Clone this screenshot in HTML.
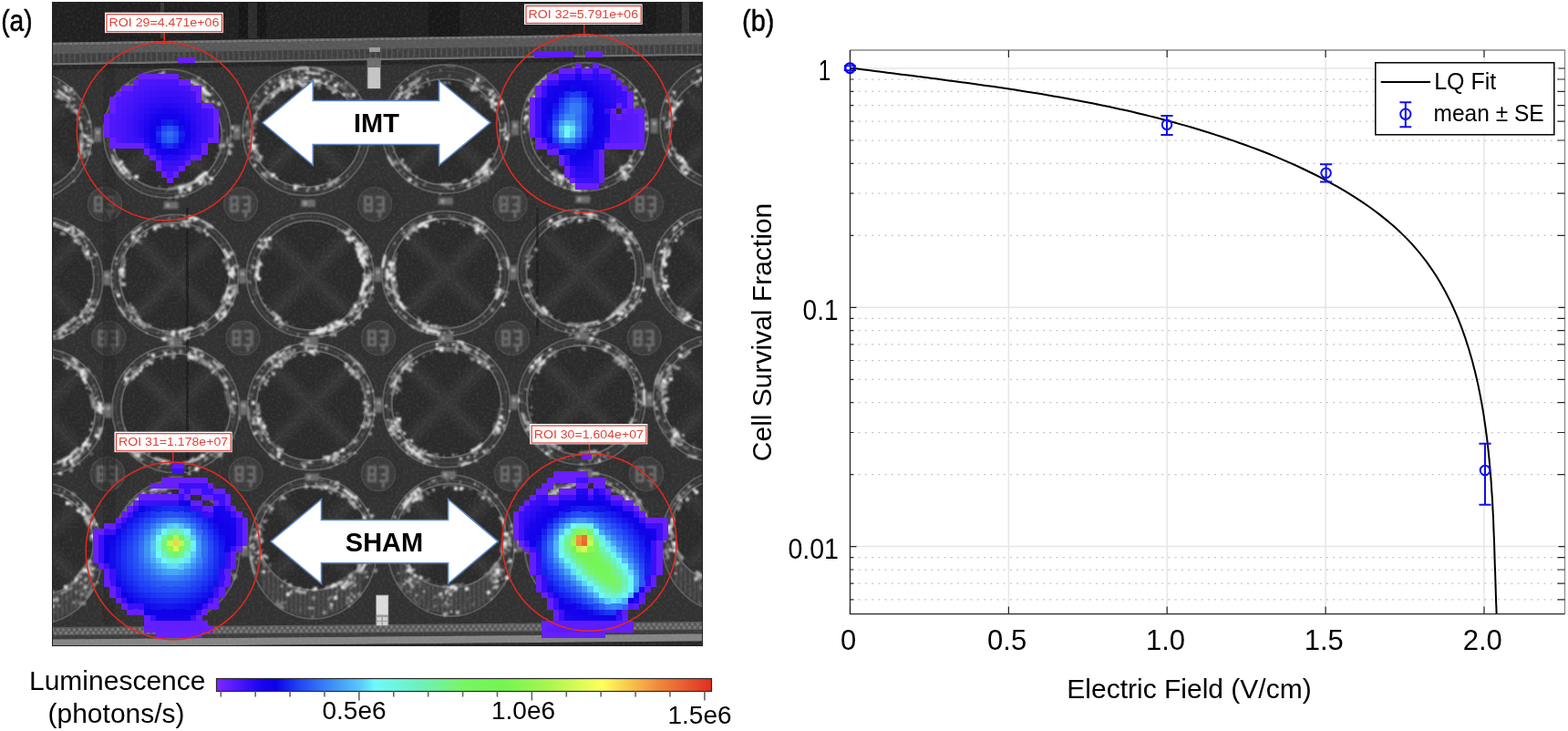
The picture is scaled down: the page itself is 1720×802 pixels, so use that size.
<!DOCTYPE html><html><head><meta charset="utf-8"><title>Figure</title><style>
html,body{margin:0;padding:0;background:#fff;width:1720px;height:802px;overflow:hidden}svg{display:block}
</style></head><body>
<svg width="1720" height="802" viewBox="0 0 1720 802" font-family="'Liberation Sans', Arial, Helvetica, sans-serif">
<defs>
<clipPath id="pc"><rect x="57" y="2" width="714" height="707"/></clipPath>
<filter id="grain" x="0" y="0" width="100%" height="100%" filterUnits="userSpaceOnUse"><feTurbulence type="fractalNoise" baseFrequency="0.35" numOctaves="2" seed="4" result="n"/><feColorMatrix in="n" type="matrix" values="0 0 0 0 1  0 0 0 0 1  0 0 0 0 1  0.9 0 0 0 -0.38" result="g"/></filter>
<filter id="soft" x="-20%" y="-20%" width="140%" height="140%"><feGaussianBlur stdDeviation="4"/></filter>
<filter id="sblur" x="0" y="0" width="1720" height="802" filterUnits="userSpaceOnUse"><feGaussianBlur stdDeviation="0.85"/></filter>
</defs>
<g clip-path="url(#pc)">
<rect x="57" y="2" width="714" height="707" fill="#1f1f1f"/>
<rect x="176" y="2" width="4" height="40" fill="#3a3a3a"/>
<rect x="262" y="2" width="30" height="40" fill="#161616"/>
<rect x="272" y="2" width="10" height="40" fill="#2c2c2c"/>
<rect x="478" y="2" width="18" height="40" fill="#2e2e2e"/>
<rect x="470" y="2" width="34" height="40" fill="#171717"/>
<rect x="748" y="2" width="8" height="40" fill="#333333"/>
<rect x="690" y="2" width="30" height="40" fill="#1a1a1a"/>
<rect x="57" y="62" width="714" height="647" fill="#313131"/>
<g transform="rotate(-0.85 414 53)">
<rect x="20" y="41.5" width="800" height="25" fill="#4d4d4d"/>
<rect x="20" y="41.5" width="800" height="3" fill="#656565"/>
<rect x="20" y="44.5" width="800" height="9.5" fill="#575757"/>
<rect x="20" y="54" width="800" height="10" fill="#3e3e3e"/>
<path d="M22 54v10M28 54v10M34 54v10M40 54v10M46 54v10M52 54v10M58 54v10M64 54v10M70 54v10M76 54v10M82 54v10M88 54v10M94 54v10M100 54v10M106 54v10M112 54v10M118 54v10M124 54v10M130 54v10M136 54v10M142 54v10M148 54v10M154 54v10M160 54v10M166 54v10M172 54v10M178 54v10M184 54v10M190 54v10M196 54v10M202 54v10M208 54v10M214 54v10M220 54v10M226 54v10M232 54v10M238 54v10M244 54v10M250 54v10M256 54v10M262 54v10M268 54v10M274 54v10M280 54v10M286 54v10M292 54v10M298 54v10M304 54v10M310 54v10M316 54v10M322 54v10M328 54v10M334 54v10M340 54v10M346 54v10M352 54v10M358 54v10M364 54v10M370 54v10M376 54v10M382 54v10M388 54v10M394 54v10M400 54v10M406 54v10M412 54v10M418 54v10M424 54v10M430 54v10M436 54v10M442 54v10M448 54v10M454 54v10M460 54v10M466 54v10M472 54v10M478 54v10M484 54v10M490 54v10M496 54v10M502 54v10M508 54v10M514 54v10M520 54v10M526 54v10M532 54v10M538 54v10M544 54v10M550 54v10M556 54v10M562 54v10M568 54v10M574 54v10M580 54v10M586 54v10M592 54v10M598 54v10M604 54v10M610 54v10M616 54v10M622 54v10M628 54v10M634 54v10M640 54v10M646 54v10M652 54v10M658 54v10M664 54v10M670 54v10M676 54v10M682 54v10M688 54v10M694 54v10M700 54v10M706 54v10M712 54v10M718 54v10M724 54v10M730 54v10M736 54v10M742 54v10M748 54v10M754 54v10M760 54v10M766 54v10M772 54v10M778 54v10M784 54v10M790 54v10M796 54v10M802 54v10M808 54v10M814 54v10" stroke="#4d4d4d" stroke-width="2.2"/>
<path d="M22 43h3M28 43h3M34 43h3M40 43h3M46 43h3M52 43h3M58 43h3M64 43h3M70 43h3M76 43h3M82 43h3M88 43h3M94 43h3M100 43h3M106 43h3M112 43h3M118 43h3M124 43h3M130 43h3M136 43h3M142 43h3M148 43h3M154 43h3M160 43h3M166 43h3M172 43h3M178 43h3M184 43h3M190 43h3M196 43h3M202 43h3M208 43h3M214 43h3M220 43h3M226 43h3M232 43h3M238 43h3M244 43h3M250 43h3M256 43h3M262 43h3M268 43h3M274 43h3M280 43h3M286 43h3M292 43h3M298 43h3M304 43h3M310 43h3M316 43h3M322 43h3M328 43h3M334 43h3M340 43h3M346 43h3M352 43h3M358 43h3M364 43h3M370 43h3M376 43h3M382 43h3M388 43h3M394 43h3M400 43h3M406 43h3M412 43h3M418 43h3M424 43h3M430 43h3M436 43h3M442 43h3M448 43h3M454 43h3M460 43h3M466 43h3M472 43h3M478 43h3M484 43h3M490 43h3M496 43h3M502 43h3M508 43h3M514 43h3M520 43h3M526 43h3M532 43h3M538 43h3M544 43h3M550 43h3M556 43h3M562 43h3M568 43h3M574 43h3M580 43h3M586 43h3M592 43h3M598 43h3M604 43h3M610 43h3M616 43h3M622 43h3M628 43h3M634 43h3M640 43h3M646 43h3M652 43h3M658 43h3M664 43h3M670 43h3M676 43h3M682 43h3M688 43h3M694 43h3M700 43h3M706 43h3M712 43h3M718 43h3M724 43h3M730 43h3M736 43h3M742 43h3M748 43h3M754 43h3M760 43h3M766 43h3M772 43h3M778 43h3M784 43h3M790 43h3M796 43h3M802 43h3M808 43h3M814 43h3" stroke="#787878" stroke-width="2"/>
<rect x="20" y="64" width="800" height="2.2" fill="#6e6e6e"/>
<rect x="20" y="66.2" width="800" height="5" fill="#242424"/>
</g>
<g transform="rotate(-0.5 414 695)">
<rect x="20" y="685" width="800" height="40" fill="#585858"/>
<path d="M20 686.5h3v3h-3zM23 690h3v3h-3zM26 686.5h3v3h-3zM29 690h3v3h-3zM32 686.5h3v3h-3zM35 690h3v3h-3zM38 686.5h3v3h-3zM41 690h3v3h-3zM44 686.5h3v3h-3zM47 690h3v3h-3zM50 686.5h3v3h-3zM53 690h3v3h-3zM56 686.5h3v3h-3zM59 690h3v3h-3zM62 686.5h3v3h-3zM65 690h3v3h-3zM68 686.5h3v3h-3zM71 690h3v3h-3zM74 686.5h3v3h-3zM77 690h3v3h-3zM80 686.5h3v3h-3zM83 690h3v3h-3zM86 686.5h3v3h-3zM89 690h3v3h-3zM92 686.5h3v3h-3zM95 690h3v3h-3zM98 686.5h3v3h-3zM101 690h3v3h-3zM104 686.5h3v3h-3zM107 690h3v3h-3zM110 686.5h3v3h-3zM113 690h3v3h-3zM116 686.5h3v3h-3zM119 690h3v3h-3zM122 686.5h3v3h-3zM125 690h3v3h-3zM128 686.5h3v3h-3zM131 690h3v3h-3zM134 686.5h3v3h-3zM137 690h3v3h-3zM140 686.5h3v3h-3zM143 690h3v3h-3zM146 686.5h3v3h-3zM149 690h3v3h-3zM152 686.5h3v3h-3zM155 690h3v3h-3zM158 686.5h3v3h-3zM161 690h3v3h-3zM164 686.5h3v3h-3zM167 690h3v3h-3zM170 686.5h3v3h-3zM173 690h3v3h-3zM176 686.5h3v3h-3zM179 690h3v3h-3zM182 686.5h3v3h-3zM185 690h3v3h-3zM188 686.5h3v3h-3zM191 690h3v3h-3zM194 686.5h3v3h-3zM197 690h3v3h-3zM200 686.5h3v3h-3zM203 690h3v3h-3zM206 686.5h3v3h-3zM209 690h3v3h-3zM212 686.5h3v3h-3zM215 690h3v3h-3zM218 686.5h3v3h-3zM221 690h3v3h-3zM224 686.5h3v3h-3zM227 690h3v3h-3zM230 686.5h3v3h-3zM233 690h3v3h-3zM236 686.5h3v3h-3zM239 690h3v3h-3zM242 686.5h3v3h-3zM245 690h3v3h-3zM248 686.5h3v3h-3zM251 690h3v3h-3zM254 686.5h3v3h-3zM257 690h3v3h-3zM260 686.5h3v3h-3zM263 690h3v3h-3zM266 686.5h3v3h-3zM269 690h3v3h-3zM272 686.5h3v3h-3zM275 690h3v3h-3zM278 686.5h3v3h-3zM281 690h3v3h-3zM284 686.5h3v3h-3zM287 690h3v3h-3zM290 686.5h3v3h-3zM293 690h3v3h-3zM296 686.5h3v3h-3zM299 690h3v3h-3zM302 686.5h3v3h-3zM305 690h3v3h-3zM308 686.5h3v3h-3zM311 690h3v3h-3zM314 686.5h3v3h-3zM317 690h3v3h-3zM320 686.5h3v3h-3zM323 690h3v3h-3zM326 686.5h3v3h-3zM329 690h3v3h-3zM332 686.5h3v3h-3zM335 690h3v3h-3zM338 686.5h3v3h-3zM341 690h3v3h-3zM344 686.5h3v3h-3zM347 690h3v3h-3zM350 686.5h3v3h-3zM353 690h3v3h-3zM356 686.5h3v3h-3zM359 690h3v3h-3zM362 686.5h3v3h-3zM365 690h3v3h-3zM368 686.5h3v3h-3zM371 690h3v3h-3zM374 686.5h3v3h-3zM377 690h3v3h-3zM380 686.5h3v3h-3zM383 690h3v3h-3zM386 686.5h3v3h-3zM389 690h3v3h-3zM392 686.5h3v3h-3zM395 690h3v3h-3zM398 686.5h3v3h-3zM401 690h3v3h-3zM404 686.5h3v3h-3zM407 690h3v3h-3zM410 686.5h3v3h-3zM413 690h3v3h-3zM416 686.5h3v3h-3zM419 690h3v3h-3zM422 686.5h3v3h-3zM425 690h3v3h-3zM428 686.5h3v3h-3zM431 690h3v3h-3zM434 686.5h3v3h-3zM437 690h3v3h-3zM440 686.5h3v3h-3zM443 690h3v3h-3zM446 686.5h3v3h-3zM449 690h3v3h-3zM452 686.5h3v3h-3zM455 690h3v3h-3zM458 686.5h3v3h-3zM461 690h3v3h-3zM464 686.5h3v3h-3zM467 690h3v3h-3zM470 686.5h3v3h-3zM473 690h3v3h-3zM476 686.5h3v3h-3zM479 690h3v3h-3zM482 686.5h3v3h-3zM485 690h3v3h-3zM488 686.5h3v3h-3zM491 690h3v3h-3zM494 686.5h3v3h-3zM497 690h3v3h-3zM500 686.5h3v3h-3zM503 690h3v3h-3zM506 686.5h3v3h-3zM509 690h3v3h-3zM512 686.5h3v3h-3zM515 690h3v3h-3zM518 686.5h3v3h-3zM521 690h3v3h-3zM524 686.5h3v3h-3zM527 690h3v3h-3zM530 686.5h3v3h-3zM533 690h3v3h-3zM536 686.5h3v3h-3zM539 690h3v3h-3zM542 686.5h3v3h-3zM545 690h3v3h-3zM548 686.5h3v3h-3zM551 690h3v3h-3zM554 686.5h3v3h-3zM557 690h3v3h-3zM560 686.5h3v3h-3zM563 690h3v3h-3zM566 686.5h3v3h-3zM569 690h3v3h-3zM572 686.5h3v3h-3zM575 690h3v3h-3zM578 686.5h3v3h-3zM581 690h3v3h-3zM584 686.5h3v3h-3zM587 690h3v3h-3zM590 686.5h3v3h-3zM593 690h3v3h-3zM596 686.5h3v3h-3zM599 690h3v3h-3zM602 686.5h3v3h-3zM605 690h3v3h-3zM608 686.5h3v3h-3zM611 690h3v3h-3zM614 686.5h3v3h-3zM617 690h3v3h-3zM620 686.5h3v3h-3zM623 690h3v3h-3zM626 686.5h3v3h-3zM629 690h3v3h-3zM632 686.5h3v3h-3zM635 690h3v3h-3zM638 686.5h3v3h-3zM641 690h3v3h-3zM644 686.5h3v3h-3zM647 690h3v3h-3zM650 686.5h3v3h-3zM653 690h3v3h-3zM656 686.5h3v3h-3zM659 690h3v3h-3zM662 686.5h3v3h-3zM665 690h3v3h-3zM668 686.5h3v3h-3zM671 690h3v3h-3zM674 686.5h3v3h-3zM677 690h3v3h-3zM680 686.5h3v3h-3zM683 690h3v3h-3zM686 686.5h3v3h-3zM689 690h3v3h-3zM692 686.5h3v3h-3zM695 690h3v3h-3zM698 686.5h3v3h-3zM701 690h3v3h-3zM704 686.5h3v3h-3zM707 690h3v3h-3zM710 686.5h3v3h-3zM713 690h3v3h-3zM716 686.5h3v3h-3zM719 690h3v3h-3zM722 686.5h3v3h-3zM725 690h3v3h-3zM728 686.5h3v3h-3zM731 690h3v3h-3zM734 686.5h3v3h-3zM737 690h3v3h-3zM740 686.5h3v3h-3zM743 690h3v3h-3zM746 686.5h3v3h-3zM749 690h3v3h-3zM752 686.5h3v3h-3zM755 690h3v3h-3zM758 686.5h3v3h-3zM761 690h3v3h-3zM764 686.5h3v3h-3zM767 690h3v3h-3zM770 686.5h3v3h-3zM773 690h3v3h-3zM776 686.5h3v3h-3zM779 690h3v3h-3zM782 686.5h3v3h-3zM785 690h3v3h-3zM788 686.5h3v3h-3zM791 690h3v3h-3zM794 686.5h3v3h-3zM797 690h3v3h-3zM800 686.5h3v3h-3zM803 690h3v3h-3zM806 686.5h3v3h-3zM809 690h3v3h-3zM812 686.5h3v3h-3zM815 690h3v3h-3zM818 686.5h3v3h-3zM821 690h3v3h-3z" fill="#757575"/>
<rect x="20" y="694" width="800" height="4.5" fill="#3c3c3c"/>
<rect x="20" y="698.5" width="800" height="8" fill="#848484"/>
<path d="M22 700h3v4h-3zM28 700h3v4h-3zM34 700h3v4h-3zM40 700h3v4h-3zM46 700h3v4h-3zM52 700h3v4h-3zM58 700h3v4h-3zM64 700h3v4h-3zM70 700h3v4h-3zM76 700h3v4h-3zM82 700h3v4h-3zM88 700h3v4h-3zM94 700h3v4h-3zM100 700h3v4h-3zM106 700h3v4h-3zM112 700h3v4h-3zM118 700h3v4h-3zM124 700h3v4h-3zM130 700h3v4h-3zM136 700h3v4h-3zM142 700h3v4h-3zM148 700h3v4h-3zM154 700h3v4h-3zM160 700h3v4h-3zM166 700h3v4h-3zM172 700h3v4h-3zM178 700h3v4h-3zM184 700h3v4h-3zM190 700h3v4h-3zM196 700h3v4h-3zM202 700h3v4h-3zM208 700h3v4h-3zM214 700h3v4h-3zM220 700h3v4h-3zM226 700h3v4h-3zM232 700h3v4h-3zM238 700h3v4h-3zM244 700h3v4h-3zM250 700h3v4h-3zM256 700h3v4h-3zM262 700h3v4h-3zM268 700h3v4h-3zM274 700h3v4h-3zM280 700h3v4h-3zM286 700h3v4h-3zM292 700h3v4h-3zM298 700h3v4h-3zM304 700h3v4h-3zM310 700h3v4h-3zM316 700h3v4h-3zM322 700h3v4h-3zM328 700h3v4h-3zM334 700h3v4h-3zM340 700h3v4h-3zM346 700h3v4h-3zM352 700h3v4h-3zM358 700h3v4h-3zM364 700h3v4h-3zM370 700h3v4h-3zM376 700h3v4h-3zM382 700h3v4h-3zM388 700h3v4h-3zM394 700h3v4h-3zM400 700h3v4h-3zM406 700h3v4h-3zM412 700h3v4h-3zM418 700h3v4h-3zM424 700h3v4h-3zM430 700h3v4h-3zM436 700h3v4h-3zM442 700h3v4h-3zM448 700h3v4h-3zM454 700h3v4h-3zM460 700h3v4h-3zM466 700h3v4h-3zM472 700h3v4h-3zM478 700h3v4h-3zM484 700h3v4h-3zM490 700h3v4h-3zM496 700h3v4h-3zM502 700h3v4h-3zM508 700h3v4h-3zM514 700h3v4h-3zM520 700h3v4h-3zM526 700h3v4h-3zM532 700h3v4h-3zM538 700h3v4h-3zM544 700h3v4h-3zM550 700h3v4h-3zM556 700h3v4h-3zM562 700h3v4h-3zM568 700h3v4h-3zM574 700h3v4h-3zM580 700h3v4h-3zM586 700h3v4h-3zM592 700h3v4h-3zM598 700h3v4h-3zM604 700h3v4h-3zM610 700h3v4h-3zM616 700h3v4h-3zM622 700h3v4h-3zM628 700h3v4h-3zM634 700h3v4h-3zM640 700h3v4h-3zM646 700h3v4h-3zM652 700h3v4h-3zM658 700h3v4h-3zM664 700h3v4h-3zM670 700h3v4h-3zM676 700h3v4h-3zM682 700h3v4h-3zM688 700h3v4h-3zM694 700h3v4h-3zM700 700h3v4h-3zM706 700h3v4h-3zM712 700h3v4h-3zM718 700h3v4h-3zM724 700h3v4h-3zM730 700h3v4h-3zM736 700h3v4h-3zM742 700h3v4h-3zM748 700h3v4h-3zM754 700h3v4h-3zM760 700h3v4h-3zM766 700h3v4h-3zM772 700h3v4h-3zM778 700h3v4h-3zM784 700h3v4h-3zM790 700h3v4h-3zM796 700h3v4h-3zM802 700h3v4h-3zM808 700h3v4h-3zM814 700h3v4h-3z" fill="#858585"/>
<rect x="20" y="706.5" width="800" height="10" fill="#262626"/>
</g>
<circle cx="115.0" cy="224.0" r="27" fill="#2f2f2f"/>
<circle cx="115.0" cy="224.0" r="18.5" fill="#3b3b3b" stroke="#474747" stroke-width="1.6"/>
<path d="M103.0 215.0h3v18h-3zM103.0 215.0h9v3h-9zM103.0 223.0h9v3h-9zM103.0 230.0h9v3h-9zM110.0 215.0h3v18h-3zM116.0 215.0h10v3h-10zM118.0 223.0h8v3h-8zM116.0 230.0h10v3h-10zM123.0 215.0h3v18h-3zM119.0 233.0h3v6h-3z" fill="#6a6a6a" filter="url(#sblur)"/>
<circle cx="264.0" cy="224.0" r="27" fill="#2f2f2f"/>
<circle cx="264.0" cy="224.0" r="18.5" fill="#3b3b3b" stroke="#474747" stroke-width="1.6"/>
<path d="M252.0 215.0h3v18h-3zM252.0 215.0h9v3h-9zM252.0 223.0h9v3h-9zM252.0 230.0h9v3h-9zM259.0 215.0h3v18h-3zM265.0 215.0h10v3h-10zM267.0 223.0h8v3h-8zM265.0 230.0h10v3h-10zM272.0 215.0h3v18h-3zM268.0 233.0h3v6h-3z" fill="#6a6a6a" filter="url(#sblur)"/>
<circle cx="411.0" cy="224.0" r="27" fill="#2f2f2f"/>
<circle cx="411.0" cy="224.0" r="18.5" fill="#3b3b3b" stroke="#474747" stroke-width="1.6"/>
<path d="M399.0 215.0h3v18h-3zM399.0 215.0h9v3h-9zM399.0 223.0h9v3h-9zM399.0 230.0h9v3h-9zM406.0 215.0h3v18h-3zM412.0 215.0h10v3h-10zM414.0 223.0h8v3h-8zM412.0 230.0h10v3h-10zM419.0 215.0h3v18h-3zM415.0 233.0h3v6h-3z" fill="#6a6a6a" filter="url(#sblur)"/>
<circle cx="559.6" cy="224.0" r="27" fill="#2f2f2f"/>
<circle cx="559.6" cy="224.0" r="18.5" fill="#3b3b3b" stroke="#474747" stroke-width="1.6"/>
<path d="M547.6 215.0h3v18h-3zM547.6 215.0h9v3h-9zM547.6 223.0h9v3h-9zM547.6 230.0h9v3h-9zM554.6 215.0h3v18h-3zM560.6 215.0h10v3h-10zM562.6 223.0h8v3h-8zM560.6 230.0h10v3h-10zM567.6 215.0h3v18h-3zM563.6 233.0h3v6h-3z" fill="#6a6a6a" filter="url(#sblur)"/>
<circle cx="709.0" cy="224.0" r="27" fill="#2f2f2f"/>
<circle cx="709.0" cy="224.0" r="18.5" fill="#3b3b3b" stroke="#474747" stroke-width="1.6"/>
<path d="M697.0 215.0h3v18h-3zM697.0 215.0h9v3h-9zM697.0 223.0h9v3h-9zM697.0 230.0h9v3h-9zM704.0 215.0h3v18h-3zM710.0 215.0h10v3h-10zM712.0 223.0h8v3h-8zM710.0 230.0h10v3h-10zM717.0 215.0h3v18h-3zM713.0 233.0h3v6h-3z" fill="#6a6a6a" filter="url(#sblur)"/>
<circle cx="119.3" cy="371.0" r="27" fill="#2f2f2f"/>
<circle cx="119.3" cy="371.0" r="18.5" fill="#3b3b3b" stroke="#474747" stroke-width="1.6"/>
<path d="M107.3 362.0h3v18h-3zM107.3 362.0h9v3h-9zM107.3 370.0h9v3h-9zM107.3 377.0h9v3h-9zM114.3 362.0h3v18h-3zM120.3 362.0h10v3h-10zM122.3 370.0h8v3h-8zM120.3 377.0h10v3h-10zM127.3 362.0h3v18h-3zM123.3 380.0h3v6h-3z" fill="#6a6a6a" filter="url(#sblur)"/>
<circle cx="266.5" cy="371.0" r="27" fill="#2f2f2f"/>
<circle cx="266.5" cy="371.0" r="18.5" fill="#3b3b3b" stroke="#474747" stroke-width="1.6"/>
<path d="M254.5 362.0h3v18h-3zM254.5 362.0h9v3h-9zM254.5 370.0h9v3h-9zM254.5 377.0h9v3h-9zM261.5 362.0h3v18h-3zM267.5 362.0h10v3h-10zM269.5 370.0h8v3h-8zM267.5 377.0h10v3h-10zM274.5 362.0h3v18h-3zM270.5 380.0h3v6h-3z" fill="#6a6a6a" filter="url(#sblur)"/>
<circle cx="415.0" cy="371.0" r="27" fill="#2f2f2f"/>
<circle cx="415.0" cy="371.0" r="18.5" fill="#3b3b3b" stroke="#474747" stroke-width="1.6"/>
<path d="M403.0 362.0h3v18h-3zM403.0 362.0h9v3h-9zM403.0 370.0h9v3h-9zM403.0 377.0h9v3h-9zM410.0 362.0h3v18h-3zM416.0 362.0h10v3h-10zM418.0 370.0h8v3h-8zM416.0 377.0h10v3h-10zM423.0 362.0h3v18h-3zM419.0 380.0h3v6h-3z" fill="#6a6a6a" filter="url(#sblur)"/>
<circle cx="562.0" cy="371.0" r="27" fill="#2f2f2f"/>
<circle cx="562.0" cy="371.0" r="18.5" fill="#3b3b3b" stroke="#474747" stroke-width="1.6"/>
<path d="M550.0 362.0h3v18h-3zM550.0 362.0h9v3h-9zM550.0 370.0h9v3h-9zM550.0 377.0h9v3h-9zM557.0 362.0h3v18h-3zM563.0 362.0h10v3h-10zM565.0 370.0h8v3h-8zM563.0 377.0h10v3h-10zM570.0 362.0h3v18h-3zM566.0 380.0h3v6h-3z" fill="#6a6a6a" filter="url(#sblur)"/>
<circle cx="706.7" cy="371.0" r="27" fill="#2f2f2f"/>
<circle cx="706.7" cy="371.0" r="18.5" fill="#3b3b3b" stroke="#474747" stroke-width="1.6"/>
<path d="M694.7 362.0h3v18h-3zM694.7 362.0h9v3h-9zM694.7 370.0h9v3h-9zM694.7 377.0h9v3h-9zM701.7 362.0h3v18h-3zM707.7 362.0h10v3h-10zM709.7 370.0h8v3h-8zM707.7 377.0h10v3h-10zM714.7 362.0h3v18h-3zM710.7 380.0h3v6h-3z" fill="#6a6a6a" filter="url(#sblur)"/>
<circle cx="118.0" cy="520.0" r="27" fill="#2f2f2f"/>
<circle cx="118.0" cy="520.0" r="18.5" fill="#3b3b3b" stroke="#474747" stroke-width="1.6"/>
<path d="M106.0 511.0h3v18h-3zM106.0 511.0h9v3h-9zM106.0 519.0h9v3h-9zM106.0 526.0h9v3h-9zM113.0 511.0h3v18h-3zM119.0 511.0h10v3h-10zM121.0 519.0h8v3h-8zM119.0 526.0h10v3h-10zM126.0 511.0h3v18h-3zM122.0 529.0h3v6h-3z" fill="#6a6a6a" filter="url(#sblur)"/>
<circle cx="269.5" cy="520.0" r="27" fill="#2f2f2f"/>
<circle cx="269.5" cy="520.0" r="18.5" fill="#3b3b3b" stroke="#474747" stroke-width="1.6"/>
<path d="M257.5 511.0h3v18h-3zM257.5 511.0h9v3h-9zM257.5 519.0h9v3h-9zM257.5 526.0h9v3h-9zM264.5 511.0h3v18h-3zM270.5 511.0h10v3h-10zM272.5 519.0h8v3h-8zM270.5 526.0h10v3h-10zM277.5 511.0h3v18h-3zM273.5 529.0h3v6h-3z" fill="#6a6a6a" filter="url(#sblur)"/>
<circle cx="415.0" cy="520.0" r="27" fill="#2f2f2f"/>
<circle cx="415.0" cy="520.0" r="18.5" fill="#3b3b3b" stroke="#474747" stroke-width="1.6"/>
<path d="M403.0 511.0h3v18h-3zM403.0 511.0h9v3h-9zM403.0 519.0h9v3h-9zM403.0 526.0h9v3h-9zM410.0 511.0h3v18h-3zM416.0 511.0h10v3h-10zM418.0 519.0h8v3h-8zM416.0 526.0h10v3h-10zM423.0 511.0h3v18h-3zM419.0 529.0h3v6h-3z" fill="#6a6a6a" filter="url(#sblur)"/>
<circle cx="561.0" cy="520.0" r="27" fill="#2f2f2f"/>
<circle cx="561.0" cy="520.0" r="18.5" fill="#3b3b3b" stroke="#474747" stroke-width="1.6"/>
<path d="M549.0 511.0h3v18h-3zM549.0 511.0h9v3h-9zM549.0 519.0h9v3h-9zM549.0 526.0h9v3h-9zM556.0 511.0h3v18h-3zM562.0 511.0h10v3h-10zM564.0 519.0h8v3h-8zM562.0 526.0h10v3h-10zM569.0 511.0h3v18h-3zM565.0 529.0h3v6h-3z" fill="#6a6a6a" filter="url(#sblur)"/>
<circle cx="709.0" cy="520.0" r="27" fill="#2f2f2f"/>
<circle cx="709.0" cy="520.0" r="18.5" fill="#3b3b3b" stroke="#474747" stroke-width="1.6"/>
<path d="M697.0 511.0h3v18h-3zM697.0 511.0h9v3h-9zM697.0 519.0h9v3h-9zM697.0 526.0h9v3h-9zM704.0 511.0h3v18h-3zM710.0 511.0h10v3h-10zM712.0 519.0h8v3h-8zM710.0 526.0h10v3h-10zM717.0 511.0h3v18h-3zM713.0 529.0h3v6h-3z" fill="#6a6a6a" filter="url(#sblur)"/>
<rect x="113" y="70" width="14" height="615" fill="#252525" opacity="0.45"/>
<ellipse cx="30.9" cy="148.9" rx="70.5" ry="71.2" fill="#363636"/>
<ellipse cx="30.9" cy="151.9" rx="59.5" ry="57.7" fill="#2a2a2a"/>
<path d="M-9.1 113.1L70.9 190.7M70.9 113.1L-9.1 190.7" stroke="#363636" stroke-width="15" filter="url(#soft)"/>
<ellipse cx="30.9" cy="148.9" rx="69.8" ry="70.5" fill="none" stroke="#5a5a5a" stroke-width="2"/>
<ellipse cx="30.9" cy="150.1" rx="65.5" ry="64.8" fill="none" stroke="#424242" stroke-width="1.4"/>
<ellipse cx="30.9" cy="151.9" rx="60" ry="58.2" fill="none" stroke="#5e5e5e" stroke-width="2.2"/>
<path d="M-9.1 113.1L70.9 190.7M70.9 113.1L-9.1 190.7" stroke="#383838" stroke-width="2.5"/>
<ellipse cx="183.5" cy="146.5" rx="70.5" ry="71.2" fill="#363636"/>
<ellipse cx="183.5" cy="149.5" rx="59.5" ry="57.7" fill="#2a2a2a"/>
<path d="M143.5 110.7L223.5 188.3M223.5 110.7L143.5 188.3" stroke="#363636" stroke-width="15" filter="url(#soft)"/>
<ellipse cx="183.5" cy="146.5" rx="69.8" ry="70.5" fill="none" stroke="#5a5a5a" stroke-width="2"/>
<ellipse cx="183.5" cy="147.7" rx="65.5" ry="64.8" fill="none" stroke="#424242" stroke-width="1.4"/>
<ellipse cx="183.5" cy="149.5" rx="60" ry="58.2" fill="none" stroke="#5e5e5e" stroke-width="2.2"/>
<path d="M143.5 110.7L223.5 188.3M223.5 110.7L143.5 188.3" stroke="#383838" stroke-width="2.5"/>
<ellipse cx="336.1" cy="144.1" rx="70.5" ry="71.2" fill="#363636"/>
<ellipse cx="336.1" cy="147.1" rx="59.5" ry="57.7" fill="#2a2a2a"/>
<path d="M296.1 108.3L376.1 185.9M376.1 108.3L296.1 185.9" stroke="#363636" stroke-width="15" filter="url(#soft)"/>
<ellipse cx="336.1" cy="144.1" rx="69.8" ry="70.5" fill="none" stroke="#5a5a5a" stroke-width="2"/>
<ellipse cx="336.1" cy="145.3" rx="65.5" ry="64.8" fill="none" stroke="#424242" stroke-width="1.4"/>
<ellipse cx="336.1" cy="147.1" rx="60" ry="58.2" fill="none" stroke="#5e5e5e" stroke-width="2.2"/>
<path d="M296.1 108.3L376.1 185.9M376.1 108.3L296.1 185.9" stroke="#383838" stroke-width="2.5"/>
<ellipse cx="488.7" cy="141.7" rx="70.5" ry="71.2" fill="#363636"/>
<ellipse cx="488.7" cy="144.7" rx="59.5" ry="57.7" fill="#2a2a2a"/>
<path d="M448.7 105.9L528.7 183.5M528.7 105.9L448.7 183.5" stroke="#363636" stroke-width="15" filter="url(#soft)"/>
<ellipse cx="488.7" cy="141.7" rx="69.8" ry="70.5" fill="none" stroke="#5a5a5a" stroke-width="2"/>
<ellipse cx="488.7" cy="142.9" rx="65.5" ry="64.8" fill="none" stroke="#424242" stroke-width="1.4"/>
<ellipse cx="488.7" cy="144.7" rx="60" ry="58.2" fill="none" stroke="#5e5e5e" stroke-width="2.2"/>
<path d="M448.7 105.9L528.7 183.5M528.7 105.9L448.7 183.5" stroke="#383838" stroke-width="2.5"/>
<ellipse cx="641.3" cy="139.3" rx="70.5" ry="71.2" fill="#363636"/>
<ellipse cx="641.3" cy="142.3" rx="59.5" ry="57.7" fill="#2a2a2a"/>
<path d="M601.3 103.5L681.3 181.1M681.3 103.5L601.3 181.1" stroke="#363636" stroke-width="15" filter="url(#soft)"/>
<ellipse cx="641.3" cy="139.3" rx="69.8" ry="70.5" fill="none" stroke="#5a5a5a" stroke-width="2"/>
<ellipse cx="641.3" cy="140.5" rx="65.5" ry="64.8" fill="none" stroke="#424242" stroke-width="1.4"/>
<ellipse cx="641.3" cy="142.3" rx="60" ry="58.2" fill="none" stroke="#5e5e5e" stroke-width="2.2"/>
<path d="M601.3 103.5L681.3 181.1M681.3 103.5L601.3 181.1" stroke="#383838" stroke-width="2.5"/>
<ellipse cx="793.9" cy="136.9" rx="70.5" ry="71.2" fill="#363636"/>
<ellipse cx="793.9" cy="139.9" rx="59.5" ry="57.7" fill="#2a2a2a"/>
<path d="M753.9 101.1L833.9 178.7M833.9 101.1L753.9 178.7" stroke="#363636" stroke-width="15" filter="url(#soft)"/>
<ellipse cx="793.9" cy="136.9" rx="69.8" ry="70.5" fill="none" stroke="#5a5a5a" stroke-width="2"/>
<ellipse cx="793.9" cy="138.1" rx="65.5" ry="64.8" fill="none" stroke="#424242" stroke-width="1.4"/>
<ellipse cx="793.9" cy="139.9" rx="60" ry="58.2" fill="none" stroke="#5e5e5e" stroke-width="2.2"/>
<path d="M753.9 101.1L833.9 178.7M833.9 101.1L753.9 178.7" stroke="#383838" stroke-width="2.5"/>
<ellipse cx="43.0" cy="306.0" rx="70.5" ry="69.1" fill="#363636"/>
<ellipse cx="43.0" cy="306.0" rx="59.5" ry="59.5" fill="#2a2a2a"/>
<path d="M3.0 266.0L83.0 346.0M83.0 266.0L3.0 346.0" stroke="#363636" stroke-width="15" filter="url(#soft)"/>
<ellipse cx="43.0" cy="306.0" rx="69.8" ry="68.4" fill="none" stroke="#5a5a5a" stroke-width="2"/>
<ellipse cx="43.0" cy="306.0" rx="65.5" ry="64.8" fill="none" stroke="#424242" stroke-width="1.4"/>
<ellipse cx="43.0" cy="306.0" rx="60" ry="60.0" fill="none" stroke="#5e5e5e" stroke-width="2.2"/>
<path d="M3.0 266.0L83.0 346.0M83.0 266.0L3.0 346.0" stroke="#383838" stroke-width="2.5"/>
<ellipse cx="191.6" cy="304.0" rx="70.5" ry="69.1" fill="#363636"/>
<ellipse cx="191.6" cy="304.0" rx="59.5" ry="59.5" fill="#2a2a2a"/>
<path d="M151.6 264.0L231.6 344.0M231.6 264.0L151.6 344.0" stroke="#363636" stroke-width="15" filter="url(#soft)"/>
<ellipse cx="191.6" cy="304.0" rx="69.8" ry="68.4" fill="none" stroke="#5a5a5a" stroke-width="2"/>
<ellipse cx="191.6" cy="304.0" rx="65.5" ry="64.8" fill="none" stroke="#424242" stroke-width="1.4"/>
<ellipse cx="191.6" cy="304.0" rx="60" ry="60.0" fill="none" stroke="#5e5e5e" stroke-width="2.2"/>
<path d="M151.6 264.0L231.6 344.0M231.6 264.0L151.6 344.0" stroke="#383838" stroke-width="2.5"/>
<ellipse cx="340.2" cy="302.0" rx="70.5" ry="69.1" fill="#363636"/>
<ellipse cx="340.2" cy="302.0" rx="59.5" ry="59.5" fill="#2a2a2a"/>
<path d="M300.2 262.0L380.2 342.0M380.2 262.0L300.2 342.0" stroke="#363636" stroke-width="15" filter="url(#soft)"/>
<ellipse cx="340.2" cy="302.0" rx="69.8" ry="68.4" fill="none" stroke="#5a5a5a" stroke-width="2"/>
<ellipse cx="340.2" cy="302.0" rx="65.5" ry="64.8" fill="none" stroke="#424242" stroke-width="1.4"/>
<ellipse cx="340.2" cy="302.0" rx="60" ry="60.0" fill="none" stroke="#5e5e5e" stroke-width="2.2"/>
<path d="M300.2 262.0L380.2 342.0M380.2 262.0L300.2 342.0" stroke="#383838" stroke-width="2.5"/>
<ellipse cx="488.8" cy="300.0" rx="70.5" ry="69.1" fill="#363636"/>
<ellipse cx="488.8" cy="300.0" rx="59.5" ry="59.5" fill="#2a2a2a"/>
<path d="M448.8 260.0L528.8 340.0M528.8 260.0L448.8 340.0" stroke="#363636" stroke-width="15" filter="url(#soft)"/>
<ellipse cx="488.8" cy="300.0" rx="69.8" ry="68.4" fill="none" stroke="#5a5a5a" stroke-width="2"/>
<ellipse cx="488.8" cy="300.0" rx="65.5" ry="64.8" fill="none" stroke="#424242" stroke-width="1.4"/>
<ellipse cx="488.8" cy="300.0" rx="60" ry="60.0" fill="none" stroke="#5e5e5e" stroke-width="2.2"/>
<path d="M448.8 260.0L528.8 340.0M528.8 260.0L448.8 340.0" stroke="#383838" stroke-width="2.5"/>
<ellipse cx="637.4" cy="298.0" rx="70.5" ry="69.1" fill="#363636"/>
<ellipse cx="637.4" cy="298.0" rx="59.5" ry="59.5" fill="#2a2a2a"/>
<path d="M597.4 258.0L677.4 338.0M677.4 258.0L597.4 338.0" stroke="#363636" stroke-width="15" filter="url(#soft)"/>
<ellipse cx="637.4" cy="298.0" rx="69.8" ry="68.4" fill="none" stroke="#5a5a5a" stroke-width="2"/>
<ellipse cx="637.4" cy="298.0" rx="65.5" ry="64.8" fill="none" stroke="#424242" stroke-width="1.4"/>
<ellipse cx="637.4" cy="298.0" rx="60" ry="60.0" fill="none" stroke="#5e5e5e" stroke-width="2.2"/>
<path d="M597.4 258.0L677.4 338.0M677.4 258.0L597.4 338.0" stroke="#383838" stroke-width="2.5"/>
<ellipse cx="786.0" cy="296.0" rx="70.5" ry="69.1" fill="#363636"/>
<ellipse cx="786.0" cy="296.0" rx="59.5" ry="59.5" fill="#2a2a2a"/>
<path d="M746.0 256.0L826.0 336.0M826.0 256.0L746.0 336.0" stroke="#363636" stroke-width="15" filter="url(#soft)"/>
<ellipse cx="786.0" cy="296.0" rx="69.8" ry="68.4" fill="none" stroke="#5a5a5a" stroke-width="2"/>
<ellipse cx="786.0" cy="296.0" rx="65.5" ry="64.8" fill="none" stroke="#424242" stroke-width="1.4"/>
<ellipse cx="786.0" cy="296.0" rx="60" ry="60.0" fill="none" stroke="#5e5e5e" stroke-width="2.2"/>
<path d="M746.0 256.0L826.0 336.0M826.0 256.0L746.0 336.0" stroke="#383838" stroke-width="2.5"/>
<ellipse cx="44.5" cy="452.0" rx="70.5" ry="70.5" fill="#363636"/>
<ellipse cx="44.5" cy="451.0" rx="59.5" ry="59.5" fill="#2a2a2a"/>
<path d="M4.5 411.0L84.5 491.0M84.5 411.0L4.5 491.0" stroke="#363636" stroke-width="15" filter="url(#soft)"/>
<ellipse cx="44.5" cy="452.0" rx="69.8" ry="69.8" fill="none" stroke="#5a5a5a" stroke-width="2"/>
<ellipse cx="44.5" cy="451.6" rx="65.5" ry="65.5" fill="none" stroke="#424242" stroke-width="1.4"/>
<ellipse cx="44.5" cy="451.0" rx="60" ry="60.0" fill="none" stroke="#5e5e5e" stroke-width="2.2"/>
<path d="M4.5 411.0L84.5 491.0M84.5 411.0L4.5 491.0" stroke="#383838" stroke-width="2.5"/>
<ellipse cx="192.9" cy="449.0" rx="70.5" ry="70.5" fill="#363636"/>
<ellipse cx="192.9" cy="448.0" rx="59.5" ry="59.5" fill="#2a2a2a"/>
<path d="M152.9 408.0L232.9 488.0M232.9 408.0L152.9 488.0" stroke="#363636" stroke-width="15" filter="url(#soft)"/>
<ellipse cx="192.9" cy="449.0" rx="69.8" ry="69.8" fill="none" stroke="#5a5a5a" stroke-width="2"/>
<ellipse cx="192.9" cy="448.6" rx="65.5" ry="65.5" fill="none" stroke="#424242" stroke-width="1.4"/>
<ellipse cx="192.9" cy="448.0" rx="60" ry="60.0" fill="none" stroke="#5e5e5e" stroke-width="2.2"/>
<path d="M152.9 408.0L232.9 488.0M232.9 408.0L152.9 488.0" stroke="#383838" stroke-width="2.5"/>
<ellipse cx="341.3" cy="446.0" rx="70.5" ry="70.5" fill="#363636"/>
<ellipse cx="341.3" cy="445.0" rx="59.5" ry="59.5" fill="#2a2a2a"/>
<path d="M301.3 405.0L381.3 485.0M381.3 405.0L301.3 485.0" stroke="#363636" stroke-width="15" filter="url(#soft)"/>
<ellipse cx="341.3" cy="446.0" rx="69.8" ry="69.8" fill="none" stroke="#5a5a5a" stroke-width="2"/>
<ellipse cx="341.3" cy="445.6" rx="65.5" ry="65.5" fill="none" stroke="#424242" stroke-width="1.4"/>
<ellipse cx="341.3" cy="445.0" rx="60" ry="60.0" fill="none" stroke="#5e5e5e" stroke-width="2.2"/>
<path d="M301.3 405.0L381.3 485.0M381.3 405.0L301.3 485.0" stroke="#383838" stroke-width="2.5"/>
<ellipse cx="489.7" cy="443.0" rx="70.5" ry="70.5" fill="#363636"/>
<ellipse cx="489.7" cy="442.0" rx="59.5" ry="59.5" fill="#2a2a2a"/>
<path d="M449.7 402.0L529.7 482.0M529.7 402.0L449.7 482.0" stroke="#363636" stroke-width="15" filter="url(#soft)"/>
<ellipse cx="489.7" cy="443.0" rx="69.8" ry="69.8" fill="none" stroke="#5a5a5a" stroke-width="2"/>
<ellipse cx="489.7" cy="442.6" rx="65.5" ry="65.5" fill="none" stroke="#424242" stroke-width="1.4"/>
<ellipse cx="489.7" cy="442.0" rx="60" ry="60.0" fill="none" stroke="#5e5e5e" stroke-width="2.2"/>
<path d="M449.7 402.0L529.7 482.0M529.7 402.0L449.7 482.0" stroke="#383838" stroke-width="2.5"/>
<ellipse cx="638.1" cy="440.0" rx="70.5" ry="70.5" fill="#363636"/>
<ellipse cx="638.1" cy="439.0" rx="59.5" ry="59.5" fill="#2a2a2a"/>
<path d="M598.1 399.0L678.1 479.0M678.1 399.0L598.1 479.0" stroke="#363636" stroke-width="15" filter="url(#soft)"/>
<ellipse cx="638.1" cy="440.0" rx="69.8" ry="69.8" fill="none" stroke="#5a5a5a" stroke-width="2"/>
<ellipse cx="638.1" cy="439.6" rx="65.5" ry="65.5" fill="none" stroke="#424242" stroke-width="1.4"/>
<ellipse cx="638.1" cy="439.0" rx="60" ry="60.0" fill="none" stroke="#5e5e5e" stroke-width="2.2"/>
<path d="M598.1 399.0L678.1 479.0M678.1 399.0L598.1 479.0" stroke="#383838" stroke-width="2.5"/>
<ellipse cx="786.5" cy="437.0" rx="70.5" ry="70.5" fill="#363636"/>
<ellipse cx="786.5" cy="436.0" rx="59.5" ry="59.5" fill="#2a2a2a"/>
<path d="M746.5 396.0L826.5 476.0M826.5 396.0L746.5 476.0" stroke="#363636" stroke-width="15" filter="url(#soft)"/>
<ellipse cx="786.5" cy="437.0" rx="69.8" ry="69.8" fill="none" stroke="#5a5a5a" stroke-width="2"/>
<ellipse cx="786.5" cy="436.6" rx="65.5" ry="65.5" fill="none" stroke="#424242" stroke-width="1.4"/>
<ellipse cx="786.5" cy="436.0" rx="60" ry="60.0" fill="none" stroke="#5e5e5e" stroke-width="2.2"/>
<path d="M746.5 396.0L826.5 476.0M826.5 396.0L746.5 476.0" stroke="#383838" stroke-width="2.5"/>
<ellipse cx="42.3" cy="606.7" rx="70.5" ry="78.3" fill="#363636"/>
<path d="M-11.7 619.4V654.0M-6.7 627.8V660.0M-1.7 633.8V664.8M3.3 638.4V668.9M8.3 642.1V672.3M13.3 645.1V675.0M18.3 647.4V677.3M23.3 649.3V679.1M28.3 650.6V680.4M33.3 651.6V681.3M38.3 652.1V681.8M43.3 652.2V681.9M48.3 651.9V681.7M53.3 651.3V681.0M58.3 650.1V679.9M63.3 648.6V678.4M68.3 646.5V676.4M73.3 643.9V674.0M78.3 640.7V671.0M83.3 636.7V667.4M88.3 631.6V663.0M93.3 624.8V657.7" stroke="#5a5a5a" stroke-width="2" filter="url(#sblur)"/>
<ellipse cx="42.3" cy="595.7" rx="59.5" ry="56.5" fill="#2a2a2a"/>
<path d="M2.3 557.7L82.3 633.7M82.3 557.7L2.3 633.7" stroke="#363636" stroke-width="15" filter="url(#soft)"/>
<ellipse cx="42.3" cy="606.7" rx="69.8" ry="77.5" fill="none" stroke="#5a5a5a" stroke-width="2"/>
<ellipse cx="42.3" cy="602.3" rx="65.5" ry="67.5" fill="none" stroke="#424242" stroke-width="1.4"/>
<ellipse cx="42.3" cy="595.7" rx="60" ry="57.0" fill="none" stroke="#5e5e5e" stroke-width="2.2"/>
<path d="M2.3 557.7L82.3 633.7M82.3 557.7L2.3 633.7" stroke="#383838" stroke-width="2.5"/>
<ellipse cx="193.0" cy="604.0" rx="70.5" ry="78.3" fill="#363636"/>
<path d="M139.0 616.7V651.3M144.0 625.1V657.3M149.0 631.1V662.1M154.0 635.7V666.2M159.0 639.4V669.6M164.0 642.4V672.3M169.0 644.7V674.6M174.0 646.6V676.4M179.0 647.9V677.7M184.0 648.9V678.6M189.0 649.4V679.1M194.0 649.5V679.2M199.0 649.2V679.0M204.0 648.6V678.3M209.0 647.4V677.2M214.0 645.9V675.7M219.0 643.8V673.7M224.0 641.2V671.3M229.0 638.0V668.3M234.0 634.0V664.7M239.0 628.9V660.3M244.0 622.1V655.0" stroke="#5a5a5a" stroke-width="2" filter="url(#sblur)"/>
<ellipse cx="193.0" cy="593.0" rx="59.5" ry="56.5" fill="#2a2a2a"/>
<path d="M153.0 555.0L233.0 631.0M233.0 555.0L153.0 631.0" stroke="#363636" stroke-width="15" filter="url(#soft)"/>
<ellipse cx="193.0" cy="604.0" rx="69.8" ry="77.5" fill="none" stroke="#5a5a5a" stroke-width="2"/>
<ellipse cx="193.0" cy="599.6" rx="65.5" ry="67.5" fill="none" stroke="#424242" stroke-width="1.4"/>
<ellipse cx="193.0" cy="593.0" rx="60" ry="57.0" fill="none" stroke="#5e5e5e" stroke-width="2.2"/>
<path d="M153.0 555.0L233.0 631.0M233.0 555.0L153.0 631.0" stroke="#383838" stroke-width="2.5"/>
<ellipse cx="343.7" cy="601.3" rx="70.5" ry="78.3" fill="#363636"/>
<path d="M289.7 614.0V648.6M294.7 622.4V654.6M299.7 628.4V659.4M304.7 633.0V663.5M309.7 636.7V666.9M314.7 639.7V669.6M319.7 642.0V671.9M324.7 643.9V673.7M329.7 645.2V675.0M334.7 646.2V675.9M339.7 646.7V676.4M344.7 646.8V676.5M349.7 646.5V676.3M354.7 645.9V675.6M359.7 644.7V674.5M364.7 643.2V673.0M369.7 641.1V671.0M374.7 638.5V668.6M379.7 635.3V665.6M384.7 631.3V662.0M389.7 626.2V657.6M394.7 619.4V652.3" stroke="#5a5a5a" stroke-width="2" filter="url(#sblur)"/>
<ellipse cx="343.7" cy="590.3" rx="59.5" ry="56.5" fill="#2a2a2a"/>
<path d="M303.7 552.3L383.7 628.3M383.7 552.3L303.7 628.3" stroke="#363636" stroke-width="15" filter="url(#soft)"/>
<ellipse cx="343.7" cy="601.3" rx="69.8" ry="77.5" fill="none" stroke="#5a5a5a" stroke-width="2"/>
<ellipse cx="343.7" cy="596.9" rx="65.5" ry="67.5" fill="none" stroke="#424242" stroke-width="1.4"/>
<ellipse cx="343.7" cy="590.3" rx="60" ry="57.0" fill="none" stroke="#5e5e5e" stroke-width="2.2"/>
<path d="M303.7 552.3L383.7 628.3M383.7 552.3L303.7 628.3" stroke="#383838" stroke-width="2.5"/>
<ellipse cx="494.4" cy="598.6" rx="70.5" ry="78.3" fill="#363636"/>
<path d="M440.4 611.3V645.9M445.4 619.7V651.9M450.4 625.7V656.7M455.4 630.3V660.8M460.4 634.0V664.2M465.4 637.0V666.9M470.4 639.3V669.2M475.4 641.2V671.0M480.4 642.5V672.3M485.4 643.5V673.2M490.4 644.0V673.7M495.4 644.1V673.8M500.4 643.8V673.6M505.4 643.2V672.9M510.4 642.0V671.8M515.4 640.5V670.3M520.4 638.4V668.3M525.4 635.8V665.9M530.4 632.6V662.9M535.4 628.6V659.3M540.4 623.5V654.9M545.4 616.7V649.6" stroke="#5a5a5a" stroke-width="2" filter="url(#sblur)"/>
<ellipse cx="494.4" cy="587.6" rx="59.5" ry="56.5" fill="#2a2a2a"/>
<path d="M454.4 549.6L534.4 625.6M534.4 549.6L454.4 625.6" stroke="#363636" stroke-width="15" filter="url(#soft)"/>
<ellipse cx="494.4" cy="598.6" rx="69.8" ry="77.5" fill="none" stroke="#5a5a5a" stroke-width="2"/>
<ellipse cx="494.4" cy="594.2" rx="65.5" ry="67.5" fill="none" stroke="#424242" stroke-width="1.4"/>
<ellipse cx="494.4" cy="587.6" rx="60" ry="57.0" fill="none" stroke="#5e5e5e" stroke-width="2.2"/>
<path d="M454.4 549.6L534.4 625.6M534.4 549.6L454.4 625.6" stroke="#383838" stroke-width="2.5"/>
<ellipse cx="645.1" cy="595.9" rx="70.5" ry="78.3" fill="#363636"/>
<path d="M591.1 608.6V643.2M596.1 617.0V649.2M601.1 623.0V654.0M606.1 627.6V658.1M611.1 631.3V661.5M616.1 634.3V664.2M621.1 636.6V666.5M626.1 638.5V668.3M631.1 639.8V669.6M636.1 640.8V670.5M641.1 641.3V671.0M646.1 641.4V671.1M651.1 641.1V670.9M656.1 640.5V670.2M661.1 639.3V669.1M666.1 637.8V667.6M671.1 635.7V665.6M676.1 633.1V663.2M681.1 629.9V660.2M686.1 625.9V656.6M691.1 620.8V652.2M696.1 614.0V646.9" stroke="#5a5a5a" stroke-width="2" filter="url(#sblur)"/>
<ellipse cx="645.1" cy="584.9" rx="59.5" ry="56.5" fill="#2a2a2a"/>
<path d="M605.1 546.9L685.1 622.9M685.1 546.9L605.1 622.9" stroke="#363636" stroke-width="15" filter="url(#soft)"/>
<ellipse cx="645.1" cy="595.9" rx="69.8" ry="77.5" fill="none" stroke="#5a5a5a" stroke-width="2"/>
<ellipse cx="645.1" cy="591.5" rx="65.5" ry="67.5" fill="none" stroke="#424242" stroke-width="1.4"/>
<ellipse cx="645.1" cy="584.9" rx="60" ry="57.0" fill="none" stroke="#5e5e5e" stroke-width="2.2"/>
<path d="M605.1 546.9L685.1 622.9M685.1 546.9L605.1 622.9" stroke="#383838" stroke-width="2.5"/>
<ellipse cx="795.8" cy="593.2" rx="70.5" ry="78.3" fill="#363636"/>
<path d="M741.8 605.9V640.5M746.8 614.3V646.5M751.8 620.3V651.3M756.8 624.9V655.4M761.8 628.6V658.8M766.8 631.6V661.5M771.8 633.9V663.8M776.8 635.8V665.6M781.8 637.1V666.9M786.8 638.1V667.8M791.8 638.6V668.3M796.8 638.7V668.4M801.8 638.4V668.2M806.8 637.8V667.5M811.8 636.6V666.4M816.8 635.1V664.9M821.8 633.0V662.9M826.8 630.4V660.5M831.8 627.2V657.5M836.8 623.2V653.9M841.8 618.1V649.5M846.8 611.3V644.2" stroke="#5a5a5a" stroke-width="2" filter="url(#sblur)"/>
<ellipse cx="795.8" cy="582.2" rx="59.5" ry="56.5" fill="#2a2a2a"/>
<path d="M755.8 544.2L835.8 620.2M835.8 544.2L755.8 620.2" stroke="#363636" stroke-width="15" filter="url(#soft)"/>
<ellipse cx="795.8" cy="593.2" rx="69.8" ry="77.5" fill="none" stroke="#5a5a5a" stroke-width="2"/>
<ellipse cx="795.8" cy="588.8" rx="65.5" ry="67.5" fill="none" stroke="#424242" stroke-width="1.4"/>
<ellipse cx="795.8" cy="582.2" rx="60" ry="57.0" fill="none" stroke="#5e5e5e" stroke-width="2.2"/>
<path d="M755.8 544.2L835.8 620.2M835.8 544.2L755.8 620.2" stroke="#383838" stroke-width="2.5"/>
<rect x="204" y="228" width="3" height="290" fill="#1c1c1c" opacity="0.8"/>
<rect x="588" y="228" width="3" height="140" fill="#1c1c1c" opacity="0.6"/>
<g filter="url(#sblur)">
<g fill="none" stroke="#606060"><path d="M23.3 92.4L40.2 92.7" stroke-width="2.0"/><path d="M73.8 114.0L80.3 122.5" stroke-width="2.5"/><path d="M89.8 144.1L90.4 151.5" stroke-width="2.0"/><path d="M-22.5 177.4L-24.7 172.4" stroke-width="2.0"/><path d="M6.6 206.1L-2.5 201.3" stroke-width="3.0"/><path d="M63.9 101.5L69.4 105.4" stroke-width="2.0"/><path d="M71.1 97.3L77.5 102.8" stroke-width="3.0"/><path d="M39.2 209.1L30.4 209.6" stroke-width="3.0"/><path d="M-28.8 163.9L-30.1 149.1" stroke-width="2.0"/><path d="M93.9 164.1L92.4 169.8" stroke-width="2.0"/><path d="M54.9 204.7L50.1 206.5" stroke-width="2.5"/><path d="M132.9 194.7L129.0 190.1" stroke-width="2.5"/><path d="M135.5 185.8L132.0 181.0" stroke-width="3.0"/><path d="M171.1 88.6L185.3 87.4" stroke-width="2.5"/><path d="M131.6 100.3L141.7 90.9" stroke-width="3.0"/><path d="M245.5 156.5L244.4 162.3" stroke-width="3.0"/><path d="M312.7 89.4L319.1 87.3" stroke-width="3.0"/><path d="M299.5 196.0L290.9 188.7" stroke-width="3.0"/><path d="M271.6 148.1L272.2 136.9" stroke-width="2.5"/><path d="M368.7 90.8L380.2 99.2" stroke-width="3.0"/><path d="M380.7 90.7L388.5 98.5" stroke-width="3.0"/><path d="M425.4 155.5L424.7 151.0" stroke-width="2.0"/><path d="M450.3 200.3L444.2 195.7" stroke-width="3.0"/><path d="M419.2 140.6L420.0 131.5" stroke-width="2.0"/><path d="M488.9 72.0L499.3 72.9" stroke-width="2.5"/><path d="M509.6 92.2L524.4 100.3" stroke-width="3.0"/><path d="M450.3 83.6L459.4 78.5" stroke-width="3.0"/><path d="M523.3 81.3L533.2 88.2" stroke-width="3.0"/><path d="M693.1 113.8L698.1 125.1" stroke-width="2.5"/><path d="M704.7 129.4L705.8 139.5" stroke-width="2.0"/><path d="M631.3 86.9L635.6 86.3" stroke-width="3.0"/><path d="M584.0 133.3L587.8 120.7" stroke-width="3.0"/><path d="M586.7 111.7L594.0 101.4" stroke-width="3.0"/><path d="M620.4 194.8L608.1 188.4" stroke-width="3.0"/><path d="M578.5 109.7L583.2 101.3" stroke-width="2.5"/><path d="M583.3 144.1L583.4 138.7" stroke-width="2.0"/><path d="M625.9 199.5L618.8 197.2" stroke-width="2.0"/><path d="M681.8 186.4L677.9 189.5" stroke-width="3.0"/><path d="M734.1 114.7L736.0 110.4" stroke-width="2.5"/><path d="M736.7 171.7L730.8 158.9" stroke-width="2.0"/><path d="M736.0 136.5L736.5 131.6" stroke-width="2.5"/><path d="M825.5 199.5L820.4 201.8" stroke-width="2.0"/><path d="M728.9 112.4L735.5 99.3" stroke-width="2.5"/><path d="M843.6 105.0L846.0 108.6" stroke-width="2.0"/><path d="M833.1 91.3L837.6 95.2" stroke-width="3.0"/><path d="M-16.1 321.1L-17.8 310.3" stroke-width="2.5"/><path d="M90.5 344.2L85.7 349.5" stroke-width="2.0"/><path d="M36.4 240.7L53.2 241.1" stroke-width="2.0"/><path d="M101.8 327.2L94.5 341.3" stroke-width="3.0"/><path d="M-17.5 290.3L-10.7 274.2" stroke-width="3.0"/><path d="M-7.1 258.7L-3.7 255.5" stroke-width="2.0"/><path d="M185.3 369.4L181.0 368.8" stroke-width="3.0"/><path d="M248.7 325.4L246.3 330.9" stroke-width="2.0"/><path d="M255.1 292.6L256.1 306.4" stroke-width="3.0"/><path d="M196.0 244.7L213.1 248.5" stroke-width="2.0"/><path d="M247.4 288.1L248.7 293.8" stroke-width="2.5"/><path d="M168.1 247.9L174.0 245.8" stroke-width="2.0"/><path d="M131.2 288.2L135.3 276.9" stroke-width="3.0"/><path d="M154.5 348.6L150.1 344.5" stroke-width="2.5"/><path d="M201.7 364.0L191.6 364.8" stroke-width="2.5"/><path d="M189.0 366.1L178.0 364.7" stroke-width="2.5"/><path d="M152.0 348.4L141.3 335.7" stroke-width="3.0"/><path d="M144.1 353.8L140.6 350.4" stroke-width="2.0"/><path d="M259.6 317.9L257.9 324.5" stroke-width="2.0"/><path d="M393.0 329.4L384.1 342.2" stroke-width="2.0"/><path d="M282.6 321.9L280.6 314.8" stroke-width="3.0"/><path d="M279.5 308.3L279.2 300.4" stroke-width="2.5"/><path d="M400.2 312.8L395.5 327.7" stroke-width="3.0"/><path d="M361.9 355.8L357.6 357.3" stroke-width="2.0"/><path d="M289.6 268.0L296.5 259.6" stroke-width="3.0"/><path d="M393.5 279.2L395.9 285.9" stroke-width="2.5"/><path d="M373.9 253.0L381.1 258.8" stroke-width="2.0"/><path d="M284.0 270.6L292.1 259.4" stroke-width="3.0"/><path d="M437.5 327.1L431.9 311.1" stroke-width="3.0"/><path d="M448.8 254.1L456.8 248.2" stroke-width="2.0"/><path d="M492.7 359.4L475.0 357.9" stroke-width="3.0"/><path d="M429.6 306.3L429.5 295.5" stroke-width="2.0"/><path d="M478.1 363.0L461.7 358.0" stroke-width="2.5"/><path d="M600.3 245.7L606.4 242.0" stroke-width="2.0"/><path d="M659.6 244.4L669.3 249.6" stroke-width="2.0"/><path d="M683.6 260.5L692.0 274.4" stroke-width="2.0"/><path d="M580.5 286.8L581.6 282.1" stroke-width="3.0"/><path d="M578.5 282.3L582.7 271.1" stroke-width="3.0"/><path d="M782.5 358.1L776.3 357.4" stroke-width="2.0"/><path d="M737.7 258.9L740.6 255.4" stroke-width="2.0"/><path d="M748.6 348.1L742.8 343.5" stroke-width="2.5"/><path d="M751.3 347.7L743.0 341.1" stroke-width="2.0"/><path d="M751.3 344.3L747.1 341.0" stroke-width="2.5"/><path d="M841.2 270.2L845.2 281.1" stroke-width="2.0"/><path d="M43.9 382.4L58.4 383.8" stroke-width="2.0"/><path d="M27.5 395.5L37.5 393.4" stroke-width="2.5"/><path d="M14.4 502.3L6.1 496.4" stroke-width="2.0"/><path d="M29.0 393.5L45.1 391.5" stroke-width="2.0"/><path d="M37.4 391.9L41.4 391.6" stroke-width="2.0"/><path d="M212.2 393.3L222.6 398.2" stroke-width="3.0"/><path d="M235.6 489.5L231.6 493.2" stroke-width="2.5"/><path d="M139.4 421.9L149.0 407.8" stroke-width="2.0"/><path d="M226.2 400.5L234.7 407.8" stroke-width="3.0"/><path d="M391.6 479.6L380.8 491.6" stroke-width="3.0"/><path d="M310.0 495.6L299.2 487.1" stroke-width="3.0"/><path d="M289.0 483.3L282.6 472.2" stroke-width="2.5"/><path d="M290.5 411.3L300.2 400.0" stroke-width="2.0"/><path d="M403.2 436.4L403.4 452.4" stroke-width="3.0"/><path d="M396.1 418.3L401.0 432.5" stroke-width="3.0"/><path d="M364.8 499.7L360.3 501.4" stroke-width="3.0"/><path d="M378.3 491.6L369.4 497.5" stroke-width="2.0"/><path d="M288.6 482.6L285.2 477.2" stroke-width="3.0"/><path d="M288.7 420.5L290.9 416.4" stroke-width="2.0"/><path d="M299.8 398.5L312.2 389.9" stroke-width="2.0"/><path d="M487.0 384.1L501.8 385.3" stroke-width="2.5"/><path d="M433.5 407.1L443.1 395.2" stroke-width="3.0"/><path d="M436.2 474.6L432.2 466.8" stroke-width="2.0"/><path d="M543.9 462.5L540.9 469.2" stroke-width="2.5"/><path d="M523.2 394.6L527.0 397.6" stroke-width="2.0"/><path d="M450.5 493.7L445.2 489.2" stroke-width="3.0"/><path d="M429.0 420.7L433.1 411.4" stroke-width="2.5"/><path d="M549.0 446.5L545.6 462.5" stroke-width="2.5"/><path d="M519.7 392.3L533.1 403.5" stroke-width="3.0"/><path d="M589.7 478.9L582.5 467.8" stroke-width="2.0"/><path d="M657.9 381.4L672.1 388.5" stroke-width="2.5"/><path d="M593.2 480.4L590.5 477.3" stroke-width="2.0"/><path d="M591.9 491.9L587.9 488.0" stroke-width="2.5"/><path d="M688.5 402.3L693.5 410.4" stroke-width="2.5"/><path d="M837.9 483.6L827.4 493.1" stroke-width="2.0"/><path d="M846.0 435.1L845.9 439.7" stroke-width="2.5"/><path d="M837.9 397.5L841.8 403.2" stroke-width="2.5"/><path d="M726.2 445.1L725.6 432.8" stroke-width="2.0"/><path d="M834.9 467.9L823.8 480.4" stroke-width="2.0"/><path d="M727.1 432.4L728.4 423.0" stroke-width="2.0"/><path d="M846.2 401.3L852.7 415.7" stroke-width="2.0"/><path d="M843.4 462.1L840.4 467.9" stroke-width="2.5"/><path d="M789.6 376.6L794.4 377.0" stroke-width="3.0"/><path d="M728.2 474.7L723.9 467.2" stroke-width="2.5"/><path d="M100.8 614.0L96.5 624.4" stroke-width="3.0"/><path d="M103.7 629.5L96.7 642.9" stroke-width="3.0"/><path d="M10.4 652.1L-2.9 641.6" stroke-width="2.0"/><path d="M63.8 662.9L48.0 666.4" stroke-width="2.0"/><path d="M-0.8 556.7L11.4 547.4" stroke-width="2.5"/><path d="M94.0 620.8L83.5 634.5" stroke-width="3.0"/><path d="M87.5 558.9L95.4 570.1" stroke-width="2.0"/><path d="M142.4 561.4L146.3 556.4" stroke-width="2.0"/><path d="M173.6 539.6L182.7 537.3" stroke-width="3.0"/><path d="M130.7 591.5L132.9 578.8" stroke-width="2.0"/><path d="M192.8 648.1L185.6 647.7" stroke-width="3.0"/><path d="M140.8 561.8L151.9 549.2" stroke-width="2.5"/><path d="M209.4 647.3L200.3 649.1" stroke-width="3.0"/><path d="M153.5 543.7L162.1 538.1" stroke-width="3.0"/><path d="M368.7 640.0L363.2 642.2" stroke-width="2.5"/><path d="M380.2 633.1L371.8 638.5" stroke-width="2.5"/><path d="M274.7 591.2L276.9 579.3" stroke-width="2.0"/><path d="M284.4 560.6L290.4 551.5" stroke-width="3.0"/><path d="M283.5 601.3L283.2 584.5" stroke-width="2.5"/><path d="M305.5 548.9L311.1 544.8" stroke-width="2.0"/><path d="M389.3 626.6L380.2 635.0" stroke-width="2.5"/><path d="M513.9 535.7L518.2 537.4" stroke-width="2.5"/><path d="M462.6 639.7L451.2 631.0" stroke-width="3.0"/><path d="M466.3 637.4L459.5 633.4" stroke-width="2.5"/><path d="M509.5 640.8L495.6 642.7" stroke-width="3.0"/><path d="M455.6 639.3L448.2 632.5" stroke-width="3.0"/><path d="M448.8 553.6L458.1 544.6" stroke-width="2.5"/><path d="M440.4 645.6L436.0 638.8" stroke-width="3.0"/><path d="M553.9 586.6L553.6 593.1" stroke-width="3.0"/><path d="M532.4 544.1L538.3 549.5" stroke-width="2.0"/><path d="M487.6 531.4L502.0 531.5" stroke-width="2.5"/><path d="M562.6 612.5L558.4 627.3" stroke-width="2.5"/><path d="M438.0 600.5L436.4 585.6" stroke-width="2.5"/><path d="M493.1 664.5L483.8 663.7" stroke-width="3.0"/><path d="M613.4 537.0L617.6 534.8" stroke-width="3.0"/><path d="M592.7 608.6L587.7 593.1" stroke-width="2.5"/><path d="M704.1 601.5L701.7 608.5" stroke-width="2.0"/><path d="M587.4 598.9L585.7 582.3" stroke-width="2.5"/><path d="M645.6 655.9L630.1 654.1" stroke-width="2.5"/><path d="M708.9 580.4L709.3 596.3" stroke-width="2.5"/><path d="M694.0 552.6L700.7 564.8" stroke-width="2.0"/><path d="M815.6 530.4L828.2 536.5" stroke-width="2.0"/><path d="M735.5 559.6L740.1 551.0" stroke-width="2.0"/><path d="M751.6 544.3L756.3 540.0" stroke-width="2.5"/><path d="M750.6 542.3L753.7 539.3" stroke-width="2.0"/><path d="M778.2 665.9L766.6 661.3" stroke-width="3.0"/><path d="M734.8 585.2L736.6 569.3" stroke-width="2.5"/><path d="M821.9 521.6L825.9 523.6" stroke-width="3.0"/><path d="M846.4 609.2L840.8 616.9" stroke-width="3.0"/><path d="M841.4 545.9L846.7 553.0" stroke-width="2.5"/><path d="M852.0 600.7L849.8 606.0" stroke-width="2.0"/><path d="M853.4 549.6L857.1 556.3" stroke-width="2.5"/></g>
<path d="M-30 162h3v3h-3zM-34 160h4v4h-4zM6 210h4v4h-4zM22 212h2v2h-2zM20 210h4v4h-4zM86 114h2v2h-2zM78 120h4v4h-4zM78 116h4v4h-4zM30 94h4v4h-4zM70 100h2v2h-2zM94 158h3v3h-3zM-26 182h2v2h-2zM-20 186h4v4h-4zM-22 192h2v2h-2zM-18 182h2v2h-2zM20 210h2v2h-2zM-26 178h3v3h-3zM-28 178h2v2h-2zM-28 168h4v4h-4zM-22 174h4v4h-4zM-2 206h2v2h-2zM8 206h2v2h-2zM-30 170h2v2h-2zM-26 168h3v3h-3zM-28 162h2v2h-2zM14 206h2v2h-2zM6 214h2v2h-2zM12 212h3v3h-3zM4 204h2v2h-2zM98 154h2v2h-2zM92 156h3v3h-3zM88 160h2v2h-2zM90 160h2v2h-2zM66 94h2v2h-2zM70 108h2v2h-2zM64 104h2v2h-2zM2 96h2v2h-2zM66 106h2v2h-2zM-12 100h2v2h-2zM-8 100h2v2h-2zM-6 108h2v2h-2zM-8 108h2v2h-2zM-12 104h2v2h-2zM26 214h2v2h-2zM88 138h2v2h-2zM92 128h2v2h-2zM92 146h2v2h-2zM24 206h3v3h-3zM18 206h2v2h-2zM24 210h2v2h-2zM6 212h2v2h-2zM38 208h2v2h-2zM-28 148h3v3h-3zM-28 174h2v2h-2zM-12 190h2v2h-2zM-32 170h2v2h-2zM10 204h2v2h-2zM14 204h3v3h-3zM20 208h2v2h-2zM10 216h2v2h-2zM12 98h3v3h-3zM6 86h2v2h-2zM92 158h3v3h-3zM86 178h2v2h-2zM60 200h2v2h-2zM50 212h2v2h-2zM58 208h2v2h-2zM94 164h3v3h-3zM90 164h2v2h-2zM92 170h3v3h-3zM80 100h4v4h-4zM76 104h2v2h-2zM-26 114h2v2h-2zM98 144h2v2h-2zM14 216h2v2h-2zM86 108h2v2h-2zM78 192h2v2h-2zM54 94h2v2h-2zM26 210h2v2h-2zM88 122h2v2h-2zM84 106h2v2h-2zM-32 132h2v2h-2zM-26 156h2v2h-2zM-28 178h2v2h-2zM-4 198h2v2h-2zM38 98h2v2h-2zM14 212h2v2h-2zM-24 108h2v2h-2zM12 214h2v2h-2zM26 212h2v2h-2zM78 116h2v2h-2zM-6 204h2v2h-2zM80 186h2v2h-2zM222 198h2v2h-2zM216 206h2v2h-2zM214 196h2v2h-2zM136 190h2v2h-2zM136 184h4v4h-4zM218 94h4v4h-4zM128 118h3v3h-3zM126 120h3v3h-3zM138 188h2v2h-2zM126 186h2v2h-2zM142 188h2v2h-2zM182 208h3v3h-3zM234 112h2v2h-2zM234 112h2v2h-2zM136 180h2v2h-2zM146 192h2v2h-2zM226 200h3v3h-3zM224 198h3v3h-3zM128 174h4v4h-4zM126 170h2v2h-2zM196 206h3v3h-3zM196 212h4v4h-4zM194 204h4v4h-4zM172 88h2v2h-2zM170 92h2v2h-2zM182 92h3v3h-3zM176 92h4v4h-4zM222 102h2v2h-2zM220 96h4v4h-4zM142 108h2v2h-2zM146 102h2v2h-2zM124 126h2v2h-2zM126 150h2v2h-2zM242 150h2v2h-2zM252 156h4v4h-4zM246 166h2v2h-2zM240 154h2v2h-2zM242 152h2v2h-2zM174 92h2v2h-2zM176 90h2v2h-2zM170 92h2v2h-2zM222 202h2v2h-2zM226 108h2v2h-2zM196 206h2v2h-2zM218 202h3v3h-3zM136 180h2v2h-2zM138 188h2v2h-2zM122 176h3v3h-3zM138 186h4v4h-4zM252 164h2v2h-2zM242 156h2v2h-2zM244 162h2v2h-2zM224 110h4v4h-4zM222 106h3v3h-3zM202 96h4v4h-4zM218 94h2v2h-2zM212 86h2v2h-2zM206 98h2v2h-2zM208 100h3v3h-3zM220 96h2v2h-2zM152 86h2v2h-2zM152 100h2v2h-2zM142 196h2v2h-2zM160 86h2v2h-2zM240 154h2v2h-2zM186 86h2v2h-2zM164 84h2v2h-2zM170 96h2v2h-2zM168 84h2v2h-2zM170 214h2v2h-2zM154 210h2v2h-2zM184 218h2v2h-2zM224 96h2v2h-2zM222 94h2v2h-2zM244 154h2v2h-2zM138 192h2v2h-2zM220 198h2v2h-2zM130 188h2v2h-2zM146 198h2v2h-2zM204 214h2v2h-2zM160 82h2v2h-2zM248 126h2v2h-2zM300 86h2v2h-2zM308 94h2v2h-2zM310 94h2v2h-2zM304 96h4v4h-4zM312 96h4v4h-4zM322 92h2v2h-2zM292 186h3v3h-3zM342 80h3v3h-3zM348 94h4v4h-4zM336 90h2v2h-2zM348 88h2v2h-2zM280 128h4v4h-4zM284 124h2v2h-2zM278 116h4v4h-4zM280 116h2v2h-2zM276 136h2v2h-2zM276 146h3v3h-3zM270 138h2v2h-2zM268 146h4v4h-4zM268 136h3v3h-3zM300 98h2v2h-2zM284 106h2v2h-2zM282 112h2v2h-2zM276 112h2v2h-2zM294 110h3v3h-3zM292 110h2v2h-2zM366 98h4v4h-4zM366 204h3v3h-3zM322 206h2v2h-2zM406 156h4v4h-4zM300 94h2v2h-2zM298 106h2v2h-2zM290 94h3v3h-3zM300 94h2v2h-2zM292 96h3v3h-3zM366 94h2v2h-2zM336 80h3v3h-3zM328 90h2v2h-2zM326 82h2v2h-2zM328 84h2v2h-2zM318 92h2v2h-2zM296 192h2v2h-2zM362 202h2v2h-2zM354 210h2v2h-2zM358 200h4v4h-4zM300 96h2v2h-2zM300 86h4v4h-4zM276 170h3v3h-3zM280 158h4v4h-4zM278 166h2v2h-2zM276 162h3v3h-3zM276 158h2v2h-2zM394 144h2v2h-2zM392 134h2v2h-2zM400 156h2v2h-2zM394 146h4v4h-4zM344 86h2v2h-2zM276 138h4v4h-4zM276 150h2v2h-2zM276 142h2v2h-2zM344 92h3v3h-3zM392 116h2v2h-2zM392 122h3v3h-3zM390 128h4v4h-4zM390 118h2v2h-2zM336 88h2v2h-2zM316 78h3v3h-3zM334 92h4v4h-4zM386 94h2v2h-2zM284 174h2v2h-2zM328 90h2v2h-2zM300 88h2v2h-2zM316 212h2v2h-2zM354 206h2v2h-2zM322 204h2v2h-2zM320 78h2v2h-2zM386 116h2v2h-2zM322 208h2v2h-2zM358 86h2v2h-2zM346 208h2v2h-2zM280 134h2v2h-2zM286 190h2v2h-2zM270 124h2v2h-2zM290 198h2v2h-2zM312 206h2v2h-2zM394 140h2v2h-2zM304 102h2v2h-2zM420 144h3v3h-3zM424 134h3v3h-3zM422 136h3v3h-3zM540 112h4v4h-4zM544 114h2v2h-2zM486 202h4v4h-4zM484 202h2v2h-2zM502 204h2v2h-2zM516 202h2v2h-2zM524 196h2v2h-2zM514 198h2v2h-2zM504 202h2v2h-2zM552 148h4v4h-4zM548 142h2v2h-2zM546 148h2v2h-2zM420 154h4v4h-4zM430 166h2v2h-2zM450 102h2v2h-2zM436 178h3v3h-3zM436 174h2v2h-2zM420 132h2v2h-2zM432 182h2v2h-2zM438 178h2v2h-2zM444 180h2v2h-2zM440 184h2v2h-2zM432 104h3v3h-3zM512 90h2v2h-2zM522 82h4v4h-4zM430 110h2v2h-2zM540 108h2v2h-2zM544 102h3v3h-3zM536 102h2v2h-2zM428 140h3v3h-3zM430 128h3v3h-3zM430 130h4v4h-4zM428 128h2v2h-2zM434 116h2v2h-2zM526 94h4v4h-4zM538 184h3v3h-3zM544 182h2v2h-2zM536 108h2v2h-2zM536 100h2v2h-2zM526 104h2v2h-2zM420 150h3v3h-3zM428 146h3v3h-3zM426 138h2v2h-2zM460 90h2v2h-2zM462 94h3v3h-3zM464 90h2v2h-2zM526 186h2v2h-2zM524 194h4v4h-4zM534 192h4v4h-4zM536 184h4v4h-4zM532 190h3v3h-3zM520 196h2v2h-2zM426 118h2v2h-2zM530 190h2v2h-2zM530 196h4v4h-4zM526 188h2v2h-2zM460 84h2v2h-2zM462 80h3v3h-3zM532 96h4v4h-4zM524 92h3v3h-3zM444 98h2v2h-2zM432 162h2v2h-2zM516 88h2v2h-2zM534 196h2v2h-2zM448 94h2v2h-2zM430 144h2v2h-2zM516 88h2v2h-2zM550 148h2v2h-2zM550 172h2v2h-2zM432 100h2v2h-2zM534 106h2v2h-2zM464 76h2v2h-2zM550 148h2v2h-2zM430 142h2v2h-2zM692 116h3v3h-3zM706 124h4v4h-4zM698 122h2v2h-2zM698 122h2v2h-2zM690 114h2v2h-2zM694 162h4v4h-4zM582 132h4v4h-4zM592 106h3v3h-3zM592 116h2v2h-2zM604 190h2v2h-2zM612 194h2v2h-2zM610 192h3v3h-3zM684 186h2v2h-2zM676 188h2v2h-2zM576 150h2v2h-2zM582 140h3v3h-3zM624 86h2v2h-2zM698 138h2v2h-2zM698 136h2v2h-2zM586 104h2v2h-2zM584 100h2v2h-2zM596 100h4v4h-4zM608 200h2v2h-2zM608 194h2v2h-2zM612 196h4v4h-4zM618 194h2v2h-2zM588 112h3v3h-3zM590 106h2v2h-2zM700 126h2v2h-2zM704 126h2v2h-2zM698 114h3v3h-3zM704 136h3v3h-3zM610 198h2v2h-2zM606 196h3v3h-3zM682 184h3v3h-3zM588 104h2v2h-2zM580 120h2v2h-2zM690 114h3v3h-3zM692 110h2v2h-2zM602 102h2v2h-2zM582 136h2v2h-2zM578 144h2v2h-2zM586 126h2v2h-2zM592 96h4v4h-4zM590 120h3v3h-3zM626 202h4v4h-4zM620 194h2v2h-2zM622 196h2v2h-2zM680 86h2v2h-2zM674 90h2v2h-2zM678 196h2v2h-2zM628 206h2v2h-2zM638 200h3v3h-3zM638 204h2v2h-2zM692 104h4v4h-4zM680 98h2v2h-2zM678 100h2v2h-2zM708 122h2v2h-2zM660 84h2v2h-2zM614 196h2v2h-2zM626 88h2v2h-2zM694 186h2v2h-2zM632 202h2v2h-2zM614 86h2v2h-2zM702 118h2v2h-2zM582 146h2v2h-2zM620 194h2v2h-2zM588 164h2v2h-2zM686 108h2v2h-2zM584 172h2v2h-2zM606 192h2v2h-2zM702 142h2v2h-2zM700 152h2v2h-2zM694 180h2v2h-2zM704 108h2v2h-2zM574 120h2v2h-2zM654 198h2v2h-2zM782 204h2v2h-2zM786 206h2v2h-2zM740 118h2v2h-2zM740 118h2v2h-2zM840 96h4v4h-4zM844 102h2v2h-2zM848 102h3v3h-3zM838 106h2v2h-2zM838 104h3v3h-3zM736 120h2v2h-2zM738 120h2v2h-2zM738 162h4v4h-4zM734 130h4v4h-4zM736 136h3v3h-3zM818 194h2v2h-2zM816 198h2v2h-2zM826 198h3v3h-3zM844 178h2v2h-2zM840 172h3v3h-3zM846 172h2v2h-2zM778 202h2v2h-2zM784 200h2v2h-2zM806 196h2v2h-2zM818 194h2v2h-2zM814 202h3v3h-3zM824 190h3v3h-3zM746 106h2v2h-2zM736 116h2v2h-2zM846 108h2v2h-2zM846 114h4v4h-4zM858 112h2v2h-2zM742 116h3v3h-3zM750 176h2v2h-2zM748 180h3v3h-3zM750 188h2v2h-2zM754 180h2v2h-2zM784 78h2v2h-2zM772 88h3v3h-3zM764 92h3v3h-3zM772 86h4v4h-4zM752 178h2v2h-2zM836 92h2v2h-2zM732 134h2v2h-2zM742 182h2v2h-2zM748 186h2v2h-2zM802 72h3v3h-3zM822 84h2v2h-2zM816 72h2v2h-2zM810 86h4v4h-4zM730 122h2v2h-2zM726 124h2v2h-2zM818 192h2v2h-2zM824 190h2v2h-2zM822 194h2v2h-2zM834 94h2v2h-2zM846 98h2v2h-2zM842 102h4v4h-4zM758 184h2v2h-2zM758 186h2v2h-2zM812 82h2v2h-2zM844 104h2v2h-2zM838 100h3v3h-3zM842 174h2v2h-2zM734 140h2v2h-2zM754 100h2v2h-2zM802 206h2v2h-2zM760 82h2v2h-2zM822 74h2v2h-2zM846 178h2v2h-2zM800 72h2v2h-2zM792 70h2v2h-2zM784 196h2v2h-2zM778 196h2v2h-2zM736 98h2v2h-2zM826 92h2v2h-2zM860 162h2v2h-2zM846 172h2v2h-2zM772 74h2v2h-2zM732 128h2v2h-2zM860 146h2v2h-2zM844 170h2v2h-2zM820 198h2v2h-2zM858 128h2v2h-2zM-14 318h3v3h-3zM-18 308h2v2h-2zM-24 324h3v3h-3zM-18 316h2v2h-2zM-14 316h2v2h-2zM-16 322h2v2h-2zM72 364h2v2h-2zM78 358h2v2h-2zM74 354h2v2h-2zM70 360h3v3h-3zM100 332h2v2h-2zM98 330h2v2h-2zM-10 326h2v2h-2zM-16 310h2v2h-2zM-16 308h2v2h-2zM-24 310h3v3h-3zM-22 320h2v2h-2zM92 340h2v2h-2zM94 352h4v4h-4zM42 240h2v2h-2zM36 242h2v2h-2zM48 246h2v2h-2zM102 330h2v2h-2zM100 342h2v2h-2zM86 262h2v2h-2zM92 260h2v2h-2zM78 364h2v2h-2zM66 370h2v2h-2zM62 362h4v4h-4zM-14 290h3v3h-3zM-16 296h3v3h-3zM-12 294h2v2h-2zM-12 288h4v4h-4zM34 372h2v2h-2zM94 346h2v2h-2zM92 340h4v4h-4zM6 262h4v4h-4zM14 258h2v2h-2zM96 336h2v2h-2zM6 258h2v2h-2zM-10 268h2v2h-2zM-4 264h4v4h-4zM4 258h3v3h-3zM-4 268h2v2h-2zM-4 266h2v2h-2zM2 256h3v3h-3zM2 256h2v2h-2zM0 266h4v4h-4zM4 262h2v2h-2zM58 244h2v2h-2zM66 248h2v2h-2zM60 252h2v2h-2zM88 354h2v2h-2zM86 352h3v3h-3zM80 356h2v2h-2zM-20 296h2v2h-2zM-22 296h2v2h-2zM-22 302h2v2h-2zM-20 292h2v2h-2zM-12 268h4v4h-4zM-14 278h2v2h-2zM-18 286h2v2h-2zM-14 286h2v2h-2zM-14 282h2v2h-2zM-16 282h2v2h-2zM2 266h2v2h-2zM6 260h2v2h-2zM-8 260h3v3h-3zM-6 264h4v4h-4zM92 272h3v3h-3zM82 256h4v4h-4zM4 266h2v2h-2zM62 366h3v3h-3zM44 250h2v2h-2zM96 276h2v2h-2zM110 306h2v2h-2zM-14 340h2v2h-2zM-14 338h2v2h-2zM94 336h2v2h-2zM106 300h2v2h-2zM-24 304h2v2h-2zM16 366h2v2h-2zM16 360h2v2h-2zM78 260h2v2h-2zM104 328h2v2h-2zM12 356h2v2h-2zM-12 332h2v2h-2zM70 360h2v2h-2zM-4 350h2v2h-2zM184 360h2v2h-2zM188 368h3v3h-3zM178 364h2v2h-2zM190 372h2v2h-2zM206 358h3v3h-3zM196 362h3v3h-3zM138 336h4v4h-4zM250 324h2v2h-2zM254 318h2v2h-2zM248 326h2v2h-2zM250 316h2v2h-2zM246 332h2v2h-2zM246 328h4v4h-4zM252 328h2v2h-2zM250 328h4v4h-4zM252 322h3v3h-3zM242 342h2v2h-2zM236 342h2v2h-2zM248 340h2v2h-2zM140 268h2v2h-2zM152 264h4v4h-4zM144 260h2v2h-2zM250 298h2v2h-2zM250 288h2v2h-2zM194 242h2v2h-2zM186 236h2v2h-2zM186 244h2v2h-2zM184 238h3v3h-3zM190 236h2v2h-2zM178 244h3v3h-3zM200 246h3v3h-3zM256 278h3v3h-3zM254 292h2v2h-2zM226 360h2v2h-2zM222 356h3v3h-3zM250 286h2v2h-2zM248 276h4v4h-4zM158 254h3v3h-3zM148 256h3v3h-3zM168 250h4v4h-4zM150 260h3v3h-3zM256 292h2v2h-2zM254 300h3v3h-3zM252 298h2v2h-2zM192 248h4v4h-4zM248 326h2v2h-2zM248 316h2v2h-2zM244 332h2v2h-2zM256 314h4v4h-4zM186 246h3v3h-3zM170 250h2v2h-2zM134 296h4v4h-4zM218 240h3v3h-3zM208 246h2v2h-2zM124 318h3v3h-3zM146 338h3v3h-3zM148 350h2v2h-2zM158 354h2v2h-2zM152 354h4v4h-4zM158 356h4v4h-4zM246 346h2v2h-2zM240 336h2v2h-2zM232 344h2v2h-2zM156 358h4v4h-4zM162 354h2v2h-2zM196 368h2v2h-2zM208 358h2v2h-2zM206 360h2v2h-2zM204 366h3v3h-3zM200 362h3v3h-3zM188 372h3v3h-3zM188 362h2v2h-2zM134 298h4v4h-4zM134 342h2v2h-2zM160 356h3v3h-3zM218 248h3v3h-3zM222 252h2v2h-2zM250 320h2v2h-2zM252 334h2v2h-2zM216 248h2v2h-2zM222 252h2v2h-2zM218 252h4v4h-4zM136 290h2v2h-2zM130 336h2v2h-2zM246 322h2v2h-2zM160 256h2v2h-2zM166 360h2v2h-2zM134 328h2v2h-2zM242 342h2v2h-2zM144 336h2v2h-2zM140 350h2v2h-2zM254 274h2v2h-2zM174 362h2v2h-2zM192 360h2v2h-2zM260 306h2v2h-2zM142 346h2v2h-2zM248 266h2v2h-2zM262 300h2v2h-2zM218 360h2v2h-2zM164 356h2v2h-2zM232 250h2v2h-2zM272 290h2v2h-2zM384 344h2v2h-2zM404 328h4v4h-4zM392 332h2v2h-2zM400 334h4v4h-4zM396 290h2v2h-2zM280 302h2v2h-2zM280 298h2v2h-2zM282 282h4v4h-4zM364 356h2v2h-2zM376 350h3v3h-3zM372 354h3v3h-3zM402 300h4v4h-4zM400 300h2v2h-2zM396 326h2v2h-2zM370 358h3v3h-3zM372 356h3v3h-3zM370 354h2v2h-2zM396 272h4v4h-4zM400 280h4v4h-4zM398 278h3v3h-3zM390 348h2v2h-2zM382 342h3v3h-3zM278 322h2v2h-2zM348 362h2v2h-2zM404 318h2v2h-2zM406 318h2v2h-2zM394 268h2v2h-2zM392 276h3v3h-3zM384 260h2v2h-2zM384 258h2v2h-2zM380 258h2v2h-2zM292 340h2v2h-2zM312 352h4v4h-4zM296 342h2v2h-2zM302 344h2v2h-2zM302 350h2v2h-2zM366 362h4v4h-4zM366 364h2v2h-2zM362 358h3v3h-3zM288 262h4v4h-4zM294 270h4v4h-4zM288 260h4v4h-4zM406 288h4v4h-4zM400 284h2v2h-2zM394 280h2v2h-2zM402 276h4v4h-4zM404 302h3v3h-3zM402 306h2v2h-2zM384 346h2v2h-2zM342 368h3v3h-3zM380 254h2v2h-2zM400 268h3v3h-3zM396 274h2v2h-2zM406 326h3v3h-3zM288 262h2v2h-2zM286 276h3v3h-3zM296 266h2v2h-2zM290 264h3v3h-3zM294 260h4v4h-4zM384 354h2v2h-2zM290 276h2v2h-2zM388 338h2v2h-2zM318 366h2v2h-2zM280 318h2v2h-2zM310 362h2v2h-2zM306 350h2v2h-2zM320 356h2v2h-2zM350 362h2v2h-2zM282 294h2v2h-2zM360 362h2v2h-2zM302 246h2v2h-2zM398 326h2v2h-2zM350 366h2v2h-2zM308 360h2v2h-2zM292 346h2v2h-2zM392 326h2v2h-2zM370 352h2v2h-2zM318 366h2v2h-2zM400 274h2v2h-2zM382 346h2v2h-2zM370 246h2v2h-2zM318 238h2v2h-2zM544 320h2v2h-2zM544 318h3v3h-3zM546 324h2v2h-2zM460 358h2v2h-2zM486 366h2v2h-2zM438 336h2v2h-2zM446 342h2v2h-2zM444 336h4v4h-4zM438 346h2v2h-2zM474 364h3v3h-3zM472 358h2v2h-2zM478 358h3v3h-3zM550 280h4v4h-4zM552 290h2v2h-2zM550 294h2v2h-2zM490 238h2v2h-2zM494 238h3v3h-3zM516 244h2v2h-2zM526 256h2v2h-2zM428 298h2v2h-2zM424 290h2v2h-2zM426 296h2v2h-2zM454 244h2v2h-2zM462 248h2v2h-2zM450 246h3v3h-3zM440 254h3v3h-3zM466 246h4v4h-4zM468 238h2v2h-2zM490 366h3v3h-3zM424 324h2v2h-2zM426 298h2v2h-2zM428 290h2v2h-2zM422 308h4v4h-4zM430 298h2v2h-2zM432 308h4v4h-4zM472 364h2v2h-2zM462 358h4v4h-4zM464 354h3v3h-3zM464 246h2v2h-2zM466 246h4v4h-4zM470 236h3v3h-3zM466 362h3v3h-3zM466 360h2v2h-2zM468 356h2v2h-2zM520 250h2v2h-2zM428 316h2v2h-2zM424 306h3v3h-3zM430 320h2v2h-2zM430 306h3v3h-3zM454 246h3v3h-3zM448 246h2v2h-2zM452 244h2v2h-2zM456 252h3v3h-3zM430 296h4v4h-4zM502 358h2v2h-2zM516 352h2v2h-2zM438 332h2v2h-2zM432 292h2v2h-2zM464 248h2v2h-2zM506 244h2v2h-2zM548 290h2v2h-2zM430 286h2v2h-2zM440 338h2v2h-2zM516 244h2v2h-2zM542 326h2v2h-2zM552 314h2v2h-2zM430 318h2v2h-2zM434 334h2v2h-2zM484 358h2v2h-2zM442 346h2v2h-2zM454 344h2v2h-2zM688 324h2v2h-2zM594 334h2v2h-2zM616 244h4v4h-4zM676 254h4v4h-4zM682 250h2v2h-2zM672 346h2v2h-2zM670 350h2v2h-2zM610 244h2v2h-2zM608 246h2v2h-2zM606 248h2v2h-2zM684 340h3v3h-3zM684 346h2v2h-2zM678 342h3v3h-3zM684 340h4v4h-4zM686 328h4v4h-4zM686 340h4v4h-4zM678 342h2v2h-2zM682 332h2v2h-2zM690 334h2v2h-2zM576 308h4v4h-4zM580 308h4v4h-4zM576 310h2v2h-2zM576 312h2v2h-2zM672 248h3v3h-3zM672 248h4v4h-4zM694 260h2v2h-2zM676 248h4v4h-4zM668 240h3v3h-3zM576 292h4v4h-4zM684 256h2v2h-2zM678 252h2v2h-2zM688 266h2v2h-2zM692 258h3v3h-3zM684 338h3v3h-3zM608 360h3v3h-3zM632 354h4v4h-4zM632 364h4v4h-4zM588 346h2v2h-2zM594 350h4v4h-4zM588 342h2v2h-2zM602 352h2v2h-2zM582 318h3v3h-3zM696 318h2v2h-2zM634 356h2v2h-2zM638 358h3v3h-3zM578 274h3v3h-3zM668 250h2v2h-2zM696 316h2v2h-2zM696 264h2v2h-2zM580 274h2v2h-2zM706 298h2v2h-2zM634 236h2v2h-2zM628 360h2v2h-2zM608 244h2v2h-2zM686 258h2v2h-2zM704 304h2v2h-2zM660 244h2v2h-2zM574 324h2v2h-2zM578 306h2v2h-2zM574 286h2v2h-2zM660 350h2v2h-2zM688 326h2v2h-2zM682 334h2v2h-2zM698 272h2v2h-2zM770 362h2v2h-2zM746 252h2v2h-2zM744 242h3v3h-3zM776 358h2v2h-2zM778 354h3v3h-3zM774 360h4v4h-4zM774 362h3v3h-3zM788 356h4v4h-4zM814 358h2v2h-2zM790 354h2v2h-2zM836 266h4v4h-4zM838 270h4v4h-4zM840 264h4v4h-4zM838 264h2v2h-2zM808 232h2v2h-2zM816 238h3v3h-3zM814 242h2v2h-2zM804 236h2v2h-2zM720 318h2v2h-2zM722 304h2v2h-2zM720 312h4v4h-4zM840 270h2v2h-2zM852 280h2v2h-2zM824 250h2v2h-2zM826 248h3v3h-3zM818 250h2v2h-2zM820 248h3v3h-3zM726 306h2v2h-2zM722 318h2v2h-2zM726 312h4v4h-4zM726 298h2v2h-2zM720 298h2v2h-2zM724 300h2v2h-2zM826 348h2v2h-2zM822 352h2v2h-2zM814 346h3v3h-3zM838 322h2v2h-2zM846 320h3v3h-3zM794 238h3v3h-3zM806 240h2v2h-2zM798 238h2v2h-2zM806 234h4v4h-4zM802 230h3v3h-3zM756 344h4v4h-4zM744 338h4v4h-4zM750 352h3v3h-3zM744 344h2v2h-2zM728 290h2v2h-2zM726 286h2v2h-2zM728 278h2v2h-2zM730 288h2v2h-2zM722 284h2v2h-2zM834 340h2v2h-2zM842 336h2v2h-2zM838 328h2v2h-2zM828 338h2v2h-2zM840 322h2v2h-2zM748 340h2v2h-2zM742 336h4v4h-4zM748 342h2v2h-2zM732 270h4v4h-4zM728 268h4v4h-4zM730 272h4v4h-4zM730 282h2v2h-2zM730 266h3v3h-3zM742 342h2v2h-2zM824 338h2v2h-2zM832 340h3v3h-3zM826 338h4v4h-4zM832 344h2v2h-2zM840 266h2v2h-2zM834 254h4v4h-4zM838 258h3v3h-3zM822 350h2v2h-2zM812 352h2v2h-2zM854 298h2v2h-2zM844 306h2v2h-2zM850 300h4v4h-4zM848 294h3v3h-3zM840 278h2v2h-2zM844 310h2v2h-2zM850 306h2v2h-2zM842 310h2v2h-2zM844 304h2v2h-2zM852 290h2v2h-2zM766 234h2v2h-2zM808 242h2v2h-2zM802 354h2v2h-2zM836 340h2v2h-2zM844 314h2v2h-2zM816 240h2v2h-2zM734 336h2v2h-2zM728 274h2v2h-2zM718 292h2v2h-2zM754 242h2v2h-2zM778 234h2v2h-2zM764 356h2v2h-2zM840 332h2v2h-2zM758 234h2v2h-2zM794 232h2v2h-2zM842 280h2v2h-2zM742 246h2v2h-2zM722 312h2v2h-2zM32 388h2v2h-2zM-8 478h2v2h-2zM-4 482h2v2h-2zM-14 424h2v2h-2zM46 392h2v2h-2zM66 386h2v2h-2zM-4 402h2v2h-2zM10 396h2v2h-2zM104 426h3v3h-3zM94 420h2v2h-2zM102 412h3v3h-3zM4 406h2v2h-2zM8 498h2v2h-2zM8 500h2v2h-2zM4 504h4v4h-4zM86 504h2v2h-2zM76 500h4v4h-4zM86 496h4v4h-4zM84 496h4v4h-4zM84 500h4v4h-4zM90 490h2v2h-2zM84 496h2v2h-2zM86 492h2v2h-2zM38 388h2v2h-2zM28 386h3v3h-3zM10 500h2v2h-2zM10 496h3v3h-3zM8 496h2v2h-2zM4 500h3v3h-3zM8 508h4v4h-4zM8 512h2v2h-2zM112 440h2v2h-2zM106 456h2v2h-2zM38 382h2v2h-2zM74 400h3v3h-3zM98 496h4v4h-4zM90 494h2v2h-2zM92 496h2v2h-2zM104 446h2v2h-2zM102 430h3v3h-3zM98 410h2v2h-2zM92 408h3v3h-3zM88 412h2v2h-2zM46 384h2v2h-2zM44 388h4v4h-4zM46 386h4v4h-4zM48 390h3v3h-3zM42 384h2v2h-2zM100 462h4v4h-4zM112 452h4v4h-4zM102 444h4v4h-4zM110 444h2v2h-2zM90 412h4v4h-4zM76 404h2v2h-2zM80 396h3v3h-3zM106 468h4v4h-4zM108 482h2v2h-2zM104 472h2v2h-2zM106 472h2v2h-2zM70 514h2v2h-2zM78 508h4v4h-4zM12 502h3v3h-3zM6 498h2v2h-2zM38 382h2v2h-2zM56 510h2v2h-2zM26 510h2v2h-2zM22 508h2v2h-2zM30 506h2v2h-2zM82 506h2v2h-2zM94 418h2v2h-2zM4 490h2v2h-2zM-4 500h2v2h-2zM68 386h2v2h-2zM-16 428h2v2h-2zM106 460h2v2h-2zM84 498h2v2h-2zM100 426h2v2h-2zM22 506h2v2h-2zM16 398h2v2h-2zM86 496h2v2h-2zM150 490h4v4h-4zM142 494h4v4h-4zM144 492h3v3h-3zM144 496h2v2h-2zM162 498h2v2h-2zM220 396h3v3h-3zM218 388h2v2h-2zM136 480h2v2h-2zM142 490h2v2h-2zM140 486h2v2h-2zM140 486h3v3h-3zM140 486h2v2h-2zM232 506h2v2h-2zM236 488h2v2h-2zM230 496h2v2h-2zM240 498h3v3h-3zM150 492h4v4h-4zM152 502h3v3h-3zM204 382h2v2h-2zM214 392h2v2h-2zM212 382h4v4h-4zM236 402h2v2h-2zM238 402h3v3h-3zM234 398h2v2h-2zM234 494h4v4h-4zM236 488h2v2h-2zM236 486h4v4h-4zM146 402h3v3h-3zM246 486h2v2h-2zM234 500h3v3h-3zM156 392h2v2h-2zM156 402h2v2h-2zM178 506h2v2h-2zM184 506h2v2h-2zM174 512h2v2h-2zM172 514h2v2h-2zM154 492h2v2h-2zM150 496h2v2h-2zM150 500h3v3h-3zM156 502h3v3h-3zM150 496h4v4h-4zM156 498h2v2h-2zM210 504h2v2h-2zM200 506h4v4h-4zM242 414h4v4h-4zM252 422h2v2h-2zM248 420h2v2h-2zM244 412h4v4h-4zM246 414h2v2h-2zM218 500h2v2h-2zM224 500h4v4h-4zM222 498h4v4h-4zM250 444h4v4h-4zM254 446h2v2h-2zM188 386h2v2h-2zM182 382h3v3h-3zM246 428h4v4h-4zM248 424h3v3h-3zM254 432h4v4h-4zM218 398h2v2h-2zM214 392h3v3h-3zM214 382h4v4h-4zM210 390h3v3h-3zM148 402h3v3h-3zM154 400h2v2h-2zM144 408h2v2h-2zM144 412h2v2h-2zM212 390h3v3h-3zM214 396h2v2h-2zM210 392h2v2h-2zM248 468h2v2h-2zM256 480h2v2h-2zM246 484h2v2h-2zM238 398h2v2h-2zM234 408h2v2h-2zM210 506h2v2h-2zM132 438h2v2h-2zM140 406h2v2h-2zM254 462h2v2h-2zM224 498h2v2h-2zM176 390h2v2h-2zM126 466h2v2h-2zM146 398h2v2h-2zM262 460h2v2h-2zM146 410h2v2h-2zM124 446h2v2h-2zM252 436h2v2h-2zM130 462h2v2h-2zM146 500h2v2h-2zM254 438h2v2h-2zM166 390h2v2h-2zM132 418h2v2h-2zM172 390h2v2h-2zM336 382h2v2h-2zM340 378h2v2h-2zM340 376h4v4h-4zM338 386h2v2h-2zM272 450h2v2h-2zM308 394h4v4h-4zM390 486h2v2h-2zM282 452h4v4h-4zM282 446h3v3h-3zM284 462h2v2h-2zM384 402h2v2h-2zM388 406h2v2h-2zM304 492h2v2h-2zM304 488h3v3h-3zM374 494h2v2h-2zM364 504h4v4h-4zM290 420h4v4h-4zM290 418h3v3h-3zM284 420h2v2h-2zM298 484h3v3h-3zM290 470h2v2h-2zM292 474h2v2h-2zM340 382h2v2h-2zM342 384h2v2h-2zM398 446h2v2h-2zM286 464h4v4h-4zM284 472h3v3h-3zM370 500h2v2h-2zM400 440h2v2h-2zM400 450h2v2h-2zM402 458h2v2h-2zM400 418h2v2h-2zM362 504h2v2h-2zM358 512h2v2h-2zM360 504h2v2h-2zM310 394h4v4h-4zM390 496h2v2h-2zM378 500h2v2h-2zM376 502h2v2h-2zM380 496h2v2h-2zM394 466h2v2h-2zM400 462h2v2h-2zM398 466h4v4h-4zM296 406h2v2h-2zM298 408h2v2h-2zM330 384h2v2h-2zM340 386h2v2h-2zM350 384h2v2h-2zM332 388h3v3h-3zM298 494h2v2h-2zM302 492h2v2h-2zM298 500h4v4h-4zM308 496h3v3h-3zM304 390h3v3h-3zM310 396h2v2h-2zM308 396h4v4h-4zM304 390h2v2h-2zM396 420h2v2h-2zM398 436h2v2h-2zM406 434h2v2h-2zM332 510h2v2h-2zM370 390h2v2h-2zM286 420h2v2h-2zM320 510h2v2h-2zM322 384h2v2h-2zM322 382h2v2h-2zM288 468h2v2h-2zM276 432h2v2h-2zM380 402h2v2h-2zM330 506h2v2h-2zM286 466h2v2h-2zM370 388h2v2h-2zM494 382h4v4h-4zM494 382h2v2h-2zM496 384h2v2h-2zM490 384h2v2h-2zM462 494h4v4h-4zM450 400h2v2h-2zM440 406h3v3h-3zM448 396h2v2h-2zM458 502h3v3h-3zM456 490h2v2h-2zM458 498h2v2h-2zM454 492h3v3h-3zM532 392h2v2h-2zM530 394h2v2h-2zM428 468h2v2h-2zM440 472h2v2h-2zM520 498h2v2h-2zM522 496h2v2h-2zM432 468h2v2h-2zM426 448h3v3h-3zM430 470h2v2h-2zM432 476h3v3h-3zM548 462h2v2h-2zM550 474h2v2h-2zM548 474h2v2h-2zM528 390h2v2h-2zM526 388h2v2h-2zM514 390h2v2h-2zM524 394h3v3h-3zM530 394h2v2h-2zM528 400h3v3h-3zM496 384h2v2h-2zM500 374h4v4h-4zM512 386h2v2h-2zM528 486h2v2h-2zM520 494h4v4h-4zM522 504h3v3h-3zM534 494h4v4h-4zM446 402h4v4h-4zM434 412h4v4h-4zM440 402h4v4h-4zM448 388h4v4h-4zM448 498h2v2h-2zM452 498h2v2h-2zM446 488h3v3h-3zM426 420h2v2h-2zM432 426h2v2h-2zM430 408h3v3h-3zM436 410h2v2h-2zM440 416h2v2h-2zM436 426h4v4h-4zM454 398h2v2h-2zM446 398h2v2h-2zM476 502h2v2h-2zM430 426h3v3h-3zM434 424h2v2h-2zM430 430h2v2h-2zM504 508h4v4h-4zM438 488h3v3h-3zM442 492h2v2h-2zM444 484h4v4h-4zM548 454h2v2h-2zM550 466h4v4h-4zM554 464h3v3h-3zM548 454h3v3h-3zM472 384h2v2h-2zM472 386h2v2h-2zM480 380h3v3h-3zM488 384h2v2h-2zM486 382h4v4h-4zM428 472h4v4h-4zM436 462h4v4h-4zM536 476h2v2h-2zM526 396h4v4h-4zM532 398h4v4h-4zM530 392h3v3h-3zM426 460h2v2h-2zM430 460h2v2h-2zM434 452h3v3h-3zM554 430h2v2h-2zM456 500h2v2h-2zM544 400h2v2h-2zM502 378h2v2h-2zM428 422h2v2h-2zM448 482h2v2h-2zM544 406h2v2h-2zM444 492h2v2h-2zM450 486h2v2h-2zM478 380h2v2h-2zM498 382h2v2h-2zM444 484h2v2h-2zM546 420h2v2h-2zM476 508h2v2h-2zM472 508h2v2h-2zM514 386h2v2h-2zM422 430h2v2h-2zM436 478h2v2h-2zM694 436h4v4h-4zM700 428h4v4h-4zM706 434h2v2h-2zM574 462h2v2h-2zM576 472h2v2h-2zM574 464h3v3h-3zM598 388h2v2h-2zM596 398h3v3h-3zM586 396h2v2h-2zM600 492h4v4h-4zM606 490h2v2h-2zM594 482h4v4h-4zM600 482h2v2h-2zM594 492h2v2h-2zM580 476h2v2h-2zM596 482h4v4h-4zM586 476h2v2h-2zM680 398h2v2h-2zM680 398h2v2h-2zM646 508h2v2h-2zM646 498h2v2h-2zM664 500h2v2h-2zM654 496h2v2h-2zM654 372h4v4h-4zM646 374h2v2h-2zM644 376h2v2h-2zM696 432h2v2h-2zM694 424h2v2h-2zM696 424h4v4h-4zM696 438h4v4h-4zM702 442h4v4h-4zM684 394h2v2h-2zM684 392h3v3h-3zM682 398h2v2h-2zM672 394h4v4h-4zM686 400h4v4h-4zM678 392h2v2h-2zM692 464h2v2h-2zM698 468h2v2h-2zM696 470h2v2h-2zM690 462h2v2h-2zM602 500h4v4h-4zM600 494h2v2h-2zM586 404h2v2h-2zM668 378h2v2h-2zM640 510h2v2h-2zM672 388h4v4h-4zM688 402h2v2h-2zM676 394h3v3h-3zM576 442h3v3h-3zM588 474h4v4h-4zM590 480h4v4h-4zM592 478h3v3h-3zM610 386h2v2h-2zM692 484h2v2h-2zM684 486h2v2h-2zM578 468h2v2h-2zM580 456h2v2h-2zM574 456h4v4h-4zM574 454h2v2h-2zM570 452h2v2h-2zM600 394h2v2h-2zM590 392h2v2h-2zM594 396h2v2h-2zM650 496h4v4h-4zM594 492h3v3h-3zM594 486h2v2h-2zM688 404h2v2h-2zM674 380h2v2h-2zM580 452h2v2h-2zM618 378h2v2h-2zM586 414h2v2h-2zM582 422h2v2h-2zM614 502h2v2h-2zM640 508h2v2h-2zM666 386h2v2h-2zM624 384h2v2h-2zM656 502h2v2h-2zM580 432h2v2h-2zM668 380h2v2h-2zM580 408h2v2h-2zM588 394h2v2h-2zM584 400h2v2h-2zM704 436h2v2h-2zM576 464h2v2h-2zM664 502h2v2h-2zM686 470h2v2h-2zM646 506h2v2h-2zM730 424h3v3h-3zM718 422h4v4h-4zM728 404h2v2h-2zM722 414h2v2h-2zM732 414h2v2h-2zM722 418h2v2h-2zM722 422h4v4h-4zM856 446h3v3h-3zM844 450h2v2h-2zM848 448h2v2h-2zM850 448h2v2h-2zM846 446h4v4h-4zM752 490h4v4h-4zM726 438h2v2h-2zM786 376h2v2h-2zM752 390h2v2h-2zM744 394h2v2h-2zM752 384h3v3h-3zM742 472h2v2h-2zM744 474h2v2h-2zM844 440h2v2h-2zM850 432h2v2h-2zM734 482h3v3h-3zM732 482h2v2h-2zM744 480h2v2h-2zM734 472h2v2h-2zM736 470h4v4h-4zM832 396h2v2h-2zM832 392h3v3h-3zM738 468h2v2h-2zM738 478h3v3h-3zM736 480h4v4h-4zM740 480h3v3h-3zM726 470h2v2h-2zM846 404h2v2h-2zM842 404h2v2h-2zM836 400h2v2h-2zM832 404h2v2h-2zM832 396h3v3h-3zM840 404h4v4h-4zM846 402h4v4h-4zM840 466h4v4h-4zM840 466h3v3h-3zM824 480h2v2h-2zM830 482h3v3h-3zM720 446h2v2h-2zM726 448h2v2h-2zM722 434h4v4h-4zM728 444h2v2h-2zM838 478h3v3h-3zM842 478h2v2h-2zM830 482h2v2h-2zM800 376h3v3h-3zM792 380h3v3h-3zM726 414h4v4h-4zM728 442h2v2h-2zM726 444h2v2h-2zM718 440h2v2h-2zM728 430h3v3h-3zM724 426h2v2h-2zM722 424h3v3h-3zM722 424h2v2h-2zM842 398h2v2h-2zM836 400h2v2h-2zM832 398h4v4h-4zM794 494h2v2h-2zM720 424h2v2h-2zM722 426h3v3h-3zM720 430h4v4h-4zM846 426h2v2h-2zM846 422h2v2h-2zM854 422h2v2h-2zM852 416h2v2h-2zM838 408h2v2h-2zM840 412h2v2h-2zM842 420h2v2h-2zM840 408h2v2h-2zM840 410h2v2h-2zM836 390h4v4h-4zM842 398h2v2h-2zM840 396h2v2h-2zM844 466h3v3h-3zM730 410h4v4h-4zM734 410h2v2h-2zM726 410h2v2h-2zM848 442h3v3h-3zM844 448h2v2h-2zM844 444h2v2h-2zM728 472h4v4h-4zM742 472h3v3h-3zM732 412h2v2h-2zM730 412h4v4h-4zM740 404h2v2h-2zM788 374h2v2h-2zM736 406h2v2h-2zM850 414h2v2h-2zM728 456h2v2h-2zM776 498h2v2h-2zM812 502h2v2h-2zM792 504h2v2h-2zM820 386h2v2h-2zM750 392h2v2h-2zM738 470h2v2h-2zM724 442h2v2h-2zM760 486h2v2h-2zM748 384h2v2h-2zM818 388h2v2h-2zM844 444h2v2h-2zM98 620h4v4h-4zM100 616h2v2h-2zM-16 628h2v2h-2zM-20 630h4v4h-4zM96 628h2v2h-2zM96 632h2v2h-2zM90 640h2v2h-2zM88 638h3v3h-3zM98 574h4v4h-4zM82 640h2v2h-2zM82 634h2v2h-2zM74 640h3v3h-3zM94 644h2v2h-2zM88 638h3v3h-3zM4 650h2v2h-2zM4 552h2v2h-2zM8 554h2v2h-2zM-4 562h2v2h-2zM-2 548h2v2h-2zM54 656h4v4h-4zM58 670h3v3h-3zM50 662h3v3h-3zM72 654h3v3h-3zM62 648h2v2h-2zM0 634h2v2h-2zM12 642h3v3h-3zM-10 632h4v4h-4zM-20 630h2v2h-2zM-10 624h2v2h-2zM-6 626h4v4h-4zM-14 630h3v3h-3zM-8 632h2v2h-2zM60 660h2v2h-2zM44 670h4v4h-4zM6 550h2v2h-2zM4 550h3v3h-3zM-2 558h4v4h-4zM8 546h3v3h-3zM98 590h2v2h-2zM104 592h2v2h-2zM108 608h2v2h-2zM108 586h2v2h-2zM98 588h2v2h-2zM38 538h4v4h-4zM28 538h3v3h-3zM30 538h2v2h-2zM22 538h2v2h-2zM76 640h2v2h-2zM86 646h3v3h-3zM84 658h4v4h-4zM90 644h4v4h-4zM90 660h2v2h-2zM84 550h2v2h-2zM78 542h3v3h-3zM102 568h2v2h-2zM94 568h4v4h-4zM104 574h2v2h-2zM94 564h3v3h-3zM106 580h2v2h-2zM96 560h3v3h-3zM96 564h3v3h-3zM98 560h2v2h-2zM-22 614h2v2h-2zM50 542h2v2h-2zM0 548h2v2h-2zM76 652h2v2h-2zM48 654h2v2h-2zM-4 636h2v2h-2zM-8 568h2v2h-2zM14 538h2v2h-2zM60 652h2v2h-2zM106 608h2v2h-2zM-20 580h2v2h-2zM70 542h2v2h-2zM82 664h2v2h-2zM76 672h2v2h-2zM8 648h2v2h-2zM10 546h2v2h-2zM166 534h2v2h-2zM168 534h2v2h-2zM168 534h3v3h-3zM172 534h2v2h-2zM140 570h2v2h-2zM144 558h2v2h-2zM140 558h2v2h-2zM150 558h3v3h-3zM152 550h2v2h-2zM126 586h2v2h-2zM138 578h2v2h-2zM136 576h2v2h-2zM166 544h3v3h-3zM158 550h2v2h-2zM200 646h4v4h-4zM194 650h4v4h-4zM188 650h2v2h-2zM240 556h4v4h-4zM242 560h4v4h-4zM250 616h4v4h-4zM150 656h2v2h-2zM138 562h2v2h-2zM142 558h2v2h-2zM140 558h2v2h-2zM142 560h2v2h-2zM144 558h2v2h-2zM142 642h4v4h-4zM144 638h3v3h-3zM136 634h2v2h-2zM140 626h2v2h-2zM130 630h4v4h-4zM172 538h2v2h-2zM174 542h2v2h-2zM174 542h2v2h-2zM152 546h2v2h-2zM254 578h2v2h-2zM250 582h2v2h-2zM258 588h2v2h-2zM188 668h3v3h-3zM186 674h2v2h-2zM174 666h3v3h-3zM180 678h2v2h-2zM178 674h3v3h-3zM210 670h3v3h-3zM210 646h4v4h-4zM154 550h4v4h-4zM156 548h2v2h-2zM262 602h2v2h-2zM262 604h2v2h-2zM254 596h2v2h-2zM196 654h2v2h-2zM210 652h3v3h-3zM124 592h2v2h-2zM130 596h2v2h-2zM134 584h3v3h-3zM210 676h2v2h-2zM158 538h2v2h-2zM160 546h3v3h-3zM166 536h2v2h-2zM224 650h2v2h-2zM124 598h2v2h-2zM138 580h2v2h-2zM244 568h2v2h-2zM174 538h2v2h-2zM152 644h2v2h-2zM210 666h2v2h-2zM182 530h2v2h-2zM206 540h2v2h-2zM142 620h2v2h-2zM260 584h2v2h-2zM132 630h2v2h-2zM240 560h2v2h-2zM150 630h2v2h-2zM124 596h2v2h-2zM248 614h2v2h-2zM230 550h2v2h-2zM138 574h2v2h-2zM364 536h2v2h-2zM350 530h4v4h-4zM284 578h2v2h-2zM280 582h2v2h-2zM286 586h2v2h-2zM390 548h4v4h-4zM386 550h3v3h-3zM278 610h2v2h-2zM284 616h2v2h-2zM402 592h2v2h-2zM408 594h2v2h-2zM412 592h2v2h-2zM404 586h2v2h-2zM406 584h2v2h-2zM412 602h4v4h-4zM374 652h2v2h-2zM402 598h4v4h-4zM402 590h2v2h-2zM404 596h3v3h-3zM388 544h4v4h-4zM382 546h3v3h-3zM408 590h4v4h-4zM400 582h2v2h-2zM412 598h2v2h-2zM402 578h2v2h-2zM402 584h2v2h-2zM408 586h2v2h-2zM382 646h2v2h-2zM388 658h2v2h-2zM382 662h2v2h-2zM382 632h4v4h-4zM386 642h2v2h-2zM284 582h3v3h-3zM282 588h2v2h-2zM276 588h2v2h-2zM298 552h3v3h-3zM294 560h4v4h-4zM364 644h2v2h-2zM400 566h2v2h-2zM400 564h4v4h-4zM276 602h3v3h-3zM282 598h2v2h-2zM286 594h2v2h-2zM280 592h2v2h-2zM276 604h3v3h-3zM372 640h3v3h-3zM368 648h3v3h-3zM284 598h2v2h-2zM278 604h2v2h-2zM406 604h4v4h-4zM408 610h4v4h-4zM408 626h3v3h-3zM400 604h4v4h-4zM364 538h2v2h-2zM312 538h3v3h-3zM300 544h2v2h-2zM390 640h2v2h-2zM386 630h4v4h-4zM386 626h2v2h-2zM328 668h3v3h-3zM320 644h3v3h-3zM326 646h2v2h-2zM404 590h4v4h-4zM402 594h2v2h-2zM408 610h4v4h-4zM294 618h4v4h-4zM286 602h3v3h-3zM280 628h3v3h-3zM370 532h3v3h-3zM356 528h2v2h-2zM368 538h2v2h-2zM366 530h2v2h-2zM398 634h2v2h-2zM310 638h2v2h-2zM284 594h2v2h-2zM362 642h2v2h-2zM370 646h2v2h-2zM388 638h2v2h-2zM330 532h2v2h-2zM316 542h2v2h-2zM292 552h2v2h-2zM304 632h2v2h-2zM400 632h2v2h-2zM342 534h2v2h-2zM400 574h2v2h-2zM386 640h2v2h-2zM400 612h2v2h-2zM406 602h2v2h-2zM360 660h2v2h-2zM388 634h2v2h-2zM282 574h2v2h-2zM378 542h2v2h-2zM406 570h2v2h-2zM448 618h2v2h-2zM488 642h2v2h-2zM556 596h3v3h-3zM558 604h2v2h-2zM554 602h2v2h-2zM524 540h4v4h-4zM508 534h2v2h-2zM450 642h2v2h-2zM452 656h3v3h-3zM454 630h2v2h-2zM530 630h4v4h-4zM550 628h2v2h-2zM546 626h2v2h-2zM542 618h2v2h-2zM446 554h4v4h-4zM446 546h2v2h-2zM542 632h2v2h-2zM538 624h2v2h-2zM448 648h2v2h-2zM468 634h4v4h-4zM458 630h2v2h-2zM462 654h3v3h-3zM440 564h2v2h-2zM440 560h4v4h-4zM434 568h2v2h-2zM496 642h4v4h-4zM488 660h2v2h-2zM478 660h2v2h-2zM508 666h2v2h-2zM512 656h2v2h-2zM480 530h3v3h-3zM562 580h3v3h-3zM552 568h3v3h-3zM560 586h2v2h-2zM558 578h2v2h-2zM440 558h2v2h-2zM454 544h3v3h-3zM450 554h2v2h-2zM454 634h2v2h-2zM458 662h2v2h-2zM450 640h2v2h-2zM542 630h2v2h-2zM556 630h4v4h-4zM548 612h2v2h-2zM448 620h2v2h-2zM436 610h2v2h-2zM442 626h3v3h-3zM552 598h3v3h-3zM532 538h2v2h-2zM538 552h4v4h-4zM534 548h2v2h-2zM532 544h2v2h-2zM536 548h3v3h-3zM552 590h4v4h-4zM458 546h2v2h-2zM462 544h3v3h-3zM496 522h2v2h-2zM494 532h2v2h-2zM488 530h4v4h-4zM510 532h2v2h-2zM550 606h4v4h-4zM558 594h2v2h-2zM548 642h2v2h-2zM542 624h2v2h-2zM478 640h2v2h-2zM480 652h4v4h-4zM448 550h2v2h-2zM560 618h2v2h-2zM448 548h2v2h-2zM478 640h2v2h-2zM454 538h2v2h-2zM462 538h2v2h-2zM448 552h2v2h-2zM430 578h2v2h-2zM554 622h2v2h-2zM548 550h2v2h-2zM564 588h2v2h-2zM562 592h2v2h-2zM500 656h2v2h-2zM430 614h2v2h-2zM478 530h2v2h-2zM468 644h2v2h-2zM536 546h2v2h-2zM436 580h2v2h-2zM612 538h3v3h-3zM608 640h4v4h-4zM614 652h3v3h-3zM580 586h2v2h-2zM584 582h3v3h-3zM582 602h2v2h-2zM582 608h2v2h-2zM592 606h2v2h-2zM592 602h2v2h-2zM590 600h4v4h-4zM706 610h2v2h-2zM710 612h2v2h-2zM612 532h4v4h-4zM624 532h2v2h-2zM626 528h2v2h-2zM632 528h3v3h-3zM584 580h3v3h-3zM690 540h2v2h-2zM686 542h2v2h-2zM680 536h2v2h-2zM682 542h3v3h-3zM710 616h2v2h-2zM646 518h2v2h-2zM644 530h2v2h-2zM646 520h4v4h-4zM664 524h2v2h-2zM666 532h2v2h-2zM582 602h2v2h-2zM580 596h2v2h-2zM588 582h2v2h-2zM606 538h2v2h-2zM610 636h2v2h-2zM608 642h4v4h-4zM640 638h3v3h-3zM642 668h2v2h-2zM648 644h4v4h-4zM642 656h3v3h-3zM684 634h3v3h-3zM616 634h3v3h-3zM608 660h2v2h-2zM586 582h2v2h-2zM584 598h2v2h-2zM584 584h2v2h-2zM576 602h2v2h-2zM698 560h4v4h-4zM702 566h2v2h-2zM700 548h4v4h-4zM702 552h2v2h-2zM696 552h2v2h-2zM706 580h2v2h-2zM710 588h3v3h-3zM710 594h2v2h-2zM610 540h2v2h-2zM602 546h3v3h-3zM590 556h3v3h-3zM708 560h3v3h-3zM706 562h4v4h-4zM696 546h2v2h-2zM694 542h2v2h-2zM696 548h2v2h-2zM688 550h4v4h-4zM586 566h2v2h-2zM586 606h2v2h-2zM694 618h2v2h-2zM708 580h2v2h-2zM696 626h2v2h-2zM632 652h2v2h-2zM580 602h2v2h-2zM694 614h2v2h-2zM706 580h2v2h-2zM582 604h2v2h-2zM620 536h2v2h-2zM696 650h2v2h-2zM582 588h2v2h-2zM616 534h2v2h-2zM692 628h2v2h-2zM616 530h2v2h-2zM684 636h2v2h-2zM584 562h2v2h-2zM604 540h2v2h-2zM648 646h2v2h-2zM844 536h2v2h-2zM834 540h2v2h-2zM852 554h4v4h-4zM820 524h3v3h-3zM824 534h2v2h-2zM828 528h2v2h-2zM738 564h3v3h-3zM752 544h2v2h-2zM746 550h3v3h-3zM750 538h3v3h-3zM842 618h4v4h-4zM736 572h4v4h-4zM842 620h2v2h-2zM830 626h3v3h-3zM770 656h2v2h-2zM768 640h3v3h-3zM734 580h2v2h-2zM734 586h2v2h-2zM736 574h4v4h-4zM732 598h4v4h-4zM746 624h3v3h-3zM746 608h2v2h-2zM814 520h2v2h-2zM826 528h2v2h-2zM828 536h3v3h-3zM838 534h2v2h-2zM838 628h3v3h-3zM848 554h3v3h-3zM844 552h3v3h-3zM846 558h4v4h-4zM854 584h2v2h-2zM856 586h3v3h-3zM834 538h2v2h-2zM840 538h2v2h-2zM840 532h2v2h-2zM832 538h2v2h-2zM856 612h3v3h-3zM858 614h2v2h-2zM846 616h2v2h-2zM836 538h2v2h-2zM830 538h3v3h-3zM834 536h2v2h-2zM768 630h2v2h-2zM768 644h4v4h-4zM764 626h4v4h-4zM784 518h4v4h-4zM788 524h3v3h-3zM850 558h2v2h-2zM852 548h4v4h-4zM848 556h2v2h-2zM760 532h2v2h-2zM730 608h2v2h-2zM794 638h2v2h-2zM860 620h2v2h-2zM732 620h2v2h-2zM738 572h2v2h-2zM860 592h2v2h-2zM762 632h2v2h-2zM862 580h2v2h-2zM814 640h2v2h-2zM844 626h2v2h-2zM770 632h2v2h-2zM846 540h2v2h-2zM858 594h2v2h-2zM842 544h2v2h-2zM786 528h2v2h-2zM746 544h2v2h-2zM740 588h2v2h-2z" fill="#606060"/>
<g fill="none" stroke="#8a8a8a"><path d="M-25.6 164.5L-27.0 154.8" stroke-width="2.0"/><path d="M-16.0 185.1L-20.9 177.1" stroke-width="3.0"/><path d="M32.5 214.3L24.4 213.9" stroke-width="2.0"/><path d="M88.8 148.3L87.6 163.5" stroke-width="2.5"/><path d="M-13.2 107.6L-7.6 102.8" stroke-width="2.0"/><path d="M17.0 210.8L7.6 208.0" stroke-width="3.0"/><path d="M-0.0 86.5L7.3 83.4" stroke-width="2.0"/><path d="M70.3 96.7L75.6 100.9" stroke-width="3.0"/><path d="M209.8 86.8L222.0 93.6" stroke-width="2.0"/><path d="M198.0 205.5L184.2 207.2" stroke-width="2.5"/><path d="M222.3 107.7L231.1 117.3" stroke-width="3.0"/><path d="M203.3 202.4L191.7 205.2" stroke-width="2.5"/><path d="M214.1 101.7L226.9 112.2" stroke-width="3.0"/><path d="M128.9 130.6L132.5 122.6" stroke-width="2.0"/><path d="M125.5 148.8L126.9 137.2" stroke-width="2.0"/><path d="M249.9 150.6L249.2 157.8" stroke-width="2.5"/><path d="M210.5 202.4L196.7 207.2" stroke-width="2.5"/><path d="M342.5 74.7L350.2 75.9" stroke-width="2.0"/><path d="M277.7 135.9L281.8 123.4" stroke-width="2.5"/><path d="M283.2 120.7L293.1 107.2" stroke-width="3.0"/><path d="M358.2 95.1L367.3 99.7" stroke-width="3.0"/><path d="M397.0 144.0L396.1 157.4" stroke-width="2.0"/><path d="M296.6 103.9L302.8 99.3" stroke-width="2.5"/><path d="M328.1 87.7L333.3 87.3" stroke-width="3.0"/><path d="M316.9 90.2L325.3 88.1" stroke-width="3.0"/><path d="M293.1 195.7L286.4 189.2" stroke-width="3.0"/><path d="M365.1 202.7L358.6 205.5" stroke-width="2.5"/><path d="M286.9 176.8L279.9 160.9" stroke-width="2.5"/><path d="M266.9 151.2L266.6 147.0" stroke-width="2.5"/><path d="M440.9 104.4L453.9 92.9" stroke-width="3.0"/><path d="M445.0 183.8L439.3 176.9" stroke-width="3.0"/><path d="M428.5 127.5L434.2 113.8" stroke-width="2.0"/><path d="M536.9 110.9L543.2 121.5" stroke-width="2.0"/><path d="M433.7 127.0L435.7 121.8" stroke-width="2.0"/><path d="M533.7 191.6L519.2 201.6" stroke-width="3.0"/><path d="M431.9 133.4L437.8 117.8" stroke-width="2.5"/><path d="M531.0 106.2L535.1 111.0" stroke-width="2.0"/><path d="M701.9 148.8L700.0 157.9" stroke-width="2.5"/><path d="M628.2 201.4L622.2 199.8" stroke-width="2.0"/><path d="M580.3 140.6L581.0 133.2" stroke-width="3.0"/><path d="M578.1 110.5L585.9 97.3" stroke-width="3.0"/><path d="M618.2 195.5L604.8 187.9" stroke-width="2.5"/><path d="M694.2 184.9L681.2 196.8" stroke-width="2.0"/><path d="M580.3 144.1L581.0 133.2" stroke-width="2.0"/><path d="M696.5 125.1L698.1 130.9" stroke-width="2.5"/><path d="M683.8 182.7L678.8 187.1" stroke-width="2.0"/><path d="M691.0 107.4L693.8 111.5" stroke-width="2.0"/><path d="M680.6 93.8L690.7 103.9" stroke-width="2.0"/><path d="M790.2 197.5L774.9 194.6" stroke-width="2.5"/><path d="M837.2 102.5L841.3 107.5" stroke-width="2.5"/><path d="M740.2 115.0L742.3 111.1" stroke-width="3.0"/><path d="M852.5 174.8L846.0 183.5" stroke-width="2.0"/><path d="M779.1 197.2L772.4 195.2" stroke-width="3.0"/><path d="M855.3 112.6L859.8 129.0" stroke-width="2.5"/><path d="M751.4 178.2L748.1 174.4" stroke-width="2.5"/><path d="M754.3 184.7L750.9 181.7" stroke-width="2.0"/><path d="M814.6 70.4L829.1 76.9" stroke-width="2.0"/><path d="M816.1 86.4L822.2 89.1" stroke-width="3.0"/><path d="M80.4 350.3L66.6 359.0" stroke-width="2.0"/><path d="M-16.4 320.0L-18.0 306.5" stroke-width="2.5"/><path d="M42.5 365.5L28.6 363.7" stroke-width="3.0"/><path d="M98.9 333.8L92.7 343.6" stroke-width="2.5"/><path d="M97.1 334.0L88.3 346.7" stroke-width="3.0"/><path d="M-5.1 273.6L5.8 261.5" stroke-width="3.0"/><path d="M90.4 272.6L97.1 285.1" stroke-width="3.0"/><path d="M-4.7 265.8L7.7 254.7" stroke-width="3.0"/><path d="M-9.6 261.4L-2.0 254.0" stroke-width="2.5"/><path d="M-16.4 301.8L-15.0 292.6" stroke-width="2.5"/><path d="M-18.7 281.6L-14.9 273.8" stroke-width="2.5"/><path d="M207.1 367.9L195.5 369.5" stroke-width="2.5"/><path d="M246.0 324.1L243.1 330.6" stroke-width="2.0"/><path d="M144.1 270.7L154.1 259.7" stroke-width="2.0"/><path d="M179.2 247.3L193.8 246.0" stroke-width="2.0"/><path d="M222.9 354.6L216.8 357.9" stroke-width="2.5"/><path d="M123.1 315.4L122.3 309.1" stroke-width="2.5"/><path d="M215.1 251.0L219.1 252.9" stroke-width="3.0"/><path d="M133.8 299.4L137.2 284.0" stroke-width="2.5"/><path d="M282.3 299.0L284.3 286.7" stroke-width="2.5"/><path d="M372.0 352.3L366.7 355.3" stroke-width="2.0"/><path d="M406.5 297.4L406.5 307.7" stroke-width="2.0"/><path d="M395.1 275.5L397.4 280.7" stroke-width="3.0"/><path d="M388.4 339.3L381.5 346.7" stroke-width="2.0"/><path d="M387.8 258.9L396.8 271.3" stroke-width="2.5"/><path d="M370.9 351.2L359.8 356.6" stroke-width="2.5"/><path d="M389.4 271.3L394.8 282.4" stroke-width="2.5"/><path d="M401.2 304.2L398.6 319.5" stroke-width="2.0"/><path d="M431.0 295.5L433.8 281.6" stroke-width="3.0"/><path d="M444.2 341.5L436.5 331.4" stroke-width="2.0"/><path d="M495.2 239.5L499.6 240.1" stroke-width="3.0"/><path d="M544.5 316.3L543.1 320.4" stroke-width="3.0"/><path d="M444.8 260.0L453.2 252.3" stroke-width="3.0"/><path d="M461.1 362.6L449.1 356.0" stroke-width="2.5"/><path d="M430.2 310.4L429.4 304.0" stroke-width="2.0"/><path d="M464.4 247.4L470.6 244.9" stroke-width="2.0"/><path d="M447.0 253.8L456.0 247.1" stroke-width="2.5"/><path d="M685.2 330.9L677.4 340.0" stroke-width="3.0"/><path d="M581.2 312.3L580.0 306.3" stroke-width="3.0"/><path d="M676.3 247.0L681.9 251.8" stroke-width="2.0"/><path d="M685.3 262.7L692.9 276.5" stroke-width="2.5"/><path d="M631.2 355.7L624.2 354.5" stroke-width="2.0"/><path d="M587.2 335.0L580.1 322.7" stroke-width="3.0"/><path d="M696.3 313.9L693.9 320.9" stroke-width="2.0"/><path d="M638.6 357.5L621.9 355.5" stroke-width="3.0"/><path d="M666.4 246.0L673.8 250.9" stroke-width="2.5"/><path d="M799.5 353.9L793.0 355.1" stroke-width="2.5"/><path d="M847.1 263.6L852.4 275.7" stroke-width="3.0"/><path d="M802.3 234.2L816.6 239.7" stroke-width="3.0"/><path d="M722.9 324.5L718.7 313.1" stroke-width="3.0"/><path d="M811.7 242.3L824.9 251.0" stroke-width="3.0"/><path d="M726.0 307.0L725.1 292.8" stroke-width="3.0"/><path d="M718.5 312.3L716.5 297.4" stroke-width="3.0"/><path d="M824.9 344.7L820.0 348.2" stroke-width="2.0"/><path d="M831.1 253.0L838.1 261.6" stroke-width="2.0"/><path d="M822.8 344.5L815.6 349.2" stroke-width="2.5"/><path d="M817.3 348.2L809.8 352.0" stroke-width="3.0"/><path d="M-17.8 434.7L-14.4 425.1" stroke-width="3.0"/><path d="M95.0 404.1L98.6 408.3" stroke-width="3.0"/><path d="M110.1 440.8L111.0 453.0" stroke-width="2.0"/><path d="M68.2 393.4L82.8 401.9" stroke-width="3.0"/><path d="M99.4 432.2L102.4 447.9" stroke-width="3.0"/><path d="M148.0 494.7L143.4 489.8" stroke-width="2.0"/><path d="M155.1 496.0L149.6 491.1" stroke-width="3.0"/><path d="M159.4 497.2L147.5 486.5" stroke-width="3.0"/><path d="M222.2 394.6L234.9 403.9" stroke-width="3.0"/><path d="M154.9 400.4L164.3 394.2" stroke-width="2.5"/><path d="M240.2 411.9L247.5 424.2" stroke-width="2.5"/><path d="M222.5 499.6L215.6 503.0" stroke-width="2.5"/><path d="M255.4 446.2L255.2 453.4" stroke-width="3.0"/><path d="M179.3 390.1L190.3 388.6" stroke-width="2.0"/><path d="M248.0 429.9L250.8 445.2" stroke-width="2.0"/><path d="M273.4 460.7L271.8 446.2" stroke-width="3.0"/><path d="M342.9 507.8L332.8 507.2" stroke-width="2.0"/><path d="M284.6 467.5L281.2 455.8" stroke-width="2.5"/><path d="M392.1 398.5L399.7 408.2" stroke-width="3.0"/><path d="M286.6 418.1L288.8 414.1" stroke-width="3.0"/><path d="M403.7 441.8L402.7 456.9" stroke-width="3.0"/><path d="M289.6 474.4L283.5 459.0" stroke-width="3.0"/><path d="M375.5 493.7L363.9 500.0" stroke-width="2.0"/><path d="M309.8 392.9L314.2 390.5" stroke-width="2.5"/><path d="M289.3 399.8L297.9 391.6" stroke-width="3.0"/><path d="M389.9 405.9L395.2 413.6" stroke-width="2.5"/><path d="M381.8 389.4L392.1 398.5" stroke-width="3.0"/><path d="M462.0 500.7L450.8 493.9" stroke-width="3.0"/><path d="M521.6 390.1L535.2 401.5" stroke-width="2.5"/><path d="M441.3 405.0L451.9 394.2" stroke-width="2.5"/><path d="M480.9 499.3L476.7 498.5" stroke-width="2.5"/><path d="M430.6 435.0L434.6 419.4" stroke-width="2.0"/><path d="M439.6 471.3L434.3 459.1" stroke-width="2.0"/><path d="M435.9 463.6L433.8 457.4" stroke-width="2.0"/><path d="M706.5 427.4L707.4 444.6" stroke-width="3.0"/><path d="M679.1 387.3L688.2 395.9" stroke-width="2.5"/><path d="M611.0 490.3L607.0 488.0" stroke-width="2.5"/><path d="M650.8 495.6L634.9 496.9" stroke-width="2.5"/><path d="M680.5 390.9L688.2 398.9" stroke-width="2.0"/><path d="M588.3 483.8L579.8 471.7" stroke-width="2.5"/><path d="M599.8 391.7L610.6 384.7" stroke-width="3.0"/><path d="M592.0 401.4L595.1 397.9" stroke-width="3.0"/><path d="M654.1 499.7L646.8 501.2" stroke-width="2.0"/><path d="M814.0 488.8L804.2 492.8" stroke-width="2.0"/><path d="M746.7 484.5L734.9 471.5" stroke-width="2.5"/><path d="M829.4 392.8L835.7 400.1" stroke-width="3.0"/><path d="M829.2 477.4L816.8 487.2" stroke-width="3.0"/><path d="M793.7 370.5L797.8 371.1" stroke-width="2.5"/><path d="M831.7 395.1L839.3 405.6" stroke-width="2.0"/><path d="M726.2 426.8L727.6 420.2" stroke-width="3.0"/><path d="M729.4 419.2L735.6 405.2" stroke-width="2.0"/><path d="M852.9 440.2L852.3 446.3" stroke-width="3.0"/><path d="M730.9 407.8L735.9 399.5" stroke-width="3.0"/><path d="M93.6 567.1L98.1 576.2" stroke-width="3.0"/><path d="M85.5 634.5L78.1 640.8" stroke-width="3.0"/><path d="M101.1 646.4L94.6 655.9" stroke-width="3.0"/><path d="M-6.1 554.7L2.0 547.1" stroke-width="2.0"/><path d="M79.8 644.0L66.0 651.8" stroke-width="3.0"/><path d="M-9.0 629.3L-13.8 620.6" stroke-width="3.0"/><path d="M3.0 555.2L8.7 550.8" stroke-width="3.0"/><path d="M94.5 571.7L97.2 577.8" stroke-width="2.5"/><path d="M99.5 586.4L100.3 593.9" stroke-width="2.5"/><path d="M91.0 660.0L86.7 664.3" stroke-width="2.0"/><path d="M79.0 541.0L82.9 543.9" stroke-width="2.5"/><path d="M136.3 563.5L142.6 554.4" stroke-width="2.5"/><path d="M133.8 587.7L136.1 576.5" stroke-width="2.0"/><path d="M157.4 549.5L166.7 543.9" stroke-width="3.0"/><path d="M234.8 549.8L243.2 559.1" stroke-width="2.5"/><path d="M156.5 667.8L143.7 656.7" stroke-width="2.0"/><path d="M144.0 555.1L156.9 543.3" stroke-width="3.0"/><path d="M130.5 596.9L131.6 584.4" stroke-width="3.0"/><path d="M200.2 678.7L186.4 678.8" stroke-width="2.0"/><path d="M406.2 591.3L405.1 604.9" stroke-width="2.5"/><path d="M374.6 540.7L384.3 547.6" stroke-width="2.5"/><path d="M400.9 581.0L401.6 587.8" stroke-width="3.0"/><path d="M412.0 586.3L413.1 597.2" stroke-width="3.0"/><path d="M274.8 610.6L274.3 604.8" stroke-width="2.5"/><path d="M409.7 605.5L407.3 617.8" stroke-width="2.5"/><path d="M353.7 532.0L370.1 537.0" stroke-width="3.0"/><path d="M291.1 621.8L285.6 609.7" stroke-width="2.0"/><path d="M361.6 536.4L369.3 539.3" stroke-width="2.5"/><path d="M311.5 667.8L302.1 661.3" stroke-width="3.0"/><path d="M551.8 595.3L549.3 605.4" stroke-width="2.5"/><path d="M547.6 629.8L539.8 639.5" stroke-width="2.0"/><path d="M548.3 622.0L537.2 635.8" stroke-width="2.5"/><path d="M443.1 558.9L445.4 555.5" stroke-width="2.5"/><path d="M473.3 528.3L478.9 526.6" stroke-width="2.5"/><path d="M546.0 615.8L538.5 625.5" stroke-width="3.0"/><path d="M451.2 543.6L458.8 537.6" stroke-width="3.0"/><path d="M544.7 622.6L541.6 626.6" stroke-width="2.5"/><path d="M449.0 543.5L457.5 536.4" stroke-width="2.5"/><path d="M638.2 530.2L644.3 529.8" stroke-width="2.5"/><path d="M575.7 591.4L578.7 572.3" stroke-width="3.0"/><path d="M677.8 539.4L684.6 544.6" stroke-width="2.5"/><path d="M682.5 542.8L688.1 547.9" stroke-width="2.5"/><path d="M659.6 527.5L667.3 529.9" stroke-width="2.5"/><path d="M692.2 635.0L685.1 641.6" stroke-width="3.0"/><path d="M697.9 549.4L704.6 560.6" stroke-width="3.0"/><path d="M694.7 541.6L702.8 552.4" stroke-width="2.5"/><path d="M733.3 613.1L730.4 601.9" stroke-width="3.0"/><path d="M823.4 530.9L835.0 538.3" stroke-width="2.5"/></g>
<path d="M-26 164h2v2h-2zM-28 150h2v2h-2zM18 82h4v4h-4zM80 114h3v3h-3zM80 120h2v2h-2zM84 124h2v2h-2zM78 106h2v2h-2zM84 124h2v2h-2zM30 90h2v2h-2zM26 80h2v2h-2zM40 94h2v2h-2zM26 90h3v3h-3zM-4 100h4v4h-4zM-4 102h2v2h-2zM68 94h2v2h-2zM98 138h2v2h-2zM88 146h4v4h-4zM94 152h2v2h-2zM94 148h4v4h-4zM98 148h2v2h-2zM-30 180h4v4h-4zM34 216h3v3h-3zM-28 174h4v4h-4zM-18 184h2v2h-2zM-26 168h4v4h-4zM-6 204h2v2h-2zM-24 170h2v2h-2zM14 214h4v4h-4zM22 208h2v2h-2zM98 152h4v4h-4zM96 166h4v4h-4zM60 104h3v3h-3zM-10 108h2v2h-2zM-20 102h2v2h-2zM72 114h4v4h-4zM74 108h4v4h-4zM66 106h4v4h-4zM6 86h3v3h-3zM22 214h3v3h-3zM88 128h2v2h-2zM96 132h4v4h-4zM94 140h2v2h-2zM6 208h2v2h-2zM20 208h2v2h-2zM14 208h2v2h-2zM34 214h2v2h-2zM44 212h4v4h-4zM-34 166h3v3h-3zM-34 150h4v4h-4zM-30 162h2v2h-2zM-28 142h2v2h-2zM-16 198h3v3h-3zM-22 184h2v2h-2zM-28 168h2v2h-2zM-32 168h2v2h-2zM-22 172h3v3h-3zM10 208h2v2h-2zM18 216h4v4h-4zM20 212h2v2h-2zM18 208h3v3h-3zM10 212h3v3h-3zM10 82h2v2h-2zM4 100h3v3h-3zM6 98h2v2h-2zM90 166h4v4h-4zM52 210h2v2h-2zM48 210h2v2h-2zM48 214h4v4h-4zM44 210h4v4h-4zM96 164h2v2h-2zM76 100h2v2h-2zM68 104h2v2h-2zM64 106h2v2h-2zM-18 124h2v2h-2zM-14 98h2v2h-2zM-24 124h2v2h-2zM90 172h2v2h-2zM38 208h2v2h-2zM98 132h2v2h-2zM224 202h2v2h-2zM228 194h2v2h-2zM134 180h2v2h-2zM136 188h2v2h-2zM136 194h2v2h-2zM210 98h4v4h-4zM212 94h2v2h-2zM216 94h2v2h-2zM128 122h2v2h-2zM134 114h4v4h-4zM134 124h2v2h-2zM122 174h2v2h-2zM136 186h4v4h-4zM128 182h2v2h-2zM186 216h2v2h-2zM192 214h4v4h-4zM136 186h3v3h-3zM132 178h2v2h-2zM134 182h2v2h-2zM220 194h2v2h-2zM234 186h2v2h-2zM130 184h4v4h-4zM124 178h2v2h-2zM184 94h2v2h-2zM180 88h4v4h-4zM166 90h3v3h-3zM218 102h3v3h-3zM216 84h4v4h-4zM146 106h2v2h-2zM146 106h4v4h-4zM138 116h3v3h-3zM136 112h2v2h-2zM126 148h2v2h-2zM126 150h4v4h-4zM120 140h4v4h-4zM126 148h2v2h-2zM116 136h2v2h-2zM252 148h3v3h-3zM250 152h2v2h-2zM240 160h3v3h-3zM176 90h2v2h-2zM174 92h4v4h-4zM166 88h3v3h-3zM170 82h2v2h-2zM232 102h2v2h-2zM204 202h2v2h-2zM192 216h2v2h-2zM226 192h3v3h-3zM140 188h4v4h-4zM238 168h2v2h-2zM240 158h4v4h-4zM252 158h4v4h-4zM220 100h2v2h-2zM222 102h2v2h-2zM156 100h2v2h-2zM144 92h2v2h-2zM140 92h2v2h-2zM242 166h2v2h-2zM146 194h2v2h-2zM236 172h2v2h-2zM246 174h2v2h-2zM244 142h2v2h-2zM174 204h2v2h-2zM164 98h2v2h-2zM170 94h2v2h-2zM308 82h2v2h-2zM318 88h2v2h-2zM318 90h4v4h-4zM314 92h3v3h-3zM324 90h3v3h-3zM292 188h2v2h-2zM296 192h2v2h-2zM350 86h2v2h-2zM342 90h4v4h-4zM344 86h3v3h-3zM274 132h2v2h-2zM270 134h3v3h-3zM274 142h2v2h-2zM278 110h2v2h-2zM292 112h2v2h-2zM358 88h3v3h-3zM376 202h2v2h-2zM368 200h2v2h-2zM398 136h4v4h-4zM404 148h2v2h-2zM362 86h3v3h-3zM354 82h4v4h-4zM356 90h2v2h-2zM296 106h3v3h-3zM300 102h3v3h-3zM290 94h2v2h-2zM294 88h4v4h-4zM378 94h2v2h-2zM380 104h3v3h-3zM332 74h3v3h-3zM294 188h2v2h-2zM356 206h2v2h-2zM360 196h3v3h-3zM300 104h2v2h-2zM280 164h2v2h-2zM278 172h2v2h-2zM282 174h4v4h-4zM278 166h2v2h-2zM274 164h3v3h-3zM398 138h2v2h-2zM396 140h2v2h-2zM342 80h2v2h-2zM326 76h2v2h-2zM350 92h2v2h-2zM348 80h2v2h-2zM336 88h2v2h-2zM278 152h2v2h-2zM280 146h2v2h-2zM274 144h3v3h-3zM332 84h2v2h-2zM340 88h2v2h-2zM330 80h3v3h-3zM346 88h2v2h-2zM380 112h2v2h-2zM390 98h2v2h-2zM384 106h2v2h-2zM380 102h4v4h-4zM392 126h2v2h-2zM402 126h4v4h-4zM396 126h3v3h-3zM392 158h2v2h-2zM380 192h2v2h-2zM294 106h2v2h-2zM360 88h2v2h-2zM362 84h2v2h-2zM394 108h2v2h-2zM294 106h2v2h-2zM312 202h2v2h-2zM326 84h2v2h-2zM426 140h2v2h-2zM428 140h4v4h-4zM542 112h2v2h-2zM540 112h3v3h-3zM492 206h2v2h-2zM488 204h2v2h-2zM506 202h2v2h-2zM556 146h4v4h-4zM548 142h2v2h-2zM552 142h2v2h-2zM532 184h4v4h-4zM534 184h4v4h-4zM456 94h4v4h-4zM432 176h4v4h-4zM448 186h3v3h-3zM454 200h4v4h-4zM446 186h2v2h-2zM448 194h3v3h-3zM446 196h2v2h-2zM456 192h2v2h-2zM448 106h2v2h-2zM446 104h2v2h-2zM446 106h2v2h-2zM430 142h2v2h-2zM446 184h4v4h-4zM436 186h2v2h-2zM438 186h2v2h-2zM446 108h2v2h-2zM512 86h2v2h-2zM512 86h2v2h-2zM522 92h2v2h-2zM428 118h3v3h-3zM438 118h4v4h-4zM434 124h2v2h-2zM538 112h3v3h-3zM426 140h2v2h-2zM428 134h2v2h-2zM430 140h2v2h-2zM436 124h2v2h-2zM436 114h3v3h-3zM492 82h2v2h-2zM488 90h2v2h-2zM518 192h2v2h-2zM526 188h3v3h-3zM522 190h4v4h-4zM524 196h2v2h-2zM428 120h2v2h-2zM430 124h2v2h-2zM430 122h2v2h-2zM514 86h2v2h-2zM522 96h3v3h-3zM528 88h2v2h-2zM542 174h2v2h-2zM428 144h4v4h-4zM430 140h2v2h-2zM470 90h2v2h-2zM542 184h2v2h-2zM534 184h2v2h-2zM532 190h4v4h-4zM454 90h4v4h-4zM528 94h3v3h-3zM520 94h2v2h-2zM528 104h2v2h-2zM518 96h2v2h-2zM540 114h2v2h-2zM442 190h2v2h-2zM540 168h2v2h-2zM438 98h2v2h-2zM514 198h2v2h-2zM520 92h2v2h-2zM516 96h2v2h-2zM456 84h2v2h-2zM468 78h2v2h-2zM466 200h2v2h-2zM460 94h2v2h-2zM542 102h2v2h-2zM548 136h2v2h-2zM482 76h2v2h-2zM464 202h2v2h-2zM470 92h2v2h-2zM428 158h2v2h-2zM422 152h2v2h-2zM696 124h2v2h-2zM704 108h4v4h-4zM696 122h2v2h-2zM624 204h2v2h-2zM626 206h3v3h-3zM634 202h2v2h-2zM576 132h2v2h-2zM594 110h2v2h-2zM598 194h2v2h-2zM612 192h3v3h-3zM608 186h3v3h-3zM624 198h3v3h-3zM612 196h3v3h-3zM702 136h2v2h-2zM702 134h2v2h-2zM702 138h3v3h-3zM686 184h2v2h-2zM676 196h2v2h-2zM636 80h2v2h-2zM636 76h3v3h-3zM632 88h3v3h-3zM590 116h4v4h-4zM704 136h4v4h-4zM700 126h3v3h-3zM696 176h2v2h-2zM682 188h3v3h-3zM680 184h4v4h-4zM620 194h2v2h-2zM618 192h4v4h-4zM616 196h3v3h-3zM598 100h3v3h-3zM588 114h2v2h-2zM586 116h3v3h-3zM696 122h2v2h-2zM698 128h2v2h-2zM608 192h2v2h-2zM612 190h2v2h-2zM678 194h2v2h-2zM682 184h2v2h-2zM682 192h2v2h-2zM690 170h3v3h-3zM596 110h2v2h-2zM592 106h4v4h-4zM590 110h2v2h-2zM588 94h2v2h-2zM694 112h4v4h-4zM594 102h2v2h-2zM598 94h2v2h-2zM598 100h3v3h-3zM588 118h2v2h-2zM578 118h2v2h-2zM626 198h2v2h-2zM684 94h2v2h-2zM676 98h2v2h-2zM690 90h2v2h-2zM634 200h2v2h-2zM628 204h4v4h-4zM628 208h2v2h-2zM644 202h4v4h-4zM628 198h3v3h-3zM640 206h4v4h-4zM592 172h2v2h-2zM600 196h2v2h-2zM662 92h2v2h-2zM638 204h2v2h-2zM584 156h2v2h-2zM678 86h2v2h-2zM576 120h2v2h-2zM674 90h2v2h-2zM792 196h3v3h-3zM782 196h2v2h-2zM786 200h2v2h-2zM792 200h2v2h-2zM738 112h2v2h-2zM740 104h2v2h-2zM840 108h2v2h-2zM846 92h2v2h-2zM848 96h3v3h-3zM852 98h3v3h-3zM742 112h2v2h-2zM734 154h2v2h-2zM734 136h2v2h-2zM824 200h2v2h-2zM816 190h2v2h-2zM826 196h4v4h-4zM816 196h2v2h-2zM848 164h3v3h-3zM838 182h2v2h-2zM834 182h3v3h-3zM770 202h2v2h-2zM826 194h2v2h-2zM830 192h2v2h-2zM740 116h2v2h-2zM734 106h4v4h-4zM736 118h3v3h-3zM850 122h4v4h-4zM848 122h4v4h-4zM858 114h2v2h-2zM846 108h2v2h-2zM852 110h2v2h-2zM854 108h2v2h-2zM854 110h2v2h-2zM750 184h2v2h-2zM764 92h3v3h-3zM768 76h2v2h-2zM758 88h3v3h-3zM746 172h2v2h-2zM830 90h2v2h-2zM818 88h2v2h-2zM738 128h2v2h-2zM726 128h4v4h-4zM730 136h2v2h-2zM728 130h2v2h-2zM740 168h4v4h-4zM814 86h2v2h-2zM740 118h2v2h-2zM846 98h2v2h-2zM834 84h4v4h-4zM748 182h2v2h-2zM812 74h2v2h-2zM822 76h2v2h-2zM834 80h3v3h-3zM850 124h2v2h-2zM760 192h2v2h-2zM838 92h2v2h-2zM856 126h2v2h-2zM846 174h2v2h-2zM856 140h2v2h-2zM740 164h2v2h-2zM730 136h2v2h-2zM736 116h2v2h-2zM834 184h2v2h-2zM808 78h2v2h-2zM-18 308h3v3h-3zM76 360h2v2h-2zM100 330h4v4h-4zM108 328h2v2h-2zM98 338h4v4h-4zM-24 312h3v3h-3zM42 246h4v4h-4zM42 246h3v3h-3zM50 238h2v2h-2zM104 328h2v2h-2zM88 258h2v2h-2zM86 266h3v3h-3zM90 258h3v3h-3zM80 264h2v2h-2zM72 366h2v2h-2zM64 364h4v4h-4zM64 360h4v4h-4zM80 358h3v3h-3zM84 352h4v4h-4zM78 362h4v4h-4zM74 360h2v2h-2zM-6 278h2v2h-2zM-20 280h4v4h-4zM34 364h4v4h-4zM36 370h3v3h-3zM36 374h4v4h-4zM38 366h2v2h-2zM36 368h4v4h-4zM88 342h4v4h-4zM94 352h2v2h-2zM94 340h3v3h-3zM4 264h2v2h-2zM4 258h2v2h-2zM16 252h3v3h-3zM92 338h4v4h-4zM100 346h3v3h-3zM96 336h2v2h-2zM90 342h2v2h-2zM102 340h2v2h-2zM96 348h3v3h-3zM-4 256h4v4h-4zM-4 266h3v3h-3zM-10 268h2v2h-2zM2 258h2v2h-2zM90 270h2v2h-2zM98 282h2v2h-2zM-4 266h3v3h-3zM-4 264h2v2h-2zM4 262h4v4h-4zM2 262h3v3h-3zM6 258h2v2h-2zM66 254h4v4h-4zM88 340h4v4h-4zM82 350h2v2h-2zM-24 304h2v2h-2zM-6 274h2v2h-2zM-22 288h3v3h-3zM-14 282h3v3h-3zM-8 280h2v2h-2zM-14 296h4v4h-4zM10 260h2v2h-2zM6 252h2v2h-2zM62 366h2v2h-2zM40 370h2v2h-2zM50 366h2v2h-2zM20 244h2v2h-2zM16 366h2v2h-2zM88 256h2v2h-2zM8 256h2v2h-2zM50 362h2v2h-2zM70 362h2v2h-2zM20 358h2v2h-2zM-14 322h2v2h-2zM78 352h2v2h-2zM102 292h2v2h-2zM96 274h2v2h-2zM76 256h2v2h-2zM182 364h3v3h-3zM184 372h2v2h-2zM184 370h2v2h-2zM204 368h2v2h-2zM142 334h2v2h-2zM142 332h2v2h-2zM254 322h4v4h-4zM250 324h2v2h-2zM252 312h4v4h-4zM248 326h2v2h-2zM246 332h2v2h-2zM242 350h2v2h-2zM144 262h3v3h-3zM152 258h2v2h-2zM136 266h4v4h-4zM258 300h2v2h-2zM212 240h3v3h-3zM202 236h2v2h-2zM202 244h2v2h-2zM196 240h2v2h-2zM202 246h3v3h-3zM254 300h3v3h-3zM258 290h4v4h-4zM244 284h4v4h-4zM256 290h3v3h-3zM222 352h2v2h-2zM224 354h2v2h-2zM220 366h2v2h-2zM224 358h4v4h-4zM226 354h3v3h-3zM248 280h4v4h-4zM248 278h2v2h-2zM252 278h2v2h-2zM242 268h2v2h-2zM156 252h2v2h-2zM262 298h2v2h-2zM252 296h4v4h-4zM204 246h4v4h-4zM244 324h4v4h-4zM252 332h4v4h-4zM260 320h2v2h-2zM160 246h2v2h-2zM184 240h2v2h-2zM154 248h2v2h-2zM176 248h2v2h-2zM136 276h2v2h-2zM134 280h3v3h-3zM126 288h3v3h-3zM208 238h2v2h-2zM214 250h2v2h-2zM128 318h2v2h-2zM126 320h2v2h-2zM142 346h4v4h-4zM146 340h4v4h-4zM142 350h2v2h-2zM238 348h3v3h-3zM250 340h2v2h-2zM152 350h2v2h-2zM162 356h4v4h-4zM152 354h4v4h-4zM186 370h2v2h-2zM192 370h2v2h-2zM206 364h3v3h-3zM176 370h2v2h-2zM186 370h3v3h-3zM188 370h2v2h-2zM122 304h2v2h-2zM130 306h3v3h-3zM130 296h4v4h-4zM122 298h2v2h-2zM130 300h2v2h-2zM130 294h3v3h-3zM148 346h2v2h-2zM148 346h2v2h-2zM150 346h2v2h-2zM144 340h4v4h-4zM150 348h2v2h-2zM136 340h2v2h-2zM146 350h4v4h-4zM156 356h4v4h-4zM226 248h2v2h-2zM258 316h3v3h-3zM256 318h4v4h-4zM256 320h2v2h-2zM248 326h2v2h-2zM256 312h2v2h-2zM248 312h2v2h-2zM256 312h4v4h-4zM224 254h2v2h-2zM226 246h4v4h-4zM134 294h3v3h-3zM244 274h2v2h-2zM132 312h2v2h-2zM144 342h2v2h-2zM152 252h2v2h-2zM132 308h2v2h-2zM184 240h2v2h-2zM204 362h2v2h-2zM130 324h2v2h-2zM220 362h2v2h-2zM172 364h2v2h-2zM150 354h2v2h-2zM132 304h2v2h-2zM278 282h2v2h-2zM386 354h3v3h-3zM394 336h2v2h-2zM392 332h2v2h-2zM388 332h2v2h-2zM280 298h4v4h-4zM272 296h2v2h-2zM368 352h2v2h-2zM374 350h2v2h-2zM376 358h2v2h-2zM360 356h2v2h-2zM398 306h2v2h-2zM406 300h3v3h-3zM404 296h2v2h-2zM398 320h2v2h-2zM402 310h3v3h-3zM400 312h2v2h-2zM376 356h2v2h-2zM368 362h2v2h-2zM400 280h3v3h-3zM390 272h2v2h-2zM400 276h4v4h-4zM384 338h2v2h-2zM380 346h2v2h-2zM396 278h3v3h-3zM392 270h2v2h-2zM282 320h2v2h-2zM282 320h2v2h-2zM398 330h2v2h-2zM396 326h3v3h-3zM404 316h4v4h-4zM406 320h2v2h-2zM396 330h2v2h-2zM354 366h2v2h-2zM280 300h2v2h-2zM272 308h3v3h-3zM270 306h2v2h-2zM284 304h2v2h-2zM280 302h4v4h-4zM284 306h2v2h-2zM274 298h2v2h-2zM398 320h4v4h-4zM398 328h2v2h-2zM400 270h4v4h-4zM392 276h2v2h-2zM396 270h2v2h-2zM380 260h2v2h-2zM308 354h4v4h-4zM300 350h3v3h-3zM306 350h2v2h-2zM366 356h2v2h-2zM368 358h2v2h-2zM360 360h2v2h-2zM364 364h2v2h-2zM282 268h4v4h-4zM286 268h2v2h-2zM290 268h2v2h-2zM286 262h2v2h-2zM400 274h2v2h-2zM406 314h4v4h-4zM398 300h3v3h-3zM390 340h2v2h-2zM384 342h3v3h-3zM392 338h4v4h-4zM350 368h2v2h-2zM350 358h2v2h-2zM348 360h2v2h-2zM346 362h2v2h-2zM350 368h2v2h-2zM348 362h2v2h-2zM400 280h4v4h-4zM382 254h2v2h-2zM380 252h4v4h-4zM382 250h3v3h-3zM374 252h3v3h-3zM380 260h2v2h-2zM376 252h2v2h-2zM400 286h2v2h-2zM392 278h2v2h-2zM402 302h4v4h-4zM294 250h2v2h-2zM294 338h2v2h-2zM286 326h2v2h-2zM370 252h2v2h-2zM320 238h2v2h-2zM314 360h2v2h-2zM396 290h2v2h-2zM348 366h2v2h-2zM538 338h4v4h-4zM544 316h4v4h-4zM468 364h2v2h-2zM426 286h2v2h-2zM434 278h2v2h-2zM428 296h2v2h-2zM430 292h2v2h-2zM424 300h2v2h-2zM438 334h3v3h-3zM472 364h2v2h-2zM474 362h2v2h-2zM548 284h2v2h-2zM556 286h3v3h-3zM558 290h2v2h-2zM500 240h2v2h-2zM504 244h2v2h-2zM492 236h2v2h-2zM534 250h2v2h-2zM532 252h3v3h-3zM530 260h2v2h-2zM550 318h4v4h-4zM546 308h3v3h-3zM544 318h2v2h-2zM432 302h2v2h-2zM434 324h2v2h-2zM432 326h2v2h-2zM432 320h2v2h-2zM428 318h2v2h-2zM434 314h2v2h-2zM424 320h4v4h-4zM428 318h4v4h-4zM456 252h3v3h-3zM442 258h2v2h-2zM442 254h3v3h-3zM454 250h2v2h-2zM444 258h4v4h-4zM458 350h4v4h-4zM432 340h2v2h-2zM430 334h2v2h-2zM486 364h3v3h-3zM432 320h2v2h-2zM434 330h4v4h-4zM420 298h2v2h-2zM420 302h2v2h-2zM424 294h2v2h-2zM432 292h2v2h-2zM430 304h2v2h-2zM424 316h2v2h-2zM430 300h2v2h-2zM462 246h2v2h-2zM470 360h2v2h-2zM518 240h2v2h-2zM514 244h3v3h-3zM426 304h2v2h-2zM456 250h3v3h-3zM450 256h2v2h-2zM428 286h2v2h-2zM420 290h2v2h-2zM432 292h2v2h-2zM480 360h2v2h-2zM454 248h2v2h-2zM482 360h2v2h-2zM422 310h2v2h-2zM548 302h2v2h-2zM530 346h2v2h-2zM440 332h2v2h-2zM536 334h2v2h-2zM468 246h2v2h-2zM432 318h2v2h-2zM462 362h2v2h-2zM544 280h2v2h-2zM526 354h2v2h-2zM696 322h2v2h-2zM700 328h4v4h-4zM596 342h4v4h-4zM602 344h2v2h-2zM588 346h2v2h-2zM598 344h3v3h-3zM606 248h2v2h-2zM622 242h3v3h-3zM612 236h4v4h-4zM674 246h4v4h-4zM670 354h4v4h-4zM668 352h2v2h-2zM614 244h3v3h-3zM600 246h3v3h-3zM680 348h2v2h-2zM684 342h2v2h-2zM684 332h2v2h-2zM674 248h2v2h-2zM680 256h2v2h-2zM668 238h3v3h-3zM666 248h4v4h-4zM674 244h4v4h-4zM636 356h3v3h-3zM640 356h4v4h-4zM654 360h4v4h-4zM648 360h2v2h-2zM654 364h2v2h-2zM634 242h3v3h-3zM626 238h4v4h-4zM632 236h2v2h-2zM636 240h4v4h-4zM688 268h2v2h-2zM690 254h2v2h-2zM690 266h2v2h-2zM700 272h3v3h-3zM580 284h2v2h-2zM698 266h2v2h-2zM694 262h4v4h-4zM688 272h3v3h-3zM696 330h4v4h-4zM690 328h2v2h-2zM594 336h4v4h-4zM580 330h2v2h-2zM588 336h3v3h-3zM588 326h2v2h-2zM704 316h2v2h-2zM690 322h2v2h-2zM696 326h2v2h-2zM696 322h2v2h-2zM634 356h3v3h-3zM624 366h3v3h-3zM636 362h4v4h-4zM638 354h3v3h-3zM644 240h3v3h-3zM586 272h4v4h-4zM582 280h3v3h-3zM676 252h2v2h-2zM672 250h2v2h-2zM668 240h4v4h-4zM670 244h3v3h-3zM624 354h2v2h-2zM608 250h2v2h-2zM612 350h2v2h-2zM594 344h2v2h-2zM612 238h2v2h-2zM676 246h2v2h-2zM644 360h2v2h-2zM680 248h2v2h-2zM642 362h2v2h-2zM598 344h2v2h-2zM576 286h2v2h-2zM660 242h2v2h-2zM692 324h2v2h-2zM786 356h4v4h-4zM774 356h2v2h-2zM780 362h2v2h-2zM746 252h4v4h-4zM752 246h2v2h-2zM728 262h4v4h-4zM738 252h2v2h-2zM796 358h2v2h-2zM800 362h4v4h-4zM840 272h2v2h-2zM840 268h3v3h-3zM808 242h2v2h-2zM802 238h2v2h-2zM804 240h3v3h-3zM724 326h2v2h-2zM726 320h2v2h-2zM722 310h3v3h-3zM848 286h2v2h-2zM840 268h4v4h-4zM846 262h2v2h-2zM834 254h2v2h-2zM824 250h2v2h-2zM824 240h2v2h-2zM822 244h2v2h-2zM820 250h2v2h-2zM820 246h2v2h-2zM724 294h2v2h-2zM812 352h2v2h-2zM820 348h2v2h-2zM822 348h4v4h-4zM842 316h2v2h-2zM800 234h2v2h-2zM746 342h3v3h-3zM746 348h4v4h-4zM744 348h2v2h-2zM748 352h3v3h-3zM724 282h2v2h-2zM730 280h3v3h-3zM842 336h2v2h-2zM826 336h2v2h-2zM748 338h2v2h-2zM736 340h2v2h-2zM736 264h2v2h-2zM722 276h2v2h-2zM744 346h4v4h-4zM750 340h2v2h-2zM742 346h2v2h-2zM818 350h2v2h-2zM832 340h2v2h-2zM820 342h3v3h-3zM832 254h2v2h-2zM828 258h3v3h-3zM822 348h2v2h-2zM818 348h2v2h-2zM814 348h2v2h-2zM806 358h4v4h-4zM816 352h3v3h-3zM816 350h2v2h-2zM810 350h2v2h-2zM844 312h3v3h-3zM852 306h2v2h-2zM854 296h2v2h-2zM842 280h2v2h-2zM846 270h2v2h-2zM850 292h3v3h-3zM854 298h3v3h-3zM848 300h2v2h-2zM822 342h2v2h-2zM816 352h2v2h-2zM778 234h2v2h-2zM838 336h2v2h-2zM766 358h2v2h-2zM852 306h2v2h-2zM798 238h2v2h-2zM768 238h2v2h-2zM734 332h2v2h-2zM728 284h2v2h-2zM842 304h2v2h-2zM748 342h2v2h-2zM764 238h2v2h-2zM38 392h2v2h-2zM32 392h3v3h-3zM42 394h3v3h-3zM-6 486h2v2h-2zM-8 480h2v2h-2zM-10 482h3v3h-3zM-18 430h3v3h-3zM54 394h3v3h-3zM52 388h3v3h-3zM10 404h4v4h-4zM0 414h3v3h-3zM92 408h4v4h-4zM92 412h4v4h-4zM94 424h3v3h-3zM94 408h2v2h-2zM92 418h2v2h-2zM4 406h2v2h-2zM16 396h2v2h-2zM4 408h3v3h-3zM10 398h2v2h-2zM2 410h2v2h-2zM8 496h4v4h-4zM6 504h2v2h-2zM82 496h2v2h-2zM84 496h2v2h-2zM76 502h2v2h-2zM84 496h2v2h-2zM88 494h3v3h-3zM30 394h3v3h-3zM26 390h4v4h-4zM16 388h2v2h-2zM0 500h2v2h-2zM102 446h3v3h-3zM108 450h4v4h-4zM32 392h2v2h-2zM38 390h3v3h-3zM74 400h3v3h-3zM74 398h2v2h-2zM96 490h2v2h-2zM100 438h4v4h-4zM106 434h2v2h-2zM106 442h2v2h-2zM102 446h2v2h-2zM88 406h2v2h-2zM54 382h3v3h-3zM42 382h2v2h-2zM104 450h2v2h-2zM80 396h2v2h-2zM82 400h2v2h-2zM92 412h2v2h-2zM108 470h4v4h-4zM68 508h4v4h-4zM66 518h3v3h-3zM66 514h2v2h-2zM68 506h2v2h-2zM76 514h4v4h-4zM0 490h2v2h-2zM2 490h2v2h-2zM0 500h2v2h-2zM36 386h2v2h-2zM44 516h2v2h-2zM32 508h3v3h-3zM32 516h4v4h-4zM22 506h4v4h-4zM-16 458h2v2h-2zM-22 452h2v2h-2zM84 506h2v2h-2zM70 400h2v2h-2zM-12 450h2v2h-2zM20 502h2v2h-2zM102 422h2v2h-2zM56 386h2v2h-2zM50 522h2v2h-2zM34 514h2v2h-2zM16 396h2v2h-2zM28 392h2v2h-2zM34 514h2v2h-2zM156 492h2v2h-2zM150 500h4v4h-4zM152 488h3v3h-3zM150 492h4v4h-4zM220 390h2v2h-2zM212 392h3v3h-3zM220 394h2v2h-2zM138 490h2v2h-2zM240 498h4v4h-4zM236 500h2v2h-2zM234 496h2v2h-2zM238 496h3v3h-3zM136 420h3v3h-3zM144 416h2v2h-2zM154 496h2v2h-2zM162 496h3v3h-3zM222 388h2v2h-2zM204 388h2v2h-2zM210 390h2v2h-2zM226 398h4v4h-4zM240 498h3v3h-3zM232 498h2v2h-2zM228 492h2v2h-2zM148 410h2v2h-2zM156 402h2v2h-2zM136 408h2v2h-2zM228 396h3v3h-3zM242 400h4v4h-4zM236 404h3v3h-3zM224 398h4v4h-4zM224 400h2v2h-2zM220 396h2v2h-2zM244 486h2v2h-2zM236 486h2v2h-2zM238 488h3v3h-3zM162 396h3v3h-3zM168 394h2v2h-2zM162 398h2v2h-2zM146 406h3v3h-3zM158 510h2v2h-2zM206 512h3v3h-3zM212 504h2v2h-2zM212 514h2v2h-2zM210 502h3v3h-3zM242 416h2v2h-2zM218 508h2v2h-2zM252 448h2v2h-2zM254 456h2v2h-2zM178 384h2v2h-2zM184 388h2v2h-2zM188 390h4v4h-4zM196 384h4v4h-4zM188 380h2v2h-2zM190 388h3v3h-3zM260 436h2v2h-2zM212 390h4v4h-4zM144 406h4v4h-4zM238 398h4v4h-4zM206 394h2v2h-2zM238 404h2v2h-2zM246 414h2v2h-2zM166 506h2v2h-2zM214 386h2v2h-2zM188 384h2v2h-2zM256 428h2v2h-2zM252 416h2v2h-2zM234 394h2v2h-2zM172 502h2v2h-2zM172 502h2v2h-2zM136 470h2v2h-2zM174 512h2v2h-2zM262 456h2v2h-2zM334 382h4v4h-4zM342 388h2v2h-2zM352 380h2v2h-2zM334 388h2v2h-2zM346 378h3v3h-3zM324 388h2v2h-2zM316 390h4v4h-4zM312 392h4v4h-4zM316 384h2v2h-2zM310 384h3v3h-3zM284 450h2v2h-2zM306 394h3v3h-3zM306 400h4v4h-4zM308 390h2v2h-2zM298 402h2v2h-2zM294 406h2v2h-2zM312 388h3v3h-3zM386 482h2v2h-2zM390 482h3v3h-3zM278 456h3v3h-3zM278 450h3v3h-3zM330 508h3v3h-3zM284 464h3v3h-3zM276 458h3v3h-3zM384 406h4v4h-4zM388 410h2v2h-2zM390 406h4v4h-4zM394 400h2v2h-2zM306 492h2v2h-2zM366 504h2v2h-2zM280 414h2v2h-2zM284 412h2v2h-2zM282 422h2v2h-2zM280 472h4v4h-4zM294 484h3v3h-3zM288 474h2v2h-2zM286 474h3v3h-3zM286 462h4v4h-4zM342 384h2v2h-2zM356 380h4v4h-4zM286 468h2v2h-2zM298 404h2v2h-2zM286 406h2v2h-2zM404 444h2v2h-2zM406 452h4v4h-4zM396 426h2v2h-2zM402 422h4v4h-4zM410 436h2v2h-2zM354 506h2v2h-2zM314 386h2v2h-2zM316 384h4v4h-4zM372 500h2v2h-2zM378 506h2v2h-2zM398 468h2v2h-2zM410 448h3v3h-3zM398 462h4v4h-4zM404 474h4v4h-4zM404 458h2v2h-2zM300 400h4v4h-4zM290 400h2v2h-2zM300 402h2v2h-2zM304 400h3v3h-3zM294 480h2v2h-2zM292 474h2v2h-2zM384 408h4v4h-4zM388 412h2v2h-2zM394 412h2v2h-2zM298 492h2v2h-2zM318 386h4v4h-4zM298 398h3v3h-3zM308 386h3v3h-3zM394 400h3v3h-3zM386 406h2v2h-2zM390 406h2v2h-2zM386 400h2v2h-2zM308 386h2v2h-2zM368 496h2v2h-2zM402 464h2v2h-2zM378 390h2v2h-2zM274 432h2v2h-2zM402 420h2v2h-2zM396 468h2v2h-2zM398 452h2v2h-2zM282 458h2v2h-2zM304 398h2v2h-2zM366 498h2v2h-2zM398 416h2v2h-2zM296 394h2v2h-2zM284 418h2v2h-2zM362 512h2v2h-2zM384 486h2v2h-2zM396 476h2v2h-2zM498 384h3v3h-3zM498 384h2v2h-2zM500 378h2v2h-2zM472 498h4v4h-4zM446 400h3v3h-3zM446 400h2v2h-2zM460 492h4v4h-4zM460 492h3v3h-3zM458 494h3v3h-3zM460 496h2v2h-2zM456 492h2v2h-2zM530 396h4v4h-4zM528 388h3v3h-3zM540 406h2v2h-2zM532 392h3v3h-3zM530 390h3v3h-3zM434 478h4v4h-4zM500 498h2v2h-2zM516 494h4v4h-4zM428 466h2v2h-2zM430 470h3v3h-3zM438 470h2v2h-2zM428 462h2v2h-2zM428 462h3v3h-3zM432 474h3v3h-3zM542 470h2v2h-2zM544 470h4v4h-4zM520 384h4v4h-4zM524 394h2v2h-2zM540 400h2v2h-2zM490 382h3v3h-3zM502 382h2v2h-2zM540 488h3v3h-3zM530 494h4v4h-4zM444 402h4v4h-4zM456 496h2v2h-2zM454 498h3v3h-3zM452 488h4v4h-4zM442 484h2v2h-2zM450 492h2v2h-2zM436 412h2v2h-2zM434 424h4v4h-4zM434 416h3v3h-3zM434 422h2v2h-2zM438 418h2v2h-2zM428 412h3v3h-3zM450 398h4v4h-4zM452 392h2v2h-2zM448 398h2v2h-2zM486 500h2v2h-2zM470 498h2v2h-2zM436 414h4v4h-4zM506 510h2v2h-2zM508 506h2v2h-2zM444 488h2v2h-2zM478 376h2v2h-2zM434 468h2v2h-2zM434 468h4v4h-4zM528 494h2v2h-2zM516 392h4v4h-4zM510 382h4v4h-4zM506 384h2v2h-2zM510 386h2v2h-2zM542 476h2v2h-2zM540 472h3v3h-3zM536 400h3v3h-3zM424 464h2v2h-2zM432 462h2v2h-2zM428 460h2v2h-2zM476 502h2v2h-2zM464 390h2v2h-2zM444 392h2v2h-2zM480 502h2v2h-2zM550 442h2v2h-2zM502 508h2v2h-2zM510 386h2v2h-2zM446 494h2v2h-2zM428 424h2v2h-2zM428 430h2v2h-2zM432 408h2v2h-2zM576 464h2v2h-2zM586 482h2v2h-2zM586 394h3v3h-3zM606 488h3v3h-3zM588 474h2v2h-2zM678 390h2v2h-2zM696 404h3v3h-3zM676 396h2v2h-2zM682 398h2v2h-2zM682 400h4v4h-4zM646 498h3v3h-3zM648 502h2v2h-2zM648 374h2v2h-2zM638 380h4v4h-4zM640 382h3v3h-3zM646 376h2v2h-2zM644 372h3v3h-3zM682 398h2v2h-2zM676 394h2v2h-2zM672 390h2v2h-2zM690 464h4v4h-4zM702 466h2v2h-2zM600 496h4v4h-4zM590 394h2v2h-2zM594 396h3v3h-3zM582 404h3v3h-3zM660 380h2v2h-2zM672 388h2v2h-2zM656 376h2v2h-2zM646 504h2v2h-2zM646 502h2v2h-2zM638 508h2v2h-2zM642 498h4v4h-4zM690 394h3v3h-3zM684 396h4v4h-4zM682 392h2v2h-2zM570 430h2v2h-2zM586 464h2v2h-2zM586 468h4v4h-4zM582 470h2v2h-2zM586 476h2v2h-2zM598 486h2v2h-2zM606 388h2v2h-2zM606 386h2v2h-2zM696 470h3v3h-3zM696 478h3v3h-3zM574 462h3v3h-3zM572 440h2v2h-2zM578 462h4v4h-4zM582 454h2v2h-2zM590 398h2v2h-2zM652 506h3v3h-3zM600 488h2v2h-2zM602 490h2v2h-2zM592 394h2v2h-2zM618 502h2v2h-2zM630 378h2v2h-2zM608 384h2v2h-2zM634 378h2v2h-2zM696 444h2v2h-2zM654 374h2v2h-2zM616 492h2v2h-2zM600 496h2v2h-2zM628 500h2v2h-2zM798 504h2v2h-2zM812 488h3v3h-3zM808 496h2v2h-2zM828 492h2v2h-2zM828 484h3v3h-3zM850 450h3v3h-3zM754 498h4v4h-4zM762 494h2v2h-2zM720 446h2v2h-2zM728 428h4v4h-4zM728 436h4v4h-4zM730 444h2v2h-2zM728 444h4v4h-4zM754 384h4v4h-4zM752 388h2v2h-2zM746 482h2v2h-2zM844 436h4v4h-4zM826 390h4v4h-4zM838 390h4v4h-4zM744 476h2v2h-2zM748 482h3v3h-3zM736 486h4v4h-4zM842 396h2v2h-2zM832 400h4v4h-4zM842 398h2v2h-2zM838 464h4v4h-4zM816 484h2v2h-2zM828 488h2v2h-2zM718 448h2v2h-2zM728 440h2v2h-2zM838 480h4v4h-4zM842 476h2v2h-2zM790 374h4v4h-4zM798 380h2v2h-2zM724 422h4v4h-4zM734 408h3v3h-3zM728 460h3v3h-3zM728 442h2v2h-2zM730 446h3v3h-3zM720 456h4v4h-4zM724 426h4v4h-4zM846 400h3v3h-3zM790 492h4v4h-4zM794 502h2v2h-2zM730 418h4v4h-4zM726 428h2v2h-2zM842 414h2v2h-2zM840 412h2v2h-2zM842 420h2v2h-2zM844 418h4v4h-4zM842 412h4v4h-4zM852 416h2v2h-2zM840 404h4v4h-4zM832 394h2v2h-2zM846 456h4v4h-4zM842 474h2v2h-2zM730 418h2v2h-2zM730 422h2v2h-2zM846 444h3v3h-3zM844 448h2v2h-2zM850 442h2v2h-2zM804 370h2v2h-2zM786 378h2v2h-2zM792 372h3v3h-3zM792 378h3v3h-3zM720 460h2v2h-2zM734 404h2v2h-2zM738 400h4v4h-4zM742 402h4v4h-4zM744 486h2v2h-2zM772 370h2v2h-2zM750 382h2v2h-2zM740 400h2v2h-2zM722 416h2v2h-2zM796 370h2v2h-2zM796 372h2v2h-2zM750 490h2v2h-2zM778 494h2v2h-2zM746 382h2v2h-2zM794 492h2v2h-2zM848 440h2v2h-2zM736 410h2v2h-2zM98 624h2v2h-2zM106 624h2v2h-2zM-20 636h4v4h-4zM100 630h2v2h-2zM94 624h4v4h-4zM94 648h2v2h-2zM100 642h2v2h-2zM92 642h3v3h-3zM86 640h2v2h-2zM86 560h3v3h-3zM96 570h2v2h-2zM98 644h2v2h-2zM90 626h2v2h-2zM90 650h2v2h-2zM-4 642h3v3h-3zM2 550h4v4h-4zM58 648h2v2h-2zM54 666h2v2h-2zM56 650h2v2h-2zM70 648h2v2h-2zM-2 664h2v2h-2zM-20 630h2v2h-2zM-22 636h2v2h-2zM-12 620h2v2h-2zM-12 628h2v2h-2zM8 552h2v2h-2zM0 550h2v2h-2zM-4 552h4v4h-4zM52 652h2v2h-2zM54 650h3v3h-3zM6 552h2v2h-2zM14 548h2v2h-2zM100 576h2v2h-2zM98 574h2v2h-2zM92 634h4v4h-4zM88 650h4v4h-4zM108 608h2v2h-2zM24 540h2v2h-2zM90 660h4v4h-4zM82 648h3v3h-3zM76 550h4v4h-4zM72 546h2v2h-2zM78 540h3v3h-3zM78 540h2v2h-2zM0 634h2v2h-2zM-16 646h2v2h-2zM-18 620h2v2h-2zM-12 636h2v2h-2zM-18 636h2v2h-2zM98 564h4v4h-4zM98 568h2v2h-2zM78 554h2v2h-2zM88 556h2v2h-2zM90 558h2v2h-2zM90 556h2v2h-2zM92 564h2v2h-2zM90 558h4v4h-4zM86 632h2v2h-2zM98 582h2v2h-2zM34 658h2v2h-2zM104 580h2v2h-2zM0 648h2v2h-2zM90 558h2v2h-2zM54 532h2v2h-2zM10 644h2v2h-2zM-16 568h2v2h-2zM-16 594h2v2h-2zM64 536h2v2h-2zM180 534h4v4h-4zM178 534h3v3h-3zM174 534h2v2h-2zM170 542h2v2h-2zM174 534h3v3h-3zM142 550h2v2h-2zM162 548h3v3h-3zM170 544h2v2h-2zM164 542h4v4h-4zM242 552h2v2h-2zM236 556h2v2h-2zM236 556h2v2h-2zM256 630h4v4h-4zM252 628h2v2h-2zM250 618h2v2h-2zM254 622h2v2h-2zM146 558h2v2h-2zM146 548h3v3h-3zM150 558h4v4h-4zM126 622h2v2h-2zM184 540h4v4h-4zM180 538h2v2h-2zM184 532h2v2h-2zM176 536h3v3h-3zM132 584h2v2h-2zM132 588h2v2h-2zM136 586h3v3h-3zM152 556h2v2h-2zM250 576h3v3h-3zM180 678h3v3h-3zM192 666h2v2h-2zM174 648h2v2h-2zM186 678h2v2h-2zM190 654h3v3h-3zM248 566h2v2h-2zM246 568h2v2h-2zM154 546h4v4h-4zM138 558h3v3h-3zM144 552h2v2h-2zM200 654h2v2h-2zM258 594h2v2h-2zM258 604h2v2h-2zM254 596h2v2h-2zM194 646h2v2h-2zM192 656h3v3h-3zM190 648h2v2h-2zM194 652h3v3h-3zM196 648h4v4h-4zM194 660h2v2h-2zM200 648h3v3h-3zM208 650h2v2h-2zM204 646h4v4h-4zM196 660h2v2h-2zM126 596h4v4h-4zM134 586h4v4h-4zM130 592h2v2h-2zM128 594h3v3h-3zM132 592h3v3h-3zM134 590h4v4h-4zM192 678h2v2h-2zM182 670h2v2h-2zM170 658h3v3h-3zM160 654h3v3h-3zM158 666h4v4h-4zM168 532h2v2h-2zM160 546h3v3h-3zM156 542h4v4h-4zM160 662h2v2h-2zM258 594h2v2h-2zM216 642h2v2h-2zM184 670h2v2h-2zM246 554h2v2h-2zM238 556h2v2h-2zM130 586h2v2h-2zM166 542h2v2h-2zM254 630h2v2h-2zM242 622h2v2h-2zM202 676h2v2h-2zM250 600h2v2h-2zM238 554h2v2h-2zM244 568h2v2h-2zM368 642h2v2h-2zM366 654h3v3h-3zM368 648h2v2h-2zM344 534h2v2h-2zM352 526h2v2h-2zM288 580h2v2h-2zM278 588h4v4h-4zM276 588h2v2h-2zM282 590h2v2h-2zM390 548h2v2h-2zM388 550h2v2h-2zM388 550h2v2h-2zM396 610h4v4h-4zM410 624h4v4h-4zM396 612h2v2h-2zM396 612h2v2h-2zM400 626h2v2h-2zM400 626h3v3h-3zM398 628h2v2h-2zM398 612h2v2h-2zM286 626h2v2h-2zM404 582h3v3h-3zM402 584h3v3h-3zM376 644h3v3h-3zM410 600h4v4h-4zM408 592h3v3h-3zM414 598h4v4h-4zM402 576h3v3h-3zM342 654h4v4h-4zM384 644h2v2h-2zM384 628h2v2h-2zM380 654h4v4h-4zM380 636h2v2h-2zM284 576h4v4h-4zM288 570h4v4h-4zM290 554h2v2h-2zM292 570h2v2h-2zM354 670h4v4h-4zM368 642h2v2h-2zM370 640h2v2h-2zM406 572h2v2h-2zM398 562h2v2h-2zM368 652h2v2h-2zM274 600h2v2h-2zM282 594h2v2h-2zM276 600h2v2h-2zM404 598h3v3h-3zM400 602h2v2h-2zM366 538h2v2h-2zM358 532h4v4h-4zM368 538h2v2h-2zM306 548h2v2h-2zM310 544h2v2h-2zM384 630h2v2h-2zM392 650h4v4h-4zM384 634h2v2h-2zM388 640h3v3h-3zM326 644h3v3h-3zM370 542h2v2h-2zM380 542h2v2h-2zM412 614h2v2h-2zM292 612h2v2h-2zM294 626h2v2h-2zM360 538h2v2h-2zM394 622h4v4h-4zM308 660h3v3h-3zM312 660h2v2h-2zM304 658h2v2h-2zM368 534h2v2h-2zM320 536h2v2h-2zM282 604h2v2h-2zM282 590h2v2h-2zM318 530h2v2h-2zM378 640h2v2h-2zM410 602h2v2h-2zM280 568h2v2h-2zM328 650h2v2h-2zM284 576h2v2h-2zM334 530h2v2h-2zM400 612h2v2h-2zM358 642h2v2h-2zM444 638h2v2h-2zM558 596h4v4h-4zM556 602h3v3h-3zM558 612h2v2h-2zM554 606h2v2h-2zM524 532h2v2h-2zM450 644h2v2h-2zM452 644h2v2h-2zM550 624h3v3h-3zM534 628h3v3h-3zM442 552h2v2h-2zM544 642h3v3h-3zM542 618h2v2h-2zM538 636h2v2h-2zM544 628h2v2h-2zM456 638h2v2h-2zM458 638h2v2h-2zM468 668h2v2h-2zM446 558h4v4h-4zM490 672h2v2h-2zM490 648h2v2h-2zM494 658h2v2h-2zM494 662h2v2h-2zM474 526h3v3h-3zM470 530h2v2h-2zM468 540h3v3h-3zM466 538h2v2h-2zM552 578h2v2h-2zM452 550h2v2h-2zM454 546h3v3h-3zM444 544h4v4h-4zM446 556h2v2h-2zM458 542h4v4h-4zM446 648h2v2h-2zM544 618h4v4h-4zM538 624h3v3h-3zM548 626h2v2h-2zM536 626h2v2h-2zM460 538h3v3h-3zM442 550h2v2h-2zM448 622h3v3h-3zM440 644h2v2h-2zM552 592h3v3h-3zM564 604h2v2h-2zM556 588h2v2h-2zM542 542h4v4h-4zM530 538h4v4h-4zM536 550h2v2h-2zM534 544h2v2h-2zM556 592h2v2h-2zM460 546h4v4h-4zM456 540h2v2h-2zM454 542h2v2h-2zM460 536h4v4h-4zM494 522h2v2h-2zM432 588h2v2h-2zM436 592h2v2h-2zM434 592h4v4h-4zM546 624h2v2h-2zM552 640h2v2h-2zM546 624h3v3h-3zM450 648h2v2h-2zM462 632h2v2h-2zM460 642h2v2h-2zM492 644h4v4h-4zM490 662h3v3h-3zM484 654h3v3h-3zM456 542h2v2h-2zM458 534h2v2h-2zM460 542h4v4h-4zM460 544h2v2h-2zM490 526h2v2h-2zM538 632h2v2h-2zM548 612h2v2h-2zM544 554h2v2h-2zM496 648h2v2h-2zM456 660h2v2h-2zM548 624h2v2h-2zM532 628h2v2h-2zM466 636h2v2h-2zM450 624h2v2h-2zM544 554h2v2h-2zM542 622h2v2h-2zM518 662h2v2h-2zM560 574h2v2h-2zM504 642h2v2h-2zM532 536h2v2h-2zM606 532h2v2h-2zM608 540h2v2h-2zM622 526h2v2h-2zM604 536h4v4h-4zM610 542h2v2h-2zM606 532h4v4h-4zM604 650h2v2h-2zM614 632h2v2h-2zM616 632h2v2h-2zM612 636h2v2h-2zM604 642h2v2h-2zM618 640h4v4h-4zM584 582h4v4h-4zM638 526h2v2h-2zM640 526h2v2h-2zM638 522h2v2h-2zM640 518h2v2h-2zM582 620h3v3h-3zM592 608h4v4h-4zM700 606h2v2h-2zM704 608h4v4h-4zM706 598h2v2h-2zM622 534h4v4h-4zM628 528h3v3h-3zM588 578h2v2h-2zM698 636h4v4h-4zM688 622h2v2h-2zM690 538h2v2h-2zM682 538h3v3h-3zM674 536h2v2h-2zM684 542h2v2h-2zM686 544h2v2h-2zM702 608h4v4h-4zM646 524h3v3h-3zM660 528h4v4h-4zM670 530h2v2h-2zM670 536h4v4h-4zM656 532h2v2h-2zM652 532h2v2h-2zM584 588h3v3h-3zM576 604h3v3h-3zM600 540h4v4h-4zM604 540h3v3h-3zM600 544h3v3h-3zM602 540h2v2h-2zM608 542h3v3h-3zM616 538h2v2h-2zM712 578h2v2h-2zM610 656h4v4h-4zM616 632h2v2h-2zM610 628h2v2h-2zM612 632h3v3h-3zM636 660h4v4h-4zM638 646h2v2h-2zM630 654h2v2h-2zM688 646h4v4h-4zM690 642h2v2h-2zM686 622h2v2h-2zM694 630h2v2h-2zM688 650h2v2h-2zM612 630h4v4h-4zM576 592h2v2h-2zM580 588h3v3h-3zM576 596h2v2h-2zM692 554h4v4h-4zM708 590h3v3h-3zM702 586h2v2h-2zM706 580h2v2h-2zM606 538h3v3h-3zM600 550h4v4h-4zM596 544h4v4h-4zM698 558h2v2h-2zM698 562h2v2h-2zM704 570h3v3h-3zM702 552h2v2h-2zM710 574h3v3h-3zM696 554h4v4h-4zM694 552h2v2h-2zM684 538h2v2h-2zM604 536h2v2h-2zM588 552h2v2h-2zM704 592h2v2h-2zM664 642h2v2h-2zM638 640h2v2h-2zM596 626h2v2h-2zM708 574h2v2h-2zM686 658h2v2h-2zM706 596h2v2h-2zM702 572h2v2h-2zM844 548h2v2h-2zM846 552h2v2h-2zM840 542h3v3h-3zM834 542h4v4h-4zM846 550h3v3h-3zM834 538h2v2h-2zM820 534h2v2h-2zM820 530h2v2h-2zM826 524h4v4h-4zM830 536h2v2h-2zM744 544h4v4h-4zM742 556h4v4h-4zM744 554h3v3h-3zM742 546h4v4h-4zM754 532h4v4h-4zM842 640h3v3h-3zM754 532h3v3h-3zM730 582h4v4h-4zM836 620h2v2h-2zM730 612h2v2h-2zM728 604h3v3h-3zM744 608h2v2h-2zM814 526h2v2h-2zM828 532h2v2h-2zM826 530h2v2h-2zM842 546h3v3h-3zM840 626h3v3h-3zM830 638h2v2h-2zM848 622h4v4h-4zM732 596h2v2h-2zM850 562h2v2h-2zM848 542h3v3h-3zM858 600h4v4h-4zM852 592h2v2h-2zM832 540h2v2h-2zM836 538h2v2h-2zM838 546h3v3h-3zM766 632h4v4h-4zM768 644h2v2h-2zM728 592h3v3h-3zM738 594h4v4h-4zM780 526h3v3h-3zM792 518h2v2h-2zM852 558h3v3h-3zM742 544h2v2h-2zM826 524h2v2h-2zM740 552h2v2h-2zM828 654h2v2h-2zM778 634h2v2h-2zM800 520h2v2h-2zM730 604h2v2h-2zM800 528h2v2h-2zM766 630h2v2h-2z" fill="#8a8a8a"/>
<g fill="none" stroke="#b4b4b4"><path d="M23.9 209.2L8.8 205.5" stroke-width="2.0"/><path d="M-27.3 169.3L-28.6 164.4" stroke-width="3.0"/><path d="M17.7 211.0L12.3 209.6" stroke-width="3.0"/><path d="M-8.3 108.5L3.2 100.8" stroke-width="2.0"/><path d="M87.8 135.1L89.6 142.6" stroke-width="2.5"/><path d="M21.4 215.5L10.1 212.9" stroke-width="2.5"/><path d="M-28.8 174.6L-31.0 168.4" stroke-width="2.0"/><path d="M90.2 156.6L86.5 172.6" stroke-width="3.0"/><path d="M-21.9 125.2L-15.2 115.5" stroke-width="2.0"/><path d="M224.2 193.4L214.9 200.1" stroke-width="3.0"/><path d="M121.1 116.0L127.1 105.9" stroke-width="2.0"/><path d="M129.2 182.6L122.6 169.2" stroke-width="2.5"/><path d="M216.0 197.8L200.8 204.7" stroke-width="2.5"/><path d="M222.0 100.4L227.6 105.2" stroke-width="3.0"/><path d="M147.4 105.5L153.1 101.6" stroke-width="2.0"/><path d="M308.0 97.9L317.9 93.7" stroke-width="2.5"/><path d="M304.8 99.7L311.5 96.2" stroke-width="2.5"/><path d="M372.8 195.9L359.8 203.0" stroke-width="2.5"/><path d="M330.1 204.5L321.7 203.1" stroke-width="2.5"/><path d="M348.9 75.6L356.3 77.5" stroke-width="3.0"/><path d="M298.6 104.2L309.1 97.3" stroke-width="2.5"/><path d="M400.2 138.5L400.6 147.4" stroke-width="2.5"/><path d="M329.1 74.8L335.7 74.4" stroke-width="3.0"/><path d="M388.6 123.2L391.8 131.5" stroke-width="3.0"/><path d="M320.5 76.2L333.0 74.5" stroke-width="3.0"/><path d="M430.7 143.4L431.2 137.3" stroke-width="2.0"/><path d="M537.6 108.7L541.6 114.6" stroke-width="2.0"/><path d="M495.8 202.0L483.2 202.2" stroke-width="2.0"/><path d="M554.6 134.2L555.1 146.1" stroke-width="2.0"/><path d="M431.7 182.0L425.4 170.9" stroke-width="3.0"/><path d="M429.2 142.8L429.7 137.3" stroke-width="2.5"/><path d="M517.5 94.2L524.3 98.4" stroke-width="3.0"/><path d="M424.3 146.6L425.7 129.6" stroke-width="2.0"/><path d="M448.7 93.3L462.0 85.3" stroke-width="2.0"/><path d="M536.2 181.6L524.3 192.6" stroke-width="2.5"/><path d="M528.6 185.5L521.3 191.2" stroke-width="2.5"/><path d="M687.0 181.4L680.9 187.2" stroke-width="3.0"/><path d="M587.6 95.2L600.7 82.8" stroke-width="2.5"/><path d="M583.8 127.5L586.1 120.8" stroke-width="2.0"/><path d="M673.9 94.0L685.7 103.9" stroke-width="2.5"/><path d="M638.6 206.5L627.5 205.1" stroke-width="2.0"/><path d="M756.7 186.6L748.8 179.5" stroke-width="3.0"/><path d="M761.5 91.5L773.0 85.9" stroke-width="2.5"/><path d="M826.5 89.2L832.8 93.7" stroke-width="3.0"/><path d="M734.4 139.7L734.9 132.1" stroke-width="2.5"/><path d="M737.3 127.7L741.5 115.8" stroke-width="2.5"/><path d="M835.0 95.6L840.7 101.3" stroke-width="3.0"/><path d="M-16.7 324.4L-19.5 307.7" stroke-width="2.5"/><path d="M107.8 330.6L105.8 335.2" stroke-width="2.0"/><path d="M81.1 262.3L86.7 267.9" stroke-width="2.0"/><path d="M76.6 355.1L65.9 360.9" stroke-width="2.5"/><path d="M70.6 368.6L63.9 371.1" stroke-width="3.0"/><path d="M61.0 246.5L72.5 251.2" stroke-width="2.5"/><path d="M83.3 347.7L77.5 352.6" stroke-width="3.0"/><path d="M78.5 256.5L83.4 260.4" stroke-width="2.5"/><path d="M84.4 251.2L92.1 257.7" stroke-width="2.5"/><path d="M-7.6 266.3L2.2 256.5" stroke-width="2.5"/><path d="M57.3 366.5L44.8 368.1" stroke-width="2.5"/><path d="M137.9 347.4L130.3 336.1" stroke-width="2.5"/><path d="M256.8 316.8L254.6 325.0" stroke-width="3.0"/><path d="M199.4 242.3L207.2 243.8" stroke-width="2.5"/><path d="M246.1 334.4L238.1 345.5" stroke-width="2.5"/><path d="M157.0 355.8L149.8 350.2" stroke-width="2.5"/><path d="M220.6 242.0L230.1 247.2" stroke-width="2.5"/><path d="M396.6 275.2L399.3 281.8" stroke-width="3.0"/><path d="M380.1 259.9L385.3 265.6" stroke-width="3.0"/><path d="M308.4 350.5L298.1 341.8" stroke-width="3.0"/><path d="M404.7 300.9L404.3 308.7" stroke-width="3.0"/><path d="M396.0 342.6L388.8 350.7" stroke-width="2.5"/><path d="M479.9 363.3L463.0 358.6" stroke-width="2.5"/><path d="M555.9 282.0L558.1 295.1" stroke-width="3.0"/><path d="M519.7 246.0L532.0 255.1" stroke-width="3.0"/><path d="M435.1 325.6L432.5 319.3" stroke-width="2.5"/><path d="M467.9 357.1L462.7 355.0" stroke-width="3.0"/><path d="M519.2 238.6L531.7 246.3" stroke-width="3.0"/><path d="M432.3 318.6L429.8 307.3" stroke-width="2.0"/><path d="M700.1 319.8L696.7 327.6" stroke-width="2.0"/><path d="M675.1 248.4L682.8 255.3" stroke-width="2.5"/><path d="M682.9 334.0L670.5 345.7" stroke-width="2.0"/><path d="M687.8 255.1L693.4 262.6" stroke-width="2.5"/><path d="M689.7 329.3L679.1 342.4" stroke-width="3.0"/><path d="M595.7 344.3L588.1 336.2" stroke-width="3.0"/><path d="M776.0 356.0L771.7 355.1" stroke-width="2.5"/><path d="M841.4 259.7L847.6 271.2" stroke-width="3.0"/><path d="M824.4 345.0L815.1 351.0" stroke-width="2.5"/><path d="M721.7 270.2L724.0 265.2" stroke-width="2.0"/><path d="M843.9 299.9L843.2 305.7" stroke-width="3.0"/><path d="M-3.0 401.2L2.9 396.2" stroke-width="2.5"/><path d="M89.7 412.3L92.8 416.2" stroke-width="2.5"/><path d="M-2.7 407.5L7.1 398.9" stroke-width="2.0"/><path d="M87.8 499.2L80.1 505.2" stroke-width="3.0"/><path d="M17.9 397.8L30.1 393.3" stroke-width="2.5"/><path d="M93.6 487.4L88.0 493.9" stroke-width="2.0"/><path d="M88.5 404.3L93.0 409.0" stroke-width="2.5"/><path d="M39.8 382.6L48.5 382.5" stroke-width="2.5"/><path d="M106.7 445.0L107.0 450.7" stroke-width="3.0"/><path d="M83.0 402.1L91.9 410.6" stroke-width="3.0"/><path d="M112.0 468.7L107.2 481.8" stroke-width="2.5"/><path d="M72.9 503.3L62.5 507.7" stroke-width="3.0"/><path d="M13.9 502.0L0.6 491.1" stroke-width="3.0"/><path d="M53.5 508.3L38.0 508.6" stroke-width="3.0"/><path d="M207.4 390.3L217.9 394.0" stroke-width="3.0"/><path d="M233.4 395.9L242.7 404.6" stroke-width="2.5"/><path d="M136.4 413.6L143.3 404.3" stroke-width="2.0"/><path d="M244.2 495.8L239.4 500.6" stroke-width="2.5"/><path d="M186.3 507.1L169.0 502.5" stroke-width="3.0"/><path d="M150.4 499.8L145.7 495.5" stroke-width="3.0"/><path d="M219.7 502.9L203.3 508.2" stroke-width="3.0"/><path d="M210.1 381.6L222.3 385.9" stroke-width="2.0"/><path d="M205.6 391.4L210.1 392.6" stroke-width="3.0"/><path d="M253.2 476.7L249.8 483.1" stroke-width="3.0"/><path d="M334.8 379.5L347.7 379.4" stroke-width="2.5"/><path d="M312.2 382.8L319.3 380.0" stroke-width="2.5"/><path d="M283.5 450.2L283.4 442.4" stroke-width="2.0"/><path d="M292.7 396.2L306.0 386.1" stroke-width="2.5"/><path d="M370.7 500.4L364.6 503.3" stroke-width="2.5"/><path d="M341.7 385.5L346.8 385.8" stroke-width="3.0"/><path d="M406.4 459.3L403.6 468.9" stroke-width="2.5"/><path d="M329.2 377.5L340.8 376.4" stroke-width="3.0"/><path d="M301.6 502.9L295.1 497.8" stroke-width="2.5"/><path d="M472.2 506.8L457.8 501.0" stroke-width="3.0"/><path d="M436.6 468.9L433.5 461.6" stroke-width="3.0"/><path d="M431.2 474.2L427.6 466.4" stroke-width="2.5"/><path d="M478.1 382.2L487.4 381.2" stroke-width="3.0"/><path d="M525.3 491.6L521.8 494.0" stroke-width="2.0"/><path d="M507.4 380.4L516.8 383.9" stroke-width="3.0"/><path d="M547.0 463.1L540.3 476.1" stroke-width="2.5"/><path d="M585.5 476.8L577.7 462.0" stroke-width="2.5"/><path d="M608.0 488.6L596.4 479.3" stroke-width="2.5"/><path d="M676.3 391.6L684.2 399.2" stroke-width="3.0"/><path d="M654.7 494.6L645.5 496.5" stroke-width="3.0"/><path d="M693.8 460.0L691.6 465.0" stroke-width="2.5"/><path d="M693.1 468.9L683.8 481.9" stroke-width="2.0"/><path d="M575.4 461.9L573.0 453.2" stroke-width="3.0"/><path d="M718.6 422.2L722.4 410.0" stroke-width="2.0"/><path d="M855.2 447.3L852.1 459.8" stroke-width="2.5"/><path d="M762.4 502.1L758.2 500.4" stroke-width="3.0"/><path d="M717.4 444.8L717.1 440.2" stroke-width="3.0"/><path d="M747.2 393.3L757.5 385.8" stroke-width="2.0"/><path d="M745.3 488.9L736.2 480.2" stroke-width="2.0"/><path d="M744.3 477.9L740.2 473.4" stroke-width="2.0"/><path d="M834.4 396.1L843.7 411.1" stroke-width="2.0"/><path d="M843.1 454.3L835.6 469.6" stroke-width="2.0"/><path d="M721.7 421.9L727.0 406.9" stroke-width="2.0"/><path d="M730.7 451.9L728.5 437.0" stroke-width="2.5"/><path d="M850.6 410.1L854.3 421.8" stroke-width="3.0"/><path d="M-9.2 621.1L-11.7 615.8" stroke-width="3.0"/><path d="M93.0 622.4L82.3 635.6" stroke-width="2.0"/><path d="M-4.2 662.2L-7.5 658.8" stroke-width="2.5"/><path d="M64.4 656.8L55.0 659.5" stroke-width="3.0"/><path d="M-10.6 631.7L-14.4 624.9" stroke-width="3.0"/><path d="M93.8 567.4L96.5 572.4" stroke-width="2.0"/><path d="M91.3 551.7L98.2 560.5" stroke-width="3.0"/><path d="M252.5 607.6L246.2 623.4" stroke-width="3.0"/><path d="M144.3 625.4L137.1 612.3" stroke-width="2.0"/><path d="M241.2 558.1L246.8 566.5" stroke-width="2.0"/><path d="M174.4 646.7L169.7 645.0" stroke-width="3.0"/><path d="M196.3 658.0L190.0 658.0" stroke-width="2.5"/><path d="M209.9 647.2L197.0 649.4" stroke-width="2.5"/><path d="M165.0 672.7L159.7 669.8" stroke-width="3.0"/><path d="M342.2 533.8L355.5 534.9" stroke-width="2.0"/><path d="M274.5 593.0L275.1 588.4" stroke-width="2.0"/><path d="M382.7 549.5L390.8 558.2" stroke-width="2.5"/><path d="M279.5 629.5L275.0 612.0" stroke-width="2.0"/><path d="M408.8 583.0L410.2 596.5" stroke-width="2.0"/><path d="M344.6 667.2L337.7 667.0" stroke-width="2.0"/><path d="M387.6 637.5L375.8 646.6" stroke-width="2.5"/><path d="M364.8 643.2L355.9 645.6" stroke-width="2.0"/><path d="M335.7 650.6L323.5 647.7" stroke-width="3.0"/><path d="M410.0 603.0L409.4 608.1" stroke-width="2.0"/><path d="M402.7 613.8L395.1 628.6" stroke-width="3.0"/><path d="M497.1 644.1L489.7 643.9" stroke-width="2.5"/><path d="M492.8 648.4L488.0 648.1" stroke-width="3.0"/><path d="M445.0 552.5L453.0 544.1" stroke-width="2.5"/><path d="M558.8 588.8L558.7 597.7" stroke-width="3.0"/><path d="M450.9 541.7L457.7 536.3" stroke-width="2.5"/><path d="M453.8 643.9L446.5 636.8" stroke-width="2.5"/><path d="M614.4 647.9L605.4 641.9" stroke-width="2.5"/><path d="M587.3 580.5L588.3 573.9" stroke-width="2.0"/><path d="M617.4 536.5L632.3 531.2" stroke-width="2.5"/><path d="M639.6 519.0L657.2 519.9" stroke-width="3.0"/><path d="M599.7 546.8L612.2 536.5" stroke-width="3.0"/><path d="M613.8 647.6L609.3 644.8" stroke-width="2.5"/><path d="M588.5 550.8L596.2 540.8" stroke-width="3.0"/><path d="M839.9 544.2L845.0 550.5" stroke-width="2.0"/><path d="M840.1 617.7L834.7 623.0" stroke-width="3.0"/><path d="M736.3 580.1L737.7 570.2" stroke-width="2.5"/><path d="M843.3 616.3L832.0 627.1" stroke-width="2.5"/><path d="M749.0 614.7L741.8 602.3" stroke-width="2.0"/><path d="M739.5 600.6L737.7 594.4" stroke-width="2.5"/><path d="M865.2 595.5L863.3 610.4" stroke-width="2.5"/><path d="M775.1 633.7L762.7 627.5" stroke-width="3.0"/><path d="M738.5 590.7L737.9 584.5" stroke-width="2.0"/></g>
<path d="M-32 148h4v4h-4zM-36 164h4v4h-4zM36 82h4v4h-4zM36 94h4v4h-4zM26 84h2v2h-2zM76 96h4v4h-4zM78 116h2v2h-2zM82 120h4v4h-4zM36 96h4v4h-4zM38 92h2v2h-2zM38 88h2v2h-2zM32 90h2v2h-2zM-6 100h2v2h-2zM64 100h2v2h-2zM70 94h4v4h-4zM90 146h2v2h-2zM-20 178h4v4h-4zM-16 186h3v3h-3zM36 208h4v4h-4zM-30 180h3v3h-3zM-26 172h2v2h-2zM-28 174h3v3h-3zM-28 164h2v2h-2zM-36 168h2v2h-2zM22 208h2v2h-2zM18 208h2v2h-2zM12 216h2v2h-2zM96 152h4v4h-4zM88 154h2v2h-2zM96 132h2v2h-2zM6 102h2v2h-2zM16 98h3v3h-3zM-4 92h2v2h-2zM8 100h3v3h-3zM-14 96h4v4h-4zM-4 108h3v3h-3zM-24 118h2v2h-2zM-10 102h2v2h-2zM-18 102h2v2h-2zM30 212h3v3h-3zM20 214h2v2h-2zM88 136h2v2h-2zM84 130h2v2h-2zM86 128h2v2h-2zM-30 152h2v2h-2zM-32 146h4v4h-4zM-30 156h3v3h-3zM-28 162h2v2h-2zM-28 188h4v4h-4zM6 210h4v4h-4zM-2 88h3v3h-3zM100 154h3v3h-3zM96 168h2v2h-2zM54 214h4v4h-4zM92 170h2v2h-2zM88 160h2v2h-2zM74 106h3v3h-3zM80 102h2v2h-2zM62 104h4v4h-4zM-18 120h2v2h-2zM-22 112h3v3h-3zM90 116h2v2h-2zM-26 166h2v2h-2zM-4 210h2v2h-2zM64 90h2v2h-2zM-2 100h2v2h-2zM-30 164h2v2h-2zM80 198h2v2h-2zM46 96h2v2h-2zM80 184h2v2h-2zM-32 122h2v2h-2zM132 184h3v3h-3zM138 192h2v2h-2zM132 184h3v3h-3zM214 96h4v4h-4zM196 208h2v2h-2zM238 112h4v4h-4zM226 112h2v2h-2zM134 188h3v3h-3zM218 200h2v2h-2zM220 192h4v4h-4zM196 208h4v4h-4zM198 208h3v3h-3zM174 88h2v2h-2zM178 82h2v2h-2zM190 88h2v2h-2zM178 78h3v3h-3zM178 82h2v2h-2zM178 84h3v3h-3zM218 104h2v2h-2zM232 110h3v3h-3zM144 108h2v2h-2zM138 94h2v2h-2zM118 126h2v2h-2zM128 120h2v2h-2zM124 146h2v2h-2zM170 94h4v4h-4zM204 206h2v2h-2zM206 204h4v4h-4zM208 204h3v3h-3zM222 102h2v2h-2zM232 96h2v2h-2zM224 200h2v2h-2zM240 158h2v2h-2zM250 158h3v3h-3zM244 158h3v3h-3zM250 166h4v4h-4zM222 88h2v2h-2zM204 96h3v3h-3zM212 100h3v3h-3zM224 90h2v2h-2zM144 94h2v2h-2zM152 102h2v2h-2zM138 110h2v2h-2zM138 94h2v2h-2zM146 90h2v2h-2zM124 164h2v2h-2zM122 150h2v2h-2zM250 164h2v2h-2zM124 130h2v2h-2zM224 198h2v2h-2zM224 94h2v2h-2zM314 88h2v2h-2zM318 94h4v4h-4zM306 88h4v4h-4zM312 82h2v2h-2zM316 86h3v3h-3zM316 82h3v3h-3zM288 190h3v3h-3zM302 194h3v3h-3zM280 130h2v2h-2zM270 132h2v2h-2zM274 152h4v4h-4zM266 148h2v2h-2zM310 98h2v2h-2zM308 86h4v4h-4zM304 96h2v2h-2zM282 116h2v2h-2zM278 126h3v3h-3zM362 96h2v2h-2zM364 100h3v3h-3zM368 198h2v2h-2zM332 202h2v2h-2zM362 82h3v3h-3zM366 82h2v2h-2zM290 100h3v3h-3zM366 98h4v4h-4zM338 78h2v2h-2zM328 92h2v2h-2zM332 86h2v2h-2zM296 190h2v2h-2zM352 202h2v2h-2zM346 204h4v4h-4zM296 102h2v2h-2zM292 96h2v2h-2zM282 168h2v2h-2zM280 166h2v2h-2zM278 158h2v2h-2zM280 174h2v2h-2zM284 170h4v4h-4zM272 154h2v2h-2zM280 158h2v2h-2zM274 172h2v2h-2zM280 164h2v2h-2zM272 160h2v2h-2zM394 146h4v4h-4zM400 146h2v2h-2zM398 144h4v4h-4zM348 92h2v2h-2zM350 92h2v2h-2zM352 90h2v2h-2zM274 148h3v3h-3zM276 150h3v3h-3zM280 158h2v2h-2zM336 84h3v3h-3zM330 92h4v4h-4zM332 90h4v4h-4zM396 120h3v3h-3zM394 118h4v4h-4zM326 78h2v2h-2zM378 90h2v2h-2zM338 206h2v2h-2zM328 84h2v2h-2zM374 92h2v2h-2zM370 90h2v2h-2zM388 102h2v2h-2zM326 90h2v2h-2zM426 136h3v3h-3zM426 142h4v4h-4zM426 134h2v2h-2zM538 98h4v4h-4zM538 116h3v3h-3zM538 114h2v2h-2zM540 104h4v4h-4zM482 212h2v2h-2zM490 204h2v2h-2zM510 196h2v2h-2zM512 202h4v4h-4zM550 142h2v2h-2zM552 140h2v2h-2zM432 156h2v2h-2zM424 154h2v2h-2zM524 198h3v3h-3zM446 100h2v2h-2zM438 94h4v4h-4zM444 100h2v2h-2zM440 174h3v3h-3zM444 184h2v2h-2zM456 194h2v2h-2zM448 98h2v2h-2zM448 92h2v2h-2zM428 140h3v3h-3zM436 102h2v2h-2zM438 114h2v2h-2zM516 96h4v4h-4zM550 122h2v2h-2zM536 98h2v2h-2zM548 114h2v2h-2zM430 138h2v2h-2zM424 126h4v4h-4zM492 90h2v2h-2zM486 90h2v2h-2zM440 116h2v2h-2zM538 108h2v2h-2zM432 138h2v2h-2zM420 132h3v3h-3zM456 100h3v3h-3zM456 96h2v2h-2zM426 116h2v2h-2zM430 122h4v4h-4zM438 106h2v2h-2zM428 130h3v3h-3zM432 130h3v3h-3zM434 114h2v2h-2zM530 190h2v2h-2zM522 190h2v2h-2zM438 102h2v2h-2zM458 88h2v2h-2zM514 200h2v2h-2zM698 122h2v2h-2zM700 120h2v2h-2zM694 122h4v4h-4zM704 156h2v2h-2zM702 166h4v4h-4zM702 142h4v4h-4zM576 120h2v2h-2zM584 144h3v3h-3zM574 128h4v4h-4zM592 110h2v2h-2zM608 192h2v2h-2zM608 194h2v2h-2zM604 190h2v2h-2zM704 140h2v2h-2zM698 148h2v2h-2zM690 174h4v4h-4zM584 134h2v2h-2zM634 72h2v2h-2zM630 82h2v2h-2zM580 116h2v2h-2zM580 122h2v2h-2zM698 130h2v2h-2zM706 132h2v2h-2zM592 112h2v2h-2zM682 190h2v2h-2zM684 194h4v4h-4zM680 182h2v2h-2zM618 204h3v3h-3zM614 192h4v4h-4zM584 104h4v4h-4zM588 110h3v3h-3zM590 114h4v4h-4zM580 108h4v4h-4zM706 126h2v2h-2zM620 192h2v2h-2zM608 200h3v3h-3zM616 198h2v2h-2zM614 202h2v2h-2zM680 182h4v4h-4zM688 192h3v3h-3zM680 186h3v3h-3zM592 104h3v3h-3zM576 118h3v3h-3zM694 100h2v2h-2zM606 88h2v2h-2zM598 92h2v2h-2zM588 100h4v4h-4zM580 130h2v2h-2zM582 120h2v2h-2zM578 128h2v2h-2zM620 194h2v2h-2zM614 200h3v3h-3zM682 88h2v2h-2zM680 98h3v3h-3zM680 186h2v2h-2zM684 192h4v4h-4zM680 192h2v2h-2zM674 190h2v2h-2zM630 198h3v3h-3zM680 98h2v2h-2zM664 204h2v2h-2zM690 94h2v2h-2zM590 186h2v2h-2zM600 182h2v2h-2zM698 112h2v2h-2zM636 82h2v2h-2zM578 138h2v2h-2zM786 200h2v2h-2zM732 110h2v2h-2zM836 100h2v2h-2zM744 170h3v3h-3zM734 138h2v2h-2zM738 128h4v4h-4zM814 196h4v4h-4zM820 188h2v2h-2zM816 202h2v2h-2zM780 194h2v2h-2zM822 190h2v2h-2zM822 192h2v2h-2zM736 120h2v2h-2zM734 126h2v2h-2zM730 110h2v2h-2zM852 128h3v3h-3zM850 124h2v2h-2zM852 128h2v2h-2zM856 112h3v3h-3zM734 122h4v4h-4zM746 110h3v3h-3zM734 110h2v2h-2zM746 182h4v4h-4zM748 188h2v2h-2zM782 82h2v2h-2zM764 76h4v4h-4zM770 88h2v2h-2zM742 170h3v3h-3zM840 86h2v2h-2zM730 138h3v3h-3zM730 134h2v2h-2zM750 180h4v4h-4zM754 188h2v2h-2zM746 186h3v3h-3zM746 172h4v4h-4zM810 84h4v4h-4zM818 84h4v4h-4zM822 192h2v2h-2zM824 186h2v2h-2zM822 190h2v2h-2zM810 196h2v2h-2zM852 100h4v4h-4zM842 98h2v2h-2zM744 176h2v2h-2zM810 82h3v3h-3zM818 72h3v3h-3zM816 80h2v2h-2zM824 92h3v3h-3zM822 86h2v2h-2zM836 96h3v3h-3zM836 98h2v2h-2zM846 112h2v2h-2zM818 80h2v2h-2zM734 170h2v2h-2zM-22 316h4v4h-4zM-24 310h2v2h-2zM-24 316h2v2h-2zM-12 320h2v2h-2zM64 364h3v3h-3zM100 338h4v4h-4zM-20 306h2v2h-2zM-14 312h4v4h-4zM-24 318h2v2h-2zM90 352h2v2h-2zM34 250h4v4h-4zM52 244h2v2h-2zM50 238h4v4h-4zM98 338h2v2h-2zM100 346h2v2h-2zM100 318h2v2h-2zM96 262h2v2h-2zM84 258h2v2h-2zM82 262h3v3h-3zM68 358h3v3h-3zM66 362h2v2h-2zM72 362h2v2h-2zM68 360h4v4h-4zM30 368h4v4h-4zM38 368h2v2h-2zM10 254h2v2h-2zM-2 258h2v2h-2zM96 342h2v2h-2zM96 348h4v4h-4zM104 278h3v3h-3zM94 270h2v2h-2zM102 278h2v2h-2zM92 264h2v2h-2zM100 282h2v2h-2zM6 256h3v3h-3zM2 262h2v2h-2zM-2 258h3v3h-3zM72 250h4v4h-4zM70 256h2v2h-2zM72 244h2v2h-2zM90 350h4v4h-4zM-16 292h3v3h-3zM-20 296h3v3h-3zM78 248h4v4h-4zM78 252h4v4h-4zM82 258h2v2h-2zM-6 278h2v2h-2zM2 266h4v4h-4zM78 254h2v2h-2zM90 254h2v2h-2zM2 250h2v2h-2zM-2 266h2v2h-2zM42 370h2v2h-2zM44 368h3v3h-3zM50 366h4v4h-4zM58 368h3v3h-3zM44 366h2v2h-2zM86 262h2v2h-2zM-22 286h2v2h-2zM98 332h2v2h-2zM-14 330h2v2h-2zM76 248h2v2h-2zM-18 320h2v2h-2zM24 248h2v2h-2zM190 368h2v2h-2zM178 362h2v2h-2zM186 372h4v4h-4zM196 362h3v3h-3zM202 368h4v4h-4zM222 366h2v2h-2zM144 336h3v3h-3zM246 328h2v2h-2zM248 330h4v4h-4zM242 330h2v2h-2zM244 336h3v3h-3zM248 332h2v2h-2zM254 332h2v2h-2zM250 330h3v3h-3zM240 350h2v2h-2zM150 264h2v2h-2zM144 254h3v3h-3zM148 262h4v4h-4zM250 290h2v2h-2zM254 304h2v2h-2zM254 298h4v4h-4zM188 248h2v2h-2zM206 238h2v2h-2zM250 298h2v2h-2zM260 292h2v2h-2zM252 294h4v4h-4zM254 296h3v3h-3zM248 292h4v4h-4zM244 274h2v2h-2zM252 276h4v4h-4zM152 258h2v2h-2zM160 254h2v2h-2zM252 294h3v3h-3zM248 292h2v2h-2zM258 312h2v2h-2zM206 240h4v4h-4zM256 320h2v2h-2zM248 322h4v4h-4zM172 246h4v4h-4zM138 272h2v2h-2zM126 282h3v3h-3zM134 310h4v4h-4zM132 310h2v2h-2zM142 342h2v2h-2zM246 346h2v2h-2zM158 356h2v2h-2zM160 364h2v2h-2zM186 366h2v2h-2zM188 362h4v4h-4zM182 372h2v2h-2zM134 302h3v3h-3zM130 300h2v2h-2zM142 350h2v2h-2zM140 340h2v2h-2zM150 348h2v2h-2zM224 250h2v2h-2zM250 314h4v4h-4zM228 246h4v4h-4zM136 290h2v2h-2zM122 296h2v2h-2zM138 334h2v2h-2zM246 276h2v2h-2zM206 366h2v2h-2zM154 258h2v2h-2zM128 324h2v2h-2zM276 290h2v2h-2zM284 288h4v4h-4zM276 292h3v3h-3zM364 356h2v2h-2zM376 350h2v2h-2zM404 308h2v2h-2zM398 300h2v2h-2zM402 310h2v2h-2zM366 366h3v3h-3zM362 360h4v4h-4zM356 360h2v2h-2zM402 282h2v2h-2zM388 340h2v2h-2zM392 346h2v2h-2zM390 340h3v3h-3zM384 342h4v4h-4zM398 270h4v4h-4zM382 264h2v2h-2zM276 330h2v2h-2zM398 332h2v2h-2zM400 322h2v2h-2zM398 322h4v4h-4zM362 366h3v3h-3zM398 328h4v4h-4zM408 316h2v2h-2zM404 320h2v2h-2zM398 318h2v2h-2zM394 320h4v4h-4zM378 254h4v4h-4zM382 260h4v4h-4zM394 266h4v4h-4zM306 352h4v4h-4zM304 354h2v2h-2zM362 358h2v2h-2zM362 356h2v2h-2zM376 354h2v2h-2zM358 360h3v3h-3zM286 270h4v4h-4zM406 280h2v2h-2zM396 288h4v4h-4zM404 304h4v4h-4zM408 300h2v2h-2zM392 346h4v4h-4zM352 368h2v2h-2zM402 276h2v2h-2zM400 288h3v3h-3zM380 254h4v4h-4zM384 252h2v2h-2zM402 280h2v2h-2zM398 304h2v2h-2zM398 314h2v2h-2zM408 320h2v2h-2zM282 268h4v4h-4zM290 268h4v4h-4zM284 262h3v3h-3zM326 366h2v2h-2zM306 358h2v2h-2zM400 302h2v2h-2zM290 334h2v2h-2zM544 312h2v2h-2zM548 322h2v2h-2zM546 322h2v2h-2zM472 356h3v3h-3zM464 360h2v2h-2zM428 294h3v3h-3zM432 294h2v2h-2zM442 346h2v2h-2zM428 332h2v2h-2zM482 358h2v2h-2zM546 294h2v2h-2zM548 292h2v2h-2zM546 290h2v2h-2zM520 252h2v2h-2zM522 254h3v3h-3zM548 316h2v2h-2zM556 320h2v2h-2zM544 322h3v3h-3zM554 324h2v2h-2zM430 300h2v2h-2zM430 318h4v4h-4zM434 312h2v2h-2zM432 322h2v2h-2zM424 312h2v2h-2zM452 250h4v4h-4zM452 252h2v2h-2zM458 352h4v4h-4zM458 348h2v2h-2zM452 358h2v2h-2zM436 328h2v2h-2zM438 342h2v2h-2zM440 334h2v2h-2zM480 242h2v2h-2zM476 356h4v4h-4zM494 364h3v3h-3zM434 328h4v4h-4zM432 296h2v2h-2zM428 304h2v2h-2zM428 304h2v2h-2zM422 312h4v4h-4zM468 358h2v2h-2zM468 356h2v2h-2zM466 358h2v2h-2zM460 244h2v2h-2zM470 236h4v4h-4zM468 356h2v2h-2zM520 246h4v4h-4zM426 286h3v3h-3zM554 324h2v2h-2zM492 362h2v2h-2zM508 246h2v2h-2zM486 244h2v2h-2zM432 266h2v2h-2zM596 340h2v2h-2zM612 246h2v2h-2zM672 248h2v2h-2zM686 340h2v2h-2zM612 244h2v2h-2zM676 350h2v2h-2zM692 336h4v4h-4zM676 340h3v3h-3zM580 314h2v2h-2zM672 252h2v2h-2zM686 260h3v3h-3zM662 242h2v2h-2zM650 364h4v4h-4zM648 360h2v2h-2zM650 354h2v2h-2zM626 242h2v2h-2zM690 254h4v4h-4zM688 274h2v2h-2zM578 290h3v3h-3zM576 280h2v2h-2zM690 266h2v2h-2zM692 262h2v2h-2zM690 340h2v2h-2zM694 334h3v3h-3zM690 334h4v4h-4zM622 356h2v2h-2zM586 342h3v3h-3zM598 342h3v3h-3zM576 322h4v4h-4zM694 310h2v2h-2zM694 316h2v2h-2zM638 364h2v2h-2zM636 360h2v2h-2zM646 236h4v4h-4zM644 236h2v2h-2zM654 238h2v2h-2zM646 232h4v4h-4zM648 238h2v2h-2zM578 286h2v2h-2zM670 250h4v4h-4zM704 304h2v2h-2zM692 282h2v2h-2zM690 260h2v2h-2zM684 264h2v2h-2zM574 312h2v2h-2zM738 248h2v2h-2zM744 242h2v2h-2zM746 256h2v2h-2zM768 354h2v2h-2zM730 262h3v3h-3zM738 256h2v2h-2zM840 274h2v2h-2zM842 276h3v3h-3zM844 264h2v2h-2zM840 264h4v4h-4zM810 244h4v4h-4zM720 316h2v2h-2zM722 316h2v2h-2zM732 324h2v2h-2zM848 282h3v3h-3zM840 270h2v2h-2zM850 274h2v2h-2zM832 256h3v3h-3zM822 246h2v2h-2zM822 246h2v2h-2zM724 298h3v3h-3zM726 304h3v3h-3zM728 292h2v2h-2zM816 348h3v3h-3zM844 318h3v3h-3zM852 318h4v4h-4zM810 242h2v2h-2zM792 238h2v2h-2zM754 344h2v2h-2zM726 284h2v2h-2zM726 284h2v2h-2zM752 342h4v4h-4zM752 346h2v2h-2zM748 338h2v2h-2zM748 344h2v2h-2zM732 274h4v4h-4zM826 342h2v2h-2zM836 340h4v4h-4zM814 352h2v2h-2zM828 336h2v2h-2zM828 256h3v3h-3zM834 266h2v2h-2zM828 254h2v2h-2zM832 258h3v3h-3zM818 356h2v2h-2zM824 342h3v3h-3zM818 346h4v4h-4zM814 352h2v2h-2zM842 320h2v2h-2zM852 314h2v2h-2zM744 338h2v2h-2zM786 236h2v2h-2zM762 356h2v2h-2zM42 388h2v2h-2zM-4 488h4v4h-4zM-18 438h3v3h-3zM-14 434h2v2h-2zM-12 432h2v2h-2zM-16 436h2v2h-2zM12 396h2v2h-2zM10 398h3v3h-3zM6 404h3v3h-3zM4 402h2v2h-2zM92 408h3v3h-3zM0 400h2v2h-2zM10 498h2v2h-2zM82 500h2v2h-2zM70 504h2v2h-2zM24 392h3v3h-3zM16 388h3v3h-3zM42 392h2v2h-2zM20 390h2v2h-2zM32 394h2v2h-2zM18 502h2v2h-2zM112 446h3v3h-3zM106 440h3v3h-3zM34 390h2v2h-2zM72 402h3v3h-3zM78 392h4v4h-4zM82 396h4v4h-4zM96 486h4v4h-4zM102 442h2v2h-2zM102 442h2v2h-2zM94 412h2v2h-2zM80 402h3v3h-3zM88 412h2v2h-2zM36 388h2v2h-2zM44 386h2v2h-2zM38 386h2v2h-2zM112 446h4v4h-4zM84 410h2v2h-2zM88 410h2v2h-2zM90 404h4v4h-4zM92 404h2v2h-2zM94 480h4v4h-4zM100 464h2v2h-2zM98 470h3v3h-3zM70 508h3v3h-3zM78 508h4v4h-4zM72 504h2v2h-2zM4 504h2v2h-2zM44 384h4v4h-4zM38 390h3v3h-3zM44 382h2v2h-2zM36 510h2v2h-2zM22 508h2v2h-2zM36 514h2v2h-2zM-14 464h2v2h-2zM106 450h2v2h-2zM-14 452h2v2h-2zM6 402h2v2h-2zM90 494h2v2h-2zM94 488h2v2h-2zM96 492h2v2h-2zM86 508h2v2h-2zM98 426h2v2h-2zM-18 454h2v2h-2zM146 494h2v2h-2zM148 486h2v2h-2zM148 486h2v2h-2zM154 504h2v2h-2zM154 494h2v2h-2zM220 390h3v3h-3zM214 390h3v3h-3zM222 388h2v2h-2zM222 398h2v2h-2zM220 388h2v2h-2zM136 486h3v3h-3zM134 484h3v3h-3zM230 498h2v2h-2zM206 386h4v4h-4zM212 384h4v4h-4zM212 390h2v2h-2zM230 402h2v2h-2zM226 502h2v2h-2zM138 418h2v2h-2zM164 396h4v4h-4zM176 508h2v2h-2zM182 506h4v4h-4zM146 496h4v4h-4zM148 500h2v2h-2zM206 518h3v3h-3zM208 504h3v3h-3zM246 414h4v4h-4zM244 416h3v3h-3zM242 416h2v2h-2zM246 422h4v4h-4zM224 504h2v2h-2zM262 458h2v2h-2zM256 452h2v2h-2zM252 444h3v3h-3zM254 440h4v4h-4zM218 390h2v2h-2zM212 386h2v2h-2zM214 388h2v2h-2zM206 386h2v2h-2zM142 404h2v2h-2zM152 406h2v2h-2zM144 412h4v4h-4zM212 384h4v4h-4zM210 392h3v3h-3zM236 410h2v2h-2zM176 392h2v2h-2zM190 386h2v2h-2zM210 502h2v2h-2zM334 380h3v3h-3zM338 384h3v3h-3zM322 390h2v2h-2zM272 436h2v2h-2zM296 394h4v4h-4zM280 464h2v2h-2zM282 452h3v3h-3zM278 452h2v2h-2zM282 448h2v2h-2zM332 510h4v4h-4zM276 462h4v4h-4zM278 460h2v2h-2zM378 400h4v4h-4zM304 496h4v4h-4zM366 498h3v3h-3zM376 500h2v2h-2zM368 508h2v2h-2zM366 500h4v4h-4zM292 416h3v3h-3zM284 426h2v2h-2zM288 412h2v2h-2zM278 424h2v2h-2zM294 480h2v2h-2zM288 474h2v2h-2zM348 386h2v2h-2zM344 382h4v4h-4zM344 382h2v2h-2zM400 450h3v3h-3zM288 414h3v3h-3zM298 408h4v4h-4zM370 504h2v2h-2zM364 504h2v2h-2zM366 504h2v2h-2zM400 448h2v2h-2zM398 440h4v4h-4zM400 434h2v2h-2zM402 428h4v4h-4zM354 500h4v4h-4zM374 504h2v2h-2zM364 502h3v3h-3zM358 504h3v3h-3zM310 392h2v2h-2zM314 392h2v2h-2zM310 386h3v3h-3zM396 466h4v4h-4zM402 464h2v2h-2zM300 400h2v2h-2zM304 390h3v3h-3zM332 388h2v2h-2zM286 482h2v2h-2zM294 484h2v2h-2zM292 480h3v3h-3zM290 472h2v2h-2zM398 408h2v2h-2zM390 412h4v4h-4zM386 408h3v3h-3zM282 412h3v3h-3zM284 412h2v2h-2zM308 492h3v3h-3zM308 506h4v4h-4zM382 404h4v4h-4zM380 398h2v2h-2zM410 450h2v2h-2zM292 474h2v2h-2zM384 496h2v2h-2zM496 376h3v3h-3zM488 374h2v2h-2zM470 498h3v3h-3zM462 496h2v2h-2zM460 494h2v2h-2zM442 396h2v2h-2zM434 412h3v3h-3zM438 400h2v2h-2zM456 490h2v2h-2zM464 506h3v3h-3zM452 494h2v2h-2zM534 390h3v3h-3zM522 386h3v3h-3zM532 396h2v2h-2zM432 470h2v2h-2zM438 480h2v2h-2zM430 474h4v4h-4zM512 500h3v3h-3zM522 496h2v2h-2zM428 462h3v3h-3zM428 476h2v2h-2zM434 464h2v2h-2zM552 470h2v2h-2zM552 470h2v2h-2zM544 466h2v2h-2zM500 386h2v2h-2zM496 378h2v2h-2zM500 382h2v2h-2zM524 488h4v4h-4zM446 404h2v2h-2zM440 408h2v2h-2zM448 404h4v4h-4zM450 400h2v2h-2zM450 496h3v3h-3zM448 488h2v2h-2zM454 492h2v2h-2zM450 492h2v2h-2zM440 486h2v2h-2zM434 430h2v2h-2zM438 412h2v2h-2zM446 394h2v2h-2zM440 398h2v2h-2zM448 390h3v3h-3zM478 510h2v2h-2zM422 444h3v3h-3zM510 506h2v2h-2zM520 500h2v2h-2zM506 508h3v3h-3zM438 478h2v2h-2zM450 486h2v2h-2zM446 488h2v2h-2zM552 460h2v2h-2zM550 448h2v2h-2zM546 462h4v4h-4zM432 470h2v2h-2zM434 458h2v2h-2zM520 504h3v3h-3zM534 492h2v2h-2zM510 378h2v2h-2zM544 472h4v4h-4zM542 470h2v2h-2zM544 468h2v2h-2zM542 476h2v2h-2zM544 468h4v4h-4zM432 410h2v2h-2zM530 496h2v2h-2zM508 382h2v2h-2zM464 498h2v2h-2zM430 420h2v2h-2zM490 378h2v2h-2zM588 470h2v2h-2zM594 388h2v2h-2zM586 396h3v3h-3zM594 478h3v3h-3zM608 488h3v3h-3zM592 474h3v3h-3zM578 468h4v4h-4zM662 500h2v2h-2zM666 496h2v2h-2zM648 372h2v2h-2zM654 374h2v2h-2zM700 438h2v2h-2zM702 420h4v4h-4zM678 398h3v3h-3zM698 448h2v2h-2zM692 458h2v2h-2zM690 462h3v3h-3zM696 460h2v2h-2zM588 400h2v2h-2zM580 402h2v2h-2zM584 400h2v2h-2zM662 382h4v4h-4zM676 384h2v2h-2zM674 392h2v2h-2zM664 378h4v4h-4zM680 394h2v2h-2zM582 426h2v2h-2zM582 446h2v2h-2zM590 486h2v2h-2zM600 488h2v2h-2zM576 470h3v3h-3zM594 492h2v2h-2zM592 476h4v4h-4zM608 390h2v2h-2zM694 476h2v2h-2zM684 486h3v3h-3zM698 476h2v2h-2zM576 462h2v2h-2zM590 396h3v3h-3zM590 408h2v2h-2zM586 394h4v4h-4zM656 496h2v2h-2zM598 480h2v2h-2zM604 486h3v3h-3zM690 394h2v2h-2zM694 410h2v2h-2zM696 414h3v3h-3zM636 508h2v2h-2zM580 406h2v2h-2zM706 440h2v2h-2zM576 426h2v2h-2zM726 422h4v4h-4zM726 430h2v2h-2zM810 496h4v4h-4zM814 490h4v4h-4zM820 488h2v2h-2zM834 478h2v2h-2zM824 480h2v2h-2zM844 456h3v3h-3zM852 460h3v3h-3zM856 444h2v2h-2zM762 500h3v3h-3zM760 490h2v2h-2zM780 374h2v2h-2zM746 380h3v3h-3zM746 486h3v3h-3zM854 450h2v2h-2zM844 428h2v2h-2zM748 476h3v3h-3zM738 476h3v3h-3zM738 486h2v2h-2zM840 400h2v2h-2zM830 386h3v3h-3zM736 482h4v4h-4zM850 406h4v4h-4zM840 410h4v4h-4zM832 396h2v2h-2zM844 398h2v2h-2zM836 466h2v2h-2zM848 462h2v2h-2zM826 484h2v2h-2zM730 436h4v4h-4zM720 448h2v2h-2zM826 480h2v2h-2zM788 372h2v2h-2zM784 376h2v2h-2zM792 374h2v2h-2zM796 376h2v2h-2zM728 418h2v2h-2zM728 450h3v3h-3zM718 446h2v2h-2zM726 440h2v2h-2zM728 444h3v3h-3zM726 432h2v2h-2zM726 432h2v2h-2zM834 392h2v2h-2zM792 504h2v2h-2zM794 502h2v2h-2zM724 420h2v2h-2zM842 412h2v2h-2zM850 420h4v4h-4zM836 466h2v2h-2zM848 468h3v3h-3zM846 434h2v2h-2zM844 436h4v4h-4zM850 452h2v2h-2zM738 470h4v4h-4zM730 398h2v2h-2zM734 402h2v2h-2zM734 400h2v2h-2zM826 492h2v2h-2zM816 496h2v2h-2zM850 442h2v2h-2zM844 432h2v2h-2zM796 372h2v2h-2zM732 404h2v2h-2zM768 374h2v2h-2zM96 620h3v3h-3zM96 614h4v4h-4zM-12 618h4v4h-4zM-14 618h2v2h-2zM-12 614h2v2h-2zM98 628h4v4h-4zM96 626h4v4h-4zM100 622h4v4h-4zM96 622h3v3h-3zM94 634h2v2h-2zM94 618h3v3h-3zM90 626h2v2h-2zM92 624h2v2h-2zM92 642h4v4h-4zM82 636h3v3h-3zM94 624h3v3h-3zM88 632h2v2h-2zM-2 632h4v4h-4zM2 634h2v2h-2zM4 636h2v2h-2zM-8 558h4v4h-4zM-2 554h2v2h-2zM4 556h3v3h-3zM64 664h2v2h-2zM62 658h2v2h-2zM2 656h2v2h-2zM-4 640h3v3h-3zM-12 628h2v2h-2zM-12 644h2v2h-2zM-20 640h3v3h-3zM-14 616h3v3h-3zM6 552h2v2h-2zM10 552h2v2h-2zM0 558h2v2h-2zM56 648h2v2h-2zM2 546h2v2h-2zM106 582h2v2h-2zM98 578h2v2h-2zM94 570h4v4h-4zM90 624h2v2h-2zM92 624h2v2h-2zM106 594h3v3h-3zM26 544h4v4h-4zM88 638h2v2h-2zM70 538h2v2h-2zM66 542h3v3h-3zM-12 628h4v4h-4zM-12 620h2v2h-2zM-12 618h2v2h-2zM92 568h3v3h-3zM94 566h4v4h-4zM86 560h2v2h-2zM88 562h2v2h-2zM6 672h2v2h-2zM102 590h2v2h-2zM14 664h2v2h-2zM106 588h2v2h-2zM16 660h2v2h-2zM88 556h2v2h-2zM108 602h2v2h-2zM178 532h4v4h-4zM142 562h2v2h-2zM132 568h3v3h-3zM148 552h3v3h-3zM128 586h2v2h-2zM126 586h2v2h-2zM160 548h2v2h-2zM164 546h3v3h-3zM182 662h2v2h-2zM238 558h3v3h-3zM238 548h2v2h-2zM244 554h2v2h-2zM246 614h2v2h-2zM254 608h2v2h-2zM256 634h2v2h-2zM152 642h2v2h-2zM142 556h2v2h-2zM136 562h4v4h-4zM140 620h2v2h-2zM186 532h2v2h-2zM170 538h2v2h-2zM128 578h2v2h-2zM194 654h2v2h-2zM236 556h3v3h-3zM238 560h2v2h-2zM162 650h3v3h-3zM168 648h3v3h-3zM210 668h2v2h-2zM154 550h2v2h-2zM250 596h2v2h-2zM258 612h2v2h-2zM206 652h3v3h-3zM206 652h3v3h-3zM200 656h2v2h-2zM196 656h4v4h-4zM208 654h2v2h-2zM158 668h2v2h-2zM148 546h2v2h-2zM156 544h2v2h-2zM168 544h3v3h-3zM224 546h2v2h-2zM252 594h2v2h-2zM134 596h2v2h-2zM360 656h2v2h-2zM366 640h4v4h-4zM352 536h2v2h-2zM334 532h4v4h-4zM278 580h2v2h-2zM282 584h4v4h-4zM388 552h2v2h-2zM390 556h2v2h-2zM282 604h4v4h-4zM288 608h4v4h-4zM410 598h2v2h-2zM412 588h3v3h-3zM372 638h3v3h-3zM408 606h4v4h-4zM374 542h4v4h-4zM384 544h3v3h-3zM376 544h2v2h-2zM406 590h4v4h-4zM402 596h4v4h-4zM406 582h2v2h-2zM404 586h2v2h-2zM342 676h2v2h-2zM382 630h4v4h-4zM388 642h2v2h-2zM384 658h3v3h-3zM380 660h2v2h-2zM384 650h2v2h-2zM284 590h2v2h-2zM282 576h2v2h-2zM284 582h2v2h-2zM296 556h4v4h-4zM290 560h2v2h-2zM396 570h2v2h-2zM398 566h3v3h-3zM402 558h3v3h-3zM406 578h2v2h-2zM406 564h4v4h-4zM398 566h2v2h-2zM280 606h2v2h-2zM286 592h2v2h-2zM286 590h2v2h-2zM274 610h4v4h-4zM276 596h3v3h-3zM382 664h2v2h-2zM362 654h2v2h-2zM286 592h3v3h-3zM402 608h4v4h-4zM402 586h2v2h-2zM410 610h3v3h-3zM368 536h2v2h-2zM356 532h4v4h-4zM312 546h2v2h-2zM308 544h4v4h-4zM388 634h2v2h-2zM392 624h4v4h-4zM390 626h2v2h-2zM328 644h2v2h-2zM334 648h2v2h-2zM336 646h2v2h-2zM382 548h2v2h-2zM282 612h2v2h-2zM284 610h4v4h-4zM368 528h4v4h-4zM366 536h2v2h-2zM392 622h3v3h-3zM392 618h2v2h-2zM392 618h4v4h-4zM312 636h2v2h-2zM318 648h3v3h-3zM316 640h4v4h-4zM364 640h2v2h-2zM384 650h2v2h-2zM386 652h2v2h-2zM452 624h3v3h-3zM450 628h2v2h-2zM448 634h4v4h-4zM490 656h2v2h-2zM496 642h2v2h-2zM492 650h4v4h-4zM550 604h3v3h-3zM538 656h2v2h-2zM548 630h2v2h-2zM438 556h2v2h-2zM446 552h2v2h-2zM540 644h2v2h-2zM542 618h2v2h-2zM488 648h2v2h-2zM498 642h2v2h-2zM486 642h2v2h-2zM490 656h2v2h-2zM500 670h4v4h-4zM474 536h3v3h-3zM560 582h3v3h-3zM552 572h2v2h-2zM548 566h2v2h-2zM444 548h4v4h-4zM538 628h2v2h-2zM456 544h2v2h-2zM440 552h2v2h-2zM454 538h2v2h-2zM436 628h2v2h-2zM444 636h2v2h-2zM528 544h4v4h-4zM456 546h2v2h-2zM458 544h4v4h-4zM460 540h2v2h-2zM486 534h2v2h-2zM488 522h3v3h-3zM504 528h2v2h-2zM552 598h4v4h-4zM556 616h2v2h-2zM428 612h2v2h-2zM430 592h4v4h-4zM436 588h3v3h-3zM434 588h2v2h-2zM550 634h2v2h-2zM542 642h4v4h-4zM450 634h2v2h-2zM476 664h2v2h-2zM486 672h4v4h-4zM456 536h2v2h-2zM476 654h2v2h-2zM612 536h2v2h-2zM610 626h3v3h-3zM586 574h2v2h-2zM578 588h2v2h-2zM584 596h2v2h-2zM596 614h2v2h-2zM706 612h2v2h-2zM704 594h2v2h-2zM700 612h2v2h-2zM706 602h2v2h-2zM622 532h4v4h-4zM590 574h2v2h-2zM586 574h2v2h-2zM690 618h4v4h-4zM696 610h3v3h-3zM686 544h2v2h-2zM694 540h3v3h-3zM702 610h4v4h-4zM710 612h4v4h-4zM712 614h2v2h-2zM660 530h2v2h-2zM656 530h2v2h-2zM612 536h2v2h-2zM700 572h2v2h-2zM618 636h2v2h-2zM606 640h2v2h-2zM638 660h2v2h-2zM652 640h2v2h-2zM694 646h2v2h-2zM690 628h4v4h-4zM688 626h3v3h-3zM690 638h2v2h-2zM612 630h2v2h-2zM586 584h2v2h-2zM694 552h2v2h-2zM700 548h3v3h-3zM706 582h3v3h-3zM708 588h4v4h-4zM704 584h2v2h-2zM706 586h2v2h-2zM596 548h4v4h-4zM706 564h3v3h-3zM688 544h2v2h-2zM690 550h2v2h-2zM690 618h2v2h-2zM712 612h2v2h-2zM704 564h2v2h-2zM676 530h2v2h-2zM842 542h3v3h-3zM830 538h2v2h-2zM818 528h3v3h-3zM744 542h2v2h-2zM844 622h2v2h-2zM748 540h2v2h-2zM752 546h4v4h-4zM734 582h2v2h-2zM734 582h4v4h-4zM780 646h2v2h-2zM778 660h2v2h-2zM732 580h4v4h-4zM740 596h2v2h-2zM740 598h3v3h-3zM748 610h2v2h-2zM742 616h3v3h-3zM740 618h2v2h-2zM830 536h2v2h-2zM836 622h2v2h-2zM848 642h2v2h-2zM844 624h4v4h-4zM846 614h2v2h-2zM852 618h2v2h-2zM862 590h2v2h-2zM854 592h4v4h-4zM852 586h4v4h-4zM828 534h3v3h-3zM856 616h2v2h-2zM856 604h4v4h-4zM838 536h2v2h-2zM834 538h2v2h-2zM838 538h4v4h-4zM848 544h3v3h-3zM766 630h2v2h-2zM778 638h4v4h-4zM764 632h2v2h-2zM764 628h4v4h-4zM774 634h2v2h-2zM736 584h2v2h-2zM780 526h2v2h-2zM772 522h2v2h-2zM840 550h2v2h-2zM850 558h2v2h-2zM856 562h2v2h-2zM858 564h4v4h-4zM856 600h2v2h-2zM848 636h2v2h-2zM854 564h2v2h-2zM850 622h2v2h-2zM864 602h2v2h-2zM850 548h2v2h-2zM856 560h2v2h-2zM812 656h2v2h-2z" fill="#b4b4b4"/>
<g fill="none" stroke="#e4e4e4"><path d="M24.4 92.3L37.7 92.4" stroke-width="3.0"/><path d="M-8.2 110.3L5.1 101.5" stroke-width="2.5"/><path d="M63.0 98.5L76.0 108.6" stroke-width="2.0"/><path d="M-4.2 102.8L9.6 95.7" stroke-width="2.5"/><path d="M25.2 214.0L12.6 211.7" stroke-width="2.0"/><path d="M-10.6 197.0L-21.1 185.1" stroke-width="2.5"/><path d="M140.0 188.9L134.5 182.3" stroke-width="2.5"/><path d="M225.2 188.6L214.6 197.0" stroke-width="2.0"/><path d="M174.0 82.1L178.4 81.6" stroke-width="2.5"/><path d="M163.6 95.1L178.0 92.0" stroke-width="2.5"/><path d="M221.2 96.4L231.0 105.0" stroke-width="3.0"/><path d="M224.8 191.0L212.7 199.8" stroke-width="2.0"/><path d="M136.6 191.9L126.5 177.9" stroke-width="2.0"/><path d="M206.9 88.7L217.8 94.2" stroke-width="2.0"/><path d="M278.0 164.9L276.1 157.5" stroke-width="2.5"/><path d="M334.4 79.0L352.0 80.9" stroke-width="2.0"/><path d="M342.8 87.5L352.2 89.3" stroke-width="2.5"/><path d="M512.6 197.5L506.7 199.7" stroke-width="3.0"/><path d="M533.0 181.0L527.9 186.2" stroke-width="3.0"/><path d="M444.3 108.5L451.2 101.8" stroke-width="2.0"/><path d="M431.1 114.7L441.2 100.2" stroke-width="2.0"/><path d="M538.3 173.9L530.8 183.4" stroke-width="3.0"/><path d="M426.0 120.7L430.4 110.9" stroke-width="2.0"/><path d="M700.5 127.4L702.3 139.6" stroke-width="2.5"/><path d="M617.5 196.7L611.7 193.9" stroke-width="3.0"/><path d="M589.3 117.5L595.8 107.4" stroke-width="3.0"/><path d="M637.8 209.4L627.6 208.1" stroke-width="2.0"/><path d="M825.6 199.4L820.3 201.9" stroke-width="2.5"/><path d="M737.2 122.4L738.6 118.5" stroke-width="3.0"/><path d="M752.6 179.4L746.8 172.7" stroke-width="2.5"/><path d="M813.2 83.1L817.4 84.6" stroke-width="3.0"/><path d="M831.2 196.2L818.7 202.5" stroke-width="2.0"/><path d="M-24.8 290.9L-19.0 275.2" stroke-width="2.0"/><path d="M6.1 259.3L18.6 251.7" stroke-width="2.5"/><path d="M248.8 342.7L244.5 348.3" stroke-width="2.5"/><path d="M245.6 272.7L250.8 284.0" stroke-width="2.5"/><path d="M146.8 255.5L154.6 249.5" stroke-width="2.0"/><path d="M255.1 292.9L256.0 300.0" stroke-width="3.0"/><path d="M250.1 315.0L245.7 328.8" stroke-width="2.0"/><path d="M206.5 237.4L217.9 240.8" stroke-width="2.5"/><path d="M212.0 359.9L197.4 363.2" stroke-width="2.5"/><path d="M133.6 302.7L133.9 298.5" stroke-width="3.0"/><path d="M282.2 300.4L284.5 286.0" stroke-width="2.5"/><path d="M399.3 309.1L396.4 321.5" stroke-width="3.0"/><path d="M376.5 354.8L361.1 362.5" stroke-width="2.0"/><path d="M397.2 319.0L395.3 324.5" stroke-width="3.0"/><path d="M357.0 360.5L346.9 362.5" stroke-width="3.0"/><path d="M391.1 271.2L395.4 279.8" stroke-width="2.5"/><path d="M356.5 363.8L339.2 365.9" stroke-width="3.0"/><path d="M396.1 281.5L398.6 290.8" stroke-width="2.0"/><path d="M549.1 316.5L544.4 328.4" stroke-width="3.0"/><path d="M483.6 365.5L467.4 362.2" stroke-width="2.5"/><path d="M424.7 306.8L424.5 294.9" stroke-width="3.0"/><path d="M444.0 339.2L437.8 330.7" stroke-width="3.0"/><path d="M463.8 244.5L479.1 239.9" stroke-width="2.0"/><path d="M419.6 294.0L422.5 279.6" stroke-width="3.0"/><path d="M600.9 343.1L595.1 337.7" stroke-width="3.0"/><path d="M606.4 245.6L622.5 239.0" stroke-width="2.0"/><path d="M675.4 343.8L664.7 350.9" stroke-width="2.0"/><path d="M657.4 352.5L641.2 355.9" stroke-width="2.0"/><path d="M630.9 232.7L635.4 232.4" stroke-width="2.5"/><path d="M639.8 234.1L655.1 236.5" stroke-width="2.0"/><path d="M738.2 253.1L743.3 248.1" stroke-width="2.0"/><path d="M839.1 272.7L842.6 283.1" stroke-width="2.5"/><path d="M827.2 246.8L836.3 256.0" stroke-width="2.0"/><path d="M847.5 315.3L845.9 319.6" stroke-width="2.0"/><path d="M795.0 235.8L806.5 238.7" stroke-width="2.5"/><path d="M726.7 291.6L730.3 275.1" stroke-width="2.5"/><path d="M832.1 331.1L829.4 334.5" stroke-width="2.0"/><path d="M855.5 294.9L853.7 311.4" stroke-width="2.0"/><path d="M35.2 387.6L41.8 387.0" stroke-width="3.0"/><path d="M-12.7 491.5L-20.8 475.6" stroke-width="2.5"/><path d="M13.7 505.7L3.4 498.4" stroke-width="2.5"/><path d="M86.4 491.1L77.8 498.5" stroke-width="2.5"/><path d="M79.3 499.3L69.2 505.1" stroke-width="3.0"/><path d="M29.0 516.3L19.3 513.2" stroke-width="3.0"/><path d="M147.6 486.5L140.4 476.0" stroke-width="3.0"/><path d="M237.6 485.0L225.8 495.8" stroke-width="2.5"/><path d="M146.7 412.9L157.4 402.1" stroke-width="2.0"/><path d="M462.8 501.1L451.2 494.2" stroke-width="2.0"/><path d="M520.7 492.8L516.9 494.9" stroke-width="3.0"/><path d="M501.6 374.4L508.4 376.0" stroke-width="2.5"/><path d="M529.0 486.6L520.8 492.7" stroke-width="2.0"/><path d="M440.1 406.6L447.4 398.2" stroke-width="2.0"/><path d="M452.7 495.3L445.7 489.6" stroke-width="3.0"/><path d="M431.4 424.3L434.6 415.9" stroke-width="2.0"/><path d="M516.6 507.0L506.2 510.4" stroke-width="2.0"/><path d="M446.5 487.5L443.4 484.2" stroke-width="2.0"/><path d="M591.8 401.7L598.0 395.0" stroke-width="3.0"/><path d="M646.3 370.9L651.6 371.7" stroke-width="3.0"/><path d="M706.4 427.2L707.4 444.7" stroke-width="3.0"/><path d="M588.6 408.8L592.9 402.6" stroke-width="2.0"/><path d="M568.6 442.0L568.7 436.7" stroke-width="3.0"/><path d="M781.5 370.3L794.6 370.6" stroke-width="2.0"/><path d="M801.8 492.0L786.3 494.0" stroke-width="2.5"/><path d="M832.1 388.2L837.7 394.2" stroke-width="2.5"/><path d="M-12.8 635.0L-15.7 629.6" stroke-width="3.0"/><path d="M20.9 541.7L30.9 539.0" stroke-width="3.0"/><path d="M164.2 539.0L176.4 534.3" stroke-width="2.0"/><path d="M194.0 648.1L187.5 647.9" stroke-width="3.0"/><path d="M150.8 548.1L155.2 544.5" stroke-width="2.5"/><path d="M243.8 566.5L249.4 580.2" stroke-width="2.5"/><path d="M255.5 597.1L255.3 601.2" stroke-width="2.0"/><path d="M402.3 615.0L396.9 625.9" stroke-width="2.5"/><path d="M382.5 637.5L377.0 641.5" stroke-width="2.5"/><path d="M398.5 565.7L401.6 573.1" stroke-width="2.5"/><path d="M368.9 641.5L362.4 644.0" stroke-width="3.0"/><path d="M376.9 536.7L386.9 544.2" stroke-width="3.0"/><path d="M451.3 624.5L447.0 619.3" stroke-width="2.0"/><path d="M442.5 556.0L451.5 545.5" stroke-width="3.0"/><path d="M550.5 568.7L552.9 577.3" stroke-width="2.0"/><path d="M703.0 597.8L701.5 603.0" stroke-width="2.5"/><path d="M704.2 635.0L696.6 646.1" stroke-width="2.5"/><path d="M699.0 560.9L702.6 570.5" stroke-width="2.0"/><path d="M613.9 647.6L608.4 644.2" stroke-width="3.0"/><path d="M582.9 594.2L582.9 582.3" stroke-width="2.0"/><path d="M839.8 618.1L831.4 625.7" stroke-width="2.0"/><path d="M827.9 534.6L839.0 543.3" stroke-width="2.0"/><path d="M831.9 535.9L836.2 539.3" stroke-width="3.0"/><path d="M781.3 520.9L791.0 519.4" stroke-width="2.5"/></g>
<path d="M18 210h3v3h-3zM24 96h2v2h-2zM32 94h2v2h-2zM30 94h2v2h-2zM36 92h2v2h-2zM2 100h2v2h-2zM96 158h3v3h-3zM92 148h3v3h-3zM30 208h2v2h-2zM28 214h2v2h-2zM-26 168h2v2h-2zM2 204h4v4h-4zM-26 160h3v3h-3zM14 212h2v2h-2zM72 98h2v2h-2zM80 108h2v2h-2zM2 102h4v4h-4zM20 208h3v3h-3zM14 218h3v3h-3zM12 210h2v2h-2zM38 214h2v2h-2zM40 210h3v3h-3zM-36 154h3v3h-3zM14 208h3v3h-3zM10 82h4v4h-4zM14 94h2v2h-2zM14 96h2v2h-2zM88 158h2v2h-2zM-28 116h3v3h-3zM-26 120h3v3h-3zM230 194h4v4h-4zM140 194h2v2h-2zM142 194h2v2h-2zM132 120h2v2h-2zM198 206h2v2h-2zM226 110h2v2h-2zM132 176h3v3h-3zM224 188h4v4h-4zM202 210h2v2h-2zM200 204h2v2h-2zM200 214h2v2h-2zM196 204h4v4h-4zM184 90h2v2h-2zM222 96h3v3h-3zM122 128h3v3h-3zM118 134h2v2h-2zM254 138h4v4h-4zM170 96h4v4h-4zM172 90h2v2h-2zM206 206h4v4h-4zM218 198h4v4h-4zM218 192h3v3h-3zM230 200h2v2h-2zM222 196h2v2h-2zM148 192h4v4h-4zM130 178h3v3h-3zM214 102h2v2h-2zM142 108h4v4h-4zM148 94h2v2h-2zM310 90h3v3h-3zM318 86h3v3h-3zM318 90h2v2h-2zM318 88h2v2h-2zM356 90h3v3h-3zM306 84h2v2h-2zM308 92h4v4h-4zM280 104h2v2h-2zM366 92h4v4h-4zM372 204h2v2h-2zM336 208h2v2h-2zM322 204h4v4h-4zM400 144h3v3h-3zM344 88h2v2h-2zM298 104h3v3h-3zM328 90h3v3h-3zM298 190h4v4h-4zM292 102h2v2h-2zM300 94h2v2h-2zM278 180h3v3h-3zM278 162h2v2h-2zM394 146h4v4h-4zM398 144h4v4h-4zM336 74h3v3h-3zM334 84h3v3h-3zM346 88h3v3h-3zM278 150h2v2h-2zM276 158h4v4h-4zM326 88h2v2h-2zM376 102h3v3h-3zM386 102h4v4h-4zM432 134h4v4h-4zM542 120h2v2h-2zM496 206h2v2h-2zM554 150h4v4h-4zM552 146h2v2h-2zM548 142h2v2h-2zM538 188h3v3h-3zM530 188h3v3h-3zM446 86h2v2h-2zM448 196h3v3h-3zM450 196h2v2h-2zM448 102h2v2h-2zM430 128h2v2h-2zM444 182h2v2h-2zM438 116h2v2h-2zM522 88h2v2h-2zM428 132h3v3h-3zM424 136h2v2h-2zM432 130h2v2h-2zM542 112h4v4h-4zM548 110h4v4h-4zM542 112h2v2h-2zM538 116h2v2h-2zM430 142h3v3h-3zM428 120h4v4h-4zM522 190h2v2h-2zM430 128h4v4h-4zM424 126h4v4h-4zM428 130h2v2h-2zM534 188h2v2h-2zM546 106h2v2h-2zM536 102h3v3h-3zM538 108h4v4h-4zM430 128h3v3h-3zM424 138h4v4h-4zM430 150h3v3h-3zM452 102h2v2h-2zM534 190h2v2h-2zM436 116h3v3h-3zM428 118h3v3h-3zM422 120h2v2h-2zM532 186h3v3h-3zM468 86h2v2h-2zM522 86h4v4h-4zM516 88h2v2h-2zM520 90h2v2h-2zM614 200h2v2h-2zM634 198h4v4h-4zM708 140h3v3h-3zM682 188h4v4h-4zM578 128h2v2h-2zM628 74h2v2h-2zM642 74h4v4h-4zM576 126h2v2h-2zM576 126h4v4h-4zM580 116h2v2h-2zM708 134h3v3h-3zM684 188h3v3h-3zM692 182h2v2h-2zM622 198h2v2h-2zM606 190h2v2h-2zM590 116h2v2h-2zM700 126h2v2h-2zM608 196h2v2h-2zM618 192h2v2h-2zM612 192h4v4h-4zM690 108h3v3h-3zM696 106h3v3h-3zM696 98h3v3h-3zM600 104h4v4h-4zM598 96h4v4h-4zM588 106h2v2h-2zM574 134h2v2h-2zM574 144h2v2h-2zM576 130h2v2h-2zM688 180h4v4h-4zM640 200h3v3h-3zM628 200h3v3h-3zM684 100h2v2h-2zM678 100h3v3h-3zM742 112h4v4h-4zM840 102h2v2h-2zM732 110h2v2h-2zM738 100h3v3h-3zM736 162h2v2h-2zM734 168h2v2h-2zM732 164h2v2h-2zM732 166h2v2h-2zM838 178h4v4h-4zM778 198h2v2h-2zM820 194h2v2h-2zM820 202h3v3h-3zM826 186h2v2h-2zM738 110h2v2h-2zM736 118h3v3h-3zM850 100h2v2h-2zM750 188h4v4h-4zM768 84h3v3h-3zM746 174h3v3h-3zM746 174h4v4h-4zM742 172h3v3h-3zM740 118h2v2h-2zM816 194h2v2h-2zM834 192h2v2h-2zM840 98h2v2h-2zM824 86h2v2h-2zM816 86h2v2h-2zM834 92h3v3h-3zM816 88h2v2h-2zM816 74h2v2h-2zM842 92h2v2h-2zM-24 316h4v4h-4zM-14 310h2v2h-2zM84 358h2v2h-2zM96 328h3v3h-3zM88 346h3v3h-3zM86 256h2v2h-2zM72 362h2v2h-2zM30 366h4v4h-4zM94 334h2v2h-2zM18 252h2v2h-2zM-6 266h4v4h-4zM94 276h4v4h-4zM94 268h2v2h-2zM96 274h2v2h-2zM96 276h2v2h-2zM-4 266h3v3h-3zM0 268h2v2h-2zM70 250h3v3h-3zM72 252h2v2h-2zM58 244h3v3h-3zM62 246h2v2h-2zM-26 304h4v4h-4zM82 264h2v2h-2zM-14 278h3v3h-3zM-16 286h4v4h-4zM0 266h2v2h-2zM4 258h2v2h-2zM82 264h2v2h-2zM74 250h3v3h-3zM4 262h2v2h-2zM0 260h4v4h-4zM-4 264h2v2h-2zM-8 268h4v4h-4zM-2 264h3v3h-3zM-8 258h4v4h-4zM4 260h2v2h-2zM178 370h4v4h-4zM202 364h2v2h-2zM202 372h2v2h-2zM238 348h2v2h-2zM242 348h2v2h-2zM144 258h4v4h-4zM158 258h2v2h-2zM252 300h4v4h-4zM188 246h2v2h-2zM204 246h2v2h-2zM204 242h2v2h-2zM222 356h2v2h-2zM250 280h3v3h-3zM250 298h4v4h-4zM202 242h2v2h-2zM198 246h2v2h-2zM250 324h4v4h-4zM168 248h4v4h-4zM132 294h4v4h-4zM128 322h4v4h-4zM246 340h2v2h-2zM242 344h2v2h-2zM244 342h3v3h-3zM236 344h4v4h-4zM206 370h2v2h-2zM196 364h3v3h-3zM188 364h4v4h-4zM152 350h2v2h-2zM246 324h2v2h-2zM224 252h2v2h-2zM232 248h2v2h-2zM226 256h3v3h-3zM212 238h4v4h-4zM130 296h2v2h-2zM284 288h2v2h-2zM388 334h4v4h-4zM400 334h3v3h-3zM394 272h4v4h-4zM398 286h3v3h-3zM398 282h2v2h-2zM280 300h4v4h-4zM280 292h2v2h-2zM360 362h2v2h-2zM368 352h4v4h-4zM398 310h4v4h-4zM372 352h4v4h-4zM378 354h3v3h-3zM398 280h2v2h-2zM392 276h4v4h-4zM386 260h3v3h-3zM390 266h4v4h-4zM400 320h3v3h-3zM396 330h2v2h-2zM356 358h3v3h-3zM282 304h4v4h-4zM408 314h2v2h-2zM394 270h2v2h-2zM394 284h3v3h-3zM396 282h4v4h-4zM380 260h4v4h-4zM386 262h2v2h-2zM302 348h3v3h-3zM362 356h4v4h-4zM372 354h2v2h-2zM292 266h2v2h-2zM290 262h3v3h-3zM394 284h4v4h-4zM394 282h3v3h-3zM402 290h2v2h-2zM394 332h2v2h-2zM384 352h2v2h-2zM356 362h2v2h-2zM400 280h2v2h-2zM398 292h2v2h-2zM378 254h2v2h-2zM392 280h3v3h-3zM392 278h2v2h-2zM398 300h2v2h-2zM400 306h4v4h-4zM294 260h4v4h-4zM284 270h2v2h-2zM550 332h4v4h-4zM478 364h2v2h-2zM428 288h2v2h-2zM426 288h4v4h-4zM434 340h2v2h-2zM438 334h2v2h-2zM462 362h2v2h-2zM480 366h3v3h-3zM472 356h2v2h-2zM548 294h2v2h-2zM524 246h2v2h-2zM426 300h2v2h-2zM432 304h2v2h-2zM440 250h2v2h-2zM446 260h3v3h-3zM444 348h2v2h-2zM466 246h4v4h-4zM436 324h2v2h-2zM434 328h2v2h-2zM426 316h2v2h-2zM436 326h2v2h-2zM426 300h4v4h-4zM430 304h4v4h-4zM464 358h2v2h-2zM468 352h2v2h-2zM458 246h4v4h-4zM462 244h4v4h-4zM468 364h2v2h-2zM522 250h4v4h-4zM528 248h2v2h-2zM430 288h3v3h-3zM428 292h2v2h-2zM698 314h4v4h-4zM694 310h2v2h-2zM604 346h2v2h-2zM596 340h2v2h-2zM672 240h3v3h-3zM610 246h3v3h-3zM602 240h4v4h-4zM676 342h3v3h-3zM678 348h3v3h-3zM684 338h2v2h-2zM582 312h2v2h-2zM578 312h2v2h-2zM682 250h3v3h-3zM646 362h2v2h-2zM656 354h2v2h-2zM634 240h3v3h-3zM630 232h2v2h-2zM630 238h2v2h-2zM684 254h2v2h-2zM696 266h2v2h-2zM686 264h4v4h-4zM680 342h4v4h-4zM686 346h2v2h-2zM678 344h2v2h-2zM686 344h2v2h-2zM640 360h2v2h-2zM632 358h2v2h-2zM594 338h2v2h-2zM588 334h2v2h-2zM704 316h4v4h-4zM620 362h2v2h-2zM628 362h2v2h-2zM772 360h2v2h-2zM746 244h3v3h-3zM778 356h2v2h-2zM764 358h4v4h-4zM740 262h3v3h-3zM742 258h2v2h-2zM786 358h2v2h-2zM842 276h3v3h-3zM854 278h2v2h-2zM808 242h3v3h-3zM800 230h2v2h-2zM728 316h3v3h-3zM848 266h3v3h-3zM834 260h2v2h-2zM730 302h2v2h-2zM726 312h4v4h-4zM730 312h4v4h-4zM728 306h4v4h-4zM822 352h4v4h-4zM812 346h3v3h-3zM750 348h4v4h-4zM728 288h4v4h-4zM726 284h4v4h-4zM834 334h2v2h-2zM754 346h4v4h-4zM724 274h4v4h-4zM728 272h2v2h-2zM732 278h3v3h-3zM752 348h4v4h-4zM824 352h2v2h-2zM846 302h2v2h-2zM848 304h2v2h-2zM846 276h3v3h-3zM848 308h2v2h-2zM854 308h2v2h-2zM54 390h4v4h-4zM-10 482h4v4h-4zM-12 470h2v2h-2zM38 394h2v2h-2zM4 396h2v2h-2zM12 402h2v2h-2zM2 400h4v4h-4zM92 418h3v3h-3zM88 408h4v4h-4zM0 402h4v4h-4zM0 398h2v2h-2zM0 410h4v4h-4zM10 508h2v2h-2zM90 492h2v2h-2zM26 392h2v2h-2zM8 504h2v2h-2zM18 514h2v2h-2zM108 444h4v4h-4zM24 392h3v3h-3zM40 384h2v2h-2zM34 396h4v4h-4zM74 398h2v2h-2zM82 394h2v2h-2zM90 486h4v4h-4zM94 486h2v2h-2zM92 484h4v4h-4zM108 442h4v4h-4zM104 436h2v2h-2zM88 406h4v4h-4zM110 452h2v2h-2zM108 448h4v4h-4zM90 414h4v4h-4zM104 476h4v4h-4zM64 518h3v3h-3zM70 506h2v2h-2zM76 504h4v4h-4zM2 492h2v2h-2zM42 390h2v2h-2zM42 512h2v2h-2zM34 520h2v2h-2zM24 518h4v4h-4zM150 498h3v3h-3zM150 486h2v2h-2zM144 494h2v2h-2zM154 490h3v3h-3zM152 498h2v2h-2zM144 484h4v4h-4zM138 478h2v2h-2zM136 414h4v4h-4zM140 414h2v2h-2zM206 390h3v3h-3zM234 406h2v2h-2zM220 498h4v4h-4zM232 408h2v2h-2zM230 400h2v2h-2zM236 492h2v2h-2zM162 396h2v2h-2zM166 388h4v4h-4zM160 400h2v2h-2zM162 388h2v2h-2zM178 506h3v3h-3zM150 494h2v2h-2zM214 512h4v4h-4zM214 514h3v3h-3zM180 386h3v3h-3zM258 442h2v2h-2zM254 430h3v3h-3zM150 410h2v2h-2zM154 406h2v2h-2zM154 402h2v2h-2zM208 390h4v4h-4zM248 474h4v4h-4zM322 384h2v2h-2zM276 440h4v4h-4zM282 462h3v3h-3zM306 396h3v3h-3zM388 484h2v2h-2zM388 496h2v2h-2zM382 498h2v2h-2zM340 506h2v2h-2zM338 506h2v2h-2zM284 458h3v3h-3zM288 466h4v4h-4zM304 500h3v3h-3zM290 420h2v2h-2zM292 476h2v2h-2zM410 454h2v2h-2zM408 466h2v2h-2zM282 458h4v4h-4zM374 492h4v4h-4zM404 444h2v2h-2zM404 454h2v2h-2zM410 440h2v2h-2zM408 428h2v2h-2zM358 500h4v4h-4zM368 508h2v2h-2zM308 400h2v2h-2zM366 496h2v2h-2zM370 498h2v2h-2zM368 496h2v2h-2zM306 388h3v3h-3zM344 388h2v2h-2zM340 384h4v4h-4zM278 474h3v3h-3zM292 476h2v2h-2zM392 398h2v2h-2zM294 412h2v2h-2zM278 424h2v2h-2zM304 492h3v3h-3zM304 496h3v3h-3zM306 496h2v2h-2zM302 400h3v3h-3zM300 390h3v3h-3zM388 398h2v2h-2zM378 398h2v2h-2zM386 406h2v2h-2zM466 494h2v2h-2zM468 498h2v2h-2zM452 492h2v2h-2zM446 496h2v2h-2zM442 474h3v3h-3zM432 462h3v3h-3zM520 492h2v2h-2zM430 466h3v3h-3zM436 472h2v2h-2zM426 470h3v3h-3zM438 472h2v2h-2zM544 468h3v3h-3zM506 376h3v3h-3zM500 380h2v2h-2zM530 494h2v2h-2zM458 496h3v3h-3zM462 496h2v2h-2zM428 422h2v2h-2zM456 396h2v2h-2zM496 498h2v2h-2zM504 502h3v3h-3zM446 482h2v2h-2zM456 498h2v2h-2zM450 482h3v3h-3zM558 450h2v2h-2zM548 456h4v4h-4zM552 466h2v2h-2zM478 382h2v2h-2zM478 376h3v3h-3zM482 382h4v4h-4zM482 374h2v2h-2zM524 488h3v3h-3zM524 382h2v2h-2zM546 462h4v4h-4zM546 470h3v3h-3zM546 468h2v2h-2zM524 396h3v3h-3zM534 402h3v3h-3zM436 458h4v4h-4zM424 460h2v2h-2zM432 462h3v3h-3zM696 432h2v2h-2zM592 390h2v2h-2zM582 400h4v4h-4zM586 396h3v3h-3zM598 496h3v3h-3zM600 480h3v3h-3zM604 494h2v2h-2zM586 478h2v2h-2zM590 480h2v2h-2zM656 504h3v3h-3zM696 432h2v2h-2zM702 440h2v2h-2zM684 390h2v2h-2zM600 488h2v2h-2zM612 490h3v3h-3zM590 392h4v4h-4zM668 380h2v2h-2zM600 482h2v2h-2zM584 470h4v4h-4zM588 484h3v3h-3zM594 486h2v2h-2zM602 382h3v3h-3zM602 390h2v2h-2zM658 498h2v2h-2zM692 402h2v2h-2zM804 502h2v2h-2zM824 490h4v4h-4zM828 482h2v2h-2zM726 440h2v2h-2zM784 368h2v2h-2zM802 376h3v3h-3zM744 388h4v4h-4zM738 476h4v4h-4zM844 438h2v2h-2zM852 420h2v2h-2zM854 448h2v2h-2zM846 426h4v4h-4zM844 446h3v3h-3zM744 478h2v2h-2zM740 478h2v2h-2zM740 474h4v4h-4zM842 408h2v2h-2zM830 390h2v2h-2zM828 390h2v2h-2zM840 410h2v2h-2zM830 398h3v3h-3zM832 396h2v2h-2zM838 400h3v3h-3zM840 400h2v2h-2zM826 490h2v2h-2zM832 474h4v4h-4zM792 370h3v3h-3zM794 374h4v4h-4zM734 414h4v4h-4zM834 402h4v4h-4zM728 418h3v3h-3zM844 424h2v2h-2zM838 400h2v2h-2zM840 412h2v2h-2zM830 390h2v2h-2zM830 390h2v2h-2zM836 464h3v3h-3zM834 466h3v3h-3zM846 462h2v2h-2zM726 416h4v4h-4zM848 448h2v2h-2zM798 376h2v2h-2zM810 372h2v2h-2zM106 638h2v2h-2zM-22 620h2v2h-2zM102 640h2v2h-2zM92 624h4v4h-4zM90 562h4v4h-4zM100 574h2v2h-2zM104 574h3v3h-3zM82 634h3v3h-3zM6 554h2v2h-2zM56 680h2v2h-2zM70 642h4v4h-4zM80 660h2v2h-2zM-22 624h2v2h-2zM-8 622h3v3h-3zM-18 622h4v4h-4zM-2 558h4v4h-4zM56 664h3v3h-3zM4 548h2v2h-2zM108 596h2v2h-2zM110 594h2v2h-2zM100 586h4v4h-4zM108 614h2v2h-2zM72 550h4v4h-4zM84 552h2v2h-2zM-12 620h3v3h-3zM-8 618h4v4h-4zM-12 636h4v4h-4zM92 556h2v2h-2zM102 572h2v2h-2zM98 572h3v3h-3zM92 560h2v2h-2zM102 570h2v2h-2zM84 558h4v4h-4zM148 558h4v4h-4zM140 556h3v3h-3zM166 542h2v2h-2zM202 652h2v2h-2zM244 556h3v3h-3zM160 670h3v3h-3zM160 644h2v2h-2zM138 614h2v2h-2zM140 634h2v2h-2zM142 618h4v4h-4zM174 542h2v2h-2zM156 540h2v2h-2zM156 548h4v4h-4zM246 572h3v3h-3zM194 650h2v2h-2zM188 664h2v2h-2zM246 562h2v2h-2zM256 572h2v2h-2zM150 554h3v3h-3zM152 548h2v2h-2zM252 596h3v3h-3zM250 600h4v4h-4zM196 666h2v2h-2zM210 652h4v4h-4zM192 648h4v4h-4zM188 674h2v2h-2zM346 530h2v2h-2zM356 534h3v3h-3zM282 582h2v2h-2zM384 542h3v3h-3zM386 550h2v2h-2zM394 554h2v2h-2zM388 544h4v4h-4zM404 616h2v2h-2zM398 612h2v2h-2zM402 632h2v2h-2zM280 616h2v2h-2zM278 600h2v2h-2zM374 638h2v2h-2zM406 592h2v2h-2zM402 584h2v2h-2zM410 580h2v2h-2zM408 598h3v3h-3zM344 644h4v4h-4zM342 646h2v2h-2zM388 654h2v2h-2zM370 638h2v2h-2zM374 642h4v4h-4zM280 586h3v3h-3zM294 554h2v2h-2zM362 662h3v3h-3zM362 666h2v2h-2zM412 584h2v2h-2zM274 598h2v2h-2zM366 654h4v4h-4zM286 594h2v2h-2zM362 528h2v2h-2zM362 540h2v2h-2zM386 544h2v2h-2zM408 594h2v2h-2zM292 610h2v2h-2zM288 626h3v3h-3zM366 530h2v2h-2zM370 534h2v2h-2zM366 530h2v2h-2zM308 642h2v2h-2zM314 650h4v4h-4zM446 624h4v4h-4zM442 640h2v2h-2zM552 594h4v4h-4zM558 614h3v3h-3zM520 530h2v2h-2zM454 630h3v3h-3zM456 652h2v2h-2zM544 626h4v4h-4zM456 548h2v2h-2zM542 638h2v2h-2zM544 636h3v3h-3zM464 648h2v2h-2zM460 632h3v3h-3zM442 556h2v2h-2zM432 566h2v2h-2zM494 642h4v4h-4zM498 644h4v4h-4zM510 644h4v4h-4zM560 576h2v2h-2zM550 570h2v2h-2zM548 568h2v2h-2zM454 546h3v3h-3zM546 624h2v2h-2zM544 624h4v4h-4zM554 632h4v4h-4zM554 584h4v4h-4zM554 594h2v2h-2zM536 546h2v2h-2zM564 602h3v3h-3zM552 584h3v3h-3zM452 548h3v3h-3zM456 546h3v3h-3zM456 542h2v2h-2zM454 540h3v3h-3zM458 536h3v3h-3zM454 542h2v2h-2zM458 534h2v2h-2zM494 522h3v3h-3zM498 534h4v4h-4zM504 534h4v4h-4zM542 630h2v2h-2zM534 648h4v4h-4zM450 626h2v2h-2zM488 660h2v2h-2zM482 650h3v3h-3zM494 670h2v2h-2zM488 650h2v2h-2zM450 542h2v2h-2zM456 546h2v2h-2zM616 536h2v2h-2zM620 534h2v2h-2zM612 538h2v2h-2zM612 640h2v2h-2zM578 588h2v2h-2zM586 576h3v3h-3zM640 522h2v2h-2zM638 520h2v2h-2zM590 600h4v4h-4zM584 604h2v2h-2zM702 602h2v2h-2zM708 604h2v2h-2zM616 536h4v4h-4zM580 582h2v2h-2zM698 612h2v2h-2zM690 626h4v4h-4zM702 622h4v4h-4zM688 642h2v2h-2zM682 538h3v3h-3zM676 538h2v2h-2zM690 552h4v4h-4zM692 546h2v2h-2zM702 598h2v2h-2zM702 606h2v2h-2zM702 596h2v2h-2zM656 532h4v4h-4zM668 530h2v2h-2zM576 596h2v2h-2zM588 592h2v2h-2zM608 540h2v2h-2zM698 560h2v2h-2zM708 570h4v4h-4zM614 636h2v2h-2zM604 658h2v2h-2zM634 646h2v2h-2zM682 636h2v2h-2zM582 594h2v2h-2zM578 600h2v2h-2zM706 580h2v2h-2zM686 546h4v4h-4zM696 558h4v4h-4zM824 528h2v2h-2zM814 526h2v2h-2zM760 536h2v2h-2zM844 620h3v3h-3zM846 646h4v4h-4zM760 536h3v3h-3zM762 538h4v4h-4zM746 548h2v2h-2zM736 568h4v4h-4zM732 580h2v2h-2zM732 576h4v4h-4zM836 630h3v3h-3zM774 634h2v2h-2zM740 628h2v2h-2zM824 528h2v2h-2zM828 534h2v2h-2zM836 630h2v2h-2zM738 594h4v4h-4zM738 602h4v4h-4zM734 602h3v3h-3zM844 618h2v2h-2zM844 618h2v2h-2zM842 616h3v3h-3zM848 554h4v4h-4zM864 604h2v2h-2zM858 594h3v3h-3zM840 538h2v2h-2zM828 534h2v2h-2zM840 538h4v4h-4zM838 538h2v2h-2zM762 634h3v3h-3zM734 590h2v2h-2zM852 562h2v2h-2z" fill="#e4e4e4"/>
</g>
<g filter="url(#sblur)"><path d="M103.2 139.7h8v16h-8zM255.8 137.3h8v16h-8zM408.4 134.9h8v16h-8zM561.0 132.5h8v16h-8zM713.6 130.1h8v16h-8zM113.3 297.0h8v16h-8zM261.9 295.0h8v16h-8zM410.5 293.0h8v16h-8zM559.1 291.0h8v16h-8zM707.7 289.0h8v16h-8zM114.7 442.5h8v16h-8zM263.1 439.5h8v16h-8zM411.5 436.5h8v16h-8zM559.9 433.5h8v16h-8zM708.3 430.5h8v16h-8zM113.7 597.4h8v16h-8zM264.4 594.6h8v16h-8zM415.0 592.0h8v16h-8zM565.8 589.2h8v16h-8zM716.4 586.5h8v16h-8zM29.0 223.4h16v8h-16zM179.6 221.2h16v8h-16zM330.1 219.1h16v8h-16zM480.8 216.8h16v8h-16zM631.3 214.7h16v8h-16zM782.0 212.4h16v8h-16zM35.8 375.0h16v8h-16zM184.2 372.5h16v8h-16zM332.8 370.0h16v8h-16zM481.2 367.5h16v8h-16zM629.8 365.0h16v8h-16zM778.2 362.5h16v8h-16zM35.4 525.4h16v8h-16zM184.9 522.5h16v8h-16zM334.5 519.6h16v8h-16zM484.1 516.8h16v8h-16zM633.6 514.0h16v8h-16zM783.1 511.1h16v8h-16z" fill="#6a6a6a"/><path d="M105.2 143.7h4v3h-4zM257.8 141.3h4v3h-4zM410.4 138.9h4v3h-4zM563.0 136.5h4v3h-4zM715.6 134.1h4v3h-4zM115.3 301.0h4v3h-4zM263.9 299.0h4v3h-4zM412.5 297.0h4v3h-4zM561.1 295.0h4v3h-4zM709.7 293.0h4v3h-4zM116.7 446.5h4v3h-4zM265.1 443.5h4v3h-4zM413.5 440.5h4v3h-4zM561.9 437.5h4v3h-4zM710.3 434.5h4v3h-4zM115.7 601.4h4v3h-4zM266.4 598.6h4v3h-4zM417.0 596.0h4v3h-4zM567.8 593.2h4v3h-4zM718.4 590.5h4v3h-4zM32.0 225.4h3v4h-3zM182.6 223.2h3v4h-3zM333.1 221.1h3v4h-3zM483.8 218.8h3v4h-3zM634.3 216.7h3v4h-3zM785.0 214.4h3v4h-3zM38.8 377.0h3v4h-3zM187.2 374.5h3v4h-3zM335.8 372.0h3v4h-3zM484.2 369.5h3v4h-3zM632.8 367.0h3v4h-3zM781.2 364.5h3v4h-3zM38.4 527.4h3v4h-3zM187.9 524.5h3v4h-3zM337.5 521.6h3v4h-3zM487.1 518.8h3v4h-3zM636.6 516.0h3v4h-3zM786.1 513.1h3v4h-3z" fill="#a0a0a0"/></g>
<rect x="402.6" y="63.5" width="15.2" height="34" fill="#6e6e6e"/>
<rect x="403.5" y="74" width="13.5" height="23" fill="#c4c4c4"/>
<rect x="405" y="52" width="12" height="5" fill="#9a9a9a"/>
<rect x="412.3" y="652.6" width="14" height="34" fill="#9a9a9a"/>
<rect x="413" y="653.5" width="12.6" height="21" fill="#dcdcdc"/>
<path d="M413.5 677h5v4h-5zM420 677h5v4h-5zM413.5 682h5v4h-5zM420 682h5v4h-5z" fill="#d0d0d0"/>
<rect x="57" y="2" width="714" height="707" filter="url(#grain)" opacity="0.18"/>
<path fill="#6720fd" shape-rendering="crispEdges" d="M114.0 125.1h6.6v6.6h-6.6zM114.0 131.4h6.6v6.6h-6.6zM114.0 137.7h6.6v6.6h-6.6zM114.0 144.0h6.6v6.6h-6.6zM120.3 106.2h6.6v6.6h-6.6zM120.3 112.5h6.6v6.6h-6.6zM120.3 118.8h6.6v6.6h-6.6zM120.3 150.3h6.6v6.6h-6.6zM120.3 156.6h6.6v6.6h-6.6zM126.6 99.9h6.6v6.6h-6.6zM126.6 156.6h6.6v6.6h-6.6zM132.9 93.6h6.6v6.6h-6.6zM132.9 156.6h6.6v6.6h-6.6zM139.2 93.6h6.6v6.6h-6.6zM139.2 156.6h6.6v6.6h-6.6zM145.5 87.3h6.6v6.6h-6.6zM145.5 156.6h6.6v6.6h-6.6zM151.8 81.0h6.6v6.6h-6.6zM151.8 156.6h6.6v6.6h-6.6zM158.1 81.0h6.6v6.6h-6.6zM158.1 162.9h6.6v6.6h-6.6zM164.4 81.0h6.6v6.6h-6.6zM164.4 169.2h6.6v6.6h-6.6zM170.7 81.0h6.6v6.6h-6.6zM170.7 175.5h6.6v6.6h-6.6zM170.7 181.8h6.6v6.6h-6.6zM177.0 81.0h6.6v6.6h-6.6zM177.0 188.1h6.6v6.6h-6.6zM183.3 81.0h6.6v6.6h-6.6zM183.3 194.4h6.6v6.6h-6.6zM189.6 81.0h6.6v6.6h-6.6zM189.6 188.1h6.6v6.6h-6.6zM195.9 87.3h6.6v6.6h-6.6zM195.9 181.8h6.6v6.6h-6.6zM202.2 87.3h6.6v6.6h-6.6zM202.2 175.5h6.6v6.6h-6.6zM208.5 93.6h6.6v6.6h-6.6zM208.5 169.2h6.6v6.6h-6.6zM214.8 93.6h6.6v6.6h-6.6zM214.8 99.9h6.6v6.6h-6.6zM214.8 106.2h6.6v6.6h-6.6zM214.8 169.2h6.6v6.6h-6.6zM221.1 112.5h6.6v6.6h-6.6zM221.1 156.6h6.6v6.6h-6.6zM221.1 162.9h6.6v6.6h-6.6zM227.4 112.5h6.6v6.6h-6.6zM227.4 150.3h6.6v6.6h-6.6zM233.7 118.8h6.6v6.6h-6.6zM233.7 125.1h6.6v6.6h-6.6zM233.7 131.4h6.6v6.6h-6.6zM233.7 137.7h6.6v6.6h-6.6zM233.7 144.0h6.6v6.6h-6.6zM233.7 150.3h6.6v6.6h-6.6zM195.0 62.5h18.8v6.5h-18.8z"/>
<path fill="#5118fb" shape-rendering="crispEdges" d="M120.3 125.1h6.6v6.6h-6.6zM126.6 106.2h6.6v6.6h-6.6z"/>
<path fill="#5018fb" shape-rendering="crispEdges" d="M120.3 131.4h6.6v6.6h-6.6zM120.3 137.7h6.6v6.6h-6.6zM120.3 144.0h6.6v6.6h-6.6zM132.9 99.9h6.6v6.6h-6.6z"/>
<path fill="#4f17fb" shape-rendering="crispEdges" d="M126.6 112.5h6.6v6.6h-6.6z"/>
<path fill="#4e17fb" shape-rendering="crispEdges" d="M126.6 118.8h6.6v6.6h-6.6zM151.8 87.3h6.6v6.6h-6.6z"/>
<path fill="#4c16fb" shape-rendering="crispEdges" d="M126.6 125.1h6.6v6.6h-6.6zM126.6 150.3h6.6v6.6h-6.6zM139.2 99.9h6.6v6.6h-6.6zM145.5 93.6h6.6v6.6h-6.6z"/>
<path fill="#4b16fa" shape-rendering="crispEdges" d="M126.6 131.4h6.6v6.6h-6.6zM126.6 137.7h6.6v6.6h-6.6zM126.6 144.0h6.6v6.6h-6.6zM132.9 112.5h6.6v6.6h-6.6zM158.1 87.3h6.6v6.6h-6.6z"/>
<path fill="#4d17fb" shape-rendering="crispEdges" d="M132.9 106.2h6.6v6.6h-6.6z"/>
<path fill="#4815fa" shape-rendering="crispEdges" d="M132.9 118.8h6.6v6.6h-6.6zM145.5 99.9h6.6v6.6h-6.6zM183.3 188.1h6.6v6.6h-6.6z"/>
<path fill="#4614fa" shape-rendering="crispEdges" d="M132.9 125.1h6.6v6.6h-6.6zM158.1 93.6h6.6v6.6h-6.6z"/>
<path fill="#4514fa" shape-rendering="crispEdges" d="M132.9 131.4h6.6v6.6h-6.6zM132.9 137.7h6.6v6.6h-6.6zM132.9 144.0h6.6v6.6h-6.6zM139.2 112.5h6.6v6.6h-6.6zM202.2 93.6h6.6v6.6h-6.6zM227.4 125.1h6.6v6.6h-6.6z"/>
<path fill="#4714fa" shape-rendering="crispEdges" d="M132.9 150.3h6.6v6.6h-6.6zM177.0 87.3h6.6v6.6h-6.6zM183.3 87.3h6.6v6.6h-6.6zM189.6 87.3h6.6v6.6h-6.6zM227.4 118.8h6.6v6.6h-6.6z"/>
<path fill="#4915fa" shape-rendering="crispEdges" d="M139.2 106.2h6.6v6.6h-6.6zM151.8 93.6h6.6v6.6h-6.6zM164.4 87.3h6.6v6.6h-6.6z"/>
<path fill="#4213f9" shape-rendering="crispEdges" d="M139.2 118.8h6.6v6.6h-6.6zM189.6 181.8h6.6v6.6h-6.6zM195.9 93.6h6.6v6.6h-6.6z"/>
<path fill="#3f12f8" shape-rendering="crispEdges" d="M139.2 125.1h6.6v6.6h-6.6zM145.5 112.5h6.6v6.6h-6.6zM183.3 93.6h6.6v6.6h-6.6z"/>
<path fill="#3e11f8" shape-rendering="crispEdges" d="M139.2 131.4h6.6v6.6h-6.6zM139.2 144.0h6.6v6.6h-6.6zM151.8 106.2h6.6v6.6h-6.6zM202.2 99.9h6.6v6.6h-6.6zM214.8 162.9h6.6v6.6h-6.6zM221.1 150.3h6.6v6.6h-6.6z"/>
<path fill="#3d11f8" shape-rendering="crispEdges" d="M139.2 137.7h6.6v6.6h-6.6zM208.5 106.2h6.6v6.6h-6.6zM214.8 112.5h6.6v6.6h-6.6zM221.1 125.1h6.6v6.6h-6.6z"/>
<path fill="#4012f9" shape-rendering="crispEdges" d="M139.2 150.3h6.6v6.6h-6.6zM189.6 93.6h6.6v6.6h-6.6zM221.1 118.8h6.6v6.6h-6.6z"/>
<path fill="#4313f9" shape-rendering="crispEdges" d="M145.5 106.2h6.6v6.6h-6.6zM164.4 93.6h6.6v6.6h-6.6zM208.5 99.9h6.6v6.6h-6.6zM227.4 131.4h6.6v6.6h-6.6zM227.4 137.7h6.6v6.6h-6.6z"/>
<path fill="#3b10f7" shape-rendering="crispEdges" d="M145.5 118.8h6.6v6.6h-6.6z"/>
<path fill="#370ff7" shape-rendering="crispEdges" d="M145.5 125.1h6.6v6.6h-6.6zM177.0 99.9h6.6v6.6h-6.6zM183.3 99.9h6.6v6.6h-6.6zM202.2 106.2h6.6v6.6h-6.6zM208.5 112.5h6.6v6.6h-6.6z"/>
<path fill="#350ef6" shape-rendering="crispEdges" d="M145.5 131.4h6.6v6.6h-6.6zM145.5 144.0h6.6v6.6h-6.6zM214.8 125.1h6.6v6.6h-6.6zM214.8 150.3h6.6v6.6h-6.6z"/>
<path fill="#340ef6" shape-rendering="crispEdges" d="M145.5 137.7h6.6v6.6h-6.6zM164.4 106.2h6.6v6.6h-6.6z"/>
<path fill="#3b10f8" shape-rendering="crispEdges" d="M145.5 150.3h6.6v6.6h-6.6zM151.8 150.3h6.6v6.6h-6.6zM158.1 156.6h6.6v6.6h-6.6zM164.4 162.9h6.6v6.6h-6.6zM170.7 169.2h6.6v6.6h-6.6zM177.0 175.5h6.6v6.6h-6.6zM195.9 99.9h6.6v6.6h-6.6zM195.9 175.5h6.6v6.6h-6.6zM202.2 169.2h6.6v6.6h-6.6zM208.5 162.9h6.6v6.6h-6.6zM214.8 156.6h6.6v6.6h-6.6zM221.1 137.7h6.6v6.6h-6.6z"/>
<path fill="#4413f9" shape-rendering="crispEdges" d="M151.8 99.9h6.6v6.6h-6.6zM227.4 144.0h6.6v6.6h-6.6z"/>
<path fill="#380ff7" shape-rendering="crispEdges" d="M151.8 112.5h6.6v6.6h-6.6zM189.6 99.9h6.6v6.6h-6.6zM189.6 175.5h6.6v6.6h-6.6z"/>
<path fill="#330ef6" shape-rendering="crispEdges" d="M151.8 118.8h6.6v6.6h-6.6zM195.9 106.2h6.6v6.6h-6.6zM214.8 131.4h6.6v6.6h-6.6z"/>
<path fill="#2f0cf5" shape-rendering="crispEdges" d="M151.8 125.1h6.6v6.6h-6.6zM195.9 169.2h6.6v6.6h-6.6z"/>
<path fill="#2c0bf4" shape-rendering="crispEdges" d="M151.8 131.4h6.6v6.6h-6.6zM158.1 118.8h6.6v6.6h-6.6zM164.4 112.5h6.6v6.6h-6.6zM208.5 125.1h6.6v6.6h-6.6z"/>
<path fill="#2a0bf4" shape-rendering="crispEdges" d="M151.8 137.7h6.6v6.6h-6.6z"/>
<path fill="#2b0bf4" shape-rendering="crispEdges" d="M151.8 144.0h6.6v6.6h-6.6zM195.9 112.5h6.6v6.6h-6.6zM202.2 162.9h6.6v6.6h-6.6z"/>
<path fill="#3f12f9" shape-rendering="crispEdges" d="M158.1 99.9h6.6v6.6h-6.6zM177.0 93.6h6.6v6.6h-6.6z"/>
<path fill="#3910f7" shape-rendering="crispEdges" d="M158.1 106.2h6.6v6.6h-6.6zM170.7 99.9h6.6v6.6h-6.6zM214.8 118.8h6.6v6.6h-6.6z"/>
<path fill="#320df6" shape-rendering="crispEdges" d="M158.1 112.5h6.6v6.6h-6.6zM214.8 144.0h6.6v6.6h-6.6z"/>
<path fill="#2609f3" shape-rendering="crispEdges" d="M158.1 125.1h6.6v6.6h-6.6zM177.0 169.2h6.6v6.6h-6.6z"/>
<path fill="#2007f2" shape-rendering="crispEdges" d="M158.1 131.4h6.6v6.6h-6.6z"/>
<path fill="#1c06f1" shape-rendering="crispEdges" d="M158.1 137.7h6.6v6.6h-6.6zM202.2 156.6h6.6v6.6h-6.6z"/>
<path fill="#1b06f1" shape-rendering="crispEdges" d="M158.1 144.0h6.6v6.6h-6.6zM164.4 125.1h6.6v6.6h-6.6zM189.6 118.8h6.6v6.6h-6.6z"/>
<path fill="#1f07f1" shape-rendering="crispEdges" d="M158.1 150.3h6.6v6.6h-6.6z"/>
<path fill="#3c11f8" shape-rendering="crispEdges" d="M164.4 99.9h6.6v6.6h-6.6zM221.1 131.4h6.6v6.6h-6.6zM221.1 144.0h6.6v6.6h-6.6z"/>
<path fill="#2409f3" shape-rendering="crispEdges" d="M164.4 118.8h6.6v6.6h-6.6z"/>
<path fill="#1604ee" shape-rendering="crispEdges" d="M164.4 131.4h6.6v6.6h-6.6zM170.7 125.1h6.6v6.6h-6.6z"/>
<path fill="#1302eb" shape-rendering="crispEdges" d="M164.4 137.7h6.6v6.6h-6.6zM164.4 150.3h6.6v6.6h-6.6zM183.3 125.1h6.6v6.6h-6.6z"/>
<path fill="#1201ea" shape-rendering="crispEdges" d="M164.4 144.0h6.6v6.6h-6.6zM195.9 156.6h6.6v6.6h-6.6z"/>
<path fill="#1804ef" shape-rendering="crispEdges" d="M164.4 156.6h6.6v6.6h-6.6zM195.9 125.1h6.6v6.6h-6.6z"/>
<path fill="#4715fa" shape-rendering="crispEdges" d="M170.7 87.3h6.6v6.6h-6.6z"/>
<path fill="#4112f9" shape-rendering="crispEdges" d="M170.7 93.6h6.6v6.6h-6.6zM177.0 181.8h6.6v6.6h-6.6zM183.3 181.8h6.6v6.6h-6.6z"/>
<path fill="#300df5" shape-rendering="crispEdges" d="M170.7 106.2h6.6v6.6h-6.6zM189.6 106.2h6.6v6.6h-6.6zM202.2 112.5h6.6v6.6h-6.6z"/>
<path fill="#280af3" shape-rendering="crispEdges" d="M170.7 112.5h6.6v6.6h-6.6z"/>
<path fill="#1e07f1" shape-rendering="crispEdges" d="M170.7 118.8h6.6v6.6h-6.6z"/>
<path fill="#1001e9" shape-rendering="crispEdges" d="M170.7 131.4h6.6v6.6h-6.6z"/>
<path fill="#151aee" shape-rendering="crispEdges" d="M170.7 137.7h6.6v6.6h-6.6z"/>
<path fill="#1a2cf1" shape-rendering="crispEdges" d="M170.7 144.0h6.6v6.6h-6.6z"/>
<path fill="#1720ef" shape-rendering="crispEdges" d="M170.7 150.3h6.6v6.6h-6.6z"/>
<path fill="#1000e8" shape-rendering="crispEdges" d="M170.7 156.6h6.6v6.6h-6.6z"/>
<path fill="#1805ef" shape-rendering="crispEdges" d="M170.7 162.9h6.6v6.6h-6.6z"/>
<path fill="#2e0cf5" shape-rendering="crispEdges" d="M177.0 106.2h6.6v6.6h-6.6zM183.3 106.2h6.6v6.6h-6.6zM208.5 156.6h6.6v6.6h-6.6z"/>
<path fill="#2509f3" shape-rendering="crispEdges" d="M177.0 112.5h6.6v6.6h-6.6zM183.3 112.5h6.6v6.6h-6.6z"/>
<path fill="#1905f0" shape-rendering="crispEdges" d="M177.0 118.8h6.6v6.6h-6.6zM183.3 118.8h6.6v6.6h-6.6zM202.2 131.4h6.6v6.6h-6.6z"/>
<path fill="#1402ec" shape-rendering="crispEdges" d="M177.0 125.1h6.6v6.6h-6.6zM177.0 162.9h6.6v6.6h-6.6z"/>
<path fill="#1415ed" shape-rendering="crispEdges" d="M177.0 131.4h6.6v6.6h-6.6z"/>
<path fill="#2144f5" shape-rendering="crispEdges" d="M177.0 137.7h6.6v6.6h-6.6z"/>
<path fill="#2a5bf5" shape-rendering="crispEdges" d="M177.0 144.0h6.6v6.6h-6.6z"/>
<path fill="#2550f5" shape-rendering="crispEdges" d="M177.0 150.3h6.6v6.6h-6.6z"/>
<path fill="#1722ef" shape-rendering="crispEdges" d="M177.0 156.6h6.6v6.6h-6.6z"/>
<path fill="#171eef" shape-rendering="crispEdges" d="M183.3 131.4h6.6v6.6h-6.6z"/>
<path fill="#2651f5" shape-rendering="crispEdges" d="M183.3 137.7h6.6v6.6h-6.6z"/>
<path fill="#306cf5" shape-rendering="crispEdges" d="M183.3 144.0h6.6v6.6h-6.6z"/>
<path fill="#2b5ff5" shape-rendering="crispEdges" d="M183.3 150.3h6.6v6.6h-6.6z"/>
<path fill="#1b30f2" shape-rendering="crispEdges" d="M183.3 156.6h6.6v6.6h-6.6z"/>
<path fill="#1202eb" shape-rendering="crispEdges" d="M183.3 162.9h6.6v6.6h-6.6zM195.9 131.4h6.6v6.6h-6.6z"/>
<path fill="#2409f2" shape-rendering="crispEdges" d="M183.3 169.2h6.6v6.6h-6.6zM208.5 137.7h6.6v6.6h-6.6z"/>
<path fill="#360ff6" shape-rendering="crispEdges" d="M183.3 175.5h6.6v6.6h-6.6z"/>
<path fill="#270af3" shape-rendering="crispEdges" d="M189.6 112.5h6.6v6.6h-6.6zM189.6 169.2h6.6v6.6h-6.6zM208.5 131.4h6.6v6.6h-6.6zM208.5 150.3h6.6v6.6h-6.6z"/>
<path fill="#1403ec" shape-rendering="crispEdges" d="M189.6 125.1h6.6v6.6h-6.6zM202.2 144.0h6.6v6.6h-6.6z"/>
<path fill="#130feb" shape-rendering="crispEdges" d="M189.6 131.4h6.6v6.6h-6.6z"/>
<path fill="#1f3ef5" shape-rendering="crispEdges" d="M189.6 137.7h6.6v6.6h-6.6z"/>
<path fill="#2754f5" shape-rendering="crispEdges" d="M189.6 144.0h6.6v6.6h-6.6z"/>
<path fill="#2349f5" shape-rendering="crispEdges" d="M189.6 150.3h6.6v6.6h-6.6z"/>
<path fill="#161bee" shape-rendering="crispEdges" d="M189.6 156.6h6.6v6.6h-6.6z"/>
<path fill="#1503ed" shape-rendering="crispEdges" d="M189.6 162.9h6.6v6.6h-6.6z"/>
<path fill="#2208f2" shape-rendering="crispEdges" d="M195.9 118.8h6.6v6.6h-6.6z"/>
<path fill="#130eeb" shape-rendering="crispEdges" d="M195.9 137.7h6.6v6.6h-6.6z"/>
<path fill="#171fef" shape-rendering="crispEdges" d="M195.9 144.0h6.6v6.6h-6.6z"/>
<path fill="#1414ec" shape-rendering="crispEdges" d="M195.9 150.3h6.6v6.6h-6.6z"/>
<path fill="#1b06f0" shape-rendering="crispEdges" d="M195.9 162.9h6.6v6.6h-6.6z"/>
<path fill="#290af4" shape-rendering="crispEdges" d="M202.2 118.8h6.6v6.6h-6.6z"/>
<path fill="#2108f2" shape-rendering="crispEdges" d="M202.2 125.1h6.6v6.6h-6.6z"/>
<path fill="#1603ed" shape-rendering="crispEdges" d="M202.2 137.7h6.6v6.6h-6.6z"/>
<path fill="#1603ee" shape-rendering="crispEdges" d="M202.2 150.3h6.6v6.6h-6.6z"/>
<path fill="#310df5" shape-rendering="crispEdges" d="M208.5 118.8h6.6v6.6h-6.6zM214.8 137.7h6.6v6.6h-6.6z"/>
<path fill="#2308f2" shape-rendering="crispEdges" d="M208.5 144.0h6.6v6.6h-6.6z"/>
<path fill="#6720fd" shape-rendering="crispEdges" d="M581.0 106.5h6.6v6.6h-6.6zM581.0 112.8h6.6v6.6h-6.6zM581.0 119.1h6.6v6.6h-6.6zM581.0 125.4h6.6v6.6h-6.6zM581.0 131.7h6.6v6.6h-6.6zM581.0 138.0h6.6v6.6h-6.6zM581.0 144.3h6.6v6.6h-6.6zM587.3 93.9h6.6v6.6h-6.6zM587.3 100.2h6.6v6.6h-6.6zM587.3 150.6h6.6v6.6h-6.6zM587.3 156.9h6.6v6.6h-6.6zM593.6 87.6h6.6v6.6h-6.6zM593.6 156.9h6.6v6.6h-6.6zM599.9 81.3h6.6v6.6h-6.6zM599.9 163.2h6.6v6.6h-6.6zM606.2 81.3h6.6v6.6h-6.6zM612.5 75.0h6.6v6.6h-6.6zM612.5 169.5h6.6v6.6h-6.6zM612.5 175.8h6.6v6.6h-6.6zM618.8 75.0h6.6v6.6h-6.6zM618.8 182.1h6.6v6.6h-6.6zM618.8 188.4h6.6v6.6h-6.6zM625.1 75.0h6.6v6.6h-6.6zM625.1 194.7h6.6v6.6h-6.6zM631.4 68.7h6.6v6.6h-6.6zM631.4 201.0h6.6v6.6h-6.6zM637.7 75.0h6.6v6.6h-6.6zM637.7 201.0h6.6v6.6h-6.6zM644.0 75.0h6.6v6.6h-6.6zM644.0 201.0h6.6v6.6h-6.6zM650.3 68.7h6.6v6.6h-6.6zM650.3 201.0h6.6v6.6h-6.6zM656.6 75.0h6.6v6.6h-6.6zM656.6 163.2h6.6v6.6h-6.6zM656.6 169.5h6.6v6.6h-6.6zM656.6 175.8h6.6v6.6h-6.6zM656.6 182.1h6.6v6.6h-6.6zM656.6 188.4h6.6v6.6h-6.6zM656.6 194.7h6.6v6.6h-6.6zM662.9 75.0h6.6v6.6h-6.6zM662.9 156.9h6.6v6.6h-6.6zM669.2 81.3h6.6v6.6h-6.6zM669.2 119.1h6.6v6.6h-6.6zM669.2 156.9h6.6v6.6h-6.6zM675.5 87.6h6.6v6.6h-6.6zM675.5 112.8h6.6v6.6h-6.6zM675.5 125.4h6.6v6.6h-6.6zM675.5 156.9h6.6v6.6h-6.6zM681.8 93.9h6.6v6.6h-6.6zM681.8 119.1h6.6v6.6h-6.6zM681.8 156.9h6.6v6.6h-6.6zM688.1 100.2h6.6v6.6h-6.6zM688.1 106.5h6.6v6.6h-6.6zM688.1 112.8h6.6v6.6h-6.6zM688.1 156.9h6.6v6.6h-6.6zM694.4 119.1h6.6v6.6h-6.6zM694.4 156.9h6.6v6.6h-6.6zM700.7 119.1h6.6v6.6h-6.6zM700.7 125.4h6.6v6.6h-6.6zM700.7 131.7h6.6v6.6h-6.6zM700.7 138.0h6.6v6.6h-6.6zM700.7 144.3h6.6v6.6h-6.6zM700.7 150.6h6.6v6.6h-6.6zM700.7 156.9h6.6v6.6h-6.6zM642.0 56.0h19.3v6.7h-19.3z"/>
<path fill="#3b10f8" shape-rendering="crispEdges" d="M587.3 106.5h6.6v6.6h-6.6zM587.3 112.8h6.6v6.6h-6.6zM587.3 119.1h6.6v6.6h-6.6zM587.3 125.4h6.6v6.6h-6.6zM587.3 131.7h6.6v6.6h-6.6zM587.3 138.0h6.6v6.6h-6.6zM587.3 144.3h6.6v6.6h-6.6zM593.6 93.9h6.6v6.6h-6.6zM593.6 100.2h6.6v6.6h-6.6zM593.6 150.6h6.6v6.6h-6.6zM599.9 87.6h6.6v6.6h-6.6zM599.9 156.9h6.6v6.6h-6.6zM606.2 87.6h6.6v6.6h-6.6zM612.5 81.3h6.6v6.6h-6.6zM618.8 81.3h6.6v6.6h-6.6zM618.8 169.5h6.6v6.6h-6.6zM618.8 175.8h6.6v6.6h-6.6zM625.1 81.3h6.6v6.6h-6.6zM625.1 182.1h6.6v6.6h-6.6zM625.1 188.4h6.6v6.6h-6.6zM631.4 75.0h6.6v6.6h-6.6zM631.4 194.7h6.6v6.6h-6.6zM637.7 81.3h6.6v6.6h-6.6zM637.7 194.7h6.6v6.6h-6.6zM644.0 81.3h6.6v6.6h-6.6zM644.0 194.7h6.6v6.6h-6.6zM650.3 75.0h6.6v6.6h-6.6zM650.3 163.2h6.6v6.6h-6.6zM650.3 169.5h6.6v6.6h-6.6zM650.3 175.8h6.6v6.6h-6.6zM650.3 182.1h6.6v6.6h-6.6zM650.3 188.4h6.6v6.6h-6.6zM650.3 194.7h6.6v6.6h-6.6zM656.6 81.3h6.6v6.6h-6.6zM662.9 81.3h6.6v6.6h-6.6zM662.9 119.1h6.6v6.6h-6.6zM662.9 150.6h6.6v6.6h-6.6zM669.2 87.6h6.6v6.6h-6.6zM675.5 93.9h6.6v6.6h-6.6zM675.5 106.5h6.6v6.6h-6.6zM681.8 100.2h6.6v6.6h-6.6zM681.8 106.5h6.6v6.6h-6.6zM681.8 112.8h6.6v6.6h-6.6z"/>
<path fill="#1805ef" shape-rendering="crispEdges" d="M593.6 106.5h6.6v6.6h-6.6zM631.4 175.8h6.6v6.6h-6.6zM644.0 169.5h6.6v6.6h-6.6zM656.6 106.5h6.6v6.6h-6.6z"/>
<path fill="#1704ee" shape-rendering="crispEdges" d="M593.6 112.8h6.6v6.6h-6.6zM599.9 100.2h6.6v6.6h-6.6zM656.6 112.8h6.6v6.6h-6.6z"/>
<path fill="#1503ed" shape-rendering="crispEdges" d="M593.6 119.1h6.6v6.6h-6.6zM625.1 87.6h6.6v6.6h-6.6zM631.4 87.6h6.6v6.6h-6.6zM644.0 163.2h6.6v6.6h-6.6zM650.3 156.9h6.6v6.6h-6.6zM656.6 119.1h6.6v6.6h-6.6zM656.6 125.4h6.6v6.6h-6.6zM656.6 138.0h6.6v6.6h-6.6z"/>
<path fill="#1403ec" shape-rendering="crispEdges" d="M593.6 125.4h6.6v6.6h-6.6zM599.9 106.5h6.6v6.6h-6.6z"/>
<path fill="#1302ec" shape-rendering="crispEdges" d="M593.6 131.7h6.6v6.6h-6.6z"/>
<path fill="#1402ec" shape-rendering="crispEdges" d="M593.6 138.0h6.6v6.6h-6.6zM631.4 169.5h6.6v6.6h-6.6z"/>
<path fill="#1503ec" shape-rendering="crispEdges" d="M593.6 144.3h6.6v6.6h-6.6zM656.6 131.7h6.6v6.6h-6.6z"/>
<path fill="#1b06f0" shape-rendering="crispEdges" d="M599.9 93.9h6.6v6.6h-6.6z"/>
<path fill="#1201ea" shape-rendering="crispEdges" d="M599.9 112.8h6.6v6.6h-6.6z"/>
<path fill="#0f00e8" shape-rendering="crispEdges" d="M599.9 119.1h6.6v6.6h-6.6zM599.9 150.6h6.6v6.6h-6.6zM612.5 163.2h6.6v6.6h-6.6zM618.8 93.9h6.6v6.6h-6.6zM650.3 119.1h6.6v6.6h-6.6zM650.3 138.0h6.6v6.6h-6.6z"/>
<path fill="#1108ea" shape-rendering="crispEdges" d="M599.9 125.4h6.6v6.6h-6.6z"/>
<path fill="#1413ec" shape-rendering="crispEdges" d="M599.9 131.7h6.6v6.6h-6.6zM599.9 144.3h6.6v6.6h-6.6zM606.2 112.8h6.6v6.6h-6.6z"/>
<path fill="#161aee" shape-rendering="crispEdges" d="M599.9 138.0h6.6v6.6h-6.6z"/>
<path fill="#1604ee" shape-rendering="crispEdges" d="M606.2 93.9h6.6v6.6h-6.6zM650.3 100.2h6.6v6.6h-6.6z"/>
<path fill="#1202eb" shape-rendering="crispEdges" d="M606.2 100.2h6.6v6.6h-6.6z"/>
<path fill="#1003e9" shape-rendering="crispEdges" d="M606.2 106.5h6.6v6.6h-6.6zM631.4 163.2h6.6v6.6h-6.6z"/>
<path fill="#1721ef" shape-rendering="crispEdges" d="M606.2 119.1h6.6v6.6h-6.6z"/>
<path fill="#1d37f4" shape-rendering="crispEdges" d="M606.2 125.4h6.6v6.6h-6.6z"/>
<path fill="#2653f5" shape-rendering="crispEdges" d="M606.2 131.7h6.6v6.6h-6.6z"/>
<path fill="#2f69f5" shape-rendering="crispEdges" d="M606.2 138.0h6.6v6.6h-6.6z"/>
<path fill="#2c60f5" shape-rendering="crispEdges" d="M606.2 144.3h6.6v6.6h-6.6z"/>
<path fill="#1e3bf5" shape-rendering="crispEdges" d="M606.2 150.6h6.6v6.6h-6.6z"/>
<path fill="#370ff7" shape-rendering="crispEdges" d="M606.2 156.9h6.6v6.6h-6.6z"/>
<path fill="#651ffd" shape-rendering="crispEdges" d="M606.2 163.2h6.6v6.6h-6.6z"/>
<path fill="#1804ef" shape-rendering="crispEdges" d="M612.5 87.6h6.6v6.6h-6.6zM625.1 175.8h6.6v6.6h-6.6z"/>
<path fill="#1302eb" shape-rendering="crispEdges" d="M612.5 93.9h6.6v6.6h-6.6zM625.1 169.5h6.6v6.6h-6.6zM650.3 106.5h6.6v6.6h-6.6zM650.3 150.6h6.6v6.6h-6.6z"/>
<path fill="#120aea" shape-rendering="crispEdges" d="M612.5 100.2h6.6v6.6h-6.6z"/>
<path fill="#1927f0" shape-rendering="crispEdges" d="M612.5 106.5h6.6v6.6h-6.6zM618.8 100.2h6.6v6.6h-6.6z"/>
<path fill="#1e3cf5" shape-rendering="crispEdges" d="M612.5 112.8h6.6v6.6h-6.6zM625.1 100.2h6.6v6.6h-6.6z"/>
<path fill="#2349f5" shape-rendering="crispEdges" d="M612.5 119.1h6.6v6.6h-6.6z"/>
<path fill="#2d64f5" shape-rendering="crispEdges" d="M612.5 125.4h6.6v6.6h-6.6zM625.1 106.5h6.6v6.6h-6.6z"/>
<path fill="#4298f6" shape-rendering="crispEdges" d="M612.5 131.7h6.6v6.6h-6.6z"/>
<path fill="#57c2f9" shape-rendering="crispEdges" d="M612.5 138.0h6.6v6.6h-6.6z"/>
<path fill="#51b7f9" shape-rendering="crispEdges" d="M612.5 144.3h6.6v6.6h-6.6z"/>
<path fill="#3478f5" shape-rendering="crispEdges" d="M612.5 150.6h6.6v6.6h-6.6z"/>
<path fill="#1b32f3" shape-rendering="crispEdges" d="M612.5 156.9h6.6v6.6h-6.6z"/>
<path fill="#1603ed" shape-rendering="crispEdges" d="M618.8 87.6h6.6v6.6h-6.6zM637.7 169.5h6.6v6.6h-6.6zM644.0 93.9h6.6v6.6h-6.6z"/>
<path fill="#244cf5" shape-rendering="crispEdges" d="M618.8 106.5h6.6v6.6h-6.6z"/>
<path fill="#2c61f5" shape-rendering="crispEdges" d="M618.8 112.8h6.6v6.6h-6.6z"/>
<path fill="#306bf5" shape-rendering="crispEdges" d="M618.8 119.1h6.6v6.6h-6.6z"/>
<path fill="#3a86f5" shape-rendering="crispEdges" d="M618.8 125.4h6.6v6.6h-6.6z"/>
<path fill="#55bef9" shape-rendering="crispEdges" d="M618.8 131.7h6.6v6.6h-6.6z"/>
<path fill="#6ef9f1" shape-rendering="crispEdges" d="M618.8 138.0h6.6v6.6h-6.6z"/>
<path fill="#6efafa" shape-rendering="crispEdges" d="M618.8 144.3h6.6v6.6h-6.6z"/>
<path fill="#439af6" shape-rendering="crispEdges" d="M618.8 150.6h6.6v6.6h-6.6z"/>
<path fill="#2247f5" shape-rendering="crispEdges" d="M618.8 156.9h6.6v6.6h-6.6z"/>
<path fill="#120bea" shape-rendering="crispEdges" d="M618.8 163.2h6.6v6.6h-6.6z"/>
<path fill="#1109ea" shape-rendering="crispEdges" d="M625.1 93.9h6.6v6.6h-6.6z"/>
<path fill="#367bf5" shape-rendering="crispEdges" d="M625.1 112.8h6.6v6.6h-6.6z"/>
<path fill="#377ef5" shape-rendering="crispEdges" d="M625.1 119.1h6.6v6.6h-6.6z"/>
<path fill="#3b8af5" shape-rendering="crispEdges" d="M625.1 125.4h6.6v6.6h-6.6z"/>
<path fill="#4eb0f8" shape-rendering="crispEdges" d="M625.1 131.7h6.6v6.6h-6.6z"/>
<path fill="#63dffa" shape-rendering="crispEdges" d="M625.1 138.0h6.6v6.6h-6.6z"/>
<path fill="#5ac9fa" shape-rendering="crispEdges" d="M625.1 144.3h6.6v6.6h-6.6z"/>
<path fill="#3b89f5" shape-rendering="crispEdges" d="M625.1 150.6h6.6v6.6h-6.6z"/>
<path fill="#2042f5" shape-rendering="crispEdges" d="M625.1 156.9h6.6v6.6h-6.6z"/>
<path fill="#120ceb" shape-rendering="crispEdges" d="M625.1 163.2h6.6v6.6h-6.6z"/>
<path fill="#1d06f1" shape-rendering="crispEdges" d="M631.4 81.3h6.6v6.6h-6.6zM656.6 100.2h6.6v6.6h-6.6z"/>
<path fill="#1106e9" shape-rendering="crispEdges" d="M631.4 93.9h6.6v6.6h-6.6z"/>
<path fill="#1d39f4" shape-rendering="crispEdges" d="M631.4 100.2h6.6v6.6h-6.6z"/>
<path fill="#2c62f5" shape-rendering="crispEdges" d="M631.4 106.5h6.6v6.6h-6.6z"/>
<path fill="#3477f5" shape-rendering="crispEdges" d="M631.4 112.8h6.6v6.6h-6.6z"/>
<path fill="#3476f5" shape-rendering="crispEdges" d="M631.4 119.1h6.6v6.6h-6.6z"/>
<path fill="#3272f5" shape-rendering="crispEdges" d="M631.4 125.4h6.6v6.6h-6.6z"/>
<path fill="#377ff5" shape-rendering="crispEdges" d="M631.4 131.7h6.6v6.6h-6.6z"/>
<path fill="#3d8ff5" shape-rendering="crispEdges" d="M631.4 138.0h6.6v6.6h-6.6z"/>
<path fill="#3882f5" shape-rendering="crispEdges" d="M631.4 144.3h6.6v6.6h-6.6z"/>
<path fill="#2858f5" shape-rendering="crispEdges" d="M631.4 150.6h6.6v6.6h-6.6z"/>
<path fill="#1929f1" shape-rendering="crispEdges" d="M631.4 156.9h6.6v6.6h-6.6z"/>
<path fill="#2208f2" shape-rendering="crispEdges" d="M631.4 182.1h6.6v6.6h-6.6zM662.9 106.5h6.6v6.6h-6.6z"/>
<path fill="#2b0bf4" shape-rendering="crispEdges" d="M631.4 188.4h6.6v6.6h-6.6zM650.3 81.3h6.6v6.6h-6.6zM656.6 87.6h6.6v6.6h-6.6zM662.9 93.9h6.6v6.6h-6.6z"/>
<path fill="#1704ef" shape-rendering="crispEdges" d="M637.7 87.6h6.6v6.6h-6.6zM656.6 150.6h6.6v6.6h-6.6z"/>
<path fill="#1101ea" shape-rendering="crispEdges" d="M637.7 93.9h6.6v6.6h-6.6zM637.7 163.2h6.6v6.6h-6.6zM644.0 156.9h6.6v6.6h-6.6z"/>
<path fill="#171eef" shape-rendering="crispEdges" d="M637.7 100.2h6.6v6.6h-6.6z"/>
<path fill="#2144f5" shape-rendering="crispEdges" d="M637.7 106.5h6.6v6.6h-6.6z"/>
<path fill="#2856f5" shape-rendering="crispEdges" d="M637.7 112.8h6.6v6.6h-6.6z"/>
<path fill="#2755f5" shape-rendering="crispEdges" d="M637.7 119.1h6.6v6.6h-6.6z"/>
<path fill="#254ff5" shape-rendering="crispEdges" d="M637.7 125.4h6.6v6.6h-6.6z"/>
<path fill="#254df5" shape-rendering="crispEdges" d="M637.7 131.7h6.6v6.6h-6.6z"/>
<path fill="#244df5" shape-rendering="crispEdges" d="M637.7 138.0h6.6v6.6h-6.6z"/>
<path fill="#2143f5" shape-rendering="crispEdges" d="M637.7 144.3h6.6v6.6h-6.6z"/>
<path fill="#1a2af1" shape-rendering="crispEdges" d="M637.7 150.6h6.6v6.6h-6.6z"/>
<path fill="#120deb" shape-rendering="crispEdges" d="M637.7 156.9h6.6v6.6h-6.6z"/>
<path fill="#1a05f0" shape-rendering="crispEdges" d="M637.7 175.8h6.6v6.6h-6.6zM650.3 93.9h6.6v6.6h-6.6z"/>
<path fill="#2409f3" shape-rendering="crispEdges" d="M637.7 182.1h6.6v6.6h-6.6z"/>
<path fill="#2d0cf4" shape-rendering="crispEdges" d="M637.7 188.4h6.6v6.6h-6.6z"/>
<path fill="#1c06f1" shape-rendering="crispEdges" d="M644.0 87.6h6.6v6.6h-6.6zM662.9 144.3h6.6v6.6h-6.6z"/>
<path fill="#1000e9" shape-rendering="crispEdges" d="M644.0 100.2h6.6v6.6h-6.6z"/>
<path fill="#1415ed" shape-rendering="crispEdges" d="M644.0 106.5h6.6v6.6h-6.6z"/>
<path fill="#1826f0" shape-rendering="crispEdges" d="M644.0 112.8h6.6v6.6h-6.6z"/>
<path fill="#192af1" shape-rendering="crispEdges" d="M644.0 119.1h6.6v6.6h-6.6z"/>
<path fill="#1927f1" shape-rendering="crispEdges" d="M644.0 125.4h6.6v6.6h-6.6z"/>
<path fill="#1824f0" shape-rendering="crispEdges" d="M644.0 131.7h6.6v6.6h-6.6z"/>
<path fill="#1720ef" shape-rendering="crispEdges" d="M644.0 138.0h6.6v6.6h-6.6z"/>
<path fill="#1416ed" shape-rendering="crispEdges" d="M644.0 144.3h6.6v6.6h-6.6z"/>
<path fill="#1107ea" shape-rendering="crispEdges" d="M644.0 150.6h6.6v6.6h-6.6z"/>
<path fill="#2007f2" shape-rendering="crispEdges" d="M644.0 175.8h6.6v6.6h-6.6z"/>
<path fill="#280af3" shape-rendering="crispEdges" d="M644.0 182.1h6.6v6.6h-6.6z"/>
<path fill="#2f0cf5" shape-rendering="crispEdges" d="M644.0 188.4h6.6v6.6h-6.6z"/>
<path fill="#2409f2" shape-rendering="crispEdges" d="M650.3 87.6h6.6v6.6h-6.6zM656.6 93.9h6.6v6.6h-6.6z"/>
<path fill="#1001e9" shape-rendering="crispEdges" d="M650.3 112.8h6.6v6.6h-6.6z"/>
<path fill="#1002e8" shape-rendering="crispEdges" d="M650.3 125.4h6.6v6.6h-6.6z"/>
<path fill="#0f02e8" shape-rendering="crispEdges" d="M650.3 131.7h6.6v6.6h-6.6z"/>
<path fill="#1101e9" shape-rendering="crispEdges" d="M650.3 144.3h6.6v6.6h-6.6z"/>
<path fill="#1603ee" shape-rendering="crispEdges" d="M656.6 144.3h6.6v6.6h-6.6z"/>
<path fill="#1905f0" shape-rendering="crispEdges" d="M656.6 156.9h6.6v6.6h-6.6zM662.9 125.4h6.6v6.6h-6.6zM662.9 131.7h6.6v6.6h-6.6zM662.9 138.0h6.6v6.6h-6.6z"/>
<path fill="#300df5" shape-rendering="crispEdges" d="M662.9 87.6h6.6v6.6h-6.6z"/>
<path fill="#270af3" shape-rendering="crispEdges" d="M662.9 100.2h6.6v6.6h-6.6zM669.2 112.8h6.6v6.6h-6.6z"/>
<path fill="#1e07f1" shape-rendering="crispEdges" d="M662.9 112.8h6.6v6.6h-6.6z"/>
<path fill="#310df5" shape-rendering="crispEdges" d="M669.2 93.9h6.6v6.6h-6.6z"/>
<path fill="#2d0cf5" shape-rendering="crispEdges" d="M669.2 100.2h6.6v6.6h-6.6z"/>
<path fill="#2a0bf4" shape-rendering="crispEdges" d="M669.2 106.5h6.6v6.6h-6.6z"/>
<path fill="#561afb" shape-rendering="crispEdges" d="M669.2 125.4h6.6v6.6h-6.6zM675.5 150.6h6.6v6.6h-6.6zM681.8 150.6h6.6v6.6h-6.6z"/>
<path fill="#5319fb" shape-rendering="crispEdges" d="M669.2 131.7h6.6v6.6h-6.6zM669.2 138.0h6.6v6.6h-6.6zM675.5 144.3h6.6v6.6h-6.6zM681.8 144.3h6.6v6.6h-6.6z"/>
<path fill="#5419fb" shape-rendering="crispEdges" d="M669.2 144.3h6.6v6.6h-6.6zM688.1 138.0h6.6v6.6h-6.6z"/>
<path fill="#571afc" shape-rendering="crispEdges" d="M669.2 150.6h6.6v6.6h-6.6zM688.1 125.4h6.6v6.6h-6.6z"/>
<path fill="#330ef6" shape-rendering="crispEdges" d="M675.5 100.2h6.6v6.6h-6.6z"/>
<path fill="#5218fb" shape-rendering="crispEdges" d="M675.5 131.7h6.6v6.6h-6.6zM681.8 131.7h6.6v6.6h-6.6zM681.8 138.0h6.6v6.6h-6.6z"/>
<path fill="#5118fb" shape-rendering="crispEdges" d="M675.5 138.0h6.6v6.6h-6.6z"/>
<path fill="#5519fb" shape-rendering="crispEdges" d="M681.8 125.4h6.6v6.6h-6.6zM688.1 131.7h6.6v6.6h-6.6z"/>
<path fill="#5a1bfc" shape-rendering="crispEdges" d="M688.1 119.1h6.6v6.6h-6.6zM694.4 125.4h6.6v6.6h-6.6z"/>
<path fill="#551afb" shape-rendering="crispEdges" d="M688.1 144.3h6.6v6.6h-6.6z"/>
<path fill="#581bfc" shape-rendering="crispEdges" d="M688.1 150.6h6.6v6.6h-6.6zM694.4 138.0h6.6v6.6h-6.6z"/>
<path fill="#591bfc" shape-rendering="crispEdges" d="M694.4 131.7h6.6v6.6h-6.6zM694.4 144.3h6.6v6.6h-6.6z"/>
<path fill="#5b1cfc" shape-rendering="crispEdges" d="M694.4 150.6h6.6v6.6h-6.6z"/>
<path fill="#5c1cfc" shape-rendering="crispEdges" d="M586.0 56.0h44.3v6.7h-44.3z"/>
<path fill="#6720fd" shape-rendering="crispEdges" d="M101.5 580.2h6.6v6.6h-6.6zM101.5 586.5h6.6v6.6h-6.6zM101.5 592.8h6.6v6.6h-6.6zM101.5 599.1h6.6v6.6h-6.6zM101.5 605.4h6.6v6.6h-6.6zM101.5 611.7h6.6v6.6h-6.6zM107.8 580.2h6.6v6.6h-6.6zM114.1 573.9h6.6v6.6h-6.6zM139.3 668.4h6.6v6.6h-6.6zM151.9 542.4h6.6v6.6h-6.6zM158.2 681.0h6.6v6.6h-6.6zM158.2 687.3h6.6v6.6h-6.6zM164.5 529.8h6.6v6.6h-6.6zM164.5 687.3h6.6v6.6h-6.6zM170.8 529.8h6.6v6.6h-6.6zM170.8 693.6h6.6v6.6h-6.6zM177.1 523.5h6.6v6.6h-6.6zM177.1 529.8h6.6v6.6h-6.6zM177.1 693.6h6.6v6.6h-6.6zM183.4 523.5h6.6v6.6h-6.6zM183.4 529.8h6.6v6.6h-6.6zM183.4 693.6h6.6v6.6h-6.6zM189.7 523.5h6.6v6.6h-6.6zM189.7 529.8h6.6v6.6h-6.6zM189.7 693.6h6.6v6.6h-6.6zM196.0 523.5h6.6v6.6h-6.6zM196.0 536.1h6.6v6.6h-6.6zM196.0 693.6h6.6v6.6h-6.6zM202.3 523.5h6.6v6.6h-6.6zM202.3 693.6h6.6v6.6h-6.6zM208.6 523.5h6.6v6.6h-6.6zM208.6 536.1h6.6v6.6h-6.6zM208.6 693.6h6.6v6.6h-6.6zM214.9 523.5h6.6v6.6h-6.6zM214.9 536.1h6.6v6.6h-6.6zM214.9 674.7h6.6v6.6h-6.6zM214.9 693.6h6.6v6.6h-6.6zM221.2 523.5h6.6v6.6h-6.6zM221.2 542.4h6.6v6.6h-6.6zM221.2 681.0h6.6v6.6h-6.6zM221.2 687.3h6.6v6.6h-6.6zM227.5 529.8h6.6v6.6h-6.6zM227.5 542.4h6.6v6.6h-6.6zM227.5 687.3h6.6v6.6h-6.6zM233.8 536.1h6.6v6.6h-6.6zM233.8 548.7h6.6v6.6h-6.6zM233.8 662.1h6.6v6.6h-6.6zM240.1 536.1h6.6v6.6h-6.6zM246.4 542.4h6.6v6.6h-6.6zM246.4 548.7h6.6v6.6h-6.6zM252.7 555.0h6.6v6.6h-6.6zM259.0 561.3h6.6v6.6h-6.6zM259.0 599.1h6.6v6.6h-6.6zM265.3 567.6h6.6v6.6h-6.6zM265.3 573.9h6.6v6.6h-6.6zM265.3 580.2h6.6v6.6h-6.6zM265.3 586.5h6.6v6.6h-6.6zM265.3 592.8h6.6v6.6h-6.6z"/>
<path fill="#3b10f8" shape-rendering="crispEdges" d="M107.8 586.5h6.6v6.6h-6.6zM107.8 592.8h6.6v6.6h-6.6zM107.8 599.1h6.6v6.6h-6.6zM107.8 605.4h6.6v6.6h-6.6zM107.8 611.7h6.6v6.6h-6.6zM114.1 580.2h6.6v6.6h-6.6zM114.1 618.0h6.6v6.6h-6.6zM120.4 580.2h6.6v6.6h-6.6zM120.4 636.9h6.6v6.6h-6.6zM126.7 573.9h6.6v6.6h-6.6zM126.7 643.2h6.6v6.6h-6.6zM126.7 649.5h6.6v6.6h-6.6zM133.0 655.8h6.6v6.6h-6.6zM139.3 561.3h6.6v6.6h-6.6zM139.3 662.1h6.6v6.6h-6.6zM145.6 555.0h6.6v6.6h-6.6zM145.6 662.1h6.6v6.6h-6.6zM151.9 548.7h6.6v6.6h-6.6zM158.2 548.7h6.6v6.6h-6.6zM164.5 548.7h6.6v6.6h-6.6zM164.5 674.7h6.6v6.6h-6.6zM196.0 529.8h6.6v6.6h-6.6zM196.0 542.4h6.6v6.6h-6.6zM202.3 529.8h6.6v6.6h-6.6zM202.3 536.1h6.6v6.6h-6.6zM208.6 529.8h6.6v6.6h-6.6zM208.6 674.7h6.6v6.6h-6.6zM214.9 529.8h6.6v6.6h-6.6zM214.9 668.4h6.6v6.6h-6.6zM221.2 529.8h6.6v6.6h-6.6zM221.2 536.1h6.6v6.6h-6.6zM221.2 662.1h6.6v6.6h-6.6zM227.5 536.1h6.6v6.6h-6.6zM227.5 561.3h6.6v6.6h-6.6zM227.5 655.8h6.6v6.6h-6.6zM233.8 542.4h6.6v6.6h-6.6zM233.8 649.5h6.6v6.6h-6.6zM240.1 542.4h6.6v6.6h-6.6zM240.1 548.7h6.6v6.6h-6.6zM246.4 555.0h6.6v6.6h-6.6zM252.7 561.3h6.6v6.6h-6.6zM252.7 599.1h6.6v6.6h-6.6zM259.0 567.6h6.6v6.6h-6.6zM259.0 573.9h6.6v6.6h-6.6zM259.0 580.2h6.6v6.6h-6.6zM259.0 586.5h6.6v6.6h-6.6zM259.0 592.8h6.6v6.6h-6.6zM189.0 513.3h12.9v6.6h-12.9z"/>
<path fill="#651ffd" shape-rendering="crispEdges" d="M107.8 618.0h6.6v6.6h-6.6zM114.1 636.9h6.6v6.6h-6.6zM145.6 668.4h6.6v6.6h-6.6zM164.5 542.4h6.6v6.6h-6.6zM202.3 542.4h6.6v6.6h-6.6zM227.5 555.0h6.6v6.6h-6.6zM227.5 662.1h6.6v6.6h-6.6z"/>
<path fill="#1202eb" shape-rendering="crispEdges" d="M114.1 586.5h6.6v6.6h-6.6z"/>
<path fill="#1101ea" shape-rendering="crispEdges" d="M114.1 592.8h6.6v6.6h-6.6zM208.6 668.4h6.6v6.6h-6.6z"/>
<path fill="#1001e9" shape-rendering="crispEdges" d="M114.1 599.1h6.6v6.6h-6.6zM202.3 668.4h6.6v6.6h-6.6zM240.1 573.9h6.6v6.6h-6.6zM246.4 586.5h6.6v6.6h-6.6z"/>
<path fill="#1000e9" shape-rendering="crispEdges" d="M114.1 605.4h6.6v6.6h-6.6zM114.1 611.7h6.6v6.6h-6.6zM164.5 668.4h6.6v6.6h-6.6z"/>
<path fill="#621efd" shape-rendering="crispEdges" d="M114.1 624.3h6.6v6.6h-6.6zM208.6 548.7h6.6v6.6h-6.6zM221.2 555.0h6.6v6.6h-6.6zM240.1 643.2h6.6v6.6h-6.6zM246.4 630.6h6.6v6.6h-6.6z"/>
<path fill="#641ffd" shape-rendering="crispEdges" d="M114.1 630.6h6.6v6.6h-6.6zM120.4 573.9h6.6v6.6h-6.6zM120.4 643.2h6.6v6.6h-6.6zM139.3 555.0h6.6v6.6h-6.6zM151.9 668.4h6.6v6.6h-6.6zM170.8 542.4h6.6v6.6h-6.6zM177.1 542.4h6.6v6.6h-6.6zM189.7 542.4h6.6v6.6h-6.6zM214.9 548.7h6.6v6.6h-6.6zM233.8 655.8h6.6v6.6h-6.6zM240.1 649.5h6.6v6.6h-6.6z"/>
<path fill="#0f02e8" shape-rendering="crispEdges" d="M120.4 586.5h6.6v6.6h-6.6z"/>
<path fill="#1108ea" shape-rendering="crispEdges" d="M120.4 592.8h6.6v6.6h-6.6zM227.5 649.5h6.6v6.6h-6.6z"/>
<path fill="#120ceb" shape-rendering="crispEdges" d="M120.4 599.1h6.6v6.6h-6.6zM120.4 618.0h6.6v6.6h-6.6zM145.6 561.3h6.6v6.6h-6.6zM233.8 573.9h6.6v6.6h-6.6z"/>
<path fill="#130eeb" shape-rendering="crispEdges" d="M120.4 605.4h6.6v6.6h-6.6zM120.4 611.7h6.6v6.6h-6.6zM133.0 573.9h6.6v6.6h-6.6z"/>
<path fill="#380ff7" shape-rendering="crispEdges" d="M120.4 624.3h6.6v6.6h-6.6zM233.8 643.2h6.6v6.6h-6.6zM246.4 605.4h6.6v6.6h-6.6zM246.4 611.7h6.6v6.6h-6.6z"/>
<path fill="#3a10f7" shape-rendering="crispEdges" d="M120.4 630.6h6.6v6.6h-6.6zM133.0 567.6h6.6v6.6h-6.6zM151.9 662.1h6.6v6.6h-6.6zM240.1 636.9h6.6v6.6h-6.6z"/>
<path fill="#6620fd" shape-rendering="crispEdges" d="M120.4 649.5h6.6v6.6h-6.6zM126.7 655.8h6.6v6.6h-6.6zM133.0 662.1h6.6v6.6h-6.6zM158.2 542.4h6.6v6.6h-6.6zM158.2 674.7h6.6v6.6h-6.6zM221.2 668.4h6.6v6.6h-6.6z"/>
<path fill="#631ffd" shape-rendering="crispEdges" d="M126.7 567.6h6.6v6.6h-6.6zM133.0 561.3h6.6v6.6h-6.6zM183.4 542.4h6.6v6.6h-6.6zM246.4 636.9h6.6v6.6h-6.6zM252.7 618.0h6.6v6.6h-6.6z"/>
<path fill="#1109ea" shape-rendering="crispEdges" d="M126.7 580.2h6.6v6.6h-6.6z"/>
<path fill="#1412ec" shape-rendering="crispEdges" d="M126.7 586.5h6.6v6.6h-6.6zM126.7 630.6h6.6v6.6h-6.6zM196.0 662.1h6.6v6.6h-6.6zM233.8 636.9h6.6v6.6h-6.6z"/>
<path fill="#1519ed" shape-rendering="crispEdges" d="M126.7 592.8h6.6v6.6h-6.6zM126.7 624.3h6.6v6.6h-6.6zM133.0 636.9h6.6v6.6h-6.6zM145.6 649.5h6.6v6.6h-6.6zM151.9 561.3h6.6v6.6h-6.6zM164.5 555.0h6.6v6.6h-6.6zM233.8 580.2h6.6v6.6h-6.6zM240.1 599.1h6.6v6.6h-6.6z"/>
<path fill="#161eee" shape-rendering="crispEdges" d="M126.7 599.1h6.6v6.6h-6.6zM126.7 618.0h6.6v6.6h-6.6zM139.3 573.9h6.6v6.6h-6.6zM145.6 567.6h6.6v6.6h-6.6z"/>
<path fill="#1720ef" shape-rendering="crispEdges" d="M126.7 605.4h6.6v6.6h-6.6zM126.7 611.7h6.6v6.6h-6.6zM214.9 649.5h6.6v6.6h-6.6z"/>
<path fill="#110aea" shape-rendering="crispEdges" d="M126.7 636.9h6.6v6.6h-6.6zM158.2 662.1h6.6v6.6h-6.6z"/>
<path fill="#151aee" shape-rendering="crispEdges" d="M133.0 580.2h6.6v6.6h-6.6z"/>
<path fill="#1824f0" shape-rendering="crispEdges" d="M133.0 586.5h6.6v6.6h-6.6zM151.9 649.5h6.6v6.6h-6.6zM221.2 567.6h6.6v6.6h-6.6zM233.8 586.5h6.6v6.6h-6.6z"/>
<path fill="#1a2bf1" shape-rendering="crispEdges" d="M133.0 592.8h6.6v6.6h-6.6zM139.3 580.2h6.6v6.6h-6.6zM233.8 618.0h6.6v6.6h-6.6z"/>
<path fill="#1b30f2" shape-rendering="crispEdges" d="M133.0 599.1h6.6v6.6h-6.6zM145.6 573.9h6.6v6.6h-6.6zM214.9 643.2h6.6v6.6h-6.6zM233.8 611.7h6.6v6.6h-6.6z"/>
<path fill="#1c33f3" shape-rendering="crispEdges" d="M133.0 605.4h6.6v6.6h-6.6zM151.9 643.2h6.6v6.6h-6.6zM227.5 580.2h6.6v6.6h-6.6zM233.8 605.4h6.6v6.6h-6.6z"/>
<path fill="#1c32f3" shape-rendering="crispEdges" d="M133.0 611.7h6.6v6.6h-6.6zM202.3 649.5h6.6v6.6h-6.6z"/>
<path fill="#1b2ff2" shape-rendering="crispEdges" d="M133.0 618.0h6.6v6.6h-6.6zM151.9 567.6h6.6v6.6h-6.6z"/>
<path fill="#192af1" shape-rendering="crispEdges" d="M133.0 624.3h6.6v6.6h-6.6zM208.6 649.5h6.6v6.6h-6.6z"/>
<path fill="#1822ef" shape-rendering="crispEdges" d="M133.0 630.6h6.6v6.6h-6.6z"/>
<path fill="#120eeb" shape-rendering="crispEdges" d="M133.0 643.2h6.6v6.6h-6.6zM139.3 649.5h6.6v6.6h-6.6zM240.1 586.5h6.6v6.6h-6.6z"/>
<path fill="#0f01e8" shape-rendering="crispEdges" d="M133.0 649.5h6.6v6.6h-6.6zM170.8 668.4h6.6v6.6h-6.6zM202.3 548.7h6.6v6.6h-6.6zM246.4 592.8h6.6v6.6h-6.6z"/>
<path fill="#130feb" shape-rendering="crispEdges" d="M139.3 567.6h6.6v6.6h-6.6zM158.2 555.0h6.6v6.6h-6.6zM214.9 655.8h6.6v6.6h-6.6zM227.5 567.6h6.6v6.6h-6.6z"/>
<path fill="#1d37f4" shape-rendering="crispEdges" d="M139.3 586.5h6.6v6.6h-6.6z"/>
<path fill="#1f3ff5" shape-rendering="crispEdges" d="M139.3 592.8h6.6v6.6h-6.6zM145.6 580.2h6.6v6.6h-6.6zM221.2 630.6h6.6v6.6h-6.6z"/>
<path fill="#2143f5" shape-rendering="crispEdges" d="M139.3 599.1h6.6v6.6h-6.6zM139.3 611.7h6.6v6.6h-6.6zM151.9 573.9h6.6v6.6h-6.6zM170.8 561.3h6.6v6.6h-6.6z"/>
<path fill="#2144f5" shape-rendering="crispEdges" d="M139.3 605.4h6.6v6.6h-6.6zM164.5 643.2h6.6v6.6h-6.6zM202.3 643.2h6.6v6.6h-6.6z"/>
<path fill="#1f40f5" shape-rendering="crispEdges" d="M139.3 618.0h6.6v6.6h-6.6zM145.6 630.6h6.6v6.6h-6.6zM214.9 636.9h6.6v6.6h-6.6z"/>
<path fill="#1e3af5" shape-rendering="crispEdges" d="M139.3 624.3h6.6v6.6h-6.6z"/>
<path fill="#1b32f3" shape-rendering="crispEdges" d="M139.3 630.6h6.6v6.6h-6.6zM221.2 636.9h6.6v6.6h-6.6zM233.8 599.1h6.6v6.6h-6.6z"/>
<path fill="#1927f0" shape-rendering="crispEdges" d="M139.3 636.9h6.6v6.6h-6.6zM158.2 561.3h6.6v6.6h-6.6zM170.8 655.8h6.6v6.6h-6.6zM196.0 555.0h6.6v6.6h-6.6z"/>
<path fill="#161bee" shape-rendering="crispEdges" d="M139.3 643.2h6.6v6.6h-6.6zM158.2 655.8h6.6v6.6h-6.6zM240.1 605.4h6.6v6.6h-6.6z"/>
<path fill="#0f00e8" shape-rendering="crispEdges" d="M139.3 655.8h6.6v6.6h-6.6zM196.0 668.4h6.6v6.6h-6.6zM214.9 662.1h6.6v6.6h-6.6z"/>
<path fill="#661ffd" shape-rendering="crispEdges" d="M145.6 548.7h6.6v6.6h-6.6z"/>
<path fill="#234bf5" shape-rendering="crispEdges" d="M145.6 586.5h6.6v6.6h-6.6z"/>
<path fill="#2653f5" shape-rendering="crispEdges" d="M145.6 592.8h6.6v6.6h-6.6z"/>
<path fill="#2857f5" shape-rendering="crispEdges" d="M145.6 599.1h6.6v6.6h-6.6zM145.6 605.4h6.6v6.6h-6.6zM221.2 618.0h6.6v6.6h-6.6z"/>
<path fill="#2754f5" shape-rendering="crispEdges" d="M145.6 611.7h6.6v6.6h-6.6z"/>
<path fill="#254ff5" shape-rendering="crispEdges" d="M145.6 618.0h6.6v6.6h-6.6zM183.4 643.2h6.6v6.6h-6.6zM214.9 630.6h6.6v6.6h-6.6zM221.2 580.2h6.6v6.6h-6.6z"/>
<path fill="#2248f5" shape-rendering="crispEdges" d="M145.6 624.3h6.6v6.6h-6.6zM227.5 611.7h6.6v6.6h-6.6z"/>
<path fill="#1c35f3" shape-rendering="crispEdges" d="M145.6 636.9h6.6v6.6h-6.6z"/>
<path fill="#1928f1" shape-rendering="crispEdges" d="M145.6 643.2h6.6v6.6h-6.6z"/>
<path fill="#120aea" shape-rendering="crispEdges" d="M145.6 655.8h6.6v6.6h-6.6z"/>
<path fill="#1004e9" shape-rendering="crispEdges" d="M151.9 555.0h6.6v6.6h-6.6z"/>
<path fill="#2755f5" shape-rendering="crispEdges" d="M151.9 580.2h6.6v6.6h-6.6z"/>
<path fill="#2d63f5" shape-rendering="crispEdges" d="M151.9 586.5h6.6v6.6h-6.6zM189.7 636.9h6.6v6.6h-6.6zM221.2 611.7h6.6v6.6h-6.6z"/>
<path fill="#316ef5" shape-rendering="crispEdges" d="M151.9 592.8h6.6v6.6h-6.6z"/>
<path fill="#3272f5" shape-rendering="crispEdges" d="M151.9 599.1h6.6v6.6h-6.6zM214.9 580.2h6.6v6.6h-6.6z"/>
<path fill="#3271f5" shape-rendering="crispEdges" d="M151.9 605.4h6.6v6.6h-6.6zM158.2 580.2h6.6v6.6h-6.6zM170.8 630.6h6.6v6.6h-6.6z"/>
<path fill="#2f6af5" shape-rendering="crispEdges" d="M151.9 611.7h6.6v6.6h-6.6z"/>
<path fill="#2c61f5" shape-rendering="crispEdges" d="M151.9 618.0h6.6v6.6h-6.6zM177.1 636.9h6.6v6.6h-6.6z"/>
<path fill="#2856f5" shape-rendering="crispEdges" d="M151.9 624.3h6.6v6.6h-6.6zM202.3 636.9h6.6v6.6h-6.6zM214.9 573.9h6.6v6.6h-6.6z"/>
<path fill="#244cf5" shape-rendering="crispEdges" d="M151.9 630.6h6.6v6.6h-6.6zM196.0 561.3h6.6v6.6h-6.6zM227.5 605.4h6.6v6.6h-6.6z"/>
<path fill="#2041f5" shape-rendering="crispEdges" d="M151.9 636.9h6.6v6.6h-6.6zM158.2 567.6h6.6v6.6h-6.6zM202.3 561.3h6.6v6.6h-6.6zM227.5 618.0h6.6v6.6h-6.6z"/>
<path fill="#1413ec" shape-rendering="crispEdges" d="M151.9 655.8h6.6v6.6h-6.6z"/>
<path fill="#2959f5" shape-rendering="crispEdges" d="M158.2 573.9h6.6v6.6h-6.6z"/>
<path fill="#3a86f5" shape-rendering="crispEdges" d="M158.2 586.5h6.6v6.6h-6.6zM214.9 611.7h6.6v6.6h-6.6z"/>
<path fill="#3f93f6" shape-rendering="crispEdges" d="M158.2 592.8h6.6v6.6h-6.6zM158.2 605.4h6.6v6.6h-6.6z"/>
<path fill="#4197f6" shape-rendering="crispEdges" d="M158.2 599.1h6.6v6.6h-6.6z"/>
<path fill="#3a87f5" shape-rendering="crispEdges" d="M158.2 611.7h6.6v6.6h-6.6z"/>
<path fill="#3477f5" shape-rendering="crispEdges" d="M158.2 618.0h6.6v6.6h-6.6zM177.1 567.6h6.6v6.6h-6.6z"/>
<path fill="#2e67f5" shape-rendering="crispEdges" d="M158.2 624.3h6.6v6.6h-6.6zM202.3 567.6h6.6v6.6h-6.6z"/>
<path fill="#2858f5" shape-rendering="crispEdges" d="M158.2 630.6h6.6v6.6h-6.6z"/>
<path fill="#234af5" shape-rendering="crispEdges" d="M158.2 636.9h6.6v6.6h-6.6zM170.8 643.2h6.6v6.6h-6.6zM196.0 643.2h6.6v6.6h-6.6z"/>
<path fill="#1e3df5" shape-rendering="crispEdges" d="M158.2 643.2h6.6v6.6h-6.6zM177.1 649.5h6.6v6.6h-6.6zM189.7 649.5h6.6v6.6h-6.6z"/>
<path fill="#1a2df2" shape-rendering="crispEdges" d="M158.2 649.5h6.6v6.6h-6.6zM183.4 555.0h6.6v6.6h-6.6zM233.8 592.8h6.6v6.6h-6.6z"/>
<path fill="#1101e9" shape-rendering="crispEdges" d="M158.2 668.4h6.6v6.6h-6.6z"/>
<path fill="#1d36f4" shape-rendering="crispEdges" d="M164.5 561.3h6.6v6.6h-6.6z"/>
<path fill="#2753f5" shape-rendering="crispEdges" d="M164.5 567.6h6.6v6.6h-6.6zM164.5 636.9h6.6v6.6h-6.6zM183.4 561.3h6.6v6.6h-6.6zM189.7 561.3h6.6v6.6h-6.6z"/>
<path fill="#3373f5" shape-rendering="crispEdges" d="M164.5 573.9h6.6v6.6h-6.6z"/>
<path fill="#4094f6" shape-rendering="crispEdges" d="M164.5 580.2h6.6v6.6h-6.6z"/>
<path fill="#4eaff8" shape-rendering="crispEdges" d="M164.5 586.5h6.6v6.6h-6.6z"/>
<path fill="#56c1f9" shape-rendering="crispEdges" d="M164.5 592.8h6.6v6.6h-6.6z"/>
<path fill="#58c4fa" shape-rendering="crispEdges" d="M164.5 599.1h6.6v6.6h-6.6z"/>
<path fill="#53baf9" shape-rendering="crispEdges" d="M164.5 605.4h6.6v6.6h-6.6z"/>
<path fill="#4aa8f7" shape-rendering="crispEdges" d="M164.5 611.7h6.6v6.6h-6.6z"/>
<path fill="#3f91f5" shape-rendering="crispEdges" d="M164.5 618.0h6.6v6.6h-6.6zM208.6 618.0h6.6v6.6h-6.6z"/>
<path fill="#357af5" shape-rendering="crispEdges" d="M164.5 624.3h6.6v6.6h-6.6zM196.0 567.6h6.6v6.6h-6.6zM196.0 630.6h6.6v6.6h-6.6z"/>
<path fill="#2d65f5" shape-rendering="crispEdges" d="M164.5 630.6h6.6v6.6h-6.6z"/>
<path fill="#1c34f3" shape-rendering="crispEdges" d="M164.5 649.5h6.6v6.6h-6.6z"/>
<path fill="#1722ef" shape-rendering="crispEdges" d="M164.5 655.8h6.6v6.6h-6.6zM170.8 555.0h6.6v6.6h-6.6zM227.5 636.9h6.6v6.6h-6.6z"/>
<path fill="#1310eb" shape-rendering="crispEdges" d="M164.5 662.1h6.6v6.6h-6.6z"/>
<path fill="#621efc" shape-rendering="crispEdges" d="M164.5 681.0h6.6v6.6h-6.6zM170.8 681.0h6.6v6.6h-6.6zM170.8 687.3h6.6v6.6h-6.6zM177.1 681.0h6.6v6.6h-6.6zM177.1 687.3h6.6v6.6h-6.6zM183.4 681.0h6.6v6.6h-6.6zM183.4 687.3h6.6v6.6h-6.6zM189.7 681.0h6.6v6.6h-6.6zM189.7 687.3h6.6v6.6h-6.6zM196.0 681.0h6.6v6.6h-6.6zM196.0 687.3h6.6v6.6h-6.6zM202.3 681.0h6.6v6.6h-6.6zM202.3 687.3h6.6v6.6h-6.6zM208.6 681.0h6.6v6.6h-6.6zM208.6 687.3h6.6v6.6h-6.6zM214.9 681.0h6.6v6.6h-6.6zM214.9 687.3h6.6v6.6h-6.6z"/>
<path fill="#3910f7" shape-rendering="crispEdges" d="M170.8 548.7h6.6v6.6h-6.6zM214.9 555.0h6.6v6.6h-6.6zM246.4 618.0h6.6v6.6h-6.6z"/>
<path fill="#2e66f5" shape-rendering="crispEdges" d="M170.8 567.6h6.6v6.6h-6.6z"/>
<path fill="#3e91f5" shape-rendering="crispEdges" d="M170.8 573.9h6.6v6.6h-6.6z"/>
<path fill="#55bdf9" shape-rendering="crispEdges" d="M170.8 580.2h6.6v6.6h-6.6z"/>
<path fill="#6ef9f7" shape-rendering="crispEdges" d="M170.8 586.5h6.6v6.6h-6.6z"/>
<path fill="#6ef6e4" shape-rendering="crispEdges" d="M170.8 592.8h6.6v6.6h-6.6z"/>
<path fill="#6ef7e5" shape-rendering="crispEdges" d="M170.8 599.1h6.6v6.6h-6.6z"/>
<path fill="#6ef9f6" shape-rendering="crispEdges" d="M170.8 605.4h6.6v6.6h-6.6z"/>
<path fill="#5dcefa" shape-rendering="crispEdges" d="M170.8 611.7h6.6v6.6h-6.6z"/>
<path fill="#4babf8" shape-rendering="crispEdges" d="M170.8 618.0h6.6v6.6h-6.6z"/>
<path fill="#3d8df5" shape-rendering="crispEdges" d="M170.8 624.3h6.6v6.6h-6.6z"/>
<path fill="#2a5bf5" shape-rendering="crispEdges" d="M170.8 636.9h6.6v6.6h-6.6z"/>
<path fill="#1d3af4" shape-rendering="crispEdges" d="M170.8 649.5h6.6v6.6h-6.6z"/>
<path fill="#1414ec" shape-rendering="crispEdges" d="M170.8 662.1h6.6v6.6h-6.6zM221.2 649.5h6.6v6.6h-6.6z"/>
<path fill="#1302eb" shape-rendering="crispEdges" d="M170.8 674.7h6.6v6.6h-6.6zM177.1 674.7h6.6v6.6h-6.6zM183.4 674.7h6.6v6.6h-6.6zM189.7 674.7h6.6v6.6h-6.6zM196.0 674.7h6.6v6.6h-6.6zM233.8 561.3h6.6v6.6h-6.6zM240.1 567.6h6.6v6.6h-6.6zM252.7 592.8h6.6v6.6h-6.6z"/>
<path fill="#370ff7" shape-rendering="crispEdges" d="M177.1 548.7h6.6v6.6h-6.6zM189.7 548.7h6.6v6.6h-6.6zM240.1 630.6h6.6v6.6h-6.6z"/>
<path fill="#1929f1" shape-rendering="crispEdges" d="M177.1 555.0h6.6v6.6h-6.6zM177.1 655.8h6.6v6.6h-6.6zM189.7 655.8h6.6v6.6h-6.6z"/>
<path fill="#244df5" shape-rendering="crispEdges" d="M177.1 561.3h6.6v6.6h-6.6zM177.1 643.2h6.6v6.6h-6.6zM227.5 599.1h6.6v6.6h-6.6z"/>
<path fill="#4cadf8" shape-rendering="crispEdges" d="M177.1 573.9h6.6v6.6h-6.6zM208.6 611.7h6.6v6.6h-6.6z"/>
<path fill="#6ef8ee" shape-rendering="crispEdges" d="M177.1 580.2h6.6v6.6h-6.6z"/>
<path fill="#71f1a7" shape-rendering="crispEdges" d="M177.1 586.5h6.6v6.6h-6.6z"/>
<path fill="#77f56c" shape-rendering="crispEdges" d="M177.1 592.8h6.6v6.6h-6.6z"/>
<path fill="#74f387" shape-rendering="crispEdges" d="M177.1 599.1h6.6v6.6h-6.6z"/>
<path fill="#6ef2c9" shape-rendering="crispEdges" d="M177.1 605.4h6.6v6.6h-6.6z"/>
<path fill="#6ef9f2" shape-rendering="crispEdges" d="M177.1 611.7h6.6v6.6h-6.6z"/>
<path fill="#57c2fa" shape-rendering="crispEdges" d="M177.1 618.0h6.6v6.6h-6.6z"/>
<path fill="#449cf6" shape-rendering="crispEdges" d="M177.1 624.3h6.6v6.6h-6.6zM196.0 624.3h6.6v6.6h-6.6zM214.9 599.1h6.6v6.6h-6.6z"/>
<path fill="#367bf5" shape-rendering="crispEdges" d="M177.1 630.6h6.6v6.6h-6.6z"/>
<path fill="#1516ed" shape-rendering="crispEdges" d="M177.1 662.1h6.6v6.6h-6.6z"/>
<path fill="#1003e9" shape-rendering="crispEdges" d="M177.1 668.4h6.6v6.6h-6.6zM183.4 668.4h6.6v6.6h-6.6z"/>
<path fill="#360ff7" shape-rendering="crispEdges" d="M183.4 548.7h6.6v6.6h-6.6z"/>
<path fill="#3983f5" shape-rendering="crispEdges" d="M183.4 567.6h6.6v6.6h-6.6z"/>
<path fill="#59c7fa" shape-rendering="crispEdges" d="M183.4 573.9h6.6v6.6h-6.6zM196.0 618.0h6.6v6.6h-6.6z"/>
<path fill="#6ef0bc" shape-rendering="crispEdges" d="M183.4 580.2h6.6v6.6h-6.6z"/>
<path fill="#7cf550" shape-rendering="crispEdges" d="M183.4 586.5h6.6v6.6h-6.6z"/>
<path fill="#c6f853" shape-rendering="crispEdges" d="M183.4 592.8h6.6v6.6h-6.6z"/>
<path fill="#92f550" shape-rendering="crispEdges" d="M183.4 599.1h6.6v6.6h-6.6z"/>
<path fill="#75f47e" shape-rendering="crispEdges" d="M183.4 605.4h6.6v6.6h-6.6z"/>
<path fill="#6ef5dd" shape-rendering="crispEdges" d="M183.4 611.7h6.6v6.6h-6.6z"/>
<path fill="#61d8fa" shape-rendering="crispEdges" d="M183.4 618.0h6.6v6.6h-6.6z"/>
<path fill="#48a5f7" shape-rendering="crispEdges" d="M183.4 624.3h6.6v6.6h-6.6z"/>
<path fill="#3881f5" shape-rendering="crispEdges" d="M183.4 630.6h6.6v6.6h-6.6z"/>
<path fill="#2d64f5" shape-rendering="crispEdges" d="M183.4 636.9h6.6v6.6h-6.6z"/>
<path fill="#1f3ef5" shape-rendering="crispEdges" d="M183.4 649.5h6.6v6.6h-6.6z"/>
<path fill="#1a2af1" shape-rendering="crispEdges" d="M183.4 655.8h6.6v6.6h-6.6z"/>
<path fill="#1517ed" shape-rendering="crispEdges" d="M183.4 662.1h6.6v6.6h-6.6zM240.1 618.0h6.6v6.6h-6.6z"/>
<path fill="#1a2cf2" shape-rendering="crispEdges" d="M189.7 555.0h6.6v6.6h-6.6z"/>
<path fill="#3985f5" shape-rendering="crispEdges" d="M189.7 567.6h6.6v6.6h-6.6z"/>
<path fill="#5fd4fa" shape-rendering="crispEdges" d="M189.7 573.9h6.6v6.6h-6.6z"/>
<path fill="#72f299" shape-rendering="crispEdges" d="M189.7 580.2h6.6v6.6h-6.6z"/>
<path fill="#b4f651" shape-rendering="crispEdges" d="M189.7 586.5h6.6v6.6h-6.6z"/>
<path fill="#f9ce4d" shape-rendering="crispEdges" d="M189.7 592.8h6.6v6.6h-6.6z"/>
<path fill="#d1fa55" shape-rendering="crispEdges" d="M189.7 599.1h6.6v6.6h-6.6z"/>
<path fill="#77f561" shape-rendering="crispEdges" d="M189.7 605.4h6.6v6.6h-6.6z"/>
<path fill="#6ef4d7" shape-rendering="crispEdges" d="M189.7 611.7h6.6v6.6h-6.6z"/>
<path fill="#62dcfa" shape-rendering="crispEdges" d="M189.7 618.0h6.6v6.6h-6.6z"/>
<path fill="#49a5f7" shape-rendering="crispEdges" d="M189.7 624.3h6.6v6.6h-6.6z"/>
<path fill="#3880f5" shape-rendering="crispEdges" d="M189.7 630.6h6.6v6.6h-6.6z"/>
<path fill="#254ef5" shape-rendering="crispEdges" d="M189.7 643.2h6.6v6.6h-6.6z"/>
<path fill="#1415ed" shape-rendering="crispEdges" d="M189.7 662.1h6.6v6.6h-6.6zM227.5 643.2h6.6v6.6h-6.6zM240.1 592.8h6.6v6.6h-6.6z"/>
<path fill="#1002e8" shape-rendering="crispEdges" d="M189.7 668.4h6.6v6.6h-6.6z"/>
<path fill="#1107ea" shape-rendering="crispEdges" d="M196.0 548.7h6.6v6.6h-6.6z"/>
<path fill="#54bcf9" shape-rendering="crispEdges" d="M196.0 573.9h6.6v6.6h-6.6z"/>
<path fill="#6ef1c5" shape-rendering="crispEdges" d="M196.0 580.2h6.6v6.6h-6.6z"/>
<path fill="#75f550" shape-rendering="crispEdges" d="M196.0 586.5h6.6v6.6h-6.6z"/>
<path fill="#bff752" shape-rendering="crispEdges" d="M196.0 592.8h6.6v6.6h-6.6z"/>
<path fill="#8bf550" shape-rendering="crispEdges" d="M196.0 599.1h6.6v6.6h-6.6z"/>
<path fill="#73f38d" shape-rendering="crispEdges" d="M196.0 605.4h6.6v6.6h-6.6z"/>
<path fill="#6ef7e6" shape-rendering="crispEdges" d="M196.0 611.7h6.6v6.6h-6.6z"/>
<path fill="#2b5ef5" shape-rendering="crispEdges" d="M196.0 636.9h6.6v6.6h-6.6zM208.6 630.6h6.6v6.6h-6.6z"/>
<path fill="#1d39f4" shape-rendering="crispEdges" d="M196.0 649.5h6.6v6.6h-6.6zM227.5 624.3h6.6v6.6h-6.6z"/>
<path fill="#1825f0" shape-rendering="crispEdges" d="M196.0 655.8h6.6v6.6h-6.6zM233.8 624.3h6.6v6.6h-6.6z"/>
<path fill="#161dee" shape-rendering="crispEdges" d="M202.3 555.0h6.6v6.6h-6.6z"/>
<path fill="#439af6" shape-rendering="crispEdges" d="M202.3 573.9h6.6v6.6h-6.6z"/>
<path fill="#6bf2fa" shape-rendering="crispEdges" d="M202.3 580.2h6.6v6.6h-6.6z"/>
<path fill="#6ef0bf" shape-rendering="crispEdges" d="M202.3 586.5h6.6v6.6h-6.6z"/>
<path fill="#74f386" shape-rendering="crispEdges" d="M202.3 592.8h6.6v6.6h-6.6z"/>
<path fill="#71f2a3" shape-rendering="crispEdges" d="M202.3 599.1h6.6v6.6h-6.6z"/>
<path fill="#6ef5dc" shape-rendering="crispEdges" d="M202.3 605.4h6.6v6.6h-6.6z"/>
<path fill="#65e3fa" shape-rendering="crispEdges" d="M202.3 611.7h6.6v6.6h-6.6z"/>
<path fill="#4daef8" shape-rendering="crispEdges" d="M202.3 618.0h6.6v6.6h-6.6z"/>
<path fill="#3c8cf5" shape-rendering="crispEdges" d="M202.3 624.3h6.6v6.6h-6.6z"/>
<path fill="#316df5" shape-rendering="crispEdges" d="M202.3 630.6h6.6v6.6h-6.6z"/>
<path fill="#171fef" shape-rendering="crispEdges" d="M202.3 655.8h6.6v6.6h-6.6z"/>
<path fill="#120deb" shape-rendering="crispEdges" d="M202.3 662.1h6.6v6.6h-6.6z"/>
<path fill="#1403ec" shape-rendering="crispEdges" d="M202.3 674.7h6.6v6.6h-6.6z"/>
<path fill="#340ef6" shape-rendering="crispEdges" d="M208.6 555.0h6.6v6.6h-6.6zM240.1 624.3h6.6v6.6h-6.6z"/>
<path fill="#1b31f3" shape-rendering="crispEdges" d="M208.6 561.3h6.6v6.6h-6.6z"/>
<path fill="#2651f5" shape-rendering="crispEdges" d="M208.6 567.6h6.6v6.6h-6.6z"/>
<path fill="#3476f5" shape-rendering="crispEdges" d="M208.6 573.9h6.6v6.6h-6.6zM208.6 624.3h6.6v6.6h-6.6z"/>
<path fill="#46a0f7" shape-rendering="crispEdges" d="M208.6 580.2h6.6v6.6h-6.6z"/>
<path fill="#5ac9fa" shape-rendering="crispEdges" d="M208.6 586.5h6.6v6.6h-6.6z"/>
<path fill="#6cf4fa" shape-rendering="crispEdges" d="M208.6 592.8h6.6v6.6h-6.6z"/>
<path fill="#69eefa" shape-rendering="crispEdges" d="M208.6 599.1h6.6v6.6h-6.6z"/>
<path fill="#5ac8fa" shape-rendering="crispEdges" d="M208.6 605.4h6.6v6.6h-6.6z"/>
<path fill="#244bf5" shape-rendering="crispEdges" d="M208.6 636.9h6.6v6.6h-6.6zM221.2 624.3h6.6v6.6h-6.6z"/>
<path fill="#1e3cf5" shape-rendering="crispEdges" d="M208.6 643.2h6.6v6.6h-6.6zM214.9 567.6h6.6v6.6h-6.6zM221.2 573.9h6.6v6.6h-6.6z"/>
<path fill="#1518ed" shape-rendering="crispEdges" d="M208.6 655.8h6.6v6.6h-6.6z"/>
<path fill="#1107e9" shape-rendering="crispEdges" d="M208.6 662.1h6.6v6.6h-6.6z"/>
<path fill="#171eef" shape-rendering="crispEdges" d="M214.9 561.3h6.6v6.6h-6.6z"/>
<path fill="#3c8bf5" shape-rendering="crispEdges" d="M214.9 586.5h6.6v6.6h-6.6z"/>
<path fill="#4399f6" shape-rendering="crispEdges" d="M214.9 592.8h6.6v6.6h-6.6z"/>
<path fill="#4095f6" shape-rendering="crispEdges" d="M214.9 605.4h6.6v6.6h-6.6z"/>
<path fill="#3273f5" shape-rendering="crispEdges" d="M214.9 618.0h6.6v6.6h-6.6z"/>
<path fill="#2b60f5" shape-rendering="crispEdges" d="M214.9 624.3h6.6v6.6h-6.6z"/>
<path fill="#360ff6" shape-rendering="crispEdges" d="M221.2 561.3h6.6v6.6h-6.6z"/>
<path fill="#2b5ff5" shape-rendering="crispEdges" d="M221.2 586.5h6.6v6.6h-6.6z"/>
<path fill="#2f6bf5" shape-rendering="crispEdges" d="M221.2 592.8h6.6v6.6h-6.6z"/>
<path fill="#316ff5" shape-rendering="crispEdges" d="M221.2 599.1h6.6v6.6h-6.6z"/>
<path fill="#306bf5" shape-rendering="crispEdges" d="M221.2 605.4h6.6v6.6h-6.6z"/>
<path fill="#1823f0" shape-rendering="crispEdges" d="M221.2 643.2h6.6v6.6h-6.6z"/>
<path fill="#1005e9" shape-rendering="crispEdges" d="M221.2 655.8h6.6v6.6h-6.6zM240.1 580.2h6.6v6.6h-6.6zM246.4 599.1h6.6v6.6h-6.6z"/>
<path fill="#1721ef" shape-rendering="crispEdges" d="M227.5 573.9h6.6v6.6h-6.6z"/>
<path fill="#2040f5" shape-rendering="crispEdges" d="M227.5 586.5h6.6v6.6h-6.6z"/>
<path fill="#2349f5" shape-rendering="crispEdges" d="M227.5 592.8h6.6v6.6h-6.6z"/>
<path fill="#1a2ef2" shape-rendering="crispEdges" d="M227.5 630.6h6.6v6.6h-6.6z"/>
<path fill="#1604ee" shape-rendering="crispEdges" d="M233.8 555.0h6.6v6.6h-6.6zM246.4 567.6h6.6v6.6h-6.6z"/>
<path fill="#1000e8" shape-rendering="crispEdges" d="M233.8 567.6h6.6v6.6h-6.6z"/>
<path fill="#161cee" shape-rendering="crispEdges" d="M233.8 630.6h6.6v6.6h-6.6z"/>
<path fill="#1905f0" shape-rendering="crispEdges" d="M240.1 555.0h6.6v6.6h-6.6zM246.4 561.3h6.6v6.6h-6.6z"/>
<path fill="#1603ed" shape-rendering="crispEdges" d="M240.1 561.3h6.6v6.6h-6.6z"/>
<path fill="#161aee" shape-rendering="crispEdges" d="M240.1 611.7h6.6v6.6h-6.6z"/>
<path fill="#1402ec" shape-rendering="crispEdges" d="M246.4 573.9h6.6v6.6h-6.6zM252.7 586.5h6.6v6.6h-6.6z"/>
<path fill="#1201ea" shape-rendering="crispEdges" d="M246.4 580.2h6.6v6.6h-6.6z"/>
<path fill="#601efc" shape-rendering="crispEdges" d="M246.4 624.3h6.6v6.6h-6.6z"/>
<path fill="#1a05f0" shape-rendering="crispEdges" d="M252.7 567.6h6.6v6.6h-6.6z"/>
<path fill="#1704ef" shape-rendering="crispEdges" d="M252.7 573.9h6.6v6.6h-6.6z"/>
<path fill="#1503ed" shape-rendering="crispEdges" d="M252.7 580.2h6.6v6.6h-6.6z"/>
<path fill="#631efd" shape-rendering="crispEdges" d="M252.7 605.4h6.6v6.6h-6.6zM252.7 611.7h6.6v6.6h-6.6z"/>
<path fill="#5c1cfc" shape-rendering="crispEdges" d="M189.0 507.0h12.9v6.6h-12.9z"/>
<path fill="#6720fd" shape-rendering="crispEdges" d="M562.5 561.4h6.6v6.6h-6.6zM562.5 567.7h6.6v6.6h-6.6zM562.5 574.0h6.6v6.6h-6.6zM562.5 580.3h6.6v6.6h-6.6zM562.5 586.6h6.6v6.6h-6.6zM568.8 555.1h6.6v6.6h-6.6zM568.8 592.9h6.6v6.6h-6.6zM575.1 548.8h6.6v6.6h-6.6zM575.1 599.2h6.6v6.6h-6.6zM581.4 542.5h6.6v6.6h-6.6zM587.7 536.2h6.6v6.6h-6.6zM594.0 529.9h6.6v6.6h-6.6zM594.0 536.2h6.6v6.6h-6.6zM594.0 681.1h6.6v6.6h-6.6zM594.0 687.4h6.6v6.6h-6.6zM594.0 693.7h6.6v6.6h-6.6zM600.3 523.6h6.6v6.6h-6.6zM600.3 529.9h6.6v6.6h-6.6zM600.3 542.5h6.6v6.6h-6.6zM600.3 662.2h6.6v6.6h-6.6zM600.3 681.1h6.6v6.6h-6.6zM600.3 693.7h6.6v6.6h-6.6zM606.6 517.3h6.6v6.6h-6.6zM606.6 523.6h6.6v6.6h-6.6zM606.6 542.5h6.6v6.6h-6.6zM606.6 668.5h6.6v6.6h-6.6zM606.6 674.8h6.6v6.6h-6.6zM606.6 693.7h6.6v6.6h-6.6zM612.9 517.3h6.6v6.6h-6.6zM612.9 523.6h6.6v6.6h-6.6zM612.9 536.2h6.6v6.6h-6.6zM612.9 693.7h6.6v6.6h-6.6zM619.2 517.3h6.6v6.6h-6.6zM619.2 523.6h6.6v6.6h-6.6zM619.2 536.2h6.6v6.6h-6.6zM619.2 693.7h6.6v6.6h-6.6zM625.5 517.3h6.6v6.6h-6.6zM625.5 523.6h6.6v6.6h-6.6zM625.5 536.2h6.6v6.6h-6.6zM625.5 693.7h6.6v6.6h-6.6zM631.8 517.3h6.6v6.6h-6.6zM631.8 529.9h6.6v6.6h-6.6zM631.8 693.7h6.6v6.6h-6.6zM638.1 517.3h6.6v6.6h-6.6zM638.1 529.9h6.6v6.6h-6.6zM638.1 693.7h6.6v6.6h-6.6zM644.4 523.6h6.6v6.6h-6.6zM644.4 536.2h6.6v6.6h-6.6zM644.4 693.7h6.6v6.6h-6.6zM650.7 523.6h6.6v6.6h-6.6zM650.7 529.9h6.6v6.6h-6.6zM650.7 693.7h6.6v6.6h-6.6zM657.0 523.6h6.6v6.6h-6.6zM657.0 529.9h6.6v6.6h-6.6zM657.0 693.7h6.6v6.6h-6.6zM663.3 536.2h6.6v6.6h-6.6zM663.3 687.4h6.6v6.6h-6.6zM669.6 542.5h6.6v6.6h-6.6zM669.6 687.4h6.6v6.6h-6.6zM675.9 542.5h6.6v6.6h-6.6zM675.9 687.4h6.6v6.6h-6.6zM682.2 548.8h6.6v6.6h-6.6zM682.2 674.8h6.6v6.6h-6.6zM682.2 687.4h6.6v6.6h-6.6zM688.5 548.8h6.6v6.6h-6.6zM688.5 681.1h6.6v6.6h-6.6zM688.5 687.4h6.6v6.6h-6.6zM694.8 555.1h6.6v6.6h-6.6zM701.1 561.4h6.6v6.6h-6.6zM707.4 567.7h6.6v6.6h-6.6zM713.7 567.7h6.6v6.6h-6.6zM720.0 567.7h6.6v6.6h-6.6zM720.0 592.9h6.6v6.6h-6.6zM720.0 599.2h6.6v6.6h-6.6zM720.0 605.5h6.6v6.6h-6.6zM720.0 611.8h6.6v6.6h-6.6zM720.0 618.1h6.6v6.6h-6.6zM720.0 624.4h6.6v6.6h-6.6zM726.3 567.7h6.6v6.6h-6.6zM726.3 574.0h6.6v6.6h-6.6zM726.3 580.3h6.6v6.6h-6.6zM726.3 586.6h6.6v6.6h-6.6zM637.8 498.0h11.3v6.3h-11.3z"/>
<path fill="#3c11f8" shape-rendering="crispEdges" d="M568.8 561.4h6.6v6.6h-6.6z"/>
<path fill="#3b10f8" shape-rendering="crispEdges" d="M568.8 567.7h6.6v6.6h-6.6zM568.8 574.0h6.6v6.6h-6.6zM568.8 580.3h6.6v6.6h-6.6zM568.8 586.6h6.6v6.6h-6.6zM575.1 555.1h6.6v6.6h-6.6zM575.1 592.9h6.6v6.6h-6.6zM581.4 548.8h6.6v6.6h-6.6zM581.4 599.2h6.6v6.6h-6.6zM594.0 643.3h6.6v6.6h-6.6zM600.3 548.8h6.6v6.6h-6.6zM600.3 649.6h6.6v6.6h-6.6zM606.6 548.8h6.6v6.6h-6.6zM606.6 655.9h6.6v6.6h-6.6zM606.6 662.2h6.6v6.6h-6.6zM612.9 542.5h6.6v6.6h-6.6zM612.9 668.5h6.6v6.6h-6.6zM612.9 674.8h6.6v6.6h-6.6zM619.2 542.5h6.6v6.6h-6.6zM625.5 542.5h6.6v6.6h-6.6zM644.4 542.5h6.6v6.6h-6.6zM657.0 536.2h6.6v6.6h-6.6zM663.3 542.5h6.6v6.6h-6.6zM669.6 548.8h6.6v6.6h-6.6zM675.9 548.8h6.6v6.6h-6.6zM675.9 674.8h6.6v6.6h-6.6zM682.2 555.1h6.6v6.6h-6.6zM688.5 555.1h6.6v6.6h-6.6zM694.8 561.4h6.6v6.6h-6.6zM701.1 567.7h6.6v6.6h-6.6zM707.4 574.0h6.6v6.6h-6.6zM713.7 574.0h6.6v6.6h-6.6zM713.7 592.9h6.6v6.6h-6.6zM713.7 599.2h6.6v6.6h-6.6zM713.7 605.5h6.6v6.6h-6.6zM713.7 611.8h6.6v6.6h-6.6zM713.7 618.1h6.6v6.6h-6.6zM713.7 624.4h6.6v6.6h-6.6zM720.0 574.0h6.6v6.6h-6.6zM720.0 580.3h6.6v6.6h-6.6zM720.0 586.6h6.6v6.6h-6.6z"/>
<path fill="#320df6" shape-rendering="crispEdges" d="M575.1 561.4h6.6v6.6h-6.6zM587.7 611.8h6.6v6.6h-6.6zM594.0 630.7h6.6v6.6h-6.6z"/>
<path fill="#2a0bf4" shape-rendering="crispEdges" d="M575.1 567.7h6.6v6.6h-6.6zM594.0 548.8h6.6v6.6h-6.6z"/>
<path fill="#2208f2" shape-rendering="crispEdges" d="M575.1 574.0h6.6v6.6h-6.6zM638.1 536.2h6.6v6.6h-6.6z"/>
<path fill="#1b06f0" shape-rendering="crispEdges" d="M575.1 580.3h6.6v6.6h-6.6z"/>
<path fill="#1804ef" shape-rendering="crispEdges" d="M575.1 586.6h6.6v6.6h-6.6zM581.4 574.0h6.6v6.6h-6.6z"/>
<path fill="#310df5" shape-rendering="crispEdges" d="M581.4 555.1h6.6v6.6h-6.6zM587.7 605.5h6.6v6.6h-6.6zM707.4 637.0h6.6v6.6h-6.6z"/>
<path fill="#280af3" shape-rendering="crispEdges" d="M581.4 561.4h6.6v6.6h-6.6zM587.7 555.1h6.6v6.6h-6.6z"/>
<path fill="#1e07f1" shape-rendering="crispEdges" d="M581.4 567.7h6.6v6.6h-6.6z"/>
<path fill="#1503ed" shape-rendering="crispEdges" d="M581.4 580.3h6.6v6.6h-6.6zM619.2 668.5h6.6v6.6h-6.6zM694.8 649.6h6.6v6.6h-6.6z"/>
<path fill="#1302eb" shape-rendering="crispEdges" d="M581.4 586.6h6.6v6.6h-6.6zM587.7 574.0h6.6v6.6h-6.6zM625.5 668.5h6.6v6.6h-6.6zM650.7 674.8h6.6v6.6h-6.6zM663.3 548.8h6.6v6.6h-6.6zM688.5 655.9h6.6v6.6h-6.6z"/>
<path fill="#1101ea" shape-rendering="crispEdges" d="M581.4 592.9h6.6v6.6h-6.6zM631.8 668.5h6.6v6.6h-6.6zM657.0 548.8h6.6v6.6h-6.6zM669.6 674.8h6.6v6.6h-6.6zM675.9 555.1h6.6v6.6h-6.6zM701.1 574.0h6.6v6.6h-6.6z"/>
<path fill="#611efc" shape-rendering="crispEdges" d="M581.4 605.5h6.6v6.6h-6.6zM581.4 611.8h6.6v6.6h-6.6z"/>
<path fill="#621efd" shape-rendering="crispEdges" d="M581.4 618.1h6.6v6.6h-6.6z"/>
<path fill="#631ffd" shape-rendering="crispEdges" d="M581.4 624.4h6.6v6.6h-6.6z"/>
<path fill="#3d11f8" shape-rendering="crispEdges" d="M587.7 542.5h6.6v6.6h-6.6z"/>
<path fill="#330ef6" shape-rendering="crispEdges" d="M587.7 548.8h6.6v6.6h-6.6z"/>
<path fill="#1c06f1" shape-rendering="crispEdges" d="M587.7 561.4h6.6v6.6h-6.6z"/>
<path fill="#1604ee" shape-rendering="crispEdges" d="M587.7 567.7h6.6v6.6h-6.6zM594.0 561.4h6.6v6.6h-6.6zM612.9 548.8h6.6v6.6h-6.6zM638.1 542.5h6.6v6.6h-6.6zM650.7 542.5h6.6v6.6h-6.6z"/>
<path fill="#1000e8" shape-rendering="crispEdges" d="M587.7 580.3h6.6v6.6h-6.6zM638.1 668.5h6.6v6.6h-6.6z"/>
<path fill="#120aea" shape-rendering="crispEdges" d="M587.7 586.6h6.6v6.6h-6.6zM707.4 599.2h6.6v6.6h-6.6z"/>
<path fill="#1414ec" shape-rendering="crispEdges" d="M587.7 592.9h6.6v6.6h-6.6z"/>
<path fill="#1519ee" shape-rendering="crispEdges" d="M587.7 599.2h6.6v6.6h-6.6z"/>
<path fill="#340ef6" shape-rendering="crispEdges" d="M587.7 618.1h6.6v6.6h-6.6z"/>
<path fill="#370ff7" shape-rendering="crispEdges" d="M587.7 624.4h6.6v6.6h-6.6zM594.0 637.0h6.6v6.6h-6.6z"/>
<path fill="#601efc" shape-rendering="crispEdges" d="M587.7 630.7h6.6v6.6h-6.6z"/>
<path fill="#631efd" shape-rendering="crispEdges" d="M587.7 637.0h6.6v6.6h-6.6zM713.7 630.7h6.6v6.6h-6.6z"/>
<path fill="#651ffd" shape-rendering="crispEdges" d="M587.7 643.3h6.6v6.6h-6.6zM594.0 649.6h6.6v6.6h-6.6zM600.3 655.9h6.6v6.6h-6.6z"/>
<path fill="#360ff6" shape-rendering="crispEdges" d="M594.0 542.5h6.6v6.6h-6.6z"/>
<path fill="#1d06f1" shape-rendering="crispEdges" d="M594.0 555.1h6.6v6.6h-6.6zM701.1 643.3h6.6v6.6h-6.6z"/>
<path fill="#1201ea" shape-rendering="crispEdges" d="M594.0 567.7h6.6v6.6h-6.6zM600.3 561.4h6.6v6.6h-6.6zM657.0 674.8h6.6v6.6h-6.6zM688.5 561.4h6.6v6.6h-6.6z"/>
<path fill="#1109ea" shape-rendering="crispEdges" d="M594.0 574.0h6.6v6.6h-6.6zM606.6 561.4h6.6v6.6h-6.6zM644.4 668.5h6.6v6.6h-6.6zM663.3 555.1h6.6v6.6h-6.6z"/>
<path fill="#171eef" shape-rendering="crispEdges" d="M594.0 580.3h6.6v6.6h-6.6z"/>
<path fill="#1b31f3" shape-rendering="crispEdges" d="M594.0 586.6h6.6v6.6h-6.6zM631.8 655.9h6.6v6.6h-6.6zM657.0 561.4h6.6v6.6h-6.6z"/>
<path fill="#1f3ef5" shape-rendering="crispEdges" d="M594.0 592.9h6.6v6.6h-6.6zM600.3 624.4h6.6v6.6h-6.6zM650.7 561.4h6.6v6.6h-6.6zM682.2 580.3h6.6v6.6h-6.6zM694.8 599.2h6.6v6.6h-6.6z"/>
<path fill="#2042f5" shape-rendering="crispEdges" d="M594.0 599.2h6.6v6.6h-6.6z"/>
<path fill="#2040f5" shape-rendering="crispEdges" d="M594.0 605.5h6.6v6.6h-6.6z"/>
<path fill="#1d39f4" shape-rendering="crispEdges" d="M594.0 611.8h6.6v6.6h-6.6zM619.2 561.4h6.6v6.6h-6.6zM669.6 668.5h6.6v6.6h-6.6zM701.1 611.8h6.6v6.6h-6.6z"/>
<path fill="#1b2ff2" shape-rendering="crispEdges" d="M594.0 618.1h6.6v6.6h-6.6zM606.6 567.7h6.6v6.6h-6.6z"/>
<path fill="#1823f0" shape-rendering="crispEdges" d="M594.0 624.4h6.6v6.6h-6.6zM701.1 599.2h6.6v6.6h-6.6z"/>
<path fill="#1704ee" shape-rendering="crispEdges" d="M600.3 555.1h6.6v6.6h-6.6zM631.8 542.5h6.6v6.6h-6.6zM631.8 674.8h6.6v6.6h-6.6zM657.0 542.5h6.6v6.6h-6.6zM713.7 580.3h6.6v6.6h-6.6z"/>
<path fill="#120eeb" shape-rendering="crispEdges" d="M600.3 567.7h6.6v6.6h-6.6z"/>
<path fill="#1a2df2" shape-rendering="crispEdges" d="M600.3 574.0h6.6v6.6h-6.6zM701.1 605.5h6.6v6.6h-6.6z"/>
<path fill="#234af5" shape-rendering="crispEdges" d="M600.3 580.3h6.6v6.6h-6.6zM669.6 574.0h6.6v6.6h-6.6z"/>
<path fill="#2c61f5" shape-rendering="crispEdges" d="M600.3 586.6h6.6v6.6h-6.6zM682.2 592.9h6.6v6.6h-6.6zM682.2 662.2h6.6v6.6h-6.6z"/>
<path fill="#316ff5" shape-rendering="crispEdges" d="M600.3 592.9h6.6v6.6h-6.6zM619.2 567.7h6.6v6.6h-6.6z"/>
<path fill="#3373f5" shape-rendering="crispEdges" d="M600.3 599.2h6.6v6.6h-6.6z"/>
<path fill="#306cf5" shape-rendering="crispEdges" d="M600.3 605.5h6.6v6.6h-6.6zM638.1 649.6h6.6v6.6h-6.6z"/>
<path fill="#2b5ef5" shape-rendering="crispEdges" d="M600.3 611.8h6.6v6.6h-6.6zM612.9 630.7h6.6v6.6h-6.6z"/>
<path fill="#254ef5" shape-rendering="crispEdges" d="M600.3 618.1h6.6v6.6h-6.6zM682.2 586.6h6.6v6.6h-6.6z"/>
<path fill="#1a2ef2" shape-rendering="crispEdges" d="M600.3 630.7h6.6v6.6h-6.6z"/>
<path fill="#161dee" shape-rendering="crispEdges" d="M600.3 637.0h6.6v6.6h-6.6zM644.4 555.1h6.6v6.6h-6.6z"/>
<path fill="#120deb" shape-rendering="crispEdges" d="M600.3 643.3h6.6v6.6h-6.6zM675.9 561.4h6.6v6.6h-6.6z"/>
<path fill="#5c1cfc" shape-rendering="crispEdges" d="M600.3 687.4h6.6v6.6h-6.6zM606.6 681.1h6.6v6.6h-6.6zM606.6 687.4h6.6v6.6h-6.6zM612.9 681.1h6.6v6.6h-6.6zM612.9 687.4h6.6v6.6h-6.6zM619.2 681.1h6.6v6.6h-6.6zM619.2 687.4h6.6v6.6h-6.6zM625.5 681.1h6.6v6.6h-6.6zM625.5 687.4h6.6v6.6h-6.6zM631.8 681.1h6.6v6.6h-6.6zM631.8 687.4h6.6v6.6h-6.6zM638.1 681.1h6.6v6.6h-6.6zM638.1 687.4h6.6v6.6h-6.6zM644.4 681.1h6.6v6.6h-6.6zM644.4 687.4h6.6v6.6h-6.6zM650.7 681.1h6.6v6.6h-6.6zM650.7 687.4h6.6v6.6h-6.6zM657.0 681.1h6.6v6.6h-6.6zM657.0 687.4h6.6v6.6h-6.6zM663.3 681.1h6.6v6.6h-6.6zM669.6 681.1h6.6v6.6h-6.6zM675.9 681.1h6.6v6.6h-6.6zM682.2 681.1h6.6v6.6h-6.6z"/>
<path fill="#1402ec" shape-rendering="crispEdges" d="M606.6 555.1h6.6v6.6h-6.6z"/>
<path fill="#2856f5" shape-rendering="crispEdges" d="M606.6 574.0h6.6v6.6h-6.6z"/>
<path fill="#377ef5" shape-rendering="crispEdges" d="M606.6 580.3h6.6v6.6h-6.6z"/>
<path fill="#46a0f7" shape-rendering="crispEdges" d="M606.6 586.6h6.6v6.6h-6.6zM675.9 599.2h6.6v6.6h-6.6zM694.8 630.7h6.6v6.6h-6.6z"/>
<path fill="#50b3f8" shape-rendering="crispEdges" d="M606.6 592.9h6.6v6.6h-6.6z"/>
<path fill="#50b5f8" shape-rendering="crispEdges" d="M606.6 599.2h6.6v6.6h-6.6z"/>
<path fill="#49a6f7" shape-rendering="crispEdges" d="M606.6 605.5h6.6v6.6h-6.6zM657.0 580.3h6.6v6.6h-6.6zM663.3 586.6h6.6v6.6h-6.6z"/>
<path fill="#3d8ef5" shape-rendering="crispEdges" d="M606.6 611.8h6.6v6.6h-6.6zM694.8 624.4h6.6v6.6h-6.6z"/>
<path fill="#3271f5" shape-rendering="crispEdges" d="M606.6 618.1h6.6v6.6h-6.6z"/>
<path fill="#2959f5" shape-rendering="crispEdges" d="M606.6 624.4h6.6v6.6h-6.6z"/>
<path fill="#2246f5" shape-rendering="crispEdges" d="M606.6 630.7h6.6v6.6h-6.6zM619.2 643.3h6.6v6.6h-6.6zM701.1 618.1h6.6v6.6h-6.6z"/>
<path fill="#1c33f3" shape-rendering="crispEdges" d="M606.6 637.0h6.6v6.6h-6.6zM612.9 643.3h6.6v6.6h-6.6zM644.4 662.2h6.6v6.6h-6.6z"/>
<path fill="#171fef" shape-rendering="crispEdges" d="M606.6 643.3h6.6v6.6h-6.6zM638.1 662.2h6.6v6.6h-6.6z"/>
<path fill="#120ceb" shape-rendering="crispEdges" d="M606.6 649.6h6.6v6.6h-6.6z"/>
<path fill="#1001e9" shape-rendering="crispEdges" d="M612.9 555.1h6.6v6.6h-6.6zM619.2 662.2h6.6v6.6h-6.6zM638.1 548.8h6.6v6.6h-6.6zM644.4 548.8h6.6v6.6h-6.6zM707.4 586.6h6.6v6.6h-6.6z"/>
<path fill="#1721ef" shape-rendering="crispEdges" d="M612.9 561.4h6.6v6.6h-6.6zM625.5 655.9h6.6v6.6h-6.6z"/>
<path fill="#2550f5" shape-rendering="crispEdges" d="M612.9 567.7h6.6v6.6h-6.6z"/>
<path fill="#3985f5" shape-rendering="crispEdges" d="M612.9 574.0h6.6v6.6h-6.6z"/>
<path fill="#54bcf9" shape-rendering="crispEdges" d="M612.9 580.3h6.6v6.6h-6.6z"/>
<path fill="#6ef9f6" shape-rendering="crispEdges" d="M612.9 586.6h6.6v6.6h-6.6zM612.9 605.5h6.6v6.6h-6.6z"/>
<path fill="#6ef6e3" shape-rendering="crispEdges" d="M612.9 592.9h6.6v6.6h-6.6zM625.5 618.1h6.6v6.6h-6.6z"/>
<path fill="#6ef6e4" shape-rendering="crispEdges" d="M612.9 599.2h6.6v6.6h-6.6zM663.3 599.2h6.6v6.6h-6.6z"/>
<path fill="#58c3fa" shape-rendering="crispEdges" d="M612.9 611.8h6.6v6.6h-6.6z"/>
<path fill="#449cf6" shape-rendering="crispEdges" d="M612.9 618.1h6.6v6.6h-6.6z"/>
<path fill="#357bf5" shape-rendering="crispEdges" d="M612.9 624.4h6.6v6.6h-6.6zM663.3 662.2h6.6v6.6h-6.6z"/>
<path fill="#2248f5" shape-rendering="crispEdges" d="M612.9 637.0h6.6v6.6h-6.6z"/>
<path fill="#161cee" shape-rendering="crispEdges" d="M612.9 649.6h6.6v6.6h-6.6zM707.4 618.1h6.6v6.6h-6.6z"/>
<path fill="#1006e9" shape-rendering="crispEdges" d="M612.9 655.9h6.6v6.6h-6.6zM625.5 662.2h6.6v6.6h-6.6z"/>
<path fill="#1202eb" shape-rendering="crispEdges" d="M612.9 662.2h6.6v6.6h-6.6zM625.5 548.8h6.6v6.6h-6.6zM707.4 580.3h6.6v6.6h-6.6z"/>
<path fill="#1403ec" shape-rendering="crispEdges" d="M619.2 548.8h6.6v6.6h-6.6zM644.4 674.8h6.6v6.6h-6.6z"/>
<path fill="#110aea" shape-rendering="crispEdges" d="M619.2 555.1h6.6v6.6h-6.6z"/>
<path fill="#50b4f8" shape-rendering="crispEdges" d="M619.2 574.0h6.6v6.6h-6.6z"/>
<path fill="#6ef6e2" shape-rendering="crispEdges" d="M619.2 580.3h6.6v6.6h-6.6zM638.1 630.7h6.6v6.6h-6.6z"/>
<path fill="#71f1a4" shape-rendering="crispEdges" d="M619.2 586.6h6.6v6.6h-6.6z"/>
<path fill="#75f382" shape-rendering="crispEdges" d="M619.2 592.9h6.6v6.6h-6.6zM675.9 630.7h6.6v6.6h-6.6z"/>
<path fill="#73f295" shape-rendering="crispEdges" d="M619.2 599.2h6.6v6.6h-6.6z"/>
<path fill="#6ef1c3" shape-rendering="crispEdges" d="M619.2 605.5h6.6v6.6h-6.6z"/>
<path fill="#6ef7e9" shape-rendering="crispEdges" d="M619.2 611.8h6.6v6.6h-6.6zM669.6 605.5h6.6v6.6h-6.6z"/>
<path fill="#5ed2fa" shape-rendering="crispEdges" d="M619.2 618.1h6.6v6.6h-6.6z"/>
<path fill="#47a3f7" shape-rendering="crispEdges" d="M619.2 624.4h6.6v6.6h-6.6zM694.8 637.0h6.6v6.6h-6.6z"/>
<path fill="#377ff5" shape-rendering="crispEdges" d="M619.2 630.7h6.6v6.6h-6.6zM650.7 655.9h6.6v6.6h-6.6zM663.3 580.3h6.6v6.6h-6.6z"/>
<path fill="#2b5ff5" shape-rendering="crispEdges" d="M619.2 637.0h6.6v6.6h-6.6z"/>
<path fill="#1a2cf2" shape-rendering="crispEdges" d="M619.2 649.6h6.6v6.6h-6.6z"/>
<path fill="#1413ec" shape-rendering="crispEdges" d="M619.2 655.9h6.6v6.6h-6.6z"/>
<path fill="#1b06f1" shape-rendering="crispEdges" d="M619.2 674.8h6.6v6.6h-6.6z"/>
<path fill="#1516ed" shape-rendering="crispEdges" d="M625.5 555.1h6.6v6.6h-6.6zM707.4 611.8h6.6v6.6h-6.6z"/>
<path fill="#2348f5" shape-rendering="crispEdges" d="M625.5 561.4h6.6v6.6h-6.6z"/>
<path fill="#3b89f5" shape-rendering="crispEdges" d="M625.5 567.7h6.6v6.6h-6.6z"/>
<path fill="#6efaf8" shape-rendering="crispEdges" d="M625.5 574.0h6.6v6.6h-6.6z"/>
<path fill="#75f47d" shape-rendering="crispEdges" d="M625.5 580.3h6.6v6.6h-6.6zM644.4 624.4h6.6v6.6h-6.6z"/>
<path fill="#91f550" shape-rendering="crispEdges" d="M625.5 586.6h6.6v6.6h-6.6z"/>
<path fill="#a2f550" shape-rendering="crispEdges" d="M625.5 592.9h6.6v6.6h-6.6z"/>
<path fill="#74f552" shape-rendering="crispEdges" d="M625.5 599.2h6.6v6.6h-6.6z"/>
<path fill="#76f47a" shape-rendering="crispEdges" d="M625.5 605.5h6.6v6.6h-6.6z"/>
<path fill="#6ef0bc" shape-rendering="crispEdges" d="M625.5 611.8h6.6v6.6h-6.6z"/>
<path fill="#61dbfa" shape-rendering="crispEdges" d="M625.5 624.4h6.6v6.6h-6.6z"/>
<path fill="#48a5f7" shape-rendering="crispEdges" d="M625.5 630.7h6.6v6.6h-6.6z"/>
<path fill="#367df5" shape-rendering="crispEdges" d="M625.5 637.0h6.6v6.6h-6.6z"/>
<path fill="#2a5bf5" shape-rendering="crispEdges" d="M625.5 643.3h6.6v6.6h-6.6z"/>
<path fill="#1f3ff5" shape-rendering="crispEdges" d="M625.5 649.6h6.6v6.6h-6.6z"/>
<path fill="#1805ef" shape-rendering="crispEdges" d="M625.5 674.8h6.6v6.6h-6.6z"/>
<path fill="#4012f9" shape-rendering="crispEdges" d="M631.8 523.6h6.6v6.6h-6.6z"/>
<path fill="#2409f2" shape-rendering="crispEdges" d="M631.8 536.2h6.6v6.6h-6.6z"/>
<path fill="#1101e9" shape-rendering="crispEdges" d="M631.8 548.8h6.6v6.6h-6.6zM650.7 548.8h6.6v6.6h-6.6zM663.3 674.8h6.6v6.6h-6.6zM694.8 567.7h6.6v6.6h-6.6z"/>
<path fill="#161eee" shape-rendering="crispEdges" d="M631.8 555.1h6.6v6.6h-6.6z"/>
<path fill="#2650f5" shape-rendering="crispEdges" d="M631.8 561.4h6.6v6.6h-6.6zM638.1 561.4h6.6v6.6h-6.6z"/>
<path fill="#4297f6" shape-rendering="crispEdges" d="M631.8 567.7h6.6v6.6h-6.6z"/>
<path fill="#6ef5d9" shape-rendering="crispEdges" d="M631.8 574.0h6.6v6.6h-6.6z"/>
<path fill="#8af550" shape-rendering="crispEdges" d="M631.8 580.3h6.6v6.6h-6.6z"/>
<path fill="#f1963f" shape-rendering="crispEdges" d="M631.8 586.6h6.6v6.6h-6.6z"/>
<path fill="#f08d3c" shape-rendering="crispEdges" d="M631.8 592.9h6.6v6.6h-6.6z"/>
<path fill="#bef752" shape-rendering="crispEdges" d="M631.8 599.2h6.6v6.6h-6.6z"/>
<path fill="#75f557" shape-rendering="crispEdges" d="M631.8 605.5h6.6v6.6h-6.6z"/>
<path fill="#75f47b" shape-rendering="crispEdges" d="M631.8 611.8h6.6v6.6h-6.6zM638.1 618.1h6.6v6.6h-6.6z"/>
<path fill="#6ff0b6" shape-rendering="crispEdges" d="M631.8 618.1h6.6v6.6h-6.6zM657.0 599.2h6.6v6.6h-6.6z"/>
<path fill="#6ef6e1" shape-rendering="crispEdges" d="M631.8 624.4h6.6v6.6h-6.6z"/>
<path fill="#62dbfa" shape-rendering="crispEdges" d="M631.8 630.7h6.6v6.6h-6.6zM663.3 592.9h6.6v6.6h-6.6z"/>
<path fill="#47a2f7" shape-rendering="crispEdges" d="M631.8 637.0h6.6v6.6h-6.6zM650.7 574.0h6.6v6.6h-6.6z"/>
<path fill="#3477f5" shape-rendering="crispEdges" d="M631.8 643.3h6.6v6.6h-6.6z"/>
<path fill="#2652f5" shape-rendering="crispEdges" d="M631.8 649.6h6.6v6.6h-6.6zM657.0 567.7h6.6v6.6h-6.6zM701.1 624.4h6.6v6.6h-6.6z"/>
<path fill="#1311ec" shape-rendering="crispEdges" d="M631.8 662.2h6.6v6.6h-6.6z"/>
<path fill="#3e11f8" shape-rendering="crispEdges" d="M638.1 523.6h6.6v6.6h-6.6z"/>
<path fill="#1720ef" shape-rendering="crispEdges" d="M638.1 555.1h6.6v6.6h-6.6zM707.4 624.4h6.6v6.6h-6.6z"/>
<path fill="#4095f6" shape-rendering="crispEdges" d="M638.1 567.7h6.6v6.6h-6.6z"/>
<path fill="#6ef4d9" shape-rendering="crispEdges" d="M638.1 574.0h6.6v6.6h-6.6z"/>
<path fill="#97f550" shape-rendering="crispEdges" d="M638.1 580.3h6.6v6.6h-6.6z"/>
<path fill="#eb6e34" shape-rendering="crispEdges" d="M638.1 586.6h6.6v6.6h-6.6z"/>
<path fill="#ea6833" shape-rendering="crispEdges" d="M638.1 592.9h6.6v6.6h-6.6z"/>
<path fill="#d7fa55" shape-rendering="crispEdges" d="M638.1 599.2h6.6v6.6h-6.6z"/>
<path fill="#76f550" shape-rendering="crispEdges" d="M638.1 605.5h6.6v6.6h-6.6z"/>
<path fill="#76f55e" shape-rendering="crispEdges" d="M638.1 611.8h6.6v6.6h-6.6zM650.7 605.5h6.6v6.6h-6.6zM663.3 624.4h6.6v6.6h-6.6z"/>
<path fill="#6ff0b5" shape-rendering="crispEdges" d="M638.1 624.4h6.6v6.6h-6.6z"/>
<path fill="#5ed3fa" shape-rendering="crispEdges" d="M638.1 637.0h6.6v6.6h-6.6z"/>
<path fill="#439bf6" shape-rendering="crispEdges" d="M638.1 643.3h6.6v6.6h-6.6z"/>
<path fill="#2145f5" shape-rendering="crispEdges" d="M638.1 655.9h6.6v6.6h-6.6z"/>
<path fill="#1603ed" shape-rendering="crispEdges" d="M638.1 674.8h6.6v6.6h-6.6z"/>
<path fill="#2349f5" shape-rendering="crispEdges" d="M644.4 561.4h6.6v6.6h-6.6zM688.5 592.9h6.6v6.6h-6.6z"/>
<path fill="#3881f5" shape-rendering="crispEdges" d="M644.4 567.7h6.6v6.6h-6.6z"/>
<path fill="#6af0fa" shape-rendering="crispEdges" d="M644.4 574.0h6.6v6.6h-6.6z"/>
<path fill="#77f470" shape-rendering="crispEdges" d="M644.4 580.3h6.6v6.6h-6.6z"/>
<path fill="#aef651" shape-rendering="crispEdges" d="M644.4 586.6h6.6v6.6h-6.6z"/>
<path fill="#caf954" shape-rendering="crispEdges" d="M644.4 592.9h6.6v6.6h-6.6z"/>
<path fill="#8ff550" shape-rendering="crispEdges" d="M644.4 599.2h6.6v6.6h-6.6z"/>
<path fill="#74f553" shape-rendering="crispEdges" d="M644.4 605.5h6.6v6.6h-6.6z"/>
<path fill="#75f558" shape-rendering="crispEdges" d="M644.4 611.8h6.6v6.6h-6.6z"/>
<path fill="#77f55e" shape-rendering="crispEdges" d="M644.4 618.1h6.6v6.6h-6.6zM663.3 630.7h6.6v6.6h-6.6z"/>
<path fill="#6ff0b9" shape-rendering="crispEdges" d="M644.4 630.7h6.6v6.6h-6.6z"/>
<path fill="#6ef7e6" shape-rendering="crispEdges" d="M644.4 637.0h6.6v6.6h-6.6z"/>
<path fill="#59c5fa" shape-rendering="crispEdges" d="M644.4 643.3h6.6v6.6h-6.6z"/>
<path fill="#3e8ff5" shape-rendering="crispEdges" d="M644.4 649.6h6.6v6.6h-6.6z"/>
<path fill="#2a5df5" shape-rendering="crispEdges" d="M644.4 655.9h6.6v6.6h-6.6zM663.3 574.0h6.6v6.6h-6.6z"/>
<path fill="#2108f2" shape-rendering="crispEdges" d="M650.7 536.2h6.6v6.6h-6.6zM694.8 655.9h6.6v6.6h-6.6z"/>
<path fill="#1517ed" shape-rendering="crispEdges" d="M650.7 555.1h6.6v6.6h-6.6zM694.8 580.3h6.6v6.6h-6.6z"/>
<path fill="#2e68f5" shape-rendering="crispEdges" d="M650.7 567.7h6.6v6.6h-6.6z"/>
<path fill="#6ef8f1" shape-rendering="crispEdges" d="M650.7 580.3h6.6v6.6h-6.6z"/>
<path fill="#70f1ad" shape-rendering="crispEdges" d="M650.7 586.6h6.6v6.6h-6.6z"/>
<path fill="#76f476" shape-rendering="crispEdges" d="M650.7 592.9h6.6v6.6h-6.6z"/>
<path fill="#78f563" shape-rendering="crispEdges" d="M650.7 599.2h6.6v6.6h-6.6zM663.3 618.1h6.6v6.6h-6.6zM669.6 637.0h6.6v6.6h-6.6z"/>
<path fill="#75f559" shape-rendering="crispEdges" d="M650.7 611.8h6.6v6.6h-6.6zM650.7 618.1h6.6v6.6h-6.6z"/>
<path fill="#77f560" shape-rendering="crispEdges" d="M650.7 624.4h6.6v6.6h-6.6zM657.0 611.8h6.6v6.6h-6.6z"/>
<path fill="#74f384" shape-rendering="crispEdges" d="M650.7 630.7h6.6v6.6h-6.6z"/>
<path fill="#6ef0c1" shape-rendering="crispEdges" d="M650.7 637.0h6.6v6.6h-6.6z"/>
<path fill="#6ef8ee" shape-rendering="crispEdges" d="M650.7 643.3h6.6v6.6h-6.6zM688.5 637.0h6.6v6.6h-6.6z"/>
<path fill="#52b9f9" shape-rendering="crispEdges" d="M650.7 649.6h6.6v6.6h-6.6z"/>
<path fill="#244bf5" shape-rendering="crispEdges" d="M650.7 662.2h6.6v6.6h-6.6zM694.8 605.5h6.6v6.6h-6.6z"/>
<path fill="#1518ed" shape-rendering="crispEdges" d="M650.7 668.5h6.6v6.6h-6.6z"/>
<path fill="#1310ec" shape-rendering="crispEdges" d="M657.0 555.1h6.6v6.6h-6.6zM707.4 605.5h6.6v6.6h-6.6z"/>
<path fill="#3478f5" shape-rendering="crispEdges" d="M657.0 574.0h6.6v6.6h-6.6z"/>
<path fill="#67e9fa" shape-rendering="crispEdges" d="M657.0 586.6h6.6v6.6h-6.6z"/>
<path fill="#6ef5dc" shape-rendering="crispEdges" d="M657.0 592.9h6.6v6.6h-6.6zM682.2 624.4h6.6v6.6h-6.6z"/>
<path fill="#75f381" shape-rendering="crispEdges" d="M657.0 605.5h6.6v6.6h-6.6z"/>
<path fill="#76f55b" shape-rendering="crispEdges" d="M657.0 618.1h6.6v6.6h-6.6zM657.0 624.4h6.6v6.6h-6.6z"/>
<path fill="#78f562" shape-rendering="crispEdges" d="M657.0 630.7h6.6v6.6h-6.6z"/>
<path fill="#73f38f" shape-rendering="crispEdges" d="M657.0 637.0h6.6v6.6h-6.6zM675.9 643.3h6.6v6.6h-6.6z"/>
<path fill="#6ef2ca" shape-rendering="crispEdges" d="M657.0 643.3h6.6v6.6h-6.6z"/>
<path fill="#6efaf7" shape-rendering="crispEdges" d="M657.0 649.6h6.6v6.6h-6.6z"/>
<path fill="#4aa7f7" shape-rendering="crispEdges" d="M657.0 655.9h6.6v6.6h-6.6z"/>
<path fill="#2d64f5" shape-rendering="crispEdges" d="M657.0 662.2h6.6v6.6h-6.6zM669.6 580.3h6.6v6.6h-6.6z"/>
<path fill="#1928f1" shape-rendering="crispEdges" d="M657.0 668.5h6.6v6.6h-6.6z"/>
<path fill="#1824f0" shape-rendering="crispEdges" d="M663.3 561.4h6.6v6.6h-6.6zM675.9 567.7h6.6v6.6h-6.6zM694.8 586.6h6.6v6.6h-6.6z"/>
<path fill="#2041f5" shape-rendering="crispEdges" d="M663.3 567.7h6.6v6.6h-6.6z"/>
<path fill="#6ef0be" shape-rendering="crispEdges" d="M663.3 605.5h6.6v6.6h-6.6zM682.2 630.7h6.6v6.6h-6.6z"/>
<path fill="#74f389" shape-rendering="crispEdges" d="M663.3 611.8h6.6v6.6h-6.6z"/>
<path fill="#77f56b" shape-rendering="crispEdges" d="M663.3 637.0h6.6v6.6h-6.6z"/>
<path fill="#72f29e" shape-rendering="crispEdges" d="M663.3 643.3h6.6v6.6h-6.6z"/>
<path fill="#6ef4d6" shape-rendering="crispEdges" d="M663.3 649.6h6.6v6.6h-6.6z"/>
<path fill="#5bcbfa" shape-rendering="crispEdges" d="M663.3 655.9h6.6v6.6h-6.6z"/>
<path fill="#1c35f3" shape-rendering="crispEdges" d="M663.3 668.5h6.6v6.6h-6.6z"/>
<path fill="#0f00e8" shape-rendering="crispEdges" d="M669.6 555.1h6.6v6.6h-6.6z"/>
<path fill="#1519ed" shape-rendering="crispEdges" d="M669.6 561.4h6.6v6.6h-6.6zM688.5 574.0h6.6v6.6h-6.6z"/>
<path fill="#1c32f3" shape-rendering="crispEdges" d="M669.6 567.7h6.6v6.6h-6.6z"/>
<path fill="#3882f5" shape-rendering="crispEdges" d="M669.6 586.6h6.6v6.6h-6.6z"/>
<path fill="#49a5f7" shape-rendering="crispEdges" d="M669.6 592.9h6.6v6.6h-6.6z"/>
<path fill="#5fd4fa" shape-rendering="crispEdges" d="M669.6 599.2h6.6v6.6h-6.6zM688.5 624.4h6.6v6.6h-6.6z"/>
<path fill="#6ef1c5" shape-rendering="crispEdges" d="M669.6 611.8h6.6v6.6h-6.6zM669.6 649.6h6.6v6.6h-6.6zM682.2 643.3h6.6v6.6h-6.6z"/>
<path fill="#72f296" shape-rendering="crispEdges" d="M669.6 618.1h6.6v6.6h-6.6z"/>
<path fill="#77f46f" shape-rendering="crispEdges" d="M669.6 624.4h6.6v6.6h-6.6z"/>
<path fill="#77f562" shape-rendering="crispEdges" d="M669.6 630.7h6.6v6.6h-6.6z"/>
<path fill="#75f380" shape-rendering="crispEdges" d="M669.6 643.3h6.6v6.6h-6.6z"/>
<path fill="#66e6fa" shape-rendering="crispEdges" d="M669.6 655.9h6.6v6.6h-6.6z"/>
<path fill="#3984f5" shape-rendering="crispEdges" d="M669.6 662.2h6.6v6.6h-6.6z"/>
<path fill="#1e3bf5" shape-rendering="crispEdges" d="M675.9 574.0h6.6v6.6h-6.6zM688.5 586.6h6.6v6.6h-6.6z"/>
<path fill="#254ff5" shape-rendering="crispEdges" d="M675.9 580.3h6.6v6.6h-6.6z"/>
<path fill="#2d65f5" shape-rendering="crispEdges" d="M675.9 586.6h6.6v6.6h-6.6z"/>
<path fill="#3880f5" shape-rendering="crispEdges" d="M675.9 592.9h6.6v6.6h-6.6z"/>
<path fill="#59c7fa" shape-rendering="crispEdges" d="M675.9 605.5h6.6v6.6h-6.6z"/>
<path fill="#6ef8f0" shape-rendering="crispEdges" d="M675.9 611.8h6.6v6.6h-6.6z"/>
<path fill="#6ef3cf" shape-rendering="crispEdges" d="M675.9 618.1h6.6v6.6h-6.6z"/>
<path fill="#70f1a8" shape-rendering="crispEdges" d="M675.9 624.4h6.6v6.6h-6.6z"/>
<path fill="#77f471" shape-rendering="crispEdges" d="M675.9 637.0h6.6v6.6h-6.6z"/>
<path fill="#6ef3cd" shape-rendering="crispEdges" d="M675.9 649.6h6.6v6.6h-6.6z"/>
<path fill="#5fd5fa" shape-rendering="crispEdges" d="M675.9 655.9h6.6v6.6h-6.6z"/>
<path fill="#367bf5" shape-rendering="crispEdges" d="M675.9 662.2h6.6v6.6h-6.6z"/>
<path fill="#290af4" shape-rendering="crispEdges" d="M675.9 668.5h6.6v6.6h-6.6z"/>
<path fill="#0f01e8" shape-rendering="crispEdges" d="M682.2 561.4h6.6v6.6h-6.6z"/>
<path fill="#1415ed" shape-rendering="crispEdges" d="M682.2 567.7h6.6v6.6h-6.6z"/>
<path fill="#192af1" shape-rendering="crispEdges" d="M682.2 574.0h6.6v6.6h-6.6zM688.5 580.3h6.6v6.6h-6.6z"/>
<path fill="#3579f5" shape-rendering="crispEdges" d="M682.2 599.2h6.6v6.6h-6.6z"/>
<path fill="#4196f6" shape-rendering="crispEdges" d="M682.2 605.5h6.6v6.6h-6.6z"/>
<path fill="#53b9f9" shape-rendering="crispEdges" d="M682.2 611.8h6.6v6.6h-6.6z"/>
<path fill="#6df7fa" shape-rendering="crispEdges" d="M682.2 618.1h6.6v6.6h-6.6z"/>
<path fill="#70f1af" shape-rendering="crispEdges" d="M682.2 637.0h6.6v6.6h-6.6z"/>
<path fill="#6ef8ed" shape-rendering="crispEdges" d="M682.2 649.6h6.6v6.6h-6.6z"/>
<path fill="#4dadf8" shape-rendering="crispEdges" d="M682.2 655.9h6.6v6.6h-6.6z"/>
<path fill="#5b1cfc" shape-rendering="crispEdges" d="M682.2 668.5h6.6v6.6h-6.6z"/>
<path fill="#1107e9" shape-rendering="crispEdges" d="M688.5 567.7h6.6v6.6h-6.6z"/>
<path fill="#2958f5" shape-rendering="crispEdges" d="M688.5 599.2h6.6v6.6h-6.6zM701.1 637.0h6.6v6.6h-6.6z"/>
<path fill="#306df5" shape-rendering="crispEdges" d="M688.5 605.5h6.6v6.6h-6.6z"/>
<path fill="#3a88f5" shape-rendering="crispEdges" d="M688.5 611.8h6.6v6.6h-6.6z"/>
<path fill="#4aa8f7" shape-rendering="crispEdges" d="M688.5 618.1h6.6v6.6h-6.6z"/>
<path fill="#6ef9f4" shape-rendering="crispEdges" d="M688.5 630.7h6.6v6.6h-6.6z"/>
<path fill="#6cf6fa" shape-rendering="crispEdges" d="M688.5 643.3h6.6v6.6h-6.6z"/>
<path fill="#51b6f8" shape-rendering="crispEdges" d="M688.5 649.6h6.6v6.6h-6.6z"/>
<path fill="#5319fb" shape-rendering="crispEdges" d="M688.5 662.2h6.6v6.6h-6.6z"/>
<path fill="#1108ea" shape-rendering="crispEdges" d="M694.8 574.0h6.6v6.6h-6.6z"/>
<path fill="#1b32f3" shape-rendering="crispEdges" d="M694.8 592.9h6.6v6.6h-6.6z"/>
<path fill="#2a5cf5" shape-rendering="crispEdges" d="M694.8 611.8h6.6v6.6h-6.6z"/>
<path fill="#3374f5" shape-rendering="crispEdges" d="M694.8 618.1h6.6v6.6h-6.6z"/>
<path fill="#3f93f6" shape-rendering="crispEdges" d="M694.8 643.3h6.6v6.6h-6.6z"/>
<path fill="#5d1cfc" shape-rendering="crispEdges" d="M694.8 662.2h6.6v6.6h-6.6z"/>
<path fill="#1004e9" shape-rendering="crispEdges" d="M701.1 580.3h6.6v6.6h-6.6z"/>
<path fill="#130feb" shape-rendering="crispEdges" d="M701.1 586.6h6.6v6.6h-6.6z"/>
<path fill="#151aee" shape-rendering="crispEdges" d="M701.1 592.9h6.6v6.6h-6.6z"/>
<path fill="#295af5" shape-rendering="crispEdges" d="M701.1 630.7h6.6v6.6h-6.6z"/>
<path fill="#561afb" shape-rendering="crispEdges" d="M701.1 649.6h6.6v6.6h-6.6z"/>
<path fill="#5e1dfc" shape-rendering="crispEdges" d="M701.1 655.9h6.6v6.6h-6.6z"/>
<path fill="#1003e9" shape-rendering="crispEdges" d="M707.4 592.9h6.6v6.6h-6.6z"/>
<path fill="#2e0cf5" shape-rendering="crispEdges" d="M707.4 630.7h6.6v6.6h-6.6z"/>
<path fill="#5d1dfc" shape-rendering="crispEdges" d="M707.4 643.3h6.6v6.6h-6.6z"/>
<path fill="#1503ec" shape-rendering="crispEdges" d="M713.7 586.6h6.6v6.6h-6.6z"/>
<path fill="#641ffd" shape-rendering="crispEdges" d="M713.7 637.0h6.6v6.6h-6.6z"/>
<ellipse cx="180.3" cy="144" rx="96" ry="97.7" fill="none" stroke="#e8281e" stroke-width="1.5"/>
<line x1="180.3" y1="35.7" x2="180.3" y2="46.3" stroke="#e8281e" stroke-width="1.4"/>
<rect x="115" y="13.7" width="129.8" height="22.4" fill="#fff"/>
<rect x="117" y="15.7" width="126.4" height="19" fill="none" stroke="#e03a30" stroke-width="1.2"/>
<text x="179.9" y="29.3" font-size="13.2" fill="#e0443a" text-anchor="middle" textLength="120.8" lengthAdjust="spacingAndGlyphs">ROI 29=4.471e+06</text>
<ellipse cx="640.8" cy="135.3" rx="96" ry="97.7" fill="none" stroke="#e8281e" stroke-width="1.5"/>
<line x1="640.8" y1="26.5" x2="640.8" y2="37.6" stroke="#e8281e" stroke-width="1.4"/>
<rect x="575" y="4.5" width="129.6" height="22.4" fill="#fff"/>
<rect x="577" y="6.5" width="126.19999999999999" height="19" fill="none" stroke="#e03a30" stroke-width="1.2"/>
<text x="639.8" y="20.1" font-size="13.2" fill="#e0443a" text-anchor="middle" textLength="120.6" lengthAdjust="spacingAndGlyphs">ROI 32=5.791e+06</text>
<ellipse cx="189.8" cy="604.4" rx="95.6" ry="97.3" fill="none" stroke="#e8281e" stroke-width="1.5"/>
<line x1="189.8" y1="495.7" x2="189.8" y2="507.1" stroke="#e8281e" stroke-width="1.4"/>
<rect x="125.5" y="473.7" width="129.1" height="22.4" fill="#fff"/>
<rect x="127.5" y="475.7" width="125.69999999999999" height="19" fill="none" stroke="#e03a30" stroke-width="1.2"/>
<text x="190.1" y="489.3" font-size="13.2" fill="#e0443a" text-anchor="middle" textLength="120.1" lengthAdjust="spacingAndGlyphs">ROI 31=1.178e+07</text>
<ellipse cx="646.5" cy="595" rx="95.6" ry="97.3" fill="none" stroke="#e8281e" stroke-width="1.5"/>
<line x1="646.5" y1="487" x2="646.5" y2="497.7" stroke="#e8281e" stroke-width="1.4"/>
<rect x="581.2" y="465" width="129.1" height="22.4" fill="#fff"/>
<rect x="583.2" y="467" width="125.69999999999999" height="19" fill="none" stroke="#e03a30" stroke-width="1.2"/>
<text x="645.8" y="480.6" font-size="13.2" fill="#e0443a" text-anchor="middle" textLength="120.1" lengthAdjust="spacingAndGlyphs">ROI 30=1.604e+07</text>
<path d="M287.7 134.6L343.3 88.5L343.3 110.5L481.6 110.5L481.6 88.5L538 134.6L481.6 181.3L481.6 158.5L343.3 158.5L343.3 181.3Z" fill="#ffffff" stroke="#5b85c2" stroke-width="1.6" stroke-linejoin="miter"/>
<text x="413" y="145.4" font-size="29" font-weight="bold" fill="#000" text-anchor="middle">IMT</text>
<path d="M296.9 594.1L352.5 547.7L352.5 570.5L491.6 570.5L491.6 547.7L546.4 594.1L491.6 640.4L491.6 617.7L352.5 617.7L352.5 640.4Z" fill="#ffffff" stroke="#5b85c2" stroke-width="1.6" stroke-linejoin="miter"/>
<text x="421.5" y="605" font-size="29" font-weight="bold" fill="#000" text-anchor="middle">SHAM</text>
</g>
<rect x="57.5" y="2.5" width="713" height="706" fill="none" stroke="#222" stroke-width="1"/>
<defs><linearGradient id="cb" x1="0" y1="0" x2="1" y2="0">
<stop offset="0.0" stop-color="#7d28ff"/>
<stop offset="0.05" stop-color="#4614fa"/>
<stop offset="0.09" stop-color="#1905f0"/>
<stop offset="0.12" stop-color="#0f00e8"/>
<stop offset="0.16" stop-color="#1e3cf5"/>
<stop offset="0.23" stop-color="#3c8cf5"/>
<stop offset="0.29" stop-color="#5ac8fa"/>
<stop offset="0.32" stop-color="#6efafa"/>
<stop offset="0.41" stop-color="#6ef0be"/>
<stop offset="0.5" stop-color="#78f564"/>
<stop offset="0.58" stop-color="#73f550"/>
<stop offset="0.67" stop-color="#aaf550"/>
<stop offset="0.78" stop-color="#ffff5a"/>
<stop offset="0.89" stop-color="#f08c3c"/>
<stop offset="1.0" stop-color="#e12d23"/>
</linearGradient></defs>
<rect x="237.5" y="744.5" width="543" height="14" fill="url(#cb)" stroke="#2a2a2a" stroke-width="1.2"/>
<path d="M242.3 758.5v6M280.2 758.5v6M318.1 758.5v6M356.0 758.5v6M393.9 758.5v10M431.8 758.5v6M469.7 758.5v6M507.6 758.5v6M545.5 758.5v6M583.4 758.5v10M621.3 758.5v6M659.2 758.5v6M697.1 758.5v6M735.0 758.5v6M772.9 758.5v10" stroke="#666" stroke-width="1.6"/>
<text x="32" y="757" font-size="30" fill="#000">Luminescence</text>
<text x="52.5" y="792.5" font-size="30" fill="#000">(photons/s)</text>
<text x="388.5" y="789.4" font-size="28" fill="#000" text-anchor="middle">0.5e6</text>
<text x="574" y="788.9" font-size="28" fill="#000" text-anchor="middle">1.0e6</text>
<text x="767.5" y="794" font-size="28" fill="#000" text-anchor="middle">1.5e6</text>
<text x="1.2" y="34.2" font-size="34" fill="#000" stroke="#000" stroke-width="0.5" textLength="34.4" lengthAdjust="spacingAndGlyphs">(a)</text>
<text x="814" y="34.2" font-size="34" fill="#000" stroke="#000" stroke-width="0.5" textLength="35.4" lengthAdjust="spacingAndGlyphs">(b)</text>
<path d="M1106.4 55V673.6M1280.2 55V673.6M1454.1 55V673.6M1628.0 55V673.6M932.5 75.0H1716.5M932.5 337.3H1716.5M932.5 599.6H1716.5" stroke="#e6e6e6" stroke-width="1.5" fill="none"/>
<path d="M941.6 258.3H1713.5M941.6 212.2H1713.5M941.6 179.4H1713.5M941.6 154.0H1713.5M941.6 133.2H1713.5M941.6 115.6H1713.5M941.6 100.4H1713.5M941.6 87.0H1713.5M941.6 520.6H1713.5M941.6 474.5H1713.5M941.6 441.7H1713.5M941.6 416.3H1713.5M941.6 395.5H1713.5M941.6 377.9H1713.5M941.6 362.7H1713.5M941.6 349.3H1713.5M941.6 657.8H1713.5M941.6 640.2H1713.5M941.6 625.0H1713.5M941.6 611.6H1713.5" stroke="#c4c4c4" stroke-width="1.25" stroke-dasharray="2 5.23" fill="none"/>
<path d="M932.5 55H1716.5V673.6" stroke="#8a8a8a" stroke-width="1.3" fill="none"/>
<path d="M932.5 55V673.6H1716.5" stroke="#262626" stroke-width="1.3" fill="none"/>
<path d="M932.5 258.3h4M1716.5 258.3h-8M932.5 212.2h4M1716.5 212.2h-8M932.5 179.4h4M1716.5 179.4h-8M932.5 154.0h4M1716.5 154.0h-8M932.5 133.2h4M1716.5 133.2h-8M932.5 115.6h4M1716.5 115.6h-8M932.5 100.4h4M1716.5 100.4h-8M932.5 87.0h4M1716.5 87.0h-8M932.5 520.6h4M1716.5 520.6h-8M932.5 474.5h4M1716.5 474.5h-8M932.5 441.7h4M1716.5 441.7h-8M932.5 416.3h4M1716.5 416.3h-8M932.5 395.5h4M1716.5 395.5h-8M932.5 377.9h4M1716.5 377.9h-8M932.5 362.7h4M1716.5 362.7h-8M932.5 349.3h4M1716.5 349.3h-8M932.5 657.8h4M1716.5 657.8h-8M932.5 640.2h4M1716.5 640.2h-8M932.5 625.0h4M1716.5 625.0h-8M932.5 611.6h4M1716.5 611.6h-8M932.5 75.0h7M1716.5 75.0h-7M932.5 337.3h7M1716.5 337.3h-7M932.5 599.6h7M1716.5 599.6h-7M932.5 673.6v-8M932.5 55v8M1106.4 673.6v-8M1106.4 55v8M1280.2 673.6v-8M1280.2 55v8M1454.1 673.6v-8M1454.1 55v8M1628.0 673.6v-8M1628.0 55v8" stroke="#262626" stroke-width="1.2" fill="none"/>
<text x="911.3" y="87.7" font-size="31" text-anchor="end" textLength="13.5" lengthAdjust="spacingAndGlyphs">1</text>
<text x="919.6" y="350.8" font-size="31" text-anchor="end" textLength="39" lengthAdjust="spacingAndGlyphs">0.1</text>
<text x="919.9" y="612.9" font-size="31" text-anchor="end" textLength="55.5" lengthAdjust="spacingAndGlyphs">0.01</text>
<text x="930.7" y="712.5" font-size="31" text-anchor="middle">0</text>
<text x="1104.6" y="712.5" font-size="31" text-anchor="middle">0.5</text>
<text x="1278.5" y="712.5" font-size="31" text-anchor="middle">1.0</text>
<text x="1452.3" y="712.5" font-size="31" text-anchor="middle">1.5</text>
<text x="1626.2" y="712.5" font-size="31" text-anchor="middle">2.0</text>
<text x="1304.5" y="765.5" font-size="30" text-anchor="middle">Electric Field (V/cm)</text>
<text transform="translate(846 364.5) rotate(-90)" font-size="30" text-anchor="middle">Cell Survival Fraction</text>
<path d="M932.5 74.8 L939.2 75.3 L946.1 76.2 L952.9 77.1 L959.7 77.9 L966.5 78.8 L973.3 79.7 L980.1 80.5 L986.9 81.4 L993.7 82.2 L1000.5 83.1 L1007.3 84.0 L1014.0 84.8 L1020.8 85.7 L1027.6 86.6 L1034.3 87.5 L1041.1 88.4 L1047.8 89.3 L1054.6 90.2 L1061.3 91.1 L1068.1 92.0 L1074.8 92.9 L1081.5 93.9 L1088.3 94.8 L1095.0 95.8 L1101.7 96.8 L1108.4 97.8 L1115.1 98.8 L1121.8 99.9 L1128.5 100.9 L1135.2 102.0 L1141.9 103.1 L1148.6 104.2 L1155.2 105.4 L1161.9 106.5 L1168.6 107.7 L1175.2 108.9 L1181.9 110.2 L1188.5 111.5 L1195.2 112.7 L1201.8 114.1 L1208.4 115.4 L1215.1 116.8 L1221.7 118.2 L1228.3 119.7 L1234.9 121.1 L1241.5 122.6 L1248.1 124.2 L1254.7 125.8 L1261.3 127.4 L1267.9 129.0 L1274.4 130.7 L1281.0 132.5 L1287.6 134.2 L1294.1 136.1 L1300.7 137.9 L1307.2 139.8 L1313.8 141.8 L1320.3 143.7 L1326.8 145.8 L1333.3 147.9 L1339.9 150.0 L1346.4 152.2 L1352.9 154.4 L1359.4 156.7 L1365.9 159.0 L1372.3 161.4 L1378.8 163.8 L1385.3 166.3 L1391.7 168.8 L1398.1 171.4 L1404.5 174.1 L1410.9 176.9 L1417.3 179.7 L1423.6 182.5 L1429.9 185.5 L1436.1 188.5 L1442.3 191.5 L1448.5 194.7 L1454.6 197.9 L1460.7 201.3 L1466.8 204.6 L1472.8 208.1 L1478.7 211.7 L1484.6 215.3 L1490.4 219.1 L1496.1 222.9 L1501.7 226.8 L1507.2 230.8 L1512.7 234.9 L1518.0 239.1 L1523.3 243.4 L1528.4 247.8 L1533.4 252.3 L1538.2 256.9 L1543.0 261.6 L1547.6 266.4 L1552.0 271.3 L1556.3 276.3 L1560.4 281.5 L1564.4 286.7 L1568.3 292.1 L1572.0 297.5 L1575.6 303.0 L1579.1 308.7 L1582.4 314.4 L1585.6 320.2 L1588.6 326.1 L1591.6 332.0 L1594.4 338.1 L1597.1 344.2 L1599.7 350.3 L1602.2 356.6 L1604.5 362.9 L1606.8 369.3 L1608.9 375.7 L1611.0 382.2 L1612.9 388.7 L1614.8 395.2 L1616.5 401.9 L1618.2 408.5 L1619.8 415.2 L1621.3 421.9 L1622.7 428.7 L1624.0 435.4 L1625.3 442.2 L1626.5 449.1 L1627.6 455.9 L1628.6 462.8 L1629.6 469.6 L1630.5 476.5 L1631.4 483.4 L1632.2 490.3 L1632.9 497.2 L1633.6 504.1 L1634.2 511.0 L1634.8 517.9 L1635.4 524.8 L1635.9 531.7 L1636.3 538.6 L1636.8 545.5 L1637.2 552.4 L1637.5 559.3 L1637.9 566.2 L1638.2 573.0 L1638.4 579.9 L1638.7 586.7 L1639.0 593.5 L1639.2 600.3 L1639.4 607.0 L1639.6 613.8 L1639.8 620.5 L1640.1 627.1 L1640.3 633.8 L1640.5 640.4 L1640.7 647.0 L1640.9 653.6 L1641.1 660.1 L1641.4 666.6 L1641.6 673.0" stroke="#000" stroke-width="2" fill="none" stroke-linejoin="round"/>
<circle cx="932.4" cy="74.7" r="5.2" stroke="#0000ff" stroke-width="2.6" fill="none"/>
<path d="M925.8 72.3H939M925.8 77.1H939" stroke="#0000ff" stroke-width="1.6"/>
<path d="M1280 127V147.9M1273.4 127H1286.6M1273.4 147.9H1286.6" stroke="#1010ee" stroke-width="2" fill="none"/>
<circle cx="1280" cy="136.7" r="5.3" stroke="#1010ee" stroke-width="2" fill="none"/>
<path d="M1454.6 180.2V199.4M1448.0 180.2H1461.1999999999998M1448.0 199.4H1461.1999999999998" stroke="#1010ee" stroke-width="2" fill="none"/>
<circle cx="1454.6" cy="189.8" r="5.3" stroke="#1010ee" stroke-width="2" fill="none"/>
<path d="M1629 486.8V553.8M1622.4 486.8H1635.6M1622.4 553.8H1635.6" stroke="#1010ee" stroke-width="2" fill="none"/>
<circle cx="1629" cy="516" r="5.3" stroke="#1010ee" stroke-width="2" fill="none"/>
<rect x="1508.8" y="68.8" width="196" height="79" fill="#fff" stroke="#000" stroke-width="1.5"/>
<path d="M1514.7 90H1569" stroke="#000" stroke-width="2"/>
<path d="M1541.8 112.2V139.3M1535.4 112.2H1548.2M1535.4 139.3H1548.2" stroke="#1010ee" stroke-width="2" fill="none"/>
<ellipse cx="1541.8" cy="125.2" rx="5.6" ry="5.8" stroke="#1010ee" stroke-width="2" fill="none"/>
<text x="1573.2" y="98" font-size="25">LQ Fit</text>
<text x="1572.6" y="132.9" font-size="25" textLength="121" lengthAdjust="spacingAndGlyphs">mean ± SE</text>
</svg></body></html>
